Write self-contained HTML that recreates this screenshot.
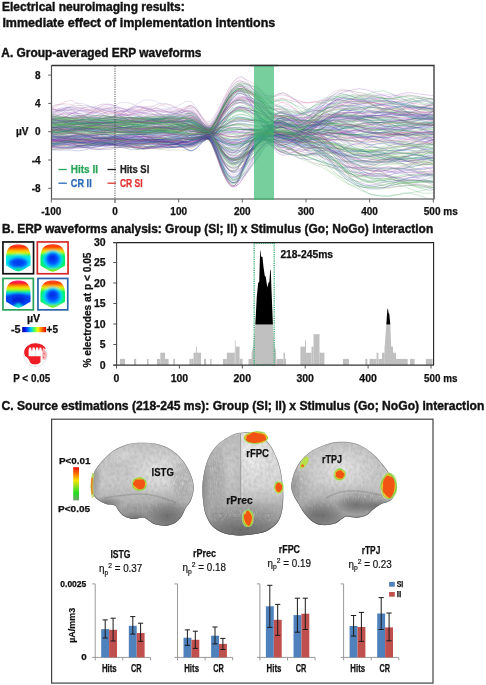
<!DOCTYPE html>
<html><head><meta charset="utf-8"><style>
html,body{margin:0;padding:0;background:#fff;}
svg{display:block;font-family:'Liberation Sans', Arial, sans-serif;filter:blur(0.3px);}
</style></head><body>
<svg width="486" height="685" viewBox="0 0 486 685">
<defs><filter id="tblur" x="-0.2" y="-0.2" width="1.4" height="1.4"><feGaussianBlur stdDeviation="1.1"/></filter><clipPath id="hc0"><path d="M6.1,265.6 C5.8,259.3 6.1,254.3 6.7,252.3 C8.1,246.3 13.3,244.3 18.3,244.3 C23.3,244.3 28.5,246.3 29.9,252.3 C30.5,254.3 30.8,259.3 30.5,265.6 C25.3,268.6 20.3,271.6 18.3,271.6 C16.3,271.6 11.3,268.6 6.1,265.6 Z"/></clipPath><clipPath id="hc1"><path d="M40.6,265.8 C40.3,259.1 40.6,254.1 41.2,252.1 C42.6,246.1 47.8,244.1 52.8,244.1 C57.8,244.1 63.0,246.1 64.4,252.1 C65.0,254.1 65.3,259.1 65.0,265.8 C59.8,268.8 54.8,271.8 52.8,271.8 C50.8,271.8 45.8,268.8 40.6,265.8 Z"/></clipPath><clipPath id="hc2"><path d="M6.1,301.8 C5.8,295.3 6.1,290.3 6.7,288.3 C8.1,282.3 13.3,280.3 18.3,280.3 C23.3,280.3 28.5,282.3 29.9,288.3 C30.5,290.3 30.8,295.3 30.5,301.8 C25.3,304.8 20.3,307.8 18.3,307.8 C16.3,307.8 11.3,304.8 6.1,301.8 Z"/></clipPath><clipPath id="hc3"><path d="M40.6,301.8 C40.3,295.3 40.6,290.3 41.2,288.3 C42.6,282.3 47.8,280.3 52.8,280.3 C57.8,280.3 63.0,282.3 64.4,288.3 C65.0,290.3 65.3,295.3 65.0,301.8 C59.8,304.8 54.8,307.8 52.8,307.8 C50.8,307.8 45.8,304.8 40.6,301.8 Z"/></clipPath><linearGradient id="cbar" x1="0" y1="0" x2="1" y2="0"><stop offset="0" stop-color="#00008a"/><stop offset="0.15" stop-color="#0020ff"/><stop offset="0.35" stop-color="#00c0ff"/><stop offset="0.5" stop-color="#40ff60"/><stop offset="0.65" stop-color="#f0ff00"/><stop offset="0.8" stop-color="#ff8000"/><stop offset="1" stop-color="#e00000"/></linearGradient><linearGradient id="bgL" x1="0" y1="0" x2="0" y2="1"><stop offset="0" stop-color="#c6c6c6"/><stop offset="0.5" stop-color="#cbcbcb"/><stop offset="0.72" stop-color="#b2b2b2"/><stop offset="1" stop-color="#8e8e8e"/></linearGradient><linearGradient id="bgM" x1="0" y1="0" x2="0" y2="1"><stop offset="0" stop-color="#c2c2c2"/><stop offset="0.6" stop-color="#bababa"/><stop offset="0.8" stop-color="#a6a6a6"/><stop offset="1" stop-color="#8c8c8c"/></linearGradient><linearGradient id="edgeG" x1="0" y1="0" x2="0" y2="1"><stop offset="0" stop-color="#9a9a9a"/><stop offset="0.6" stop-color="#808080"/><stop offset="1" stop-color="#505050"/></linearGradient><radialGradient id="bhi" cx="0.5" cy="0.5" r="0.5"><stop offset="0" stop-color="#fff" stop-opacity="0.55"/><stop offset="1" stop-color="#fff" stop-opacity="0"/></radialGradient><radialGradient id="bdk" cx="0.5" cy="0.5" r="0.5"><stop offset="0" stop-color="#404040" stop-opacity="0.6"/><stop offset="1" stop-color="#404040" stop-opacity="0"/></radialGradient><filter id="btex" x="0" y="0" width="1" height="1"><feTurbulence type="fractalNoise" baseFrequency="0.35 0.25" numOctaves="2" seed="3" result="n"/><feColorMatrix in="n" type="matrix" values="0 0 0 0 0.25  0 0 0 0 0.25  0 0 0 0 0.25  0 0 0 -1.6 1.05" result="a"/><feComposite in="a" in2="SourceGraphic" operator="in"/></filter><clipPath id="clipL"><path d="M90.9,487.5 C90.8,484.4 91.5,479.5 92.6,476.0 C93.7,472.5 95.5,469.4 97.5,466.5 C99.5,463.6 101.8,461.2 104.5,458.5 C107.2,455.8 109.5,452.9 113.5,450.5 C117.5,448.1 123.5,445.4 128.2,444.1 C132.9,442.8 137.1,442.8 141.5,442.7 C145.9,442.6 150.4,442.6 154.9,443.5 C159.4,444.4 164.3,446.0 168.3,448.1 C172.3,450.2 175.9,453.0 179.0,456.1 C182.1,459.2 184.8,463.0 187.0,466.8 C189.2,470.6 191.3,475.1 192.4,478.9 C193.5,482.7 193.9,486.0 193.7,489.6 C193.5,493.2 192.3,497.2 191.0,500.3 C189.7,503.4 187.2,505.6 185.7,508.3 C184.1,511.0 183.5,513.8 181.7,516.3 C179.9,518.8 177.7,521.4 175.0,523.0 C172.3,524.6 168.9,525.5 165.6,525.7 C162.2,525.9 157.8,525.2 154.9,524.3 C152.0,523.4 150.2,521.4 148.2,520.3 C146.2,519.2 145.3,517.8 142.9,517.6 C140.5,517.4 136.6,519.2 133.5,519.0 C130.4,518.8 126.5,517.6 124.1,516.3 C121.6,515.0 120.3,512.8 118.8,511.0 C117.2,509.2 116.8,506.7 114.8,505.6 C112.8,504.5 109.5,505.2 106.8,504.3 C104.1,503.4 100.9,501.9 98.7,500.3 C96.5,498.7 94.7,497.0 93.4,494.9 C92.1,492.8 91.0,490.6 90.9,487.5 Z"/></clipPath><clipPath id="clipM"><path d="M243.2,432.4 C245.7,432.2 248.3,431.8 251.1,432.4 C253.9,433.0 257.2,433.9 260.2,435.8 C263.2,437.7 266.6,440.4 269.2,443.8 C271.8,447.2 274.1,451.9 276.0,456.2 C277.9,460.5 279.4,464.9 280.5,469.8 C281.6,474.7 282.3,480.7 282.8,485.6 C283.3,490.5 283.5,494.7 283.3,499.2 C283.1,503.7 282.7,508.8 281.7,512.8 C280.7,516.8 279.6,520.0 277.1,523.0 C274.7,526.0 270.9,529.0 267.0,530.9 C263.1,532.8 258.1,533.5 253.4,534.3 C248.7,535.0 243.6,535.6 238.7,535.4 C233.8,535.2 228.3,534.7 224.0,533.2 C219.7,531.7 215.6,529.4 212.6,526.4 C209.6,523.4 207.4,519.1 205.8,515.0 C204.2,510.9 203.7,506.4 203.1,501.5 C202.5,496.6 202.1,490.9 202.4,485.6 C202.7,480.3 203.6,474.7 204.7,469.8 C205.8,464.9 207.1,460.4 209.2,456.2 C211.3,452.0 214.0,448.1 217.2,444.9 C220.4,441.7 225.4,438.9 228.5,437.0 C231.6,435.1 233.6,434.3 236.0,433.5 C238.4,432.7 240.7,432.6 243.2,432.4 Z"/></clipPath><clipPath id="clipR"><path d="M291.2,486.8 C291.2,483.3 292.2,478.5 293.6,474.4 C295.0,470.3 297.1,465.8 299.8,462.1 C302.5,458.4 306.0,454.9 309.7,452.2 C313.4,449.5 317.9,447.6 322.0,446.0 C326.1,444.4 329.9,442.9 334.4,442.3 C338.9,441.7 344.7,441.7 349.2,442.3 C353.7,442.9 357.4,443.9 361.5,446.0 C365.6,448.1 370.2,451.4 373.9,454.7 C377.6,458.0 380.9,462.1 383.8,465.8 C386.7,469.5 389.4,473.2 391.2,476.9 C393.0,480.6 394.5,484.7 394.9,488.0 C395.3,491.3 394.6,494.4 393.6,496.7 C392.6,499.0 390.8,500.4 388.7,501.6 C386.6,502.8 383.8,502.9 381.3,504.1 C378.8,505.3 376.4,507.1 373.9,509.0 C371.4,510.9 369.4,513.8 366.5,515.2 C363.6,516.7 359.9,517.5 356.6,517.7 C353.3,517.9 349.2,516.2 346.7,516.4 C344.2,516.6 343.9,517.7 341.8,518.9 C339.8,520.1 337.7,522.8 334.4,523.8 C331.1,524.8 325.7,525.5 322.0,525.1 C318.3,524.7 315.1,523.2 312.2,521.4 C309.3,519.5 307.1,516.9 304.8,514.0 C302.5,511.1 300.5,507.2 298.6,504.1 C296.7,501.0 294.8,498.3 293.6,495.4 C292.4,492.5 291.2,490.3 291.2,486.8 Z"/></clipPath><filter id="btex2" x="0" y="0" width="1" height="1"><feTurbulence type="turbulence" baseFrequency="0.5 0.22" numOctaves="2" seed="8" result="n"/><feColorMatrix in="n" type="matrix" values="0 0 0 0 0.2  0 0 0 0 0.2  0 0 0 0 0.2  0 0 0 -2.2 1.25" result="a"/><feComposite in="a" in2="SourceGraphic" operator="in"/></filter><radialGradient id="bdk2" cx="0.5" cy="0.5" r="0.5"><stop offset="0" stop-color="#fff" stop-opacity="1"/><stop offset="0.6" stop-color="#fff" stop-opacity="0.7"/><stop offset="1" stop-color="#fff" stop-opacity="0"/></radialGradient><mask id="mkL" maskUnits="userSpaceOnUse" x="80" y="430" width="130" height="110"><ellipse cx="168" cy="512" rx="24" ry="16" fill="url(#bdk2)"/><ellipse cx="140" cy="512" rx="26" ry="10" fill="url(#bdk2)" opacity="0.7"/><ellipse cx="182" cy="480" rx="14" ry="22" fill="url(#bdk2)" opacity="0.6"/></mask><mask id="mkR" maskUnits="userSpaceOnUse" x="280" y="430" width="130" height="110"><ellipse cx="320" cy="512" rx="24" ry="16" fill="url(#bdk2)"/><ellipse cx="362" cy="502" rx="28" ry="12" fill="url(#bdk2)"/><ellipse cx="300" cy="485" rx="12" ry="22" fill="url(#bdk2)" opacity="0.5"/></mask><mask id="mkM" maskUnits="userSpaceOnUse" x="195" y="425" width="95" height="115"><ellipse cx="242" cy="522" rx="44" ry="20" fill="url(#bdk2)"/><ellipse cx="215" cy="480" rx="14" ry="40" fill="url(#bdk2)" opacity="0.5"/></mask><linearGradient id="mhi" x1="0" y1="0" x2="0" y2="1"><stop offset="0" stop-color="#fff" stop-opacity="0.6"/><stop offset="0.7" stop-color="#fff" stop-opacity="0.45"/><stop offset="1" stop-color="#fff" stop-opacity="0"/></linearGradient><linearGradient id="pbar" x1="0" y1="0" x2="0" y2="1"><stop offset="0" stop-color="#f01010"/><stop offset="0.2" stop-color="#ff7000"/><stop offset="0.4" stop-color="#f4e400"/><stop offset="0.6" stop-color="#80e020"/><stop offset="0.78" stop-color="#20e020"/><stop offset="1" stop-color="#70a070"/></linearGradient></defs>
<rect width="486" height="685" fill="#fff"/>
<text x="2.0" y="10.8" font-size="12.4" font-weight="bold" fill="#111" text-anchor="start" textLength="182.7" lengthAdjust="spacingAndGlyphs" stroke="#111" stroke-width="0.4">Electrical neuroimaging results:</text>
<text x="2.4" y="27.1" font-size="12.4" font-weight="bold" fill="#111" text-anchor="start" textLength="272.9" lengthAdjust="spacingAndGlyphs" stroke="#111" stroke-width="0.4">Immediate effect of implementation intentions</text>
<text x="1.3" y="56.6" font-size="12.4" font-weight="bold" fill="#111" text-anchor="start" textLength="200.2" lengthAdjust="spacingAndGlyphs" stroke="#111" stroke-width="0.4">A. Group-averaged ERP waveforms</text>
<text x="2.0" y="232.8" font-size="12.4" font-weight="bold" fill="#111" text-anchor="start" textLength="431.2" lengthAdjust="spacingAndGlyphs" stroke="#111" stroke-width="0.4">B. ERP waveforms analysis: Group (SI; II) x Stimulus (Go; NoGo) interaction</text>
<text x="1.5" y="410.0" font-size="12.4" font-weight="bold" fill="#111" text-anchor="start" textLength="482.8" lengthAdjust="spacingAndGlyphs" stroke="#111" stroke-width="0.4">C. Source estimations (218-245 ms): Group (SI; II) x Stimulus (Go; NoGo) interaction</text>
<g transform="matrix(0.6366,0,0,-0.7070,115.0,131.7)" fill="none" stroke-width="0.5" stroke-opacity="0.45" vector-effect="non-scaling-stroke"><path vector-effect="non-scaling-stroke" d="M-100 6l4 1 4 1 4 2 4 1 4 1 4 1 4 1 4 0 4 1 4 0 4 1 4 1 4 0 4 1 4 0 4 0 4 0 4 1 4 0 4 0 4 0 4 0 4 0 4 0 4 -1 4 0 4 -1 4 -1 4 -1 4 -1 4 0 4 0 4 0 4 0 4 0 4 0 4 0 4 0 4 1 4 1 4 0 4 1 4 1 4 1 4 0 4 0 4 0 4 -1 4 -1 4 -2 4 -1 4 -2 4 -2 4 -2 4 -1 4 -1 4 -1 4 -1 4 -1 4 -1 4 -1 4 0 4 2 4 3 4 4 4 4 4 5 4 5 4 5 4 5 4 4 4 3 4 3 4 1 4 -1 4 -2 4 -2 4 -3 4 -4 4 -3 4 -4 4 -4 4 -4 4 -3 4 -3 4 -3 4 -1 4 -1 4 -1 4 -1 4 -2 4 -1 4 -2 4 -2 4 -2 4 -2 4 -2 4 -3 4 -2 4 -2 4 -2 4 -2 4 -1 4 -2 4 -2 4 -2 4 -2 4 -3 4 -2 4 -3 4 -3 4 -3 4 -3 4 -4 4 -3 4 -4 4 -3 4 -3 4 -2 4 -2 4 -1 4 -1 4 0 4 -1 4 0 4 0 4 0 4 0 4 0 4 0 4 0 4 1 4 0 4 1 4 1 4 0 4 0 4 -1 4 0 4 -1 4 -1 4 -1 4 -1 4 0 4 0 4 0 4 1 4 0 4 1 4 1" stroke="#1f9a48"/><path vector-effect="non-scaling-stroke" d="M-100 -23l4 0 4 0 4 0 4 0 4 0 4 0 4 1 4 0 4 0 4 1 4 0 4 1 4 1 4 0 4 2 4 1 4 0 4 1 4 0 4 0 4 -1 4 -1 4 0 4 -1 4 0 4 -1 4 0 4 0 4 -1 4 0 4 0 4 -1 4 0 4 0 4 -1 4 0 4 0 4 0 4 1 4 0 4 0 4 0 4 0 4 0 4 0 4 0 4 0 4 1 4 1 4 1 4 1 4 1 4 1 4 1 4 1 4 1 4 0 4 1 4 1 4 1 4 0 4 0 4 -3 4 -4 4 -4 4 -5 4 -4 4 -4 4 -4 4 -2 4 -2 4 0 4 1 4 2 4 3 4 4 4 4 4 4 4 4 4 3 4 2 4 2 4 1 4 0 4 0 4 0 4 -1 4 -1 4 -1 4 -1 4 0 4 0 4 0 4 0 4 0 4 0 4 0 4 0 4 1 4 0 4 1 4 1 4 1 4 0 4 1 4 1 4 1 4 0 4 1 4 0 4 1 4 0 4 1 4 0 4 1 4 0 4 1 4 1 4 1 4 1 4 1 4 1 4 1 4 1 4 1 4 0 4 0 4 -1 4 0 4 -1 4 -1 4 -1 4 -1 4 -1 4 -1 4 -1 4 -1 4 0 4 -1 4 1 4 0 4 0 4 1 4 1 4 1 4 0 4 1 4 0 4 -1 4 0" stroke="#c0408e"/><path vector-effect="non-scaling-stroke" d="M-100 17l4 0 4 0 4 1 4 1 4 1 4 1 4 1 4 0 4 1 4 0 4 0 4 -1 4 0 4 -1 4 -1 4 0 4 -1 4 0 4 -1 4 0 4 -1 4 0 4 0 4 0 4 0 4 0 4 1 4 0 4 1 4 1 4 0 4 0 4 1 4 0 4 0 4 -1 4 0 4 0 4 -1 4 0 4 0 4 0 4 0 4 0 4 0 4 1 4 -1 4 0 4 -1 4 -1 4 -1 4 0 4 -1 4 -1 4 0 4 -2 4 -2 4 -2 4 -2 4 -2 4 -1 4 0 4 0 4 1 4 0 4 1 4 1 4 1 4 1 4 1 4 1 4 0 4 1 4 0 4 0 4 0 4 -1 4 -1 4 0 4 -1 4 -1 4 -2 4 -2 4 -3 4 -3 4 -3 4 -4 4 -3 4 -2 4 -3 4 -2 4 -1 4 -2 4 -1 4 -2 4 -2 4 -2 4 -1 4 -2 4 -2 4 -1 4 -1 4 -2 4 -1 4 -2 4 -1 4 -2 4 -2 4 -2 4 -2 4 -1 4 -2 4 -1 4 -1 4 -1 4 -1 4 -1 4 -1 4 -1 4 0 4 -1 4 -1 4 0 4 -1 4 -2 4 -1 4 0 4 -1 4 0 4 -1 4 0 4 1 4 0 4 0 4 -1 4 0 4 -1 4 0 4 -1 4 -1 4 0 4 0 4 0 4 0 4 0 4 1 4 0 4 0 4 0 4 0" stroke="#1f9a48"/><path vector-effect="non-scaling-stroke" d="M-100 -2l4 0 4 0 4 0 4 0 4 0 4 0 4 0 4 -1 4 -1 4 0 4 -1 4 0 4 -1 4 0 4 0 4 0 4 -1 4 0 4 -1 4 -1 4 0 4 -1 4 0 4 0 4 0 4 1 4 0 4 1 4 1 4 1 4 0 4 0 4 0 4 0 4 0 4 -1 4 0 4 -1 4 0 4 0 4 1 4 0 4 1 4 0 4 1 4 0 4 0 4 0 4 -1 4 0 4 1 4 1 4 1 4 1 4 1 4 1 4 -1 4 -1 4 -1 4 -1 4 0 4 -1 4 0 4 1 4 0 4 1 4 1 4 1 4 1 4 0 4 1 4 -1 4 0 4 -1 4 0 4 -1 4 -1 4 -1 4 0 4 0 4 0 4 2 4 3 4 4 4 4 4 5 4 4 4 4 4 4 4 2 4 1 4 -1 4 -2 4 -2 4 -2 4 -2 4 -2 4 -2 4 -1 4 -1 4 -1 4 0 4 -1 4 0 4 0 4 -1 4 0 4 -1 4 -1 4 -2 4 -1 4 -2 4 -2 4 -2 4 -2 4 -1 4 -1 4 -1 4 0 4 0 4 0 4 0 4 0 4 1 4 0 4 1 4 0 4 0 4 1 4 0 4 1 4 0 4 0 4 0 4 -1 4 0 4 -2 4 -1 4 -1 4 -1 4 -1 4 -1 4 -1 4 0 4 -1 4 0 4 0 4 -1 4 0 4 1" stroke="#7a2fb8"/><path vector-effect="non-scaling-stroke" d="M-100 -19l4 0 4 1 4 1 4 1 4 1 4 0 4 1 4 0 4 0 4 0 4 0 4 -1 4 0 4 0 4 -1 4 0 4 -1 4 0 4 0 4 0 4 0 4 0 4 0 4 0 4 -1 4 0 4 -1 4 0 4 -1 4 -1 4 0 4 -1 4 -1 4 0 4 -1 4 0 4 0 4 0 4 0 4 1 4 0 4 1 4 1 4 0 4 1 4 1 4 1 4 0 4 1 4 1 4 1 4 0 4 0 4 0 4 0 4 1 4 1 4 1 4 1 4 2 4 0 4 2 4 4 4 5 4 5 4 7 4 6 4 6 4 6 4 6 4 4 4 4 4 2 4 1 4 0 4 -1 4 -2 4 -1 4 -2 4 -2 4 -3 4 -4 4 -4 4 -4 4 -5 4 -3 4 -3 4 -2 4 -2 4 -1 4 0 4 -1 4 0 4 -1 4 -1 4 -1 4 0 4 0 4 0 4 1 4 1 4 1 4 2 4 2 4 2 4 2 4 1 4 2 4 1 4 1 4 1 4 1 4 0 4 0 4 0 4 -1 4 0 4 -1 4 0 4 -1 4 0 4 0 4 0 4 1 4 0 4 1 4 0 4 0 4 0 4 0 4 0 4 -1 4 0 4 -1 4 0 4 -1 4 0 4 0 4 0 4 -1 4 0 4 0 4 0 4 -1 4 0 4 0 4 -1 4 -1 4 0 4 -1" stroke="#c0408e"/><path vector-effect="non-scaling-stroke" d="M-100 -17l4 -1 4 1 4 0 4 0 4 1 4 1 4 0 4 0 4 0 4 0 4 0 4 -1 4 0 4 0 4 1 4 0 4 1 4 0 4 1 4 0 4 0 4 -1 4 0 4 0 4 0 4 0 4 1 4 1 4 0 4 1 4 1 4 1 4 1 4 1 4 0 4 1 4 0 4 -1 4 -1 4 -2 4 -1 4 -2 4 -2 4 -1 4 -1 4 -1 4 0 4 0 4 1 4 1 4 1 4 1 4 2 4 1 4 1 4 1 4 1 4 1 4 0 4 1 4 0 4 -1 4 -4 4 -4 4 -5 4 -4 4 -5 4 -4 4 -3 4 -3 4 -1 4 0 4 1 4 3 4 4 4 4 4 5 4 5 4 4 4 3 4 3 4 1 4 0 4 -1 4 -2 4 -2 4 -2 4 -2 4 -2 4 -1 4 -2 4 -1 4 -2 4 -1 4 -2 4 -2 4 -1 4 -2 4 -1 4 -2 4 -1 4 -1 4 -1 4 -2 4 -1 4 -2 4 -1 4 -1 4 -1 4 -1 4 -1 4 0 4 -1 4 0 4 0 4 -1 4 0 4 -1 4 -2 4 -1 4 -2 4 -2 4 -2 4 -2 4 -1 4 -2 4 -1 4 0 4 0 4 0 4 0 4 0 4 1 4 1 4 1 4 0 4 1 4 1 4 0 4 0 4 0 4 0 4 0 4 0 4 0 4 0 4 1 4 0 4 1 4 0" stroke="#1f9a48"/><path vector-effect="non-scaling-stroke" d="M-100 20l4 -1 4 -1 4 0 4 0 4 1 4 0 4 0 4 1 4 1 4 0 4 1 4 1 4 0 4 1 4 1 4 1 4 1 4 1 4 0 4 1 4 1 4 1 4 1 4 1 4 1 4 0 4 0 4 -1 4 -1 4 -1 4 -1 4 0 4 -1 4 0 4 0 4 1 4 0 4 1 4 0 4 1 4 0 4 0 4 0 4 0 4 0 4 0 4 -1 4 0 4 -1 4 -1 4 -1 4 0 4 0 4 1 4 0 4 -2 4 -3 4 -4 4 -4 4 -5 4 -3 4 -3 4 -3 4 -4 4 -3 4 -3 4 -2 4 -2 4 -2 4 -1 4 0 4 1 4 2 4 2 4 3 4 3 4 3 4 2 4 1 4 0 4 0 4 1 4 0 4 1 4 1 4 2 4 1 4 2 4 1 4 2 4 1 4 1 4 1 4 1 4 2 4 2 4 2 4 2 4 2 4 2 4 2 4 3 4 2 4 2 4 3 4 2 4 2 4 1 4 1 4 0 4 0 4 0 4 -1 4 -1 4 -1 4 -1 4 -1 4 0 4 0 4 0 4 2 4 1 4 1 4 2 4 1 4 2 4 0 4 1 4 1 4 0 4 0 4 0 4 0 4 0 4 -1 4 -1 4 -2 4 -2 4 -2 4 -2 4 -2 4 -2 4 -2 4 -1 4 -1 4 -1 4 -1 4 0 4 0 4 1" stroke="#a070d0"/><path vector-effect="non-scaling-stroke" d="M-100 -17l4 1 4 0 4 1 4 0 4 0 4 0 4 0 4 0 4 -1 4 0 4 0 4 1 4 1 4 1 4 1 4 1 4 1 4 0 4 0 4 0 4 0 4 0 4 -1 4 0 4 -1 4 -1 4 -1 4 -1 4 -1 4 -1 4 -1 4 1 4 0 4 1 4 2 4 2 4 1 4 1 4 0 4 0 4 -2 4 -1 4 -1 4 -1 4 -1 4 0 4 0 4 0 4 0 4 0 4 1 4 0 4 1 4 1 4 1 4 2 4 1 4 1 4 1 4 0 4 1 4 -2 4 -3 4 -5 4 -5 4 -4 4 -5 4 -4 4 -3 4 -2 4 0 4 0 4 1 4 1 4 2 4 2 4 3 4 2 4 3 4 3 4 3 4 3 4 4 4 4 4 4 4 3 4 3 4 2 4 2 4 1 4 1 4 0 4 0 4 1 4 1 4 1 4 2 4 1 4 2 4 2 4 2 4 2 4 2 4 2 4 3 4 3 4 2 4 3 4 2 4 2 4 1 4 1 4 0 4 0 4 -1 4 -1 4 0 4 -1 4 0 4 0 4 1 4 0 4 -1 4 0 4 -1 4 -1 4 -1 4 -1 4 -2 4 -2 4 -2 4 -1 4 -2 4 -1 4 -1 4 -1 4 0 4 1 4 1 4 0 4 1 4 1 4 1 4 2 4 1 4 1 4 0 4 1 4 0 4 0" stroke="#c0408e"/><path vector-effect="non-scaling-stroke" d="M-100 -13l4 0 4 0 4 1 4 0 4 0 4 -1 4 0 4 -1 4 0 4 -1 4 0 4 1 4 0 4 2 4 1 4 1 4 1 4 0 4 0 4 1 4 0 4 -1 4 0 4 0 4 0 4 -1 4 -1 4 -1 4 -1 4 -1 4 -1 4 -1 4 -1 4 0 4 0 4 0 4 1 4 0 4 1 4 0 4 1 4 0 4 1 4 0 4 0 4 0 4 0 4 0 4 0 4 -1 4 0 4 -1 4 -2 4 -1 4 0 4 1 4 1 4 2 4 1 4 2 4 1 4 1 4 -1 4 0 4 -1 4 -1 4 -1 4 -1 4 0 4 -1 4 0 4 0 4 0 4 1 4 0 4 0 4 1 4 0 4 1 4 1 4 0 4 1 4 -1 4 0 4 -1 4 -1 4 -2 4 -1 4 -2 4 -1 4 -1 4 -1 4 -1 4 -1 4 -2 4 -1 4 -1 4 -1 4 -1 4 -1 4 0 4 -1 4 0 4 -1 4 0 4 -1 4 -1 4 0 4 -1 4 -1 4 -1 4 -1 4 -1 4 -1 4 -1 4 -2 4 -1 4 -1 4 -1 4 -2 4 -1 4 -2 4 -1 4 -1 4 -2 4 -1 4 0 4 0 4 0 4 0 4 1 4 1 4 1 4 1 4 0 4 1 4 1 4 0 4 0 4 0 4 1 4 0 4 1 4 0 4 1 4 1 4 0 4 0 4 -1 4 -1" stroke="#4a2fb0"/><path vector-effect="non-scaling-stroke" d="M-100 16l4 0 4 0 4 0 4 -1 4 0 4 0 4 -1 4 0 4 1 4 0 4 1 4 1 4 0 4 1 4 0 4 0 4 0 4 -1 4 -1 4 0 4 -1 4 -1 4 0 4 0 4 0 4 0 4 0 4 0 4 0 4 1 4 0 4 0 4 0 4 1 4 0 4 0 4 0 4 1 4 0 4 0 4 0 4 1 4 0 4 0 4 0 4 -1 4 0 4 -1 4 -1 4 -1 4 -1 4 0 4 1 4 0 4 1 4 -1 4 -1 4 -2 4 -2 4 -2 4 -1 4 -4 4 -7 4 -10 4 -10 4 -10 4 -9 4 -9 4 -7 4 -4 4 -3 4 0 4 3 4 4 4 6 4 7 4 7 4 8 4 7 4 6 4 5 4 5 4 4 4 3 4 3 4 1 4 1 4 1 4 0 4 0 4 -1 4 -1 4 -2 4 -2 4 -2 4 -3 4 -3 4 -2 4 -3 4 -2 4 -2 4 -2 4 -3 4 -2 4 -3 4 -3 4 -3 4 -3 4 -3 4 -3 4 -3 4 -2 4 -2 4 -2 4 -2 4 -1 4 -2 4 -2 4 -2 4 -2 4 -2 4 -2 4 -1 4 -1 4 -1 4 1 4 0 4 1 4 1 4 0 4 1 4 1 4 0 4 1 4 1 4 0 4 1 4 0 4 0 4 1 4 0 4 0 4 0 4 1 4 0 4 0 4 0 4 0 4 0 4 -1" stroke="#2aa050"/><path vector-effect="non-scaling-stroke" d="M-100 -23l4 0 4 0 4 0 4 0 4 0 4 1 4 0 4 1 4 0 4 1 4 1 4 1 4 0 4 0 4 0 4 0 4 0 4 0 4 0 4 0 4 0 4 0 4 0 4 -1 4 0 4 0 4 -1 4 0 4 -1 4 -1 4 0 4 -1 4 -1 4 -1 4 0 4 0 4 1 4 0 4 2 4 1 4 1 4 0 4 1 4 0 4 0 4 0 4 1 4 0 4 0 4 0 4 -1 4 0 4 -1 4 0 4 0 4 1 4 2 4 2 4 2 4 2 4 2 4 -2 4 -5 4 -8 4 -8 4 -8 4 -8 4 -7 4 -6 4 -4 4 -2 4 -1 4 1 4 2 4 3 4 3 4 4 4 4 4 5 4 5 4 5 4 5 4 5 4 4 4 4 4 3 4 1 4 2 4 0 4 0 4 1 4 0 4 0 4 0 4 0 4 0 4 1 4 1 4 1 4 1 4 1 4 1 4 2 4 1 4 0 4 1 4 0 4 0 4 0 4 -1 4 0 4 -1 4 0 4 -1 4 0 4 0 4 0 4 0 4 0 4 0 4 1 4 1 4 1 4 1 4 1 4 1 4 1 4 0 4 0 4 0 4 0 4 0 4 0 4 0 4 -1 4 0 4 0 4 0 4 -1 4 0 4 -1 4 -1 4 -2 4 -1 4 -1 4 -2 4 -1 4 -2 4 0 4 -1" stroke="#1f9a48"/><path vector-effect="non-scaling-stroke" d="M-100 0l4 0 4 0 4 -1 4 0 4 0 4 0 4 0 4 1 4 1 4 0 4 1 4 1 4 1 4 0 4 0 4 0 4 0 4 -1 4 0 4 -1 4 -1 4 0 4 -1 4 0 4 0 4 0 4 1 4 0 4 1 4 0 4 0 4 0 4 0 4 -1 4 -1 4 0 4 0 4 -1 4 0 4 0 4 0 4 0 4 0 4 0 4 1 4 0 4 1 4 0 4 0 4 0 4 -1 4 0 4 0 4 1 4 0 4 0 4 1 4 -1 4 0 4 -1 4 0 4 -2 4 -4 4 -6 4 -6 4 -6 4 -6 4 -5 4 -4 4 -3 4 -2 4 0 4 1 4 3 4 4 4 4 4 5 4 5 4 4 4 4 4 4 4 4 4 4 4 3 4 4 4 3 4 2 4 2 4 2 4 2 4 0 4 0 4 0 4 -1 4 -1 4 -2 4 -1 4 -2 4 -1 4 -2 4 -1 4 -1 4 -1 4 -1 4 -1 4 0 4 -1 4 -1 4 0 4 -1 4 0 4 -1 4 0 4 0 4 -1 4 0 4 0 4 0 4 0 4 0 4 -1 4 -1 4 -1 4 -1 4 -1 4 -1 4 -1 4 -1 4 -1 4 -1 4 -1 4 0 4 -1 4 0 4 -1 4 -1 4 0 4 0 4 0 4 0 4 1 4 1 4 2 4 1 4 1 4 1 4 1 4 0 4 -1 4 -1" stroke="#2b5fd0"/><path vector-effect="non-scaling-stroke" d="M-100 -15l4 1 4 0 4 0 4 0 4 0 4 0 4 0 4 0 4 0 4 -1 4 0 4 -1 4 0 4 0 4 0 4 -1 4 1 4 0 4 0 4 0 4 1 4 0 4 0 4 0 4 0 4 0 4 -1 4 -1 4 0 4 -1 4 0 4 -1 4 0 4 -1 4 0 4 0 4 -1 4 0 4 1 4 0 4 0 4 1 4 0 4 0 4 1 4 0 4 0 4 0 4 0 4 0 4 0 4 0 4 0 4 0 4 1 4 1 4 1 4 2 4 2 4 1 4 1 4 2 4 1 4 2 4 1 4 2 4 1 4 2 4 1 4 0 4 1 4 0 4 0 4 0 4 -1 4 0 4 0 4 0 4 0 4 0 4 0 4 0 4 1 4 1 4 2 4 2 4 1 4 2 4 1 4 0 4 0 4 0 4 -2 4 -1 4 -1 4 -2 4 -1 4 -1 4 -2 4 -1 4 -1 4 -1 4 -1 4 0 4 -1 4 -1 4 0 4 -1 4 -1 4 0 4 -1 4 -1 4 -1 4 -2 4 -2 4 -1 4 -2 4 -2 4 -2 4 -1 4 -1 4 -1 4 0 4 0 4 0 4 -1 4 1 4 0 4 -1 4 0 4 0 4 0 4 -1 4 0 4 -1 4 0 4 0 4 -1 4 0 4 1 4 0 4 1 4 1 4 0 4 1 4 1 4 0 4 1 4 0 4 0" stroke="#1f9a48"/><path vector-effect="non-scaling-stroke" d="M-100 20l4 -1 4 0 4 -1 4 -1 4 0 4 -1 4 -1 4 -1 4 0 4 -1 4 0 4 0 4 0 4 0 4 1 4 1 4 1 4 0 4 0 4 0 4 0 4 -1 4 0 4 0 4 0 4 0 4 0 4 1 4 0 4 0 4 0 4 0 4 1 4 0 4 0 4 0 4 1 4 0 4 0 4 0 4 0 4 0 4 0 4 0 4 0 4 0 4 0 4 0 4 -1 4 0 4 -1 4 0 4 -1 4 0 4 -1 4 -1 4 -2 4 -3 4 -2 4 -2 4 -2 4 -3 4 -6 4 -8 4 -8 4 -8 4 -8 4 -6 4 -6 4 -4 4 -1 4 0 4 3 4 6 4 7 4 8 4 8 4 7 4 6 4 5 4 3 4 2 4 1 4 1 4 0 4 -1 4 0 4 -1 4 0 4 -1 4 0 4 -1 4 -1 4 0 4 -1 4 -1 4 -1 4 -1 4 -1 4 0 4 -1 4 0 4 -1 4 -1 4 0 4 -1 4 -1 4 -2 4 -1 4 -2 4 -2 4 -2 4 -2 4 -1 4 -2 4 -1 4 0 4 0 4 0 4 0 4 1 4 0 4 1 4 0 4 0 4 -1 4 -1 4 0 4 -1 4 0 4 -1 4 0 4 0 4 1 4 0 4 0 4 0 4 -1 4 0 4 0 4 0 4 1 4 0 4 2 4 1 4 1 4 2 4 1 4 1 4 0" stroke="#2aa050"/><path vector-effect="non-scaling-stroke" d="M-100 28l4 0 4 1 4 2 4 1 4 1 4 1 4 0 4 -1 4 0 4 -1 4 -1 4 -1 4 -1 4 -1 4 0 4 -1 4 -1 4 -1 4 -1 4 -1 4 0 4 1 4 1 4 1 4 1 4 1 4 1 4 1 4 1 4 1 4 2 4 1 4 1 4 0 4 0 4 -1 4 -1 4 -2 4 -1 4 -2 4 -1 4 0 4 1 4 1 4 1 4 1 4 1 4 1 4 0 4 -1 4 -1 4 -2 4 -1 4 -2 4 -3 4 -3 4 -4 4 -4 4 -3 4 -2 4 -2 4 1 4 5 4 5 4 7 4 7 4 7 4 7 4 7 4 6 4 6 4 4 4 3 4 1 4 -1 4 -1 4 -3 4 -2 4 -4 4 -3 4 -4 4 -4 4 -4 4 -4 4 -3 4 -2 4 -1 4 0 4 0 4 0 4 0 4 0 4 -1 4 -1 4 -2 4 -2 4 -2 4 -1 4 0 4 0 4 1 4 1 4 1 4 2 4 1 4 1 4 1 4 0 4 1 4 0 4 0 4 0 4 0 4 0 4 0 4 0 4 0 4 1 4 0 4 0 4 1 4 0 4 0 4 1 4 0 4 0 4 -1 4 0 4 0 4 0 4 -1 4 0 4 0 4 -1 4 0 4 -1 4 0 4 0 4 -1 4 0 4 -1 4 0 4 0 4 0 4 0 4 1 4 1 4 1 4 2 4 1" stroke="#a070d0"/><path vector-effect="non-scaling-stroke" d="M-100 6l4 0 4 0 4 0 4 0 4 1 4 0 4 0 4 -1 4 0 4 -1 4 0 4 0 4 -1 4 0 4 0 4 0 4 1 4 0 4 0 4 0 4 0 4 0 4 0 4 0 4 -1 4 0 4 0 4 0 4 0 4 0 4 0 4 -1 4 0 4 0 4 0 4 1 4 0 4 0 4 1 4 0 4 1 4 0 4 0 4 1 4 0 4 1 4 0 4 0 4 0 4 0 4 0 4 1 4 0 4 1 4 0 4 -1 4 -1 4 -2 4 -3 4 -1 4 -2 4 0 4 3 4 4 4 4 4 5 4 6 4 5 4 5 4 4 4 4 4 3 4 2 4 0 4 0 4 -1 4 -1 4 -2 4 -1 4 -1 4 -2 4 -3 4 -3 4 -5 4 -4 4 -4 4 -4 4 -3 4 -2 4 -2 4 -1 4 -1 4 0 4 -1 4 -1 4 -1 4 -1 4 -1 4 -1 4 0 4 -1 4 0 4 0 4 0 4 0 4 -1 4 -1 4 0 4 -1 4 -1 4 0 4 -1 4 0 4 -1 4 0 4 -1 4 0 4 0 4 0 4 -1 4 0 4 0 4 0 4 0 4 0 4 0 4 0 4 0 4 0 4 0 4 1 4 1 4 0 4 1 4 0 4 -1 4 0 4 -1 4 -1 4 -1 4 -1 4 -1 4 -1 4 -1 4 0 4 0 4 1 4 1 4 1 4 1" stroke="#c0408e"/><path vector-effect="non-scaling-stroke" d="M-100 -6l4 0 4 -1 4 -1 4 -1 4 -1 4 -2 4 -1 4 -1 4 -1 4 0 4 0 4 0 4 0 4 0 4 0 4 0 4 0 4 0 4 0 4 0 4 0 4 1 4 0 4 0 4 1 4 0 4 -1 4 0 4 0 4 0 4 0 4 0 4 -1 4 0 4 1 4 0 4 0 4 1 4 1 4 0 4 1 4 0 4 0 4 -1 4 -1 4 -1 4 -1 4 0 4 0 4 0 4 1 4 1 4 1 4 2 4 1 4 1 4 0 4 0 4 0 4 -1 4 0 4 -2 4 -7 4 -8 4 -9 4 -9 4 -9 4 -7 4 -6 4 -4 4 -2 4 0 4 2 4 4 4 4 4 5 4 6 4 6 4 6 4 5 4 5 4 5 4 4 4 3 4 2 4 0 4 1 4 -1 4 0 4 -1 4 0 4 1 4 1 4 1 4 1 4 1 4 2 4 2 4 2 4 3 4 3 4 3 4 3 4 3 4 2 4 3 4 2 4 2 4 1 4 1 4 1 4 0 4 0 4 0 4 0 4 0 4 0 4 0 4 0 4 0 4 0 4 -1 4 1 4 0 4 1 4 1 4 2 4 2 4 2 4 2 4 1 4 1 4 1 4 0 4 0 4 -1 4 -1 4 -2 4 -2 4 -2 4 -2 4 -2 4 -1 4 -1 4 -1 4 0 4 0 4 1 4 1 4 1" stroke="#1a3a9a"/><path vector-effect="non-scaling-stroke" d="M-100 -11l4 0 4 0 4 0 4 -1 4 0 4 0 4 0 4 0 4 0 4 0 4 -1 4 0 4 0 4 -1 4 0 4 0 4 0 4 0 4 1 4 0 4 0 4 0 4 1 4 1 4 0 4 1 4 1 4 0 4 1 4 0 4 0 4 0 4 0 4 0 4 0 4 -1 4 0 4 -1 4 0 4 -1 4 -1 4 -1 4 0 4 -1 4 0 4 0 4 0 4 0 4 1 4 0 4 0 4 -1 4 0 4 -1 4 0 4 1 4 1 4 2 4 1 4 2 4 1 4 0 4 -1 4 -2 4 -3 4 -2 4 -3 4 -2 4 -3 4 -1 4 -2 4 0 4 1 4 2 4 3 4 4 4 3 4 3 4 2 4 2 4 1 4 0 4 -1 4 -1 4 -2 4 -3 4 -2 4 -2 4 -2 4 -1 4 0 4 1 4 1 4 2 4 3 4 2 4 3 4 3 4 3 4 4 4 3 4 3 4 3 4 3 4 3 4 3 4 3 4 2 4 3 4 2 4 2 4 2 4 1 4 1 4 0 4 0 4 0 4 0 4 0 4 1 4 0 4 1 4 1 4 1 4 1 4 0 4 -1 4 -1 4 -1 4 -2 4 -2 4 -2 4 -1 4 -2 4 -1 4 0 4 -1 4 0 4 0 4 0 4 0 4 0 4 0 4 0 4 0 4 0 4 -1 4 0 4 0 4 1" stroke="#7a2fb8"/><path vector-effect="non-scaling-stroke" d="M-100 -3l4 -1 4 -1 4 -2 4 -1 4 -1 4 -1 4 -1 4 0 4 0 4 0 4 1 4 0 4 1 4 1 4 1 4 1 4 1 4 0 4 1 4 0 4 0 4 0 4 -1 4 -1 4 0 4 -1 4 -1 4 0 4 0 4 0 4 1 4 0 4 1 4 0 4 0 4 0 4 0 4 0 4 1 4 0 4 1 4 1 4 0 4 0 4 0 4 0 4 0 4 0 4 1 4 1 4 2 4 1 4 0 4 1 4 0 4 -1 4 -1 4 -1 4 -1 4 -1 4 -1 4 1 4 3 4 6 4 7 4 7 4 8 4 8 4 7 4 6 4 6 4 4 4 2 4 2 4 -1 4 -1 4 -3 4 -2 4 -3 4 -3 4 -4 4 -3 4 -4 4 -3 4 -3 4 -1 4 -1 4 0 4 0 4 0 4 0 4 -2 4 -2 4 -2 4 -3 4 -2 4 -3 4 -3 4 -2 4 -3 4 -2 4 -2 4 -3 4 -2 4 -3 4 -2 4 -3 4 -3 4 -4 4 -3 4 -4 4 -3 4 -4 4 -3 4 -4 4 -3 4 -3 4 -3 4 -3 4 -3 4 -3 4 -2 4 -2 4 -2 4 -2 4 -1 4 0 4 0 4 -1 4 0 4 0 4 0 4 -1 4 0 4 -1 4 0 4 0 4 -1 4 0 4 1 4 0 4 0 4 1 4 1 4 0 4 1 4 1 4 0 4 1 4 0" stroke="#7a2fb8"/><path vector-effect="non-scaling-stroke" d="M-100 0l4 -1 4 0 4 0 4 0 4 1 4 0 4 1 4 0 4 1 4 1 4 0 4 0 4 0 4 0 4 -1 4 0 4 -1 4 -1 4 0 4 -1 4 0 4 0 4 1 4 0 4 1 4 1 4 0 4 0 4 0 4 0 4 -1 4 0 4 -1 4 -1 4 0 4 0 4 0 4 0 4 0 4 0 4 0 4 0 4 0 4 0 4 0 4 0 4 0 4 0 4 0 4 0 4 1 4 1 4 0 4 1 4 0 4 -1 4 0 4 -1 4 -1 4 -1 4 0 4 1 4 3 4 4 4 5 4 6 4 7 4 6 4 6 4 5 4 4 4 3 4 2 4 1 4 -1 4 -1 4 -2 4 -2 4 -3 4 -2 4 -3 4 -4 4 -4 4 -4 4 -4 4 -3 4 -2 4 -2 4 0 4 -1 4 -1 4 -1 4 -2 4 -1 4 -2 4 -2 4 -2 4 -1 4 -2 4 -2 4 -1 4 -2 4 -2 4 -2 4 -2 4 -3 4 -2 4 -3 4 -3 4 -3 4 -2 4 -3 4 -2 4 -2 4 -2 4 -2 4 -2 4 -2 4 -2 4 -2 4 -1 4 -2 4 -1 4 0 4 -1 4 0 4 0 4 -1 4 0 4 -1 4 -1 4 -1 4 0 4 -1 4 0 4 1 4 1 4 1 4 2 4 2 4 2 4 3 4 2 4 2 4 1 4 1 4 1 4 1 4 0 4 0" stroke="#7a2fb8"/><path vector-effect="non-scaling-stroke" d="M-100 2l4 0 4 -1 4 0 4 0 4 -1 4 0 4 -1 4 0 4 0 4 0 4 0 4 1 4 1 4 1 4 1 4 1 4 1 4 1 4 1 4 1 4 1 4 0 4 0 4 -1 4 0 4 -1 4 -1 4 -1 4 0 4 -1 4 0 4 0 4 0 4 1 4 0 4 0 4 0 4 1 4 0 4 -1 4 0 4 0 4 -1 4 0 4 -1 4 0 4 -1 4 -1 4 -1 4 -1 4 -1 4 0 4 0 4 -1 4 0 4 0 4 0 4 0 4 0 4 0 4 0 4 -1 4 -2 4 -2 4 -3 4 -2 4 -2 4 -2 4 -1 4 -1 4 0 4 0 4 1 4 1 4 1 4 1 4 2 4 1 4 1 4 2 4 1 4 1 4 2 4 3 4 2 4 2 4 2 4 2 4 1 4 2 4 0 4 0 4 -1 4 -1 4 -1 4 -2 4 -1 4 -2 4 -2 4 -1 4 -1 4 -2 4 -1 4 -1 4 -1 4 -1 4 -1 4 -2 4 -1 4 -2 4 -1 4 -2 4 -1 4 -2 4 -1 4 -1 4 -1 4 0 4 0 4 -1 4 0 4 0 4 -1 4 -1 4 -1 4 -1 4 -1 4 -1 4 -1 4 -1 4 0 4 -1 4 0 4 1 4 0 4 1 4 1 4 0 4 0 4 1 4 -1 4 0 4 -1 4 -1 4 -1 4 -1 4 -1 4 0 4 -1 4 0" stroke="#60b040"/><path vector-effect="non-scaling-stroke" d="M-100 -10l4 -1 4 0 4 -1 4 -1 4 0 4 0 4 0 4 1 4 0 4 0 4 1 4 0 4 0 4 0 4 -1 4 0 4 0 4 0 4 0 4 0 4 0 4 0 4 0 4 0 4 1 4 0 4 -1 4 0 4 0 4 0 4 0 4 0 4 0 4 0 4 0 4 0 4 0 4 0 4 0 4 0 4 0 4 0 4 0 4 0 4 0 4 0 4 0 4 0 4 0 4 -1 4 0 4 1 4 0 4 1 4 0 4 1 4 0 4 0 4 1 4 0 4 0 4 -2 4 -5 4 -5 4 -6 4 -6 4 -6 4 -5 4 -4 4 -2 4 -1 4 0 4 1 4 2 4 1 4 3 4 2 4 3 4 3 4 3 4 4 4 3 4 4 4 4 4 3 4 3 4 1 4 1 4 1 4 1 4 0 4 1 4 0 4 0 4 0 4 1 4 0 4 1 4 2 4 1 4 2 4 2 4 3 4 2 4 3 4 3 4 2 4 3 4 2 4 2 4 2 4 1 4 1 4 0 4 -1 4 -1 4 -1 4 -2 4 -1 4 -2 4 -1 4 0 4 0 4 0 4 1 4 1 4 0 4 1 4 0 4 1 4 0 4 0 4 0 4 -1 4 0 4 -1 4 -1 4 -1 4 -1 4 -1 4 -1 4 -1 4 0 4 -1 4 0 4 -1 4 -1 4 0 4 -1 4 0" stroke="#8a7a2a"/><path vector-effect="non-scaling-stroke" d="M-100 18l4 -1 4 -1 4 -1 4 0 4 0 4 0 4 0 4 0 4 1 4 0 4 0 4 1 4 0 4 0 4 1 4 0 4 -1 4 0 4 0 4 -1 4 0 4 0 4 0 4 0 4 1 4 0 4 1 4 1 4 0 4 0 4 0 4 0 4 0 4 0 4 0 4 0 4 0 4 -1 4 0 4 -1 4 -1 4 -1 4 -1 4 -1 4 0 4 0 4 0 4 0 4 0 4 1 4 0 4 1 4 0 4 0 4 0 4 -2 4 -1 4 -3 4 -2 4 -1 4 -1 4 0 4 1 4 1 4 2 4 2 4 1 4 2 4 2 4 1 4 1 4 0 4 1 4 0 4 0 4 -1 4 0 4 -1 4 -1 4 -1 4 0 4 -1 4 -1 4 -1 4 -1 4 -1 4 0 4 -1 4 0 4 0 4 1 4 0 4 0 4 0 4 0 4 0 4 0 4 0 4 -1 4 0 4 0 4 0 4 0 4 1 4 2 4 1 4 2 4 1 4 2 4 1 4 2 4 0 4 1 4 0 4 0 4 -1 4 -1 4 -1 4 0 4 -1 4 -1 4 0 4 0 4 1 4 2 4 2 4 2 4 2 4 1 4 1 4 1 4 -1 4 0 4 0 4 -1 4 0 4 0 4 0 4 0 4 0 4 0 4 0 4 -1 4 0 4 -1 4 -1 4 -1 4 -2 4 -1 4 -2" stroke="#1f9a48"/><path vector-effect="non-scaling-stroke" d="M-100 9l4 0 4 0 4 0 4 0 4 0 4 0 4 0 4 0 4 1 4 0 4 0 4 1 4 0 4 1 4 0 4 0 4 0 4 0 4 0 4 -1 4 0 4 0 4 0 4 1 4 1 4 0 4 1 4 1 4 0 4 0 4 -1 4 0 4 -1 4 -1 4 0 4 -1 4 0 4 0 4 1 4 1 4 0 4 1 4 -1 4 0 4 -2 4 -1 4 -2 4 -1 4 -1 4 0 4 -1 4 0 4 0 4 0 4 0 4 -1 4 0 4 -1 4 -1 4 0 4 -1 4 0 4 2 4 2 4 2 4 3 4 3 4 4 4 3 4 3 4 3 4 2 4 2 4 0 4 0 4 -1 4 -1 4 -2 4 -1 4 -2 4 -1 4 -3 4 -2 4 -2 4 -3 4 -2 4 -1 4 -2 4 -1 4 0 4 0 4 0 4 0 4 1 4 0 4 1 4 1 4 1 4 1 4 2 4 3 4 2 4 2 4 2 4 2 4 1 4 0 4 0 4 0 4 -1 4 0 4 -1 4 0 4 -1 4 0 4 0 4 0 4 0 4 0 4 0 4 0 4 0 4 -1 4 0 4 -1 4 -1 4 -1 4 0 4 -1 4 -1 4 0 4 -1 4 0 4 -1 4 0 4 1 4 0 4 1 4 0 4 1 4 0 4 0 4 0 4 0 4 0 4 1 4 0 4 0 4 0 4 1" stroke="#1f9a48"/><path vector-effect="non-scaling-stroke" d="M-100 17l4 0 4 -1 4 -1 4 0 4 0 4 0 4 0 4 1 4 0 4 1 4 0 4 0 4 0 4 1 4 0 4 0 4 0 4 0 4 1 4 0 4 1 4 0 4 0 4 1 4 0 4 0 4 0 4 0 4 0 4 -1 4 -1 4 -2 4 -1 4 -1 4 -1 4 -1 4 0 4 0 4 0 4 0 4 1 4 0 4 0 4 1 4 0 4 0 4 0 4 0 4 0 4 -1 4 0 4 0 4 1 4 0 4 0 4 -1 4 -2 4 -2 4 -2 4 -2 4 -1 4 -2 4 -4 4 -5 4 -5 4 -5 4 -6 4 -4 4 -4 4 -3 4 -2 4 -1 4 1 4 3 4 3 4 4 4 4 4 4 4 4 4 4 4 3 4 2 4 1 4 1 4 -1 4 0 4 -1 4 -1 4 -1 4 -1 4 -2 4 -1 4 0 4 -1 4 -1 4 -1 4 -1 4 -1 4 0 4 1 4 1 4 1 4 1 4 2 4 2 4 2 4 2 4 1 4 1 4 0 4 0 4 0 4 0 4 0 4 -1 4 0 4 0 4 1 4 0 4 0 4 1 4 0 4 0 4 0 4 -1 4 0 4 0 4 -1 4 0 4 0 4 -1 4 0 4 0 4 -1 4 0 4 0 4 -1 4 0 4 -1 4 -1 4 -1 4 -1 4 -1 4 -1 4 -1 4 -1 4 -1 4 0 4 -1 4 1" stroke="#7a2fb8"/><path vector-effect="non-scaling-stroke" d="M-100 6l4 0 4 0 4 0 4 0 4 0 4 1 4 0 4 0 4 0 4 0 4 1 4 1 4 0 4 1 4 1 4 0 4 0 4 0 4 -1 4 -1 4 -1 4 0 4 -1 4 0 4 0 4 -1 4 0 4 -1 4 0 4 -1 4 0 4 -1 4 -1 4 0 4 -1 4 0 4 0 4 0 4 0 4 0 4 1 4 0 4 1 4 0 4 1 4 0 4 0 4 1 4 -1 4 0 4 0 4 -1 4 -1 4 0 4 -1 4 -1 4 0 4 -1 4 0 4 0 4 -1 4 -2 4 -8 4 -9 4 -10 4 -10 4 -10 4 -9 4 -7 4 -5 4 -2 4 0 4 3 4 4 4 6 4 8 4 7 4 8 4 7 4 7 4 5 4 6 4 4 4 4 4 4 4 2 4 2 4 2 4 1 4 1 4 0 4 0 4 0 4 0 4 0 4 1 4 1 4 1 4 2 4 2 4 3 4 2 4 3 4 2 4 3 4 1 4 2 4 2 4 1 4 1 4 0 4 1 4 0 4 1 4 0 4 1 4 0 4 0 4 1 4 0 4 1 4 1 4 0 4 1 4 0 4 0 4 1 4 0 4 0 4 0 4 0 4 0 4 0 4 -2 4 -1 4 -2 4 -2 4 -3 4 -2 4 -3 4 -2 4 -1 4 -2 4 0 4 0 4 0 4 2 4 1 4 2 4 2" stroke="#2aa050"/><path vector-effect="non-scaling-stroke" d="M-100 -22l4 0 4 1 4 0 4 1 4 0 4 1 4 0 4 0 4 1 4 -1 4 0 4 0 4 0 4 1 4 0 4 1 4 0 4 1 4 0 4 0 4 0 4 0 4 0 4 0 4 0 4 -1 4 0 4 -1 4 -1 4 0 4 -1 4 -1 4 -1 4 -1 4 0 4 -1 4 0 4 0 4 0 4 1 4 0 4 0 4 0 4 1 4 0 4 -1 4 0 4 1 4 0 4 1 4 0 4 1 4 0 4 1 4 1 4 1 4 2 4 2 4 1 4 1 4 1 4 -2 4 -4 4 -6 4 -6 4 -7 4 -6 4 -5 4 -5 4 -3 4 -1 4 0 4 1 4 2 4 2 4 3 4 4 4 3 4 4 4 4 4 4 4 4 4 4 4 4 4 4 4 2 4 2 4 2 4 1 4 0 4 0 4 0 4 0 4 0 4 0 4 0 4 0 4 0 4 1 4 0 4 0 4 0 4 0 4 0 4 0 4 0 4 0 4 1 4 0 4 0 4 0 4 1 4 1 4 0 4 1 4 1 4 0 4 1 4 0 4 0 4 -1 4 0 4 -1 4 -1 4 0 4 -1 4 0 4 0 4 0 4 0 4 0 4 -1 4 0 4 -1 4 0 4 -1 4 0 4 0 4 0 4 0 4 0 4 1 4 0 4 0 4 1 4 0 4 1 4 0 4 0 4 0" stroke="#c0408e"/><path vector-effect="non-scaling-stroke" d="M-100 2l4 0 4 0 4 -1 4 0 4 0 4 1 4 1 4 0 4 1 4 0 4 0 4 -1 4 -1 4 -1 4 -1 4 -2 4 0 4 -1 4 0 4 0 4 0 4 1 4 0 4 0 4 1 4 0 4 0 4 1 4 0 4 0 4 0 4 0 4 1 4 0 4 0 4 1 4 0 4 0 4 0 4 0 4 -1 4 0 4 -1 4 0 4 -1 4 -1 4 0 4 -1 4 0 4 -1 4 0 4 0 4 0 4 1 4 0 4 0 4 0 4 0 4 0 4 0 4 0 4 2 4 5 4 6 4 7 4 8 4 8 4 8 4 7 4 7 4 5 4 5 4 3 4 1 4 0 4 -1 4 -2 4 -2 4 -3 4 -3 4 -3 4 -3 4 -3 4 -1 4 -1 4 1 4 1 4 2 4 2 4 1 4 1 4 -2 4 -2 4 -2 4 -2 4 -3 4 -3 4 -2 4 -3 4 -2 4 -2 4 -1 4 -1 4 0 4 -1 4 0 4 -1 4 -1 4 -2 4 -2 4 -3 4 -2 4 -2 4 -2 4 -1 4 0 4 1 4 1 4 1 4 1 4 1 4 1 4 0 4 1 4 0 4 0 4 0 4 0 4 0 4 0 4 1 4 0 4 -1 4 0 4 -1 4 -1 4 -2 4 -1 4 -2 4 -1 4 -2 4 -1 4 0 4 0 4 0 4 0 4 1 4 1 4 1 4 2" stroke="#505050"/><path vector-effect="non-scaling-stroke" d="M-100 0l4 0 4 0 4 0 4 0 4 0 4 -1 4 0 4 -1 4 -1 4 0 4 -1 4 0 4 -1 4 0 4 0 4 0 4 0 4 0 4 0 4 0 4 1 4 0 4 0 4 0 4 0 4 0 4 0 4 0 4 0 4 0 4 0 4 0 4 0 4 0 4 0 4 0 4 0 4 1 4 0 4 1 4 0 4 0 4 0 4 0 4 0 4 -1 4 0 4 -1 4 0 4 -1 4 -1 4 0 4 1 4 0 4 1 4 1 4 1 4 0 4 1 4 0 4 0 4 -3 4 -7 4 -10 4 -10 4 -11 4 -10 4 -9 4 -7 4 -5 4 -3 4 0 4 4 4 8 4 10 4 11 4 10 4 8 4 7 4 5 4 4 4 3 4 3 4 3 4 4 4 4 4 3 4 4 4 3 4 2 4 0 4 0 4 -2 4 -2 4 -2 4 -3 4 -3 4 -3 4 -4 4 -3 4 -2 4 -3 4 -2 4 -1 4 -2 4 -2 4 -1 4 -2 4 -3 4 -2 4 -4 4 -3 4 -4 4 -3 4 -4 4 -4 4 -4 4 -4 4 -3 4 -2 4 -2 4 -1 4 -1 4 1 4 0 4 2 4 2 4 2 4 2 4 1 4 1 4 0 4 0 4 -1 4 -2 4 -1 4 -1 4 -2 4 0 4 -1 4 0 4 0 4 0 4 0 4 1 4 0 4 1 4 0 4 1 4 0" stroke="#c0408e"/><path vector-effect="non-scaling-stroke" d="M-100 -6l4 0 4 1 4 1 4 0 4 1 4 0 4 0 4 0 4 1 4 1 4 0 4 1 4 1 4 1 4 1 4 0 4 1 4 0 4 -1 4 0 4 -1 4 -1 4 -1 4 -2 4 -1 4 -1 4 -1 4 -1 4 0 4 0 4 1 4 1 4 2 4 1 4 1 4 2 4 1 4 0 4 1 4 0 4 0 4 -1 4 0 4 -1 4 -1 4 -1 4 0 4 0 4 0 4 1 4 0 4 1 4 1 4 1 4 1 4 0 4 -1 4 0 4 -1 4 -1 4 0 4 -2 4 -4 4 -5 4 -5 4 -6 4 -5 4 -5 4 -4 4 -3 4 -2 4 0 4 0 4 1 4 2 4 3 4 3 4 3 4 3 4 3 4 3 4 3 4 2 4 2 4 1 4 0 4 -1 4 0 4 -1 4 0 4 0 4 0 4 0 4 0 4 -1 4 0 4 -1 4 -1 4 0 4 -1 4 -1 4 0 4 0 4 0 4 0 4 0 4 0 4 0 4 0 4 -1 4 -1 4 -1 4 -1 4 -1 4 -1 4 -1 4 0 4 -1 4 0 4 0 4 0 4 0 4 0 4 0 4 -1 4 0 4 0 4 0 4 -1 4 0 4 0 4 0 4 0 4 0 4 0 4 0 4 0 4 1 4 1 4 2 4 1 4 2 4 0 4 1 4 0 4 -1 4 -1 4 -1 4 -2 4 -1" stroke="#60b040"/><path vector-effect="non-scaling-stroke" d="M-100 13l4 0 4 0 4 1 4 1 4 1 4 2 4 1 4 1 4 1 4 0 4 0 4 0 4 -1 4 0 4 -1 4 -1 4 -1 4 0 4 -1 4 0 4 0 4 0 4 0 4 0 4 -1 4 0 4 -1 4 0 4 0 4 -1 4 0 4 0 4 0 4 0 4 0 4 -1 4 0 4 0 4 0 4 0 4 0 4 0 4 0 4 0 4 0 4 0 4 1 4 0 4 1 4 2 4 2 4 3 4 3 4 2 4 1 4 -2 4 -3 4 -5 4 -6 4 -4 4 -4 4 -1 4 -1 4 0 4 1 4 1 4 1 4 2 4 1 4 1 4 1 4 0 4 1 4 0 4 0 4 0 4 -1 4 0 4 0 4 -1 4 0 4 -1 4 -1 4 -1 4 -2 4 -1 4 -1 4 -2 4 -1 4 -1 4 -2 4 -1 4 -1 4 -2 4 -2 4 -2 4 -2 4 -1 4 -2 4 -1 4 -2 4 0 4 -1 4 0 4 -1 4 0 4 -1 4 -1 4 0 4 -1 4 -1 4 -2 4 -2 4 -1 4 -3 4 -2 4 -2 4 -3 4 -2 4 -2 4 -2 4 -2 4 -1 4 -1 4 -1 4 -1 4 0 4 0 4 1 4 0 4 0 4 1 4 0 4 0 4 0 4 0 4 0 4 0 4 1 4 0 4 1 4 0 4 1 4 1 4 1 4 1 4 0 4 0 4 0 4 0" stroke="#2aa050"/><path vector-effect="non-scaling-stroke" d="M-100 10l4 0 4 0 4 0 4 0 4 0 4 1 4 0 4 1 4 0 4 0 4 0 4 0 4 -1 4 0 4 0 4 0 4 0 4 0 4 0 4 1 4 0 4 0 4 1 4 0 4 0 4 0 4 0 4 0 4 0 4 0 4 0 4 0 4 0 4 0 4 0 4 0 4 -1 4 0 4 -1 4 0 4 -1 4 0 4 1 4 0 4 0 4 1 4 0 4 0 4 -1 4 0 4 1 4 1 4 2 4 1 4 0 4 0 4 -3 4 -3 4 -3 4 -3 4 -3 4 0 4 2 4 5 4 5 4 6 4 6 4 6 4 6 4 5 4 5 4 4 4 3 4 2 4 0 4 0 4 -1 4 -1 4 -1 4 -2 4 -2 4 -3 4 -4 4 -5 4 -4 4 -3 4 -4 4 -2 4 -2 4 -1 4 0 4 0 4 1 4 0 4 0 4 1 4 1 4 1 4 2 4 2 4 2 4 3 4 3 4 3 4 3 4 2 4 2 4 1 4 1 4 1 4 0 4 0 4 -1 4 0 4 -1 4 -1 4 0 4 -1 4 0 4 -1 4 0 4 1 4 0 4 1 4 1 4 0 4 0 4 0 4 0 4 -1 4 -2 4 -1 4 -2 4 -1 4 -1 4 -1 4 0 4 0 4 0 4 1 4 1 4 1 4 1 4 0 4 1 4 1 4 0 4 1 4 0 4 0" stroke="#2aa050"/><path vector-effect="non-scaling-stroke" d="M-100 21l4 0 4 0 4 0 4 0 4 0 4 -1 4 0 4 -1 4 -1 4 -1 4 -1 4 -1 4 -1 4 -1 4 0 4 0 4 0 4 1 4 0 4 0 4 0 4 0 4 0 4 0 4 1 4 0 4 0 4 0 4 1 4 0 4 -1 4 0 4 -1 4 -1 4 0 4 -1 4 0 4 0 4 0 4 0 4 0 4 1 4 0 4 1 4 1 4 1 4 1 4 1 4 0 4 1 4 0 4 0 4 0 4 -1 4 -1 4 -1 4 -2 4 -3 4 -2 4 -2 4 -1 4 -1 4 0 4 0 4 1 4 0 4 0 4 -1 4 0 4 0 4 -1 4 0 4 -1 4 0 4 0 4 0 4 0 4 0 4 0 4 0 4 1 4 0 4 2 4 1 4 2 4 1 4 2 4 1 4 1 4 1 4 -1 4 -2 4 -2 4 -3 4 -3 4 -3 4 -3 4 -3 4 -3 4 -3 4 -2 4 -3 4 -2 4 -3 4 -2 4 -4 4 -3 4 -4 4 -4 4 -5 4 -4 4 -5 4 -4 4 -4 4 -4 4 -4 4 -2 4 -3 4 -2 4 -1 4 -1 4 -1 4 -1 4 0 4 0 4 0 4 1 4 1 4 1 4 0 4 1 4 1 4 1 4 1 4 0 4 1 4 0 4 -1 4 0 4 -1 4 -2 4 -1 4 -1 4 -2 4 -1 4 -1 4 -1 4 -1 4 0 4 1" stroke="#1f9a48"/><path vector-effect="non-scaling-stroke" d="M-100 19l4 -1 4 -1 4 -1 4 -1 4 0 4 -1 4 0 4 0 4 0 4 0 4 0 4 0 4 1 4 0 4 1 4 0 4 1 4 0 4 1 4 0 4 1 4 1 4 0 4 0 4 1 4 0 4 0 4 0 4 0 4 0 4 -1 4 0 4 0 4 -1 4 0 4 0 4 1 4 0 4 1 4 0 4 0 4 1 4 0 4 0 4 0 4 0 4 0 4 0 4 0 4 -1 4 -1 4 -1 4 -1 4 -2 4 -2 4 -2 4 -2 4 -3 4 -2 4 -1 4 -2 4 -1 4 -2 4 -3 4 -3 4 -2 4 -3 4 -2 4 -2 4 -1 4 -1 4 0 4 1 4 2 4 2 4 2 4 2 4 2 4 2 4 2 4 1 4 0 4 -1 4 -3 4 -3 4 -3 4 -4 4 -4 4 -3 4 -3 4 -3 4 -1 4 -1 4 -1 4 0 4 -1 4 -1 4 0 4 0 4 0 4 0 4 1 4 0 4 0 4 0 4 -1 4 -1 4 -1 4 -1 4 -2 4 -1 4 -1 4 -1 4 -1 4 0 4 1 4 0 4 0 4 1 4 0 4 0 4 0 4 0 4 -1 4 0 4 -1 4 0 4 0 4 0 4 1 4 0 4 0 4 0 4 1 4 1 4 1 4 1 4 2 4 1 4 1 4 1 4 1 4 0 4 -1 4 -1 4 -1 4 -2 4 -1 4 -2 4 -1" stroke="#1f9a48"/><path vector-effect="non-scaling-stroke" d="M-100 -13l4 0 4 0 4 0 4 -1 4 0 4 -1 4 -1 4 0 4 0 4 0 4 0 4 0 4 1 4 0 4 1 4 0 4 0 4 1 4 0 4 0 4 1 4 0 4 0 4 1 4 0 4 1 4 0 4 0 4 0 4 0 4 -1 4 0 4 -1 4 0 4 0 4 0 4 0 4 0 4 0 4 1 4 0 4 0 4 0 4 0 4 1 4 0 4 1 4 1 4 1 4 1 4 2 4 1 4 2 4 1 4 0 4 1 4 -1 4 -1 4 0 4 -1 4 -1 4 0 4 -1 4 1 4 0 4 1 4 0 4 0 4 1 4 0 4 0 4 0 4 0 4 0 4 0 4 0 4 0 4 -1 4 0 4 0 4 -1 4 0 4 -1 4 -1 4 -1 4 -1 4 -1 4 -1 4 -1 4 0 4 -1 4 1 4 0 4 1 4 2 4 1 4 2 4 2 4 3 4 2 4 2 4 2 4 2 4 1 4 2 4 1 4 2 4 1 4 2 4 2 4 3 4 2 4 2 4 2 4 1 4 0 4 0 4 0 4 0 4 -1 4 -1 4 -2 4 -1 4 -2 4 -1 4 -2 4 -1 4 -2 4 -1 4 -1 4 0 4 -1 4 0 4 1 4 0 4 1 4 1 4 1 4 1 4 1 4 1 4 0 4 1 4 1 4 1 4 0 4 0 4 0 4 0 4 -1" stroke="#6a30c0"/><path vector-effect="non-scaling-stroke" d="M-100 6l4 0 4 0 4 0 4 -1 4 0 4 0 4 0 4 0 4 0 4 0 4 0 4 0 4 0 4 0 4 0 4 0 4 0 4 0 4 0 4 0 4 -1 4 0 4 0 4 0 4 0 4 1 4 0 4 1 4 0 4 0 4 0 4 -1 4 -1 4 -1 4 -1 4 -2 4 0 4 -1 4 0 4 0 4 0 4 0 4 0 4 1 4 1 4 1 4 1 4 1 4 1 4 0 4 0 4 0 4 -1 4 0 4 0 4 -1 4 -1 4 0 4 -1 4 -1 4 -1 4 0 4 1 4 2 4 1 4 2 4 2 4 2 4 2 4 2 4 1 4 1 4 0 4 0 4 0 4 -1 4 0 4 -1 4 0 4 0 4 -1 4 0 4 -2 4 -2 4 -2 4 -2 4 -2 4 -2 4 -2 4 -2 4 -1 4 -1 4 -1 4 -1 4 -2 4 -1 4 -1 4 0 4 0 4 0 4 0 4 1 4 0 4 1 4 1 4 1 4 1 4 1 4 1 4 2 4 2 4 2 4 2 4 1 4 1 4 1 4 0 4 0 4 0 4 0 4 -1 4 0 4 -1 4 0 4 -1 4 0 4 -1 4 0 4 0 4 1 4 0 4 1 4 1 4 1 4 1 4 0 4 1 4 0 4 0 4 0 4 -1 4 0 4 -1 4 -1 4 -2 4 -1 4 -1 4 -1 4 0 4 -1" stroke="#2aa050"/><path vector-effect="non-scaling-stroke" d="M-100 -7l4 0 4 0 4 0 4 0 4 0 4 0 4 0 4 0 4 0 4 1 4 0 4 0 4 0 4 -1 4 0 4 -1 4 -1 4 0 4 0 4 0 4 0 4 0 4 1 4 0 4 0 4 1 4 0 4 -1 4 0 4 0 4 0 4 0 4 1 4 0 4 0 4 0 4 0 4 0 4 0 4 1 4 1 4 0 4 0 4 0 4 0 4 0 4 -1 4 0 4 -1 4 -1 4 -1 4 -1 4 0 4 -1 4 0 4 0 4 0 4 1 4 1 4 1 4 1 4 1 4 3 4 5 4 5 4 5 4 6 4 5 4 6 4 4 4 4 4 3 4 3 4 1 4 -1 4 0 4 -2 4 -2 4 -1 4 -3 4 -2 4 -3 4 -2 4 -2 4 -1 4 -1 4 0 4 0 4 1 4 1 4 0 4 0 4 -1 4 -2 4 -1 4 -1 4 -2 4 -1 4 -1 4 -1 4 0 4 -1 4 0 4 0 4 0 4 -1 4 0 4 -1 4 0 4 -1 4 -1 4 -2 4 -1 4 -2 4 -2 4 -1 4 -2 4 0 4 -1 4 0 4 1 4 1 4 1 4 1 4 1 4 0 4 0 4 0 4 0 4 -1 4 -1 4 -1 4 -1 4 0 4 0 4 0 4 0 4 0 4 0 4 1 4 0 4 -1 4 0 4 -2 4 -1 4 -2 4 -2 4 -1 4 -2 4 -2" stroke="#6a30c0"/><path vector-effect="non-scaling-stroke" d="M-100 -22l4 1 4 0 4 1 4 0 4 1 4 0 4 1 4 1 4 0 4 0 4 0 4 0 4 0 4 0 4 0 4 -1 4 0 4 -1 4 0 4 0 4 0 4 0 4 0 4 0 4 -1 4 0 4 0 4 0 4 -1 4 0 4 0 4 -1 4 0 4 -1 4 0 4 0 4 1 4 0 4 2 4 1 4 0 4 1 4 0 4 0 4 -1 4 0 4 -1 4 -1 4 0 4 0 4 -1 4 0 4 0 4 0 4 1 4 1 4 2 4 3 4 2 4 2 4 1 4 2 4 4 4 6 4 7 4 7 4 7 4 8 4 6 4 7 4 5 4 4 4 3 4 2 4 -1 4 -1 4 -1 4 -2 4 -2 4 -3 4 -2 4 -3 4 -3 4 -3 4 -2 4 -2 4 -1 4 0 4 0 4 -1 4 -1 4 -2 4 -2 4 -3 4 -2 4 -4 4 -3 4 -3 4 -3 4 -2 4 -3 4 -2 4 -2 4 -2 4 -2 4 -2 4 -3 4 -2 4 -2 4 -3 4 -2 4 -2 4 -2 4 -2 4 -2 4 -1 4 -2 4 -1 4 -1 4 -1 4 -1 4 -1 4 -1 4 -1 4 -1 4 -1 4 -1 4 -1 4 -1 4 -1 4 -1 4 0 4 0 4 -1 4 0 4 0 4 0 4 0 4 -1 4 0 4 0 4 0 4 0 4 0 4 0 4 0 4 0 4 0 4 1 4 0" stroke="#8a7a2a"/><path vector-effect="non-scaling-stroke" d="M-100 12l4 1 4 0 4 0 4 0 4 0 4 -1 4 -1 4 0 4 -1 4 0 4 0 4 1 4 0 4 0 4 0 4 -1 4 0 4 0 4 0 4 0 4 1 4 0 4 1 4 1 4 0 4 0 4 0 4 -1 4 -1 4 -1 4 0 4 -1 4 -1 4 0 4 0 4 0 4 0 4 1 4 1 4 1 4 0 4 1 4 1 4 0 4 1 4 0 4 0 4 0 4 -1 4 0 4 -1 4 -1 4 -1 4 -2 4 -1 4 -1 4 -1 4 -1 4 -1 4 -1 4 -1 4 1 4 4 4 5 4 6 4 7 4 7 4 6 4 6 4 6 4 4 4 4 4 2 4 0 4 0 4 -1 4 -1 4 -2 4 -2 4 -2 4 -2 4 -4 4 -4 4 -5 4 -4 4 -4 4 -4 4 -3 4 -1 4 -1 4 -1 4 0 4 1 4 0 4 0 4 0 4 1 4 0 4 1 4 1 4 1 4 1 4 2 4 1 4 2 4 1 4 1 4 2 4 1 4 1 4 2 4 1 4 2 4 2 4 1 4 2 4 1 4 1 4 1 4 1 4 0 4 1 4 1 4 0 4 1 4 0 4 0 4 -1 4 -1 4 -1 4 -2 4 -3 4 -3 4 -3 4 -3 4 -2 4 -2 4 -2 4 -1 4 0 4 0 4 1 4 1 4 1 4 1 4 2 4 1 4 1 4 1 4 1" stroke="#2aa050"/><path vector-effect="non-scaling-stroke" d="M-100 5l4 0 4 1 4 1 4 0 4 1 4 1 4 0 4 0 4 0 4 -1 4 0 4 0 4 0 4 0 4 0 4 0 4 0 4 0 4 0 4 0 4 0 4 0 4 0 4 0 4 0 4 -1 4 0 4 -1 4 0 4 0 4 0 4 1 4 0 4 1 4 1 4 0 4 0 4 -1 4 0 4 -1 4 -1 4 0 4 -1 4 1 4 0 4 1 4 1 4 1 4 2 4 1 4 1 4 1 4 1 4 1 4 0 4 0 4 -2 4 -2 4 -3 4 -2 4 -2 4 -1 4 1 4 3 4 2 4 3 4 3 4 3 4 3 4 3 4 2 4 2 4 1 4 1 4 0 4 -1 4 0 4 0 4 0 4 -1 4 -1 4 -2 4 -4 4 -4 4 -5 4 -5 4 -5 4 -5 4 -3 4 -3 4 -1 4 0 4 1 4 1 4 2 4 1 4 2 4 3 4 2 4 3 4 3 4 3 4 4 4 2 4 3 4 3 4 2 4 2 4 2 4 1 4 2 4 1 4 1 4 1 4 1 4 0 4 1 4 1 4 1 4 0 4 1 4 1 4 -1 4 0 4 -1 4 -2 4 -2 4 -2 4 -3 4 -2 4 -2 4 -1 4 0 4 0 4 1 4 1 4 1 4 2 4 2 4 1 4 1 4 1 4 0 4 0 4 -1 4 0 4 -1 4 -1 4 0 4 -1" stroke="#60b040"/><path vector-effect="non-scaling-stroke" d="M-100 1l4 -1 4 0 4 1 4 0 4 0 4 1 4 0 4 1 4 0 4 0 4 1 4 0 4 1 4 0 4 0 4 0 4 0 4 0 4 -1 4 0 4 -1 4 -1 4 -1 4 0 4 -1 4 0 4 -1 4 0 4 0 4 0 4 0 4 0 4 1 4 0 4 0 4 1 4 0 4 1 4 0 4 1 4 0 4 0 4 1 4 0 4 0 4 0 4 0 4 0 4 1 4 0 4 1 4 1 4 0 4 1 4 0 4 -1 4 -1 4 -2 4 -2 4 -2 4 -1 4 -3 4 -6 4 -7 4 -8 4 -8 4 -7 4 -7 4 -5 4 -3 4 -2 4 0 4 1 4 2 4 3 4 3 4 3 4 4 4 4 4 4 4 4 4 5 4 4 4 3 4 3 4 2 4 2 4 0 4 0 4 0 4 0 4 -1 4 -1 4 -1 4 -1 4 -1 4 -1 4 -1 4 -1 4 -1 4 -1 4 -1 4 -1 4 -2 4 -1 4 -2 4 -2 4 -2 4 -2 4 -2 4 -1 4 -2 4 -2 4 -1 4 -1 4 0 4 -1 4 0 4 1 4 0 4 0 4 1 4 0 4 0 4 -1 4 0 4 0 4 0 4 0 4 0 4 0 4 0 4 0 4 0 4 0 4 -1 4 -1 4 -1 4 -1 4 -2 4 -2 4 -1 4 -1 4 -1 4 0 4 0 4 0 4 1 4 0 4 1" stroke="#2a8f8f"/><path vector-effect="non-scaling-stroke" d="M-100 -3l4 0 4 0 4 0 4 0 4 0 4 0 4 1 4 1 4 1 4 0 4 1 4 0 4 0 4 0 4 0 4 0 4 0 4 0 4 0 4 -1 4 -1 4 0 4 -1 4 -1 4 0 4 0 4 1 4 0 4 1 4 0 4 0 4 0 4 0 4 -1 4 0 4 0 4 -1 4 0 4 -1 4 0 4 1 4 1 4 1 4 1 4 1 4 2 4 1 4 0 4 0 4 -1 4 -2 4 -2 4 -2 4 -2 4 -2 4 -1 4 0 4 0 4 1 4 1 4 0 4 -1 4 -3 4 -4 4 -5 4 -4 4 -5 4 -4 4 -3 4 -2 4 -1 4 0 4 1 4 1 4 2 4 3 4 2 4 3 4 3 4 3 4 3 4 4 4 4 4 4 4 4 4 3 4 3 4 2 4 2 4 2 4 0 4 0 4 0 4 0 4 -1 4 -1 4 0 4 -1 4 -1 4 0 4 0 4 0 4 0 4 1 4 2 4 1 4 2 4 2 4 2 4 2 4 1 4 2 4 1 4 1 4 1 4 0 4 0 4 -1 4 0 4 -1 4 0 4 -1 4 0 4 0 4 0 4 0 4 1 4 0 4 0 4 1 4 0 4 1 4 1 4 1 4 1 4 1 4 0 4 0 4 0 4 -1 4 0 4 -1 4 -1 4 -1 4 0 4 -1 4 0 4 0 4 0 4 0" stroke="#2a8f8f"/><path vector-effect="non-scaling-stroke" d="M-100 -11l4 0 4 1 4 0 4 0 4 0 4 1 4 0 4 0 4 0 4 0 4 0 4 0 4 -1 4 -1 4 -1 4 0 4 -1 4 0 4 0 4 0 4 0 4 1 4 0 4 1 4 1 4 0 4 1 4 0 4 0 4 0 4 -1 4 0 4 -1 4 -1 4 0 4 0 4 -1 4 1 4 0 4 0 4 0 4 1 4 -1 4 0 4 0 4 -1 4 0 4 0 4 0 4 0 4 1 4 0 4 1 4 0 4 1 4 0 4 1 4 0 4 1 4 0 4 1 4 -1 4 -1 4 -1 4 -2 4 -1 4 -2 4 -1 4 -1 4 0 4 -1 4 0 4 0 4 1 4 0 4 0 4 1 4 1 4 1 4 1 4 1 4 1 4 2 4 1 4 0 4 1 4 0 4 0 4 0 4 0 4 0 4 0 4 1 4 1 4 1 4 1 4 2 4 2 4 2 4 2 4 2 4 2 4 2 4 2 4 1 4 1 4 1 4 1 4 0 4 2 4 1 4 2 4 2 4 1 4 2 4 1 4 1 4 2 4 1 4 0 4 1 4 1 4 1 4 1 4 0 4 1 4 0 4 1 4 0 4 0 4 0 4 -1 4 0 4 -1 4 0 4 -1 4 0 4 0 4 0 4 0 4 0 4 0 4 -1 4 0 4 0 4 0 4 0 4 -1 4 0 4 -1" stroke="#1a3a9a"/><path vector-effect="non-scaling-stroke" d="M-100 5l4 0 4 0 4 0 4 0 4 1 4 0 4 0 4 0 4 0 4 0 4 0 4 0 4 0 4 -1 4 0 4 -1 4 -1 4 -1 4 0 4 -1 4 0 4 1 4 0 4 1 4 0 4 1 4 0 4 1 4 0 4 0 4 0 4 0 4 0 4 0 4 0 4 -1 4 0 4 -1 4 -1 4 -1 4 0 4 0 4 0 4 1 4 1 4 1 4 1 4 1 4 0 4 1 4 -1 4 0 4 -1 4 -1 4 -1 4 -1 4 -2 4 -1 4 -1 4 0 4 -1 4 0 4 -2 4 -1 4 -2 4 -3 4 -2 4 -1 4 -2 4 -1 4 -1 4 0 4 1 4 1 4 1 4 2 4 2 4 2 4 1 4 2 4 1 4 0 4 0 4 -1 4 -1 4 -1 4 -2 4 -1 4 -2 4 -1 4 0 4 -1 4 0 4 0 4 0 4 1 4 0 4 1 4 1 4 1 4 2 4 3 4 2 4 3 4 3 4 2 4 2 4 2 4 1 4 1 4 1 4 0 4 1 4 1 4 1 4 1 4 1 4 1 4 0 4 1 4 1 4 0 4 1 4 0 4 0 4 0 4 0 4 -1 4 0 4 -1 4 0 4 -1 4 -1 4 -1 4 -1 4 -1 4 -1 4 -1 4 -1 4 -1 4 -1 4 0 4 0 4 1 4 1 4 1 4 0 4 1 4 1 4 0" stroke="#2a8f8f"/><path vector-effect="non-scaling-stroke" d="M-100 14l4 0 4 0 4 0 4 -1 4 0 4 0 4 -1 4 0 4 -1 4 0 4 0 4 0 4 1 4 0 4 1 4 0 4 1 4 0 4 -1 4 0 4 -1 4 0 4 -1 4 -1 4 0 4 -1 4 -1 4 0 4 0 4 -1 4 0 4 1 4 0 4 1 4 0 4 1 4 0 4 1 4 0 4 1 4 0 4 1 4 0 4 0 4 1 4 0 4 0 4 0 4 0 4 -1 4 0 4 -1 4 0 4 -1 4 -1 4 -1 4 -2 4 -3 4 -2 4 -1 4 -1 4 1 4 3 4 6 4 6 4 7 4 7 4 7 4 7 4 5 4 5 4 4 4 3 4 0 4 0 4 -1 4 -1 4 -2 4 -1 4 -2 4 -2 4 -3 4 -4 4 -4 4 -4 4 -4 4 -4 4 -3 4 -3 4 -1 4 -2 4 0 4 -1 4 0 4 -1 4 -1 4 0 4 -1 4 0 4 0 4 0 4 0 4 0 4 0 4 0 4 -1 4 0 4 -1 4 0 4 -1 4 -1 4 0 4 -1 4 0 4 0 4 0 4 -1 4 0 4 -1 4 -1 4 -1 4 -1 4 -2 4 -1 4 -1 4 0 4 0 4 0 4 1 4 1 4 1 4 1 4 1 4 1 4 0 4 1 4 0 4 0 4 0 4 1 4 0 4 1 4 0 4 0 4 0 4 0 4 -1 4 -1 4 -2 4 -1" stroke="#1f9a48"/><path vector-effect="non-scaling-stroke" d="M-100 -7l4 0 4 1 4 1 4 0 4 1 4 1 4 0 4 1 4 0 4 0 4 -1 4 0 4 0 4 -1 4 -1 4 -1 4 0 4 -1 4 -1 4 0 4 0 4 0 4 1 4 0 4 1 4 0 4 0 4 0 4 0 4 0 4 0 4 0 4 0 4 0 4 0 4 0 4 -1 4 0 4 0 4 0 4 -1 4 -1 4 0 4 -1 4 0 4 -1 4 0 4 0 4 0 4 0 4 1 4 0 4 1 4 0 4 0 4 0 4 0 4 1 4 0 4 1 4 0 4 -3 4 -7 4 -9 4 -10 4 -10 4 -9 4 -9 4 -6 4 -5 4 -3 4 1 4 1 4 4 4 5 4 6 4 7 4 7 4 7 4 7 4 6 4 6 4 5 4 4 4 3 4 2 4 1 4 1 4 1 4 1 4 0 4 1 4 0 4 0 4 1 4 0 4 1 4 0 4 1 4 1 4 1 4 1 4 1 4 1 4 2 4 1 4 1 4 1 4 1 4 0 4 1 4 0 4 1 4 0 4 -1 4 -1 4 -1 4 -1 4 -1 4 -1 4 -1 4 -1 4 -1 4 -1 4 0 4 -1 4 0 4 1 4 0 4 0 4 0 4 0 4 0 4 0 4 -1 4 0 4 0 4 0 4 0 4 1 4 0 4 1 4 0 4 1 4 0 4 1 4 1 4 0 4 1 4 1" stroke="#6a30c0"/><path vector-effect="non-scaling-stroke" d="M-100 -14l4 0 4 1 4 0 4 1 4 0 4 0 4 -1 4 0 4 -1 4 0 4 -1 4 -1 4 0 4 -1 4 0 4 1 4 0 4 1 4 1 4 1 4 1 4 1 4 0 4 0 4 -1 4 -1 4 0 4 -1 4 0 4 0 4 0 4 1 4 0 4 0 4 0 4 0 4 0 4 0 4 -1 4 0 4 -1 4 -1 4 0 4 -1 4 0 4 0 4 0 4 0 4 -1 4 0 4 -2 4 -2 4 -2 4 -2 4 -1 4 2 4 2 4 4 4 4 4 3 4 3 4 2 4 2 4 3 4 3 4 3 4 3 4 4 4 3 4 2 4 3 4 1 4 1 4 0 4 -1 4 0 4 -1 4 0 4 0 4 -1 4 0 4 -2 4 -2 4 -3 4 -3 4 -4 4 -2 4 -3 4 -2 4 -1 4 0 4 1 4 1 4 1 4 2 4 1 4 2 4 2 4 3 4 2 4 3 4 3 4 4 4 3 4 3 4 3 4 3 4 3 4 3 4 2 4 2 4 2 4 1 4 1 4 0 4 -1 4 0 4 -1 4 0 4 0 4 0 4 1 4 0 4 0 4 1 4 0 4 0 4 1 4 -1 4 0 4 0 4 -1 4 -1 4 -2 4 -1 4 -1 4 -2 4 -1 4 -1 4 -1 4 -1 4 0 4 0 4 -1 4 0 4 0 4 -1 4 0 4 -1 4 0" stroke="#2b5fd0"/><path vector-effect="non-scaling-stroke" d="M-100 31l4 0 4 -1 4 0 4 0 4 0 4 0 4 0 4 1 4 0 4 0 4 -1 4 0 4 0 4 1 4 1 4 1 4 2 4 1 4 2 4 1 4 0 4 0 4 0 4 -1 4 -1 4 -1 4 -2 4 -2 4 -1 4 -2 4 -2 4 -1 4 -1 4 0 4 0 4 1 4 1 4 1 4 1 4 1 4 0 4 0 4 -1 4 -1 4 0 4 -1 4 1 4 0 4 0 4 1 4 1 4 1 4 1 4 1 4 0 4 -3 4 -4 4 -5 4 -6 4 -5 4 -3 4 -3 4 -2 4 -2 4 -1 4 -1 4 -1 4 0 4 0 4 0 4 0 4 1 4 0 4 1 4 1 4 2 4 1 4 1 4 1 4 1 4 0 4 1 4 0 4 1 4 1 4 1 4 1 4 2 4 1 4 1 4 1 4 0 4 0 4 0 4 0 4 0 4 0 4 0 4 0 4 1 4 2 4 2 4 2 4 2 4 3 4 3 4 2 4 3 4 3 4 2 4 2 4 2 4 1 4 1 4 0 4 0 4 -1 4 0 4 -1 4 0 4 0 4 -1 4 -1 4 -1 4 -1 4 -2 4 -2 4 -3 4 -2 4 -2 4 -2 4 -1 4 0 4 0 4 1 4 1 4 2 4 2 4 2 4 2 4 2 4 1 4 1 4 1 4 1 4 0 4 0 4 -1 4 0 4 -1" stroke="#8a40b0"/><path vector-effect="non-scaling-stroke" d="M-100 19l4 -1 4 -1 4 -1 4 -1 4 -2 4 0 4 -1 4 0 4 0 4 0 4 0 4 0 4 0 4 0 4 0 4 -1 4 0 4 0 4 0 4 1 4 0 4 1 4 1 4 1 4 1 4 0 4 0 4 0 4 0 4 1 4 0 4 1 4 0 4 0 4 -1 4 0 4 0 4 -1 4 0 4 1 4 0 4 0 4 1 4 0 4 0 4 0 4 0 4 0 4 -1 4 0 4 0 4 1 4 0 4 0 4 0 4 -2 4 -2 4 -3 4 -3 4 -3 4 -2 4 -2 4 -4 4 -5 4 -5 4 -5 4 -4 4 -4 4 -4 4 -2 4 -1 4 -1 4 1 4 1 4 2 4 3 4 3 4 3 4 4 4 3 4 3 4 4 4 4 4 4 4 3 4 3 4 3 4 2 4 2 4 1 4 0 4 0 4 -1 4 -1 4 0 4 -1 4 -1 4 0 4 -1 4 0 4 -1 4 -1 4 0 4 -2 4 -1 4 -1 4 -2 4 -2 4 -1 4 -1 4 -1 4 0 4 1 4 1 4 1 4 2 4 2 4 1 4 2 4 0 4 0 4 -1 4 -1 4 -2 4 -2 4 -2 4 -1 4 -1 4 -1 4 0 4 0 4 0 4 1 4 0 4 1 4 0 4 0 4 0 4 0 4 0 4 0 4 1 4 0 4 1 4 2 4 1 4 2 4 1 4 2 4 1" stroke="#c0408e"/><path vector-effect="non-scaling-stroke" d="M-100 25l4 0 4 0 4 0 4 0 4 1 4 0 4 1 4 0 4 -1 4 -1 4 -2 4 -3 4 -3 4 -2 4 -2 4 -1 4 -1 4 1 4 0 4 1 4 2 4 2 4 2 4 1 4 2 4 2 4 2 4 1 4 2 4 2 4 1 4 1 4 1 4 1 4 0 4 -1 4 -1 4 -1 4 -1 4 -2 4 -1 4 0 4 0 4 0 4 0 4 -1 4 0 4 -1 4 -1 4 -1 4 -1 4 0 4 1 4 0 4 0 4 -2 4 -3 4 -4 4 -4 4 -3 4 -2 4 -2 4 -3 4 -4 4 -3 4 -3 4 -4 4 -2 4 -3 4 -2 4 -2 4 0 4 -1 4 1 4 2 4 2 4 3 4 3 4 4 4 4 4 3 4 3 4 2 4 1 4 1 4 0 4 0 4 0 4 0 4 0 4 0 4 1 4 1 4 1 4 0 4 1 4 1 4 2 4 2 4 2 4 4 4 3 4 5 4 4 4 4 4 4 4 4 4 3 4 3 4 3 4 2 4 2 4 1 4 1 4 0 4 -1 4 -1 4 -2 4 -1 4 -2 4 -2 4 -2 4 -1 4 -1 4 -1 4 0 4 0 4 1 4 0 4 1 4 0 4 0 4 1 4 0 4 1 4 1 4 0 4 1 4 0 4 0 4 0 4 -1 4 0 4 -1 4 -1 4 -1 4 -1 4 0 4 -1 4 0" stroke="#c070c0"/><path vector-effect="non-scaling-stroke" d="M-100 -6l4 0 4 1 4 0 4 1 4 0 4 1 4 0 4 1 4 0 4 -1 4 0 4 0 4 0 4 0 4 1 4 0 4 1 4 0 4 1 4 0 4 -1 4 -1 4 0 4 -1 4 0 4 -1 4 0 4 0 4 0 4 0 4 0 4 0 4 0 4 1 4 0 4 1 4 0 4 1 4 2 4 1 4 1 4 1 4 0 4 0 4 -1 4 0 4 -1 4 -1 4 -2 4 -1 4 -2 4 -2 4 -2 4 -2 4 -1 4 -1 4 1 4 1 4 2 4 2 4 1 4 1 4 1 4 1 4 0 4 1 4 1 4 0 4 1 4 1 4 0 4 1 4 0 4 0 4 0 4 0 4 -1 4 0 4 0 4 0 4 0 4 0 4 -1 4 -1 4 -1 4 -1 4 -1 4 -1 4 -1 4 0 4 -1 4 -1 4 0 4 -1 4 -1 4 0 4 -1 4 1 4 1 4 1 4 2 4 2 4 2 4 2 4 1 4 1 4 0 4 0 4 -1 4 -1 4 0 4 0 4 1 4 1 4 2 4 2 4 3 4 2 4 2 4 1 4 1 4 0 4 -1 4 -1 4 -1 4 -1 4 -1 4 -1 4 -1 4 -1 4 -1 4 -1 4 -1 4 -1 4 -1 4 0 4 -1 4 0 4 0 4 0 4 1 4 1 4 1 4 1 4 1 4 1 4 1 4 1 4 0 4 0" stroke="#1f9a48"/><path vector-effect="non-scaling-stroke" d="M-100 -9l4 0 4 1 4 0 4 0 4 0 4 0 4 -1 4 0 4 0 4 0 4 0 4 0 4 0 4 -1 4 0 4 0 4 0 4 -1 4 1 4 0 4 0 4 1 4 0 4 1 4 0 4 1 4 0 4 1 4 0 4 1 4 0 4 1 4 0 4 0 4 0 4 -1 4 -1 4 -1 4 0 4 -1 4 0 4 0 4 1 4 1 4 1 4 0 4 1 4 0 4 0 4 0 4 -1 4 -2 4 -2 4 -1 4 -2 4 0 4 0 4 1 4 0 4 1 4 1 4 2 4 4 4 6 4 7 4 8 4 7 4 8 4 8 4 6 4 6 4 4 4 2 4 2 4 0 4 -2 4 -2 4 -2 4 -3 4 -3 4 -4 4 -4 4 -4 4 -4 4 -4 4 -3 4 -2 4 -1 4 -1 4 0 4 0 4 0 4 -1 4 0 4 -1 4 0 4 0 4 0 4 0 4 0 4 0 4 1 4 0 4 1 4 0 4 0 4 0 4 0 4 -1 4 0 4 -1 4 -1 4 0 4 -1 4 0 4 0 4 0 4 1 4 0 4 -1 4 0 4 0 4 -1 4 0 4 -1 4 -1 4 0 4 -1 4 -1 4 -1 4 -1 4 -1 4 0 4 -1 4 -1 4 -1 4 0 4 0 4 0 4 1 4 0 4 1 4 0 4 1 4 0 4 0 4 0 4 -1 4 0 4 0" stroke="#c0408e"/><path vector-effect="non-scaling-stroke" d="M-100 23l4 2 4 3 4 2 4 1 4 2 4 1 4 0 4 0 4 0 4 0 4 -1 4 0 4 -1 4 -1 4 -1 4 -1 4 -1 4 -1 4 -1 4 -2 4 -1 4 -1 4 -1 4 -1 4 1 4 1 4 2 4 2 4 2 4 3 4 2 4 1 4 1 4 0 4 0 4 -1 4 -2 4 -2 4 -3 4 -2 4 -2 4 -2 4 -1 4 -1 4 1 4 1 4 0 4 1 4 0 4 0 4 0 4 0 4 1 4 0 4 -1 4 -1 4 -3 4 -4 4 -3 4 -3 4 -1 4 0 4 2 4 4 4 4 4 5 4 5 4 4 4 4 4 4 4 3 4 2 4 2 4 1 4 0 4 0 4 -1 4 -1 4 0 4 -2 4 -1 4 -2 4 -4 4 -3 4 -3 4 -4 4 -2 4 -3 4 -2 4 0 4 -1 4 0 4 0 4 0 4 0 4 -1 4 -1 4 -1 4 0 4 0 4 0 4 1 4 1 4 1 4 2 4 1 4 1 4 2 4 0 4 1 4 0 4 -1 4 0 4 -1 4 -1 4 0 4 0 4 1 4 1 4 2 4 2 4 2 4 2 4 1 4 1 4 0 4 0 4 0 4 0 4 -1 4 0 4 0 4 -1 4 -1 4 -1 4 -1 4 -2 4 -1 4 -1 4 -1 4 -1 4 0 4 -1 4 0 4 0 4 0 4 1 4 0 4 0 4 1" stroke="#8a40b0"/><path vector-effect="non-scaling-stroke" d="M-100 -2l4 0 4 0 4 0 4 1 4 0 4 1 4 1 4 0 4 1 4 0 4 0 4 0 4 0 4 -1 4 0 4 -1 4 0 4 -1 4 0 4 0 4 0 4 0 4 0 4 0 4 0 4 0 4 0 4 1 4 1 4 0 4 1 4 0 4 1 4 0 4 -1 4 0 4 0 4 0 4 0 4 0 4 0 4 0 4 0 4 -1 4 0 4 -1 4 0 4 -1 4 0 4 0 4 0 4 -1 4 0 4 0 4 -1 4 0 4 0 4 0 4 0 4 0 4 0 4 -2 4 -3 4 -5 4 -5 4 -5 4 -5 4 -4 4 -4 4 -2 4 -2 4 0 4 2 4 3 4 4 4 4 4 5 4 4 4 4 4 3 4 2 4 2 4 1 4 2 4 1 4 1 4 0 4 1 4 1 4 0 4 0 4 1 4 0 4 0 4 0 4 0 4 1 4 1 4 1 4 1 4 1 4 1 4 1 4 1 4 0 4 0 4 1 4 0 4 0 4 1 4 1 4 1 4 1 4 1 4 0 4 1 4 0 4 1 4 0 4 0 4 0 4 -1 4 0 4 -1 4 -1 4 -1 4 -1 4 -1 4 -1 4 -1 4 -1 4 0 4 0 4 0 4 1 4 1 4 1 4 2 4 1 4 1 4 0 4 0 4 0 4 0 4 -1 4 0 4 -1 4 0 4 -1 4 0" stroke="#2a8f8f"/><path vector-effect="non-scaling-stroke" d="M-100 10l4 1 4 1 4 0 4 0 4 0 4 0 4 -1 4 0 4 -1 4 0 4 0 4 0 4 0 4 0 4 0 4 1 4 0 4 0 4 0 4 1 4 0 4 0 4 0 4 0 4 0 4 0 4 0 4 0 4 0 4 0 4 0 4 0 4 1 4 0 4 0 4 0 4 1 4 0 4 0 4 0 4 0 4 0 4 0 4 -1 4 0 4 -1 4 0 4 -1 4 -1 4 -1 4 0 4 -1 4 0 4 0 4 -1 4 0 4 -1 4 -1 4 -2 4 -1 4 0 4 1 4 3 4 6 4 6 4 6 4 7 4 7 4 6 4 5 4 5 4 4 4 2 4 1 4 0 4 -1 4 -2 4 -1 4 -2 4 -2 4 -3 4 -2 4 -2 4 -2 4 -1 4 -1 4 0 4 1 4 1 4 1 4 0 4 0 4 -2 4 -2 4 -2 4 -3 4 -3 4 -3 4 -3 4 -2 4 -3 4 -3 4 -3 4 -2 4 -3 4 -3 4 -3 4 -3 4 -2 4 -3 4 -3 4 -3 4 -3 4 -2 4 -3 4 -2 4 -2 4 -2 4 -2 4 -2 4 -2 4 -1 4 -2 4 -2 4 -1 4 -1 4 -1 4 -1 4 -1 4 0 4 -1 4 0 4 0 4 0 4 1 4 0 4 1 4 1 4 1 4 1 4 1 4 1 4 1 4 1 4 1 4 1 4 1 4 1 4 0 4 1" stroke="#1f9a48"/><path vector-effect="non-scaling-stroke" d="M-100 -3l4 -1 4 0 4 -1 4 0 4 -1 4 0 4 0 4 0 4 1 4 0 4 2 4 1 4 1 4 1 4 0 4 0 4 0 4 -1 4 -1 4 -1 4 0 4 -1 4 0 4 0 4 0 4 0 4 1 4 0 4 0 4 1 4 0 4 0 4 -1 4 0 4 -1 4 -2 4 -1 4 -1 4 0 4 0 4 0 4 1 4 1 4 0 4 1 4 1 4 1 4 1 4 1 4 1 4 1 4 1 4 1 4 0 4 0 4 0 4 -1 4 -1 4 -1 4 0 4 -1 4 -1 4 -2 4 -3 4 -4 4 -4 4 -4 4 -3 4 -4 4 -2 4 -2 4 0 4 0 4 2 4 3 4 3 4 3 4 4 4 2 4 3 4 1 4 2 4 1 4 1 4 1 4 0 4 1 4 0 4 1 4 0 4 0 4 0 4 0 4 -1 4 0 4 -1 4 -1 4 0 4 -1 4 -1 4 -1 4 0 4 -1 4 -1 4 0 4 0 4 -1 4 0 4 0 4 0 4 0 4 0 4 0 4 0 4 0 4 -1 4 0 4 -1 4 -1 4 -2 4 -2 4 -1 4 -2 4 -2 4 -2 4 -1 4 -1 4 0 4 0 4 1 4 0 4 1 4 2 4 1 4 1 4 0 4 1 4 0 4 0 4 1 4 0 4 0 4 0 4 1 4 0 4 1 4 1 4 0 4 0 4 0" stroke="#c0408e"/><path vector-effect="non-scaling-stroke" d="M-100 -20l4 0 4 0 4 0 4 1 4 0 4 0 4 0 4 0 4 0 4 0 4 0 4 0 4 0 4 0 4 0 4 0 4 0 4 0 4 0 4 0 4 0 4 0 4 0 4 0 4 0 4 0 4 0 4 0 4 0 4 0 4 -1 4 -1 4 -1 4 -1 4 0 4 -1 4 0 4 1 4 1 4 1 4 1 4 1 4 0 4 0 4 -1 4 0 4 -1 4 -1 4 0 4 0 4 0 4 0 4 1 4 1 4 1 4 1 4 2 4 2 4 1 4 2 4 0 4 1 4 1 4 2 4 2 4 2 4 2 4 3 4 2 4 3 4 2 4 1 4 1 4 0 4 -1 4 -1 4 -2 4 -2 4 -3 4 -2 4 -2 4 -2 4 -4 4 -3 4 -3 4 -3 4 -3 4 -3 4 -2 4 -1 4 -1 4 1 4 1 4 2 4 1 4 2 4 2 4 2 4 2 4 2 4 2 4 3 4 2 4 3 4 3 4 3 4 2 4 3 4 2 4 1 4 1 4 1 4 0 4 -1 4 -1 4 -1 4 -1 4 -1 4 0 4 -1 4 1 4 0 4 0 4 1 4 0 4 1 4 1 4 0 4 1 4 1 4 1 4 0 4 0 4 0 4 1 4 0 4 0 4 0 4 0 4 1 4 0 4 0 4 0 4 1 4 0 4 0 4 0 4 0 4 1 4 0" stroke="#c0408e"/><path vector-effect="non-scaling-stroke" d="M-100 -3l4 -1 4 0 4 -1 4 0 4 0 4 -1 4 0 4 0 4 -1 4 0 4 0 4 0 4 0 4 1 4 1 4 1 4 1 4 0 4 0 4 -1 4 0 4 -1 4 -1 4 -1 4 0 4 0 4 0 4 0 4 1 4 0 4 0 4 0 4 0 4 0 4 -1 4 0 4 0 4 -1 4 0 4 0 4 0 4 -1 4 0 4 -1 4 0 4 -1 4 0 4 0 4 1 4 0 4 1 4 1 4 1 4 1 4 1 4 0 4 0 4 0 4 0 4 0 4 0 4 1 4 4 4 6 4 6 4 7 4 7 4 7 4 7 4 6 4 5 4 4 4 2 4 1 4 0 4 -1 4 -1 4 -1 4 -2 4 -1 4 -2 4 -2 4 -4 4 -3 4 -4 4 -3 4 -2 4 -2 4 -2 4 -1 4 -1 4 -2 4 -2 4 -2 4 -3 4 -3 4 -3 4 -3 4 -3 4 -3 4 -2 4 -3 4 -3 4 -3 4 -3 4 -3 4 -3 4 -3 4 -3 4 -3 4 -3 4 -3 4 -3 4 -3 4 -2 4 -3 4 -2 4 -2 4 -1 4 -1 4 -2 4 -1 4 -1 4 0 4 -1 4 0 4 0 4 0 4 0 4 0 4 0 4 0 4 1 4 0 4 0 4 1 4 0 4 0 4 0 4 0 4 -1 4 0 4 -1 4 -1 4 -1 4 -1 4 -1 4 -2 4 -1 4 -1" stroke="#505050"/><path vector-effect="non-scaling-stroke" d="M-100 33l4 1 4 2 4 2 4 2 4 2 4 1 4 1 4 0 4 -2 4 -1 4 -3 4 -2 4 -2 4 -2 4 -1 4 0 4 0 4 0 4 1 4 0 4 1 4 0 4 -1 4 -1 4 -1 4 -2 4 -2 4 -1 4 -1 4 -1 4 1 4 1 4 2 4 2 4 2 4 2 4 0 4 0 4 -1 4 -2 4 -2 4 -3 4 -2 4 -2 4 -2 4 0 4 0 4 0 4 1 4 2 4 3 4 4 4 4 4 3 4 1 4 -2 4 -3 4 -5 4 -5 4 -4 4 -3 4 -1 4 3 4 5 4 6 4 7 4 7 4 7 4 7 4 7 4 5 4 4 4 3 4 1 4 0 4 -2 4 -1 4 -2 4 -2 4 -2 4 -3 4 -3 4 -3 4 -4 4 -3 4 -3 4 -2 4 -2 4 -1 4 -1 4 -1 4 -2 4 -1 4 -2 4 -2 4 -2 4 -3 4 -3 4 -3 4 -2 4 -2 4 -1 4 -1 4 0 4 -1 4 0 4 0 4 0 4 -1 4 0 4 0 4 0 4 0 4 0 4 0 4 1 4 0 4 0 4 0 4 -1 4 0 4 -1 4 -1 4 -1 4 -1 4 -2 4 -1 4 -1 4 -1 4 -1 4 -1 4 0 4 1 4 0 4 1 4 2 4 1 4 1 4 1 4 0 4 0 4 0 4 0 4 0 4 0 4 -1 4 0 4 0 4 -1 4 0" stroke="#d06090"/><path vector-effect="non-scaling-stroke" d="M-100 -19l4 1 4 0 4 1 4 1 4 0 4 0 4 0 4 0 4 -1 4 -1 4 -1 4 -1 4 0 4 0 4 0 4 1 4 0 4 1 4 0 4 0 4 1 4 0 4 0 4 0 4 0 4 1 4 0 4 0 4 0 4 0 4 -1 4 0 4 -1 4 0 4 0 4 1 4 0 4 0 4 1 4 0 4 0 4 0 4 0 4 0 4 0 4 -1 4 0 4 0 4 0 4 0 4 0 4 0 4 0 4 0 4 0 4 1 4 1 4 1 4 1 4 1 4 1 4 1 4 1 4 3 4 3 4 3 4 4 4 3 4 4 4 3 4 2 4 2 4 2 4 0 4 0 4 -1 4 -1 4 -1 4 -2 4 -2 4 -1 4 -2 4 -1 4 -1 4 0 4 -1 4 0 4 1 4 0 4 -1 4 -1 4 -2 4 -2 4 -2 4 -3 4 -2 4 -3 4 -2 4 -3 4 -2 4 -3 4 -3 4 -3 4 -4 4 -4 4 -4 4 -4 4 -5 4 -4 4 -4 4 -4 4 -3 4 -3 4 -3 4 -3 4 -3 4 -2 4 -2 4 -2 4 -2 4 -2 4 -2 4 -1 4 -2 4 -1 4 -1 4 -1 4 0 4 -1 4 0 4 0 4 0 4 0 4 1 4 1 4 0 4 1 4 1 4 0 4 0 4 0 4 -1 4 -1 4 -1 4 -1 4 -1 4 -2 4 -1 4 0 4 0" stroke="#1f9a48"/><path vector-effect="non-scaling-stroke" d="M-100 -12l4 0 4 0 4 0 4 1 4 1 4 1 4 1 4 2 4 1 4 1 4 0 4 0 4 0 4 -1 4 -2 4 -1 4 -1 4 -1 4 -1 4 -1 4 -1 4 0 4 0 4 0 4 0 4 1 4 1 4 1 4 1 4 1 4 0 4 1 4 0 4 -1 4 0 4 -1 4 0 4 0 4 0 4 -1 4 0 4 -1 4 0 4 -1 4 -1 4 -1 4 -1 4 -1 4 0 4 -1 4 0 4 -1 4 0 4 1 4 1 4 1 4 2 4 2 4 2 4 2 4 1 4 0 4 -1 4 -2 4 -2 4 -2 4 -2 4 -2 4 -1 4 -1 4 0 4 -1 4 1 4 0 4 1 4 1 4 2 4 1 4 2 4 2 4 1 4 2 4 1 4 1 4 1 4 1 4 1 4 0 4 0 4 -1 4 0 4 -1 4 -2 4 -1 4 -1 4 -1 4 0 4 -1 4 0 4 0 4 1 4 1 4 1 4 0 4 1 4 1 4 0 4 0 4 0 4 -1 4 -1 4 -1 4 -2 4 -2 4 -1 4 -2 4 -2 4 -1 4 0 4 0 4 1 4 2 4 2 4 3 4 3 4 2 4 2 4 1 4 0 4 0 4 -1 4 -1 4 -2 4 -1 4 -1 4 -1 4 -1 4 0 4 1 4 0 4 0 4 1 4 0 4 0 4 1 4 0 4 0 4 0 4 -1 4 0" stroke="#6a30c0"/><path vector-effect="non-scaling-stroke" d="M-100 27l4 0 4 0 4 1 4 1 4 2 4 2 4 2 4 2 4 2 4 1 4 0 4 0 4 -1 4 -1 4 -2 4 -2 4 -1 4 -1 4 -1 4 0 4 -1 4 0 4 0 4 -1 4 0 4 0 4 0 4 0 4 0 4 0 4 0 4 0 4 0 4 1 4 1 4 1 4 1 4 0 4 0 4 0 4 0 4 0 4 -1 4 -1 4 -2 4 -1 4 -1 4 -2 4 -1 4 -1 4 0 4 0 4 1 4 0 4 0 4 -2 4 -2 4 -4 4 -4 4 -3 4 -2 4 -1 4 3 4 5 4 5 4 7 4 6 4 7 4 5 4 5 4 4 4 3 4 1 4 1 4 -1 4 -2 4 -3 4 -2 4 -3 4 -2 4 -3 4 -4 4 -4 4 -4 4 -3 4 -2 4 -1 4 -1 4 0 4 0 4 0 4 0 4 0 4 -1 4 -1 4 -1 4 -1 4 0 4 0 4 0 4 0 4 1 4 0 4 1 4 0 4 -1 4 -1 4 0 4 -1 4 -1 4 -1 4 -1 4 -1 4 0 4 0 4 0 4 1 4 0 4 0 4 0 4 0 4 -1 4 -1 4 -1 4 -1 4 -2 4 -1 4 0 4 -1 4 0 4 0 4 1 4 1 4 1 4 1 4 1 4 0 4 1 4 0 4 0 4 0 4 0 4 -1 4 0 4 0 4 0 4 0 4 0 4 0 4 0" stroke="#9080c0"/><path vector-effect="non-scaling-stroke" d="M-100 -15l4 -1 4 -1 4 0 4 -1 4 0 4 0 4 1 4 0 4 0 4 0 4 0 4 0 4 0 4 0 4 -1 4 -1 4 0 4 -1 4 0 4 0 4 0 4 1 4 1 4 1 4 1 4 1 4 1 4 0 4 0 4 0 4 0 4 0 4 -1 4 1 4 0 4 0 4 0 4 0 4 0 4 0 4 -1 4 -1 4 -1 4 -1 4 0 4 -1 4 0 4 1 4 0 4 1 4 0 4 0 4 -1 4 -1 4 0 4 0 4 1 4 2 4 2 4 2 4 2 4 0 4 -1 4 -3 4 -2 4 -3 4 -2 4 -3 4 -2 4 -1 4 0 4 0 4 0 4 1 4 2 4 2 4 2 4 2 4 2 4 2 4 2 4 2 4 4 4 3 4 3 4 4 4 3 4 3 4 3 4 1 4 1 4 -1 4 -1 4 -1 4 -2 4 -1 4 -2 4 -1 4 -1 4 -1 4 -1 4 0 4 0 4 0 4 0 4 1 4 -1 4 0 4 0 4 -1 4 0 4 -1 4 -1 4 -1 4 -1 4 -1 4 -1 4 -1 4 -1 4 -1 4 0 4 -1 4 -1 4 0 4 -1 4 -1 4 0 4 -1 4 -1 4 -1 4 0 4 -1 4 0 4 0 4 0 4 1 4 0 4 1 4 1 4 0 4 1 4 0 4 0 4 1 4 0 4 0 4 1 4 0 4 1 4 0" stroke="#4a2fb0"/><path vector-effect="non-scaling-stroke" d="M-100 -1l4 0 4 -1 4 -1 4 -1 4 -1 4 -1 4 -1 4 0 4 -1 4 1 4 0 4 1 4 1 4 1 4 1 4 1 4 -1 4 0 4 -1 4 -2 4 -1 4 -1 4 -1 4 -1 4 -1 4 0 4 -1 4 0 4 0 4 1 4 2 4 1 4 2 4 2 4 2 4 1 4 0 4 0 4 0 4 -1 4 0 4 -1 4 0 4 0 4 0 4 1 4 0 4 1 4 0 4 0 4 0 4 -1 4 -1 4 0 4 -1 4 0 4 0 4 0 4 -1 4 0 4 0 4 1 4 4 4 5 4 6 4 7 4 6 4 7 4 7 4 6 4 5 4 4 4 2 4 2 4 -1 4 -1 4 -2 4 -3 4 -3 4 -3 4 -3 4 -4 4 -4 4 -3 4 -3 4 -1 4 -1 4 1 4 0 4 1 4 0 4 -2 4 -1 4 -2 4 -3 4 -3 4 -3 4 -3 4 -2 4 -3 4 -3 4 -2 4 -2 4 -3 4 -3 4 -3 4 -3 4 -4 4 -4 4 -3 4 -4 4 -3 4 -3 4 -2 4 -2 4 -2 4 -1 4 -2 4 -1 4 -1 4 -1 4 -1 4 -1 4 -1 4 0 4 -1 4 0 4 0 4 -1 4 0 4 0 4 0 4 0 4 0 4 0 4 0 4 0 4 0 4 -1 4 -1 4 -1 4 -1 4 -1 4 -2 4 -1 4 -1 4 -1 4 0 4 -1 4 -1" stroke="#2a8f8f"/><path vector-effect="non-scaling-stroke" d="M-100 11l4 1 4 0 4 0 4 0 4 0 4 -1 4 0 4 -1 4 0 4 0 4 -1 4 0 4 0 4 0 4 0 4 0 4 0 4 0 4 0 4 0 4 1 4 0 4 1 4 1 4 1 4 1 4 1 4 0 4 1 4 0 4 0 4 0 4 -1 4 -1 4 -1 4 0 4 -1 4 0 4 -1 4 0 4 0 4 -1 4 -1 4 -1 4 -1 4 -2 4 -1 4 -1 4 0 4 -1 4 0 4 1 4 2 4 1 4 1 4 0 4 0 4 -1 4 -2 4 -1 4 -1 4 1 4 4 4 6 4 7 4 7 4 9 4 8 4 8 4 6 4 6 4 5 4 2 4 1 4 -1 4 -1 4 -2 4 -2 4 -2 4 -3 4 -2 4 -3 4 -2 4 -2 4 -1 4 -1 4 0 4 0 4 1 4 1 4 0 4 -1 4 -1 4 -2 4 -2 4 -1 4 -1 4 -1 4 -1 4 -1 4 0 4 0 4 1 4 0 4 -1 4 0 4 0 4 -1 4 -1 4 0 4 0 4 0 4 0 4 1 4 1 4 0 4 1 4 0 4 1 4 0 4 0 4 -1 4 0 4 0 4 -1 4 0 4 -1 4 0 4 0 4 0 4 0 4 0 4 -1 4 0 4 0 4 -1 4 -1 4 -1 4 -2 4 -1 4 -1 4 -1 4 -1 4 -1 4 0 4 -1 4 1 4 0 4 0 4 1" stroke="#c0408e"/><path vector-effect="non-scaling-stroke" d="M-100 33l4 -1 4 -2 4 -1 4 -1 4 -1 4 -1 4 0 4 0 4 0 4 0 4 0 4 0 4 0 4 1 4 0 4 0 4 0 4 0 4 0 4 -1 4 0 4 -1 4 0 4 -1 4 0 4 0 4 0 4 0 4 0 4 0 4 0 4 0 4 1 4 1 4 1 4 1 4 2 4 2 4 2 4 2 4 2 4 1 4 1 4 0 4 0 4 -1 4 -2 4 -2 4 -3 4 -3 4 -2 4 -1 4 0 4 0 4 0 4 -2 4 -4 4 -4 4 -4 4 -4 4 -4 4 0 4 3 4 5 4 6 4 8 4 7 4 8 4 7 4 6 4 5 4 4 4 3 4 1 4 -1 4 -1 4 -1 4 -1 4 -2 4 -2 4 -2 4 -3 4 -3 4 -4 4 -3 4 -3 4 -2 4 -2 4 -1 4 -1 4 -1 4 -2 4 -1 4 -2 4 -2 4 -2 4 -3 4 -2 4 -2 4 -2 4 -3 4 -2 4 -3 4 -3 4 -4 4 -4 4 -4 4 -4 4 -4 4 -4 4 -4 4 -3 4 -3 4 -3 4 -3 4 -4 4 -3 4 -4 4 -3 4 -4 4 -3 4 -3 4 -3 4 -2 4 -2 4 -1 4 0 4 1 4 0 4 1 4 1 4 1 4 1 4 2 4 1 4 1 4 1 4 1 4 1 4 0 4 1 4 0 4 0 4 1 4 0 4 0 4 0 4 1 4 0 4 1" stroke="#9080c0"/><path vector-effect="non-scaling-stroke" d="M-100 28l4 0 4 1 4 1 4 1 4 1 4 0 4 0 4 -1 4 -2 4 -3 4 -3 4 -4 4 -3 4 -3 4 -1 4 -1 4 0 4 1 4 2 4 1 4 2 4 2 4 1 4 2 4 1 4 1 4 0 4 0 4 1 4 0 4 0 4 0 4 -1 4 0 4 -1 4 0 4 -1 4 -1 4 -1 4 -1 4 -1 4 0 4 0 4 0 4 1 4 1 4 2 4 1 4 2 4 1 4 1 4 1 4 1 4 0 4 -1 4 -2 4 -3 4 -4 4 -5 4 -3 4 -4 4 -2 4 -3 4 -3 4 -3 4 -2 4 -3 4 -1 4 -1 4 -1 4 1 4 1 4 2 4 2 4 2 4 2 4 1 4 1 4 0 4 1 4 0 4 0 4 -1 4 -1 4 -1 4 -1 4 -2 4 -2 4 -1 4 -1 4 0 4 1 4 1 4 1 4 1 4 1 4 2 4 2 4 3 4 3 4 3 4 4 4 3 4 4 4 4 4 4 4 3 4 3 4 3 4 2 4 2 4 2 4 2 4 2 4 2 4 1 4 1 4 1 4 1 4 0 4 -1 4 0 4 -2 4 -1 4 -1 4 -2 4 -1 4 -1 4 0 4 0 4 0 4 0 4 1 4 1 4 1 4 1 4 1 4 1 4 0 4 0 4 0 4 -1 4 0 4 -1 4 -1 4 -1 4 -1 4 -2 4 -1 4 -2" stroke="#808080"/><path vector-effect="non-scaling-stroke" d="M-100 1l4 1 4 0 4 0 4 -1 4 0 4 0 4 -1 4 0 4 0 4 0 4 0 4 0 4 1 4 0 4 1 4 0 4 0 4 -1 4 -1 4 -1 4 -2 4 -1 4 -1 4 -1 4 0 4 0 4 0 4 1 4 0 4 1 4 0 4 0 4 1 4 0 4 0 4 0 4 -1 4 -1 4 0 4 -1 4 0 4 0 4 0 4 0 4 0 4 -1 4 0 4 0 4 -1 4 0 4 -1 4 -1 4 -1 4 0 4 0 4 1 4 1 4 1 4 2 4 1 4 1 4 0 4 0 4 -2 4 -1 4 -2 4 -1 4 -1 4 -1 4 -1 4 0 4 1 4 0 4 1 4 1 4 1 4 1 4 1 4 1 4 1 4 1 4 0 4 0 4 0 4 -1 4 0 4 -1 4 -1 4 0 4 -1 4 0 4 0 4 0 4 0 4 0 4 0 4 0 4 1 4 1 4 1 4 2 4 2 4 1 4 2 4 1 4 1 4 0 4 0 4 0 4 0 4 0 4 0 4 0 4 1 4 1 4 1 4 0 4 1 4 0 4 0 4 0 4 0 4 -1 4 0 4 -1 4 0 4 0 4 0 4 0 4 0 4 0 4 1 4 1 4 0 4 1 4 0 4 0 4 0 4 0 4 -1 4 -1 4 0 4 -1 4 0 4 0 4 0 4 0 4 0 4 0 4 0" stroke="#2b5fd0"/><path vector-effect="non-scaling-stroke" d="M-100 25l4 -1 4 0 4 0 4 0 4 -1 4 1 4 0 4 1 4 1 4 2 4 2 4 2 4 2 4 1 4 0 4 0 4 0 4 -1 4 -2 4 -1 4 -1 4 -1 4 0 4 0 4 0 4 0 4 0 4 0 4 0 4 0 4 0 4 0 4 0 4 -1 4 0 4 0 4 -1 4 -1 4 -1 4 -1 4 -1 4 -1 4 -1 4 0 4 1 4 1 4 1 4 1 4 0 4 1 4 1 4 1 4 2 4 0 4 0 4 -2 4 -4 4 -5 4 -5 4 -4 4 -4 4 -2 4 -3 4 -3 4 -3 4 -3 4 -3 4 -2 4 -2 4 -1 4 -1 4 0 4 1 4 1 4 2 4 2 4 2 4 2 4 2 4 2 4 2 4 2 4 1 4 2 4 2 4 2 4 1 4 2 4 1 4 2 4 1 4 1 4 1 4 1 4 2 4 1 4 1 4 1 4 2 4 1 4 1 4 1 4 1 4 1 4 1 4 2 4 1 4 2 4 2 4 1 4 1 4 0 4 0 4 -1 4 -2 4 -1 4 -2 4 -1 4 -1 4 0 4 0 4 0 4 0 4 1 4 1 4 0 4 1 4 2 4 1 4 0 4 1 4 0 4 1 4 0 4 -1 4 0 4 -1 4 0 4 -1 4 0 4 -1 4 0 4 -1 4 0 4 0 4 0 4 0 4 0 4 0 4 0" stroke="#a070d0"/><path vector-effect="non-scaling-stroke" d="M-100 15l4 1 4 1 4 0 4 1 4 -1 4 0 4 0 4 -1 4 -1 4 -1 4 0 4 -1 4 -1 4 0 4 0 4 0 4 0 4 1 4 0 4 1 4 0 4 0 4 0 4 -1 4 0 4 -1 4 0 4 0 4 0 4 1 4 0 4 1 4 0 4 1 4 0 4 0 4 0 4 0 4 0 4 0 4 0 4 -1 4 0 4 0 4 0 4 1 4 0 4 1 4 1 4 1 4 1 4 1 4 1 4 1 4 -1 4 -2 4 -3 4 -3 4 -4 4 -3 4 -2 4 -2 4 -3 4 -4 4 -4 4 -4 4 -3 4 -4 4 -2 4 -2 4 -1 4 1 4 1 4 1 4 2 4 3 4 2 4 2 4 2 4 2 4 2 4 2 4 2 4 1 4 1 4 0 4 0 4 0 4 0 4 0 4 -1 4 0 4 0 4 0 4 0 4 0 4 0 4 1 4 0 4 1 4 1 4 2 4 1 4 2 4 3 4 2 4 3 4 2 4 2 4 2 4 2 4 1 4 1 4 0 4 1 4 -1 4 0 4 0 4 0 4 -1 4 0 4 0 4 -1 4 -1 4 -1 4 -2 4 -1 4 -2 4 -1 4 -1 4 -1 4 -1 4 -1 4 0 4 -1 4 0 4 0 4 1 4 0 4 1 4 2 4 1 4 1 4 1 4 1 4 1 4 0 4 0 4 0 4 -1" stroke="#60b040"/><path vector-effect="non-scaling-stroke" d="M-100 9l4 0 4 -1 4 -1 4 0 4 0 4 -1 4 0 4 0 4 -1 4 0 4 0 4 0 4 0 4 0 4 1 4 0 4 0 4 0 4 0 4 0 4 0 4 0 4 0 4 -1 4 1 4 0 4 0 4 0 4 0 4 0 4 0 4 0 4 0 4 0 4 0 4 0 4 0 4 0 4 1 4 0 4 0 4 0 4 0 4 0 4 0 4 -1 4 0 4 0 4 0 4 0 4 1 4 1 4 1 4 1 4 1 4 -1 4 -1 4 -2 4 -2 4 -2 4 -1 4 -2 4 -5 4 -5 4 -6 4 -6 4 -6 4 -5 4 -5 4 -3 4 -1 4 -1 4 1 4 2 4 2 4 3 4 4 4 4 4 3 4 4 4 3 4 3 4 2 4 1 4 0 4 -1 4 -1 4 -2 4 -2 4 -2 4 -1 4 -2 4 -2 4 -1 4 -2 4 -2 4 -2 4 -1 4 -2 4 -1 4 -1 4 -2 4 -1 4 -2 4 -2 4 -3 4 -2 4 -3 4 -3 4 -3 4 -2 4 -2 4 -2 4 -2 4 -1 4 -1 4 -1 4 -1 4 0 4 -1 4 -1 4 0 4 0 4 -1 4 0 4 0 4 1 4 0 4 -1 4 0 4 0 4 -1 4 0 4 0 4 0 4 0 4 0 4 0 4 0 4 0 4 1 4 0 4 1 4 1 4 0 4 1 4 0 4 0 4 0 4 -1" stroke="#60b040"/><path vector-effect="non-scaling-stroke" d="M-100 18l4 0 4 0 4 0 4 -1 4 0 4 0 4 -1 4 0 4 0 4 0 4 0 4 0 4 0 4 0 4 0 4 0 4 1 4 0 4 1 4 0 4 1 4 0 4 -1 4 0 4 0 4 -1 4 0 4 0 4 0 4 0 4 0 4 0 4 0 4 0 4 0 4 0 4 0 4 -1 4 0 4 -1 4 -1 4 0 4 0 4 -1 4 0 4 0 4 -1 4 0 4 -1 4 -1 4 -2 4 -2 4 -2 4 -2 4 -1 4 -1 4 -1 4 0 4 0 4 0 4 1 4 1 4 4 4 6 4 6 4 7 4 7 4 6 4 7 4 6 4 4 4 4 4 3 4 1 4 0 4 0 4 -1 4 -2 4 -2 4 -2 4 -2 4 -2 4 -3 4 -2 4 -1 4 0 4 0 4 0 4 1 4 1 4 0 4 -1 4 -1 4 -1 4 -1 4 0 4 -1 4 -1 4 0 4 0 4 0 4 1 4 0 4 1 4 0 4 1 4 0 4 1 4 0 4 0 4 0 4 0 4 -1 4 0 4 0 4 0 4 1 4 0 4 0 4 0 4 0 4 -1 4 0 4 -1 4 -1 4 -1 4 0 4 -1 4 -2 4 -1 4 -1 4 -1 4 -1 4 -1 4 -1 4 0 4 0 4 0 4 1 4 0 4 0 4 1 4 0 4 1 4 0 4 1 4 0 4 1 4 0 4 1" stroke="#c0408e"/><path vector-effect="non-scaling-stroke" d="M-100 13l4 -1 4 -1 4 -1 4 0 4 1 4 1 4 2 4 2 4 1 4 2 4 1 4 2 4 1 4 2 4 2 4 1 4 2 4 0 4 0 4 -1 4 -2 4 -3 4 -3 4 -3 4 -3 4 -1 4 -1 4 0 4 0 4 2 4 1 4 2 4 2 4 2 4 2 4 1 4 0 4 0 4 0 4 -1 4 -1 4 -1 4 0 4 0 4 2 4 1 4 2 4 1 4 1 4 1 4 0 4 -1 4 -1 4 -2 4 -3 4 -4 4 -3 4 -4 4 -3 4 -3 4 -2 4 -3 4 -6 4 -8 4 -9 4 -9 4 -8 4 -7 4 -5 4 -3 4 -2 4 1 4 2 4 5 4 5 4 7 4 6 4 6 4 6 4 5 4 4 4 3 4 3 4 3 4 1 4 2 4 1 4 1 4 1 4 0 4 -1 4 -1 4 -2 4 -2 4 -1 4 -2 4 0 4 0 4 0 4 1 4 1 4 1 4 1 4 1 4 1 4 1 4 0 4 1 4 0 4 -1 4 -1 4 -1 4 -1 4 -2 4 -1 4 -1 4 -1 4 -1 4 0 4 0 4 0 4 1 4 2 4 1 4 2 4 1 4 1 4 1 4 0 4 0 4 -1 4 -1 4 -1 4 -1 4 -1 4 -1 4 -1 4 -1 4 -2 4 -1 4 -2 4 -1 4 -2 4 -1 4 -1 4 -1 4 -1 4 -1 4 0 4 -1" stroke="#808080"/><path vector-effect="non-scaling-stroke" d="M-100 5l4 1 4 1 4 1 4 1 4 0 4 0 4 -1 4 -1 4 -2 4 -1 4 0 4 -1 4 -1 4 0 4 0 4 1 4 1 4 1 4 1 4 1 4 1 4 0 4 1 4 0 4 -1 4 -1 4 -1 4 -1 4 -1 4 0 4 -1 4 0 4 0 4 1 4 0 4 0 4 0 4 0 4 0 4 0 4 0 4 1 4 0 4 0 4 1 4 1 4 1 4 1 4 1 4 1 4 1 4 0 4 -1 4 -1 4 -2 4 -2 4 -2 4 -3 4 -1 4 -2 4 -1 4 0 4 2 4 2 4 3 4 3 4 3 4 3 4 3 4 3 4 2 4 1 4 1 4 1 4 0 4 -1 4 -1 4 -1 4 -1 4 -2 4 -1 4 -2 4 -1 4 -1 4 0 4 0 4 1 4 0 4 1 4 0 4 -1 4 -2 4 -2 4 -2 4 -3 4 -3 4 -3 4 -4 4 -3 4 -3 4 -3 4 -2 4 -3 4 -3 4 -2 4 -3 4 -4 4 -3 4 -4 4 -3 4 -3 4 -3 4 -2 4 -2 4 -2 4 -1 4 -2 4 -1 4 -1 4 -2 4 -1 4 -1 4 -1 4 -1 4 0 4 0 4 1 4 0 4 1 4 0 4 -1 4 -1 4 -1 4 -1 4 -2 4 -1 4 -1 4 -1 4 -1 4 0 4 0 4 0 4 1 4 0 4 0 4 0 4 -1 4 0 4 -1 4 0" stroke="#2aa050"/><path vector-effect="non-scaling-stroke" d="M-100 7l4 1 4 0 4 1 4 1 4 0 4 0 4 0 4 0 4 -1 4 -1 4 -1 4 0 4 -1 4 0 4 1 4 0 4 1 4 1 4 1 4 1 4 0 4 1 4 0 4 0 4 0 4 1 4 0 4 1 4 0 4 1 4 0 4 0 4 0 4 0 4 0 4 0 4 -1 4 0 4 -1 4 0 4 -1 4 0 4 -1 4 0 4 -1 4 0 4 0 4 0 4 0 4 0 4 1 4 0 4 1 4 0 4 0 4 -2 4 -2 4 -2 4 -2 4 -2 4 -2 4 0 4 0 4 2 4 2 4 2 4 2 4 3 4 2 4 2 4 2 4 1 4 1 4 0 4 0 4 -1 4 0 4 -1 4 0 4 0 4 -1 4 0 4 -1 4 0 4 0 4 0 4 0 4 1 4 0 4 0 4 -1 4 -1 4 -2 4 -2 4 -2 4 -3 4 -2 4 -3 4 -3 4 -3 4 -3 4 -3 4 -3 4 -3 4 -4 4 -3 4 -3 4 -3 4 -4 4 -3 4 -3 4 -3 4 -4 4 -3 4 -3 4 -2 4 -3 4 -1 4 -2 4 -1 4 0 4 -1 4 -1 4 0 4 0 4 -1 4 0 4 0 4 0 4 -1 4 0 4 0 4 0 4 -1 4 0 4 -1 4 -1 4 -1 4 -1 4 -1 4 -1 4 -1 4 -1 4 -1 4 0 4 0 4 0 4 0 4 1 4 0" stroke="#60b040"/><path vector-effect="non-scaling-stroke" d="M-100 18l4 -2 4 -1 4 1 4 1 4 2 4 2 4 3 4 2 4 1 4 0 4 -1 4 -1 4 -3 4 -3 4 -2 4 -1 4 1 4 1 4 2 4 3 4 3 4 2 4 1 4 0 4 -1 4 -1 4 -2 4 -1 4 -1 4 0 4 1 4 1 4 1 4 1 4 0 4 -1 4 -1 4 -3 4 -2 4 -2 4 -1 4 -1 4 0 4 1 4 1 4 1 4 1 4 0 4 0 4 0 4 0 4 0 4 1 4 1 4 0 4 -1 4 -2 4 -3 4 -3 4 -2 4 -2 4 -3 4 -4 4 -6 4 -7 4 -7 4 -7 4 -6 4 -6 4 -4 4 -2 4 -1 4 1 4 1 4 2 4 3 4 4 4 4 4 4 4 4 4 4 4 4 4 5 4 5 4 4 4 4 4 2 4 2 4 0 4 0 4 -1 4 -1 4 -1 4 -1 4 0 4 -1 4 1 4 1 4 1 4 2 4 2 4 3 4 3 4 2 4 2 4 1 4 1 4 1 4 0 4 -1 4 0 4 -1 4 0 4 -1 4 0 4 -1 4 0 4 0 4 0 4 0 4 0 4 1 4 0 4 0 4 0 4 -1 4 0 4 -1 4 -2 4 -1 4 0 4 -1 4 0 4 0 4 0 4 0 4 0 4 1 4 1 4 1 4 0 4 1 4 1 4 1 4 1 4 1 4 1 4 0 4 1 4 0" stroke="#8a40b0"/><path vector-effect="non-scaling-stroke" d="M-100 31l4 0 4 0 4 1 4 0 4 0 4 -1 4 -1 4 -1 4 -1 4 -2 4 -1 4 -2 4 -1 4 -1 4 0 4 0 4 1 4 1 4 2 4 1 4 1 4 1 4 0 4 -1 4 -1 4 -1 4 -2 4 -2 4 -2 4 -1 4 0 4 0 4 1 4 1 4 0 4 0 4 -2 4 -2 4 -3 4 -3 4 -3 4 -2 4 -1 4 0 4 1 4 1 4 3 4 3 4 2 4 3 4 3 4 3 4 2 4 1 4 0 4 -3 4 -3 4 -4 4 -5 4 -3 4 -2 4 -3 4 -2 4 -4 4 -3 4 -4 4 -4 4 -3 4 -3 4 -2 4 -1 4 0 4 1 4 2 4 2 4 3 4 3 4 3 4 3 4 2 4 3 4 3 4 3 4 3 4 3 4 3 4 2 4 2 4 1 4 0 4 0 4 -1 4 -1 4 -2 4 0 4 -1 4 0 4 0 4 0 4 0 4 0 4 0 4 -1 4 0 4 -1 4 0 4 -1 4 0 4 -1 4 -1 4 0 4 -1 4 0 4 -1 4 0 4 0 4 0 4 0 4 0 4 0 4 0 4 -1 4 0 4 0 4 -1 4 0 4 0 4 0 4 0 4 0 4 0 4 -1 4 0 4 0 4 -1 4 0 4 -1 4 0 4 -1 4 0 4 0 4 -1 4 -1 4 -1 4 -1 4 -1 4 -1 4 0 4 0 4 1" stroke="#8a40b0"/><path vector-effect="non-scaling-stroke" d="M-100 -22l4 0 4 0 4 0 4 0 4 0 4 0 4 1 4 0 4 0 4 0 4 0 4 -1 4 0 4 -1 4 0 4 -1 4 0 4 -1 4 0 4 0 4 0 4 0 4 0 4 1 4 1 4 0 4 1 4 1 4 0 4 1 4 0 4 1 4 0 4 0 4 -1 4 0 4 -1 4 0 4 -1 4 -1 4 0 4 0 4 0 4 0 4 0 4 0 4 1 4 0 4 1 4 0 4 0 4 1 4 0 4 0 4 1 4 1 4 1 4 2 4 2 4 2 4 1 4 2 4 2 4 2 4 3 4 2 4 3 4 2 4 3 4 2 4 2 4 1 4 1 4 1 4 0 4 -1 4 0 4 -1 4 -1 4 -2 4 -1 4 -1 4 0 4 0 4 0 4 1 4 0 4 1 4 1 4 1 4 -1 4 -1 4 -1 4 -2 4 -1 4 -2 4 -1 4 -1 4 -1 4 -1 4 -1 4 -1 4 -1 4 -1 4 -1 4 -2 4 -1 4 -2 4 -1 4 -2 4 -2 4 -2 4 -3 4 -2 4 -3 4 -2 4 -3 4 -1 4 -2 4 -1 4 0 4 -1 4 1 4 0 4 0 4 0 4 0 4 0 4 0 4 -1 4 -1 4 -1 4 -1 4 0 4 0 4 0 4 0 4 1 4 0 4 1 4 1 4 0 4 1 4 -1 4 0 4 -1 4 0 4 -1 4 -2 4 -1" stroke="#4a2fb0"/><path vector-effect="non-scaling-stroke" d="M-100 5l4 1 4 0 4 1 4 1 4 0 4 1 4 0 4 0 4 -1 4 0 4 -1 4 -1 4 0 4 -1 4 0 4 -1 4 0 4 0 4 -1 4 0 4 0 4 0 4 -1 4 0 4 0 4 0 4 0 4 1 4 0 4 1 4 1 4 0 4 0 4 0 4 0 4 -1 4 -1 4 -1 4 -1 4 -1 4 0 4 -1 4 0 4 0 4 0 4 -1 4 0 4 0 4 0 4 0 4 -1 4 -1 4 -1 4 0 4 -1 4 0 4 1 4 1 4 1 4 1 4 0 4 -1 4 -3 4 -5 4 -5 4 -5 4 -5 4 -5 4 -3 4 -2 4 -1 4 0 4 1 4 1 4 2 4 2 4 2 4 3 4 2 4 3 4 3 4 2 4 3 4 1 4 1 4 0 4 0 4 0 4 -1 4 -1 4 0 4 0 4 0 4 0 4 0 4 1 4 0 4 1 4 1 4 1 4 2 4 1 4 2 4 1 4 1 4 2 4 1 4 0 4 1 4 1 4 0 4 0 4 -1 4 0 4 -1 4 -1 4 -1 4 -1 4 -1 4 -1 4 0 4 0 4 0 4 0 4 1 4 1 4 2 4 1 4 1 4 1 4 1 4 0 4 0 4 0 4 0 4 0 4 0 4 0 4 1 4 1 4 1 4 1 4 2 4 1 4 1 4 1 4 1 4 0 4 1 4 0" stroke="#2b5fd0"/><path vector-effect="non-scaling-stroke" d="M-100 -6l4 0 4 -1 4 0 4 0 4 0 4 -1 4 0 4 0 4 0 4 -1 4 0 4 0 4 1 4 0 4 0 4 0 4 0 4 1 4 0 4 0 4 0 4 0 4 0 4 1 4 0 4 0 4 1 4 0 4 0 4 1 4 0 4 -1 4 -1 4 -1 4 -1 4 -2 4 -1 4 -1 4 -1 4 0 4 0 4 1 4 1 4 1 4 0 4 0 4 0 4 0 4 0 4 0 4 0 4 0 4 1 4 1 4 1 4 1 4 0 4 1 4 0 4 0 4 0 4 1 4 1 4 1 4 1 4 1 4 2 4 1 4 1 4 1 4 0 4 1 4 0 4 0 4 -1 4 0 4 0 4 -1 4 0 4 -1 4 0 4 -1 4 -2 4 -2 4 -2 4 -3 4 -2 4 -3 4 -1 4 -2 4 0 4 1 4 1 4 2 4 1 4 2 4 3 4 2 4 2 4 3 4 2 4 2 4 3 4 3 4 2 4 3 4 3 4 3 4 3 4 2 4 3 4 2 4 1 4 0 4 -1 4 -1 4 -2 4 -2 4 -2 4 -1 4 -2 4 0 4 -1 4 0 4 0 4 0 4 1 4 0 4 0 4 0 4 0 4 -1 4 0 4 -1 4 -1 4 0 4 -1 4 0 4 -1 4 0 4 0 4 0 4 0 4 0 4 0 4 0 4 0 4 0 4 -1 4 0" stroke="#7a2fb8"/><path vector-effect="non-scaling-stroke" d="M-100 6l4 0 4 0 4 -1 4 0 4 0 4 0 4 0 4 0 4 0 4 0 4 0 4 1 4 1 4 0 4 1 4 0 4 1 4 0 4 0 4 0 4 0 4 0 4 0 4 0 4 0 4 1 4 0 4 0 4 0 4 0 4 0 4 0 4 0 4 -1 4 0 4 0 4 0 4 0 4 0 4 0 4 1 4 0 4 1 4 0 4 1 4 1 4 0 4 0 4 1 4 0 4 0 4 0 4 0 4 0 4 0 4 -2 4 -2 4 -2 4 -2 4 -2 4 -2 4 -2 4 -5 4 -5 4 -6 4 -6 4 -6 4 -5 4 -4 4 -3 4 -2 4 1 4 2 4 3 4 5 4 5 4 5 4 5 4 4 4 4 4 2 4 1 4 -1 4 -2 4 -3 4 -4 4 -4 4 -3 4 -4 4 -2 4 -2 4 -1 4 -1 4 0 4 -1 4 0 4 0 4 -1 4 0 4 1 4 0 4 1 4 0 4 1 4 0 4 0 4 0 4 0 4 0 4 1 4 0 4 1 4 1 4 2 4 2 4 2 4 2 4 1 4 2 4 1 4 0 4 0 4 -1 4 -1 4 -2 4 -1 4 -1 4 -1 4 -1 4 1 4 0 4 1 4 2 4 1 4 1 4 1 4 0 4 0 4 -1 4 -1 4 0 4 -1 4 -1 4 0 4 0 4 0 4 2 4 1 4 2 4 2" stroke="#7a2fb8"/><path vector-effect="non-scaling-stroke" d="M-100 0l4 -1 4 -2 4 -2 4 -1 4 -1 4 0 4 0 4 1 4 0 4 1 4 1 4 1 4 1 4 1 4 0 4 1 4 0 4 0 4 0 4 -1 4 0 4 -1 4 0 4 0 4 0 4 0 4 0 4 0 4 -1 4 0 4 0 4 -1 4 0 4 0 4 0 4 0 4 0 4 1 4 0 4 0 4 0 4 0 4 0 4 0 4 0 4 0 4 0 4 0 4 0 4 0 4 0 4 0 4 -1 4 0 4 -1 4 0 4 0 4 1 4 0 4 1 4 0 4 0 4 -3 4 -3 4 -3 4 -4 4 -4 4 -3 4 -3 4 -2 4 -1 4 0 4 1 4 2 4 3 4 3 4 3 4 3 4 3 4 2 4 2 4 1 4 1 4 1 4 0 4 0 4 -1 4 0 4 0 4 1 4 0 4 1 4 1 4 1 4 1 4 2 4 2 4 2 4 2 4 3 4 3 4 3 4 3 4 3 4 3 4 2 4 3 4 2 4 1 4 2 4 2 4 1 4 1 4 2 4 0 4 1 4 0 4 0 4 0 4 0 4 0 4 -1 4 0 4 -1 4 -1 4 -1 4 -2 4 -1 4 -2 4 -1 4 -2 4 -1 4 -1 4 -1 4 -1 4 0 4 -1 4 0 4 -1 4 0 4 1 4 0 4 1 4 1 4 1 4 1 4 1 4 0 4 1 4 0" stroke="#60b040"/><path vector-effect="non-scaling-stroke" d="M-100 -13l4 1 4 0 4 0 4 0 4 0 4 0 4 0 4 0 4 0 4 0 4 0 4 1 4 0 4 0 4 1 4 0 4 0 4 0 4 0 4 0 4 0 4 -1 4 0 4 0 4 -1 4 0 4 0 4 0 4 0 4 1 4 1 4 0 4 1 4 0 4 1 4 -1 4 -1 4 -1 4 -1 4 -1 4 -1 4 -1 4 0 4 1 4 0 4 1 4 1 4 1 4 0 4 -1 4 -1 4 -2 4 -2 4 -1 4 -1 4 1 4 2 4 2 4 3 4 2 4 2 4 -1 4 -4 4 -5 4 -6 4 -6 4 -5 4 -5 4 -4 4 -2 4 -2 4 1 4 1 4 2 4 4 4 4 4 4 4 4 4 4 4 4 4 3 4 4 4 5 4 4 4 4 4 4 4 4 4 3 4 2 4 2 4 1 4 0 4 0 4 -1 4 0 4 1 4 0 4 1 4 1 4 2 4 1 4 2 4 2 4 2 4 2 4 2 4 1 4 1 4 0 4 0 4 0 4 0 4 -1 4 0 4 -1 4 0 4 0 4 0 4 0 4 0 4 0 4 -1 4 0 4 -1 4 0 4 -1 4 0 4 0 4 0 4 1 4 1 4 1 4 1 4 1 4 1 4 1 4 0 4 0 4 0 4 -1 4 -1 4 -2 4 -2 4 -1 4 -2 4 -1 4 -1 4 0 4 0 4 0" stroke="#7a2fb8"/><path vector-effect="non-scaling-stroke" d="M-100 21l4 0 4 -1 4 -1 4 -1 4 -1 4 -1 4 -1 4 0 4 0 4 0 4 0 4 0 4 0 4 0 4 0 4 0 4 0 4 1 4 0 4 0 4 -1 4 0 4 -1 4 0 4 0 4 0 4 0 4 0 4 1 4 0 4 0 4 0 4 0 4 0 4 0 4 0 4 1 4 1 4 1 4 1 4 1 4 1 4 1 4 0 4 0 4 0 4 0 4 -1 4 -1 4 -1 4 0 4 0 4 0 4 0 4 -1 4 -2 4 -2 4 -3 4 -2 4 -3 4 -1 4 -1 4 2 4 3 4 4 4 4 4 5 4 4 4 4 4 4 4 3 4 3 4 1 4 1 4 0 4 -2 4 -3 4 -3 4 -4 4 -4 4 -3 4 -3 4 -2 4 -1 4 0 4 0 4 2 4 1 4 2 4 1 4 0 4 0 4 -2 4 -1 4 -1 4 -1 4 -2 4 -1 4 0 4 0 4 0 4 0 4 -1 4 0 4 0 4 -1 4 0 4 -1 4 -1 4 -1 4 -1 4 0 4 -1 4 0 4 0 4 0 4 0 4 0 4 1 4 1 4 0 4 1 4 1 4 1 4 1 4 1 4 1 4 1 4 1 4 1 4 1 4 0 4 0 4 -1 4 -1 4 -1 4 -1 4 -2 4 -1 4 0 4 -1 4 0 4 0 4 -1 4 1 4 0 4 0 4 1 4 0 4 1" stroke="#2aa050"/><path vector-effect="non-scaling-stroke" d="M-100 -8l4 0 4 0 4 0 4 0 4 -1 4 0 4 0 4 -1 4 -1 4 0 4 -1 4 -1 4 0 4 0 4 0 4 0 4 1 4 0 4 1 4 0 4 1 4 0 4 0 4 1 4 0 4 0 4 0 4 -1 4 0 4 0 4 -1 4 0 4 0 4 -1 4 0 4 0 4 0 4 0 4 0 4 0 4 0 4 0 4 0 4 0 4 0 4 0 4 0 4 0 4 1 4 0 4 0 4 1 4 0 4 1 4 1 4 0 4 1 4 0 4 0 4 1 4 0 4 -2 4 -5 4 -6 4 -7 4 -7 4 -7 4 -6 4 -5 4 -4 4 -2 4 0 4 3 4 6 4 7 4 8 4 7 4 6 4 5 4 3 4 2 4 1 4 1 4 1 4 1 4 0 4 1 4 0 4 1 4 0 4 0 4 0 4 0 4 0 4 -1 4 1 4 0 4 0 4 1 4 2 4 2 4 2 4 2 4 2 4 2 4 2 4 1 4 1 4 1 4 1 4 1 4 0 4 1 4 0 4 0 4 1 4 0 4 0 4 0 4 1 4 -1 4 0 4 0 4 -1 4 -1 4 -1 4 -2 4 -1 4 -1 4 -2 4 -1 4 -1 4 0 4 -1 4 0 4 0 4 -1 4 0 4 0 4 0 4 0 4 0 4 1 4 0 4 1 4 0 4 0 4 1 4 0 4 1" stroke="#4a2fb0"/><path vector-effect="non-scaling-stroke" d="M-100 2l4 0 4 1 4 1 4 1 4 1 4 0 4 1 4 -1 4 -1 4 0 4 -2 4 -1 4 -1 4 -1 4 -1 4 0 4 -1 4 -1 4 0 4 -1 4 0 4 0 4 1 4 0 4 1 4 1 4 0 4 1 4 0 4 0 4 0 4 0 4 0 4 0 4 0 4 -1 4 0 4 0 4 -1 4 0 4 0 4 0 4 0 4 0 4 1 4 0 4 0 4 1 4 0 4 1 4 1 4 1 4 1 4 1 4 1 4 0 4 -2 4 -1 4 -2 4 -2 4 -2 4 1 4 3 4 4 4 6 4 6 4 7 4 6 4 6 4 6 4 5 4 3 4 3 4 1 4 -1 4 -1 4 -2 4 -3 4 -3 4 -3 4 -3 4 -4 4 -4 4 -4 4 -4 4 -2 4 -2 4 -2 4 -1 4 0 4 -1 4 -1 4 -2 4 -2 4 -2 4 -2 4 -2 4 -2 4 -2 4 -2 4 -1 4 -1 4 -1 4 -1 4 -1 4 -1 4 -2 4 -1 4 -3 4 -2 4 -3 4 -3 4 -3 4 -3 4 -3 4 -2 4 -2 4 -2 4 -2 4 -1 4 0 4 -1 4 0 4 1 4 1 4 1 4 1 4 0 4 1 4 0 4 -1 4 -1 4 -1 4 -1 4 -1 4 -2 4 -1 4 -1 4 -1 4 0 4 0 4 0 4 0 4 0 4 0 4 0 4 0 4 0 4 1 4 0" stroke="#1f9a48"/><path vector-effect="non-scaling-stroke" d="M-100 2l4 0 4 1 4 0 4 0 4 -1 4 0 4 -1 4 -1 4 -1 4 -1 4 -1 4 -1 4 0 4 0 4 0 4 0 4 1 4 1 4 1 4 0 4 1 4 1 4 1 4 0 4 0 4 0 4 -1 4 0 4 -1 4 0 4 0 4 0 4 0 4 0 4 -1 4 -1 4 0 4 -1 4 -1 4 -1 4 0 4 -1 4 0 4 0 4 0 4 1 4 0 4 1 4 0 4 0 4 0 4 -1 4 -1 4 -2 4 -1 4 -1 4 1 4 0 4 2 4 1 4 1 4 -1 4 -2 4 -4 4 -4 4 -4 4 -4 4 -4 4 -3 4 -2 4 -1 4 0 4 0 4 1 4 1 4 2 4 2 4 2 4 3 4 3 4 3 4 4 4 4 4 4 4 4 4 2 4 3 4 1 4 1 4 1 4 -1 4 0 4 -2 4 -1 4 -1 4 -2 4 -1 4 -1 4 -1 4 -1 4 -1 4 -1 4 -1 4 -1 4 0 4 -1 4 0 4 -1 4 1 4 0 4 1 4 0 4 1 4 1 4 0 4 -1 4 -1 4 -1 4 -2 4 -1 4 -2 4 -2 4 -1 4 -1 4 0 4 0 4 0 4 1 4 0 4 1 4 0 4 0 4 0 4 0 4 0 4 0 4 1 4 0 4 1 4 0 4 0 4 1 4 0 4 -1 4 0 4 0 4 -1 4 -1 4 -2 4 -1" stroke="#505050"/><path vector-effect="non-scaling-stroke" d="M-100 3l4 0 4 0 4 -1 4 0 4 0 4 0 4 0 4 1 4 0 4 0 4 0 4 0 4 1 4 0 4 0 4 0 4 0 4 0 4 0 4 0 4 1 4 0 4 0 4 0 4 -1 4 0 4 -1 4 -1 4 -1 4 -1 4 0 4 -1 4 -1 4 0 4 0 4 -1 4 0 4 0 4 0 4 0 4 1 4 0 4 1 4 0 4 -1 4 0 4 -1 4 -1 4 -1 4 -1 4 0 4 0 4 0 4 0 4 1 4 0 4 1 4 1 4 0 4 1 4 0 4 0 4 -1 4 -1 4 -1 4 -2 4 -1 4 -2 4 0 4 -1 4 0 4 0 4 0 4 1 4 0 4 1 4 0 4 1 4 0 4 1 4 0 4 2 4 2 4 3 4 4 4 4 4 4 4 4 4 3 4 3 4 2 4 0 4 0 4 0 4 0 4 0 4 1 4 0 4 1 4 2 4 1 4 2 4 1 4 2 4 1 4 1 4 1 4 1 4 1 4 1 4 0 4 1 4 0 4 0 4 0 4 0 4 0 4 -1 4 0 4 -1 4 -1 4 -1 4 0 4 -1 4 0 4 0 4 0 4 1 4 0 4 1 4 1 4 0 4 1 4 0 4 1 4 0 4 0 4 -1 4 0 4 -1 4 -1 4 -1 4 -1 4 -1 4 -1 4 0 4 0 4 -1 4 0 4 0" stroke="#2b5fd0"/><path vector-effect="non-scaling-stroke" d="M-100 -25l4 -1 4 0 4 0 4 0 4 0 4 0 4 0 4 0 4 -1 4 0 4 0 4 1 4 0 4 1 4 1 4 1 4 1 4 1 4 0 4 0 4 0 4 -1 4 0 4 0 4 0 4 0 4 0 4 1 4 1 4 0 4 1 4 0 4 0 4 0 4 -1 4 0 4 -1 4 0 4 0 4 0 4 0 4 0 4 0 4 0 4 -1 4 0 4 0 4 0 4 0 4 1 4 1 4 2 4 2 4 2 4 1 4 2 4 1 4 1 4 0 4 0 4 0 4 -1 4 -4 4 -4 4 -5 4 -5 4 -5 4 -5 4 -3 4 -3 4 -1 4 -1 4 1 4 1 4 1 4 2 4 3 4 3 4 3 4 3 4 3 4 3 4 4 4 3 4 3 4 2 4 1 4 1 4 0 4 0 4 0 4 -1 4 0 4 -1 4 0 4 -1 4 0 4 1 4 0 4 0 4 0 4 0 4 1 4 -1 4 0 4 1 4 0 4 0 4 1 4 1 4 1 4 1 4 1 4 2 4 1 4 1 4 1 4 1 4 1 4 1 4 0 4 0 4 0 4 -1 4 -1 4 -1 4 -2 4 -1 4 -1 4 -1 4 0 4 0 4 0 4 1 4 0 4 0 4 0 4 0 4 0 4 -1 4 0 4 0 4 0 4 0 4 0 4 1 4 0 4 0 4 0 4 0" stroke="#1a3a9a"/><path vector-effect="non-scaling-stroke" d="M-100 -25l4 0 4 0 4 0 4 0 4 0 4 1 4 0 4 1 4 1 4 0 4 1 4 0 4 -1 4 0 4 0 4 -1 4 0 4 -1 4 0 4 0 4 0 4 0 4 1 4 0 4 1 4 0 4 0 4 0 4 0 4 0 4 0 4 0 4 0 4 1 4 0 4 -1 4 0 4 -1 4 0 4 -1 4 0 4 -1 4 0 4 0 4 -1 4 0 4 0 4 0 4 0 4 0 4 0 4 0 4 0 4 1 4 1 4 2 4 2 4 3 4 2 4 2 4 2 4 -2 4 -5 4 -7 4 -8 4 -9 4 -8 4 -7 4 -6 4 -4 4 -2 4 1 4 2 4 5 4 7 4 7 4 8 4 7 4 6 4 5 4 4 4 3 4 1 4 1 4 0 4 -1 4 0 4 -2 4 -1 4 -2 4 -1 4 -2 4 -2 4 -1 4 -2 4 -2 4 -2 4 -1 4 -1 4 0 4 0 4 1 4 0 4 1 4 2 4 1 4 1 4 1 4 1 4 1 4 0 4 0 4 0 4 0 4 -1 4 0 4 -1 4 -1 4 -2 4 -1 4 -1 4 -1 4 -2 4 -1 4 -1 4 -1 4 0 4 0 4 0 4 1 4 1 4 1 4 2 4 2 4 1 4 1 4 1 4 1 4 0 4 0 4 -1 4 -1 4 -1 4 -2 4 -2 4 -2 4 -1 4 -1 4 0 4 0" stroke="#8a7a2a"/><path vector-effect="non-scaling-stroke" d="M-100 8l4 0 4 0 4 0 4 0 4 1 4 1 4 0 4 1 4 0 4 0 4 -1 4 0 4 -1 4 -1 4 0 4 -1 4 0 4 -1 4 -1 4 0 4 -1 4 0 4 0 4 0 4 1 4 0 4 0 4 1 4 0 4 0 4 0 4 -1 4 0 4 0 4 0 4 -1 4 0 4 0 4 0 4 -1 4 0 4 0 4 0 4 0 4 0 4 0 4 0 4 0 4 1 4 0 4 1 4 1 4 2 4 1 4 0 4 0 4 -2 4 -2 4 -2 4 -2 4 -2 4 -3 4 -6 4 -6 4 -7 4 -7 4 -6 4 -5 4 -4 4 -3 4 -1 4 0 4 3 4 4 4 6 4 6 4 7 4 6 4 5 4 4 4 3 4 2 4 2 4 1 4 1 4 1 4 1 4 1 4 1 4 0 4 0 4 -1 4 -1 4 -1 4 -1 4 -2 4 -1 4 -2 4 -1 4 -1 4 -2 4 -1 4 -1 4 -1 4 -1 4 -1 4 -1 4 -1 4 -1 4 -1 4 -1 4 -1 4 -2 4 -1 4 -2 4 -2 4 -2 4 -3 4 -3 4 -3 4 -2 4 -2 4 -2 4 -1 4 0 4 0 4 1 4 1 4 1 4 1 4 1 4 1 4 1 4 1 4 0 4 0 4 0 4 1 4 0 4 0 4 1 4 1 4 0 4 1 4 0 4 1 4 0 4 1 4 0 4 0" stroke="#60b040"/><path vector-effect="non-scaling-stroke" d="M-100 -5l4 1 4 0 4 1 4 1 4 0 4 1 4 0 4 0 4 -1 4 0 4 -1 4 0 4 -1 4 -1 4 0 4 0 4 0 4 1 4 1 4 1 4 2 4 1 4 2 4 1 4 0 4 0 4 -1 4 0 4 -1 4 -1 4 -1 4 0 4 0 4 0 4 0 4 0 4 0 4 0 4 0 4 0 4 1 4 0 4 0 4 0 4 -1 4 0 4 -1 4 -1 4 0 4 0 4 1 4 2 4 1 4 2 4 0 4 0 4 -1 4 -1 4 -1 4 -1 4 -1 4 -2 4 -3 4 -4 4 -5 4 -4 4 -4 4 -4 4 -3 4 -2 4 -1 4 0 4 2 4 4 4 4 4 5 4 5 4 3 4 3 4 2 4 1 4 1 4 1 4 2 4 1 4 2 4 2 4 1 4 1 4 1 4 1 4 0 4 -1 4 0 4 0 4 -1 4 0 4 -1 4 0 4 0 4 0 4 1 4 1 4 1 4 1 4 2 4 1 4 2 4 1 4 1 4 2 4 1 4 0 4 1 4 0 4 1 4 0 4 0 4 0 4 -1 4 -1 4 -1 4 -1 4 -1 4 -1 4 -1 4 -2 4 -1 4 -1 4 -1 4 -1 4 -1 4 0 4 -1 4 0 4 1 4 0 4 1 4 1 4 0 4 1 4 0 4 0 4 0 4 0 4 0 4 0 4 0 4 1 4 1" stroke="#2a8f8f"/><path vector-effect="non-scaling-stroke" d="M-100 35l4 1 4 2 4 1 4 0 4 1 4 -1 4 0 4 -1 4 -2 4 -1 4 -1 4 -1 4 -2 4 0 4 -1 4 0 4 -1 4 0 4 0 4 -1 4 -1 4 -1 4 0 4 0 4 0 4 1 4 1 4 1 4 1 4 1 4 1 4 0 4 -1 4 0 4 -1 4 0 4 0 4 0 4 1 4 1 4 2 4 2 4 1 4 1 4 1 4 -1 4 0 4 -2 4 -2 4 -2 4 -1 4 -1 4 -1 4 0 4 -1 4 -2 4 -2 4 -4 4 -4 4 -3 4 -3 4 -1 4 -1 4 0 4 -1 4 0 4 -1 4 0 4 0 4 0 4 0 4 0 4 -1 4 0 4 -1 4 -1 4 0 4 -1 4 0 4 0 4 0 4 -1 4 0 4 -1 4 0 4 -1 4 -1 4 0 4 -1 4 0 4 -1 4 0 4 -1 4 -1 4 -1 4 -1 4 -1 4 -1 4 0 4 0 4 0 4 1 4 1 4 1 4 1 4 1 4 1 4 0 4 1 4 0 4 0 4 0 4 0 4 1 4 0 4 0 4 0 4 -1 4 0 4 -1 4 -2 4 -2 4 -2 4 -2 4 -1 4 -2 4 0 4 0 4 0 4 1 4 1 4 0 4 1 4 0 4 0 4 0 4 -1 4 -1 4 0 4 -1 4 -1 4 0 4 -1 4 0 4 0 4 0 4 1 4 1 4 1 4 2" stroke="#d06090"/><path vector-effect="non-scaling-stroke" d="M-100 3l4 0 4 0 4 0 4 0 4 -1 4 0 4 0 4 0 4 0 4 1 4 0 4 0 4 1 4 0 4 0 4 0 4 0 4 0 4 0 4 -1 4 0 4 0 4 0 4 -1 4 0 4 0 4 0 4 0 4 0 4 0 4 0 4 0 4 -1 4 0 4 0 4 0 4 0 4 1 4 0 4 0 4 0 4 -1 4 0 4 0 4 0 4 0 4 0 4 0 4 1 4 1 4 1 4 1 4 1 4 2 4 0 4 0 4 -1 4 -2 4 -2 4 -1 4 -2 4 1 4 4 4 6 4 7 4 8 4 8 4 7 4 8 4 6 4 6 4 4 4 3 4 1 4 0 4 -1 4 0 4 -1 4 -2 4 -1 4 -2 4 -3 4 -4 4 -4 4 -4 4 -3 4 -3 4 -2 4 -2 4 -1 4 -2 4 -2 4 -3 4 -4 4 -4 4 -4 4 -4 4 -4 4 -4 4 -3 4 -3 4 -3 4 -2 4 -2 4 -3 4 -3 4 -3 4 -4 4 -4 4 -5 4 -4 4 -5 4 -5 4 -5 4 -5 4 -5 4 -4 4 -5 4 -4 4 -3 4 -4 4 -3 4 -2 4 -2 4 -2 4 -1 4 0 4 -1 4 0 4 -1 4 0 4 0 4 0 4 1 4 0 4 1 4 0 4 1 4 1 4 0 4 1 4 0 4 1 4 0 4 1 4 1 4 1 4 1 4 1 4 1" stroke="#2aa050"/><path vector-effect="non-scaling-stroke" d="M-100 -11l4 0 4 -1 4 0 4 0 4 0 4 0 4 1 4 0 4 1 4 1 4 1 4 1 4 1 4 0 4 1 4 0 4 0 4 0 4 -1 4 0 4 0 4 0 4 -1 4 0 4 0 4 -1 4 0 4 -1 4 -1 4 0 4 -1 4 0 4 0 4 0 4 -1 4 0 4 0 4 0 4 0 4 -1 4 0 4 1 4 0 4 1 4 0 4 1 4 1 4 0 4 1 4 0 4 0 4 0 4 0 4 0 4 0 4 1 4 0 4 0 4 1 4 0 4 0 4 1 4 1 4 2 4 2 4 3 4 3 4 2 4 2 4 2 4 2 4 1 4 0 4 0 4 0 4 0 4 0 4 1 4 0 4 0 4 0 4 0 4 -1 4 0 4 -1 4 0 4 -1 4 0 4 0 4 0 4 0 4 -1 4 0 4 0 4 0 4 1 4 1 4 2 4 2 4 2 4 2 4 3 4 2 4 3 4 3 4 3 4 2 4 3 4 2 4 1 4 1 4 0 4 0 4 0 4 -1 4 -1 4 -1 4 0 4 0 4 0 4 0 4 1 4 1 4 0 4 0 4 1 4 0 4 0 4 0 4 -1 4 0 4 0 4 -1 4 0 4 -1 4 -2 4 -1 4 -1 4 -2 4 -1 4 -1 4 -1 4 0 4 -1 4 0 4 0 4 0 4 0 4 0 4 -1" stroke="#1a3a9a"/><path vector-effect="non-scaling-stroke" d="M-100 -6l4 0 4 -1 4 0 4 0 4 0 4 1 4 0 4 0 4 1 4 0 4 0 4 0 4 -1 4 0 4 1 4 0 4 0 4 0 4 1 4 0 4 0 4 0 4 -1 4 0 4 0 4 0 4 0 4 1 4 1 4 0 4 1 4 0 4 0 4 0 4 -1 4 0 4 -1 4 0 4 0 4 0 4 0 4 0 4 0 4 0 4 0 4 -1 4 0 4 0 4 0 4 0 4 0 4 0 4 0 4 0 4 0 4 0 4 0 4 1 4 0 4 0 4 0 4 -2 4 -7 4 -9 4 -9 4 -10 4 -9 4 -8 4 -7 4 -4 4 -3 4 0 4 1 4 2 4 3 4 4 4 4 4 5 4 5 4 5 4 5 4 6 4 6 4 4 4 4 4 2 4 2 4 0 4 0 4 0 4 -1 4 -1 4 0 4 -1 4 -1 4 -1 4 0 4 -1 4 0 4 0 4 0 4 0 4 1 4 -1 4 0 4 -1 4 -1 4 -1 4 -1 4 -1 4 -2 4 -1 4 -1 4 -1 4 -2 4 -1 4 0 4 -1 4 0 4 1 4 0 4 1 4 1 4 1 4 0 4 1 4 0 4 0 4 0 4 0 4 -1 4 0 4 0 4 0 4 0 4 0 4 0 4 0 4 -1 4 0 4 -1 4 0 4 -1 4 0 4 -1 4 0 4 0 4 0 4 1 4 0" stroke="#2b5fd0"/><path vector-effect="non-scaling-stroke" d="M-100 -15l4 0 4 0 4 1 4 0 4 1 4 1 4 0 4 1 4 0 4 0 4 0 4 -1 4 0 4 -1 4 0 4 -1 4 0 4 -1 4 0 4 0 4 0 4 0 4 0 4 0 4 1 4 0 4 1 4 0 4 1 4 0 4 1 4 1 4 0 4 0 4 0 4 -1 4 -1 4 -1 4 0 4 -1 4 0 4 0 4 0 4 0 4 0 4 1 4 0 4 0 4 0 4 0 4 0 4 -1 4 -1 4 -1 4 0 4 0 4 1 4 2 4 1 4 2 4 1 4 -2 4 -4 4 -5 4 -6 4 -6 4 -6 4 -5 4 -4 4 -2 4 -2 4 1 4 1 4 3 4 3 4 4 4 5 4 4 4 4 4 4 4 3 4 3 4 1 4 2 4 0 4 0 4 0 4 -1 4 -1 4 -1 4 -1 4 -1 4 -1 4 -1 4 -2 4 -1 4 -1 4 -1 4 -1 4 0 4 -1 4 0 4 0 4 0 4 1 4 0 4 -1 4 0 4 0 4 -1 4 -1 4 0 4 -1 4 -1 4 -1 4 -1 4 -1 4 -1 4 -1 4 -1 4 -1 4 -2 4 -1 4 -1 4 0 4 -1 4 0 4 0 4 0 4 0 4 0 4 0 4 0 4 0 4 0 4 0 4 1 4 0 4 0 4 0 4 1 4 0 4 1 4 0 4 1 4 0 4 1 4 0 4 0 4 0" stroke="#1a3a9a"/><path vector-effect="non-scaling-stroke" d="M-100 -9l4 1 4 0 4 1 4 0 4 1 4 0 4 0 4 0 4 0 4 1 4 0 4 0 4 -1 4 0 4 0 4 -1 4 0 4 0 4 0 4 0 4 0 4 0 4 -1 4 0 4 -1 4 0 4 -1 4 0 4 -1 4 0 4 0 4 0 4 0 4 0 4 -1 4 0 4 0 4 0 4 0 4 1 4 0 4 1 4 1 4 0 4 1 4 0 4 0 4 1 4 0 4 1 4 1 4 1 4 1 4 1 4 1 4 1 4 0 4 -1 4 0 4 -1 4 -1 4 0 4 2 4 3 4 4 4 4 4 4 4 4 4 4 4 4 4 3 4 3 4 2 4 0 4 0 4 0 4 -1 4 -1 4 -1 4 -2 4 -2 4 -2 4 -1 4 -2 4 -1 4 0 4 0 4 0 4 0 4 1 4 -1 4 0 4 -1 4 -1 4 -1 4 -2 4 -1 4 -1 4 -1 4 -1 4 -1 4 -1 4 0 4 -1 4 0 4 0 4 0 4 0 4 0 4 0 4 0 4 0 4 0 4 0 4 1 4 0 4 0 4 0 4 0 4 1 4 0 4 0 4 1 4 0 4 0 4 1 4 0 4 0 4 0 4 -1 4 0 4 0 4 0 4 0 4 0 4 0 4 1 4 0 4 1 4 0 4 0 4 0 4 -1 4 0 4 0 4 0 4 1 4 0 4 0 4 1" stroke="#8a7a2a"/><path vector-effect="non-scaling-stroke" d="M-100 10l4 0 4 0 4 0 4 0 4 0 4 1 4 0 4 0 4 1 4 0 4 0 4 0 4 0 4 0 4 0 4 1 4 0 4 0 4 1 4 0 4 0 4 0 4 0 4 0 4 -1 4 0 4 -1 4 0 4 0 4 0 4 0 4 0 4 1 4 0 4 0 4 0 4 0 4 0 4 0 4 -1 4 0 4 -1 4 -1 4 0 4 -1 4 -1 4 0 4 -1 4 0 4 1 4 1 4 1 4 2 4 1 4 0 4 0 4 -2 4 -2 4 -2 4 -2 4 -2 4 1 4 3 4 4 4 6 4 6 4 7 4 7 4 6 4 5 4 5 4 4 4 3 4 1 4 0 4 -1 4 -1 4 -1 4 -2 4 -1 4 -2 4 -3 4 -4 4 -4 4 -3 4 -4 4 -3 4 -2 4 -1 4 -1 4 -1 4 0 4 0 4 -1 4 0 4 0 4 0 4 0 4 0 4 1 4 1 4 0 4 1 4 1 4 0 4 0 4 0 4 -1 4 0 4 -1 4 -2 4 -1 4 -1 4 -2 4 0 4 -1 4 0 4 1 4 1 4 2 4 2 4 2 4 2 4 3 4 1 4 2 4 1 4 0 4 0 4 1 4 0 4 0 4 0 4 0 4 0 4 0 4 0 4 0 4 -1 4 0 4 -1 4 -1 4 -2 4 -1 4 -1 4 -1 4 -1 4 -1 4 0 4 1" stroke="#1f9a48"/><path vector-effect="non-scaling-stroke" d="M-100 -20l4 0 4 0 4 0 4 -1 4 0 4 -1 4 0 4 0 4 0 4 1 4 0 4 1 4 1 4 1 4 0 4 1 4 0 4 0 4 0 4 -1 4 0 4 -1 4 -1 4 0 4 -1 4 -1 4 0 4 -1 4 0 4 0 4 1 4 0 4 1 4 0 4 1 4 1 4 0 4 1 4 0 4 0 4 0 4 0 4 0 4 0 4 0 4 0 4 0 4 0 4 1 4 0 4 0 4 -1 4 -1 4 -2 4 0 4 0 4 2 4 2 4 2 4 2 4 2 4 2 4 4 4 6 4 6 4 7 4 8 4 7 4 7 4 6 4 5 4 4 4 3 4 1 4 -1 4 -3 4 -5 4 -5 4 -6 4 -6 4 -6 4 -6 4 -8 4 -7 4 -6 4 -5 4 -4 4 -3 4 -3 4 -1 4 -2 4 -1 4 -2 4 -1 4 -2 4 -2 4 -1 4 -1 4 -1 4 0 4 1 4 1 4 1 4 1 4 1 4 1 4 0 4 0 4 -1 4 -1 4 -1 4 -1 4 -2 4 -1 4 -1 4 -1 4 -2 4 -1 4 -1 4 -1 4 -1 4 -1 4 0 4 -1 4 0 4 0 4 0 4 0 4 0 4 0 4 0 4 1 4 1 4 1 4 1 4 1 4 1 4 1 4 2 4 1 4 1 4 1 4 1 4 1 4 1 4 0 4 1 4 0 4 0 4 -1" stroke="#6a30c0"/><path vector-effect="non-scaling-stroke" d="M-100 -15l4 -1 4 0 4 1 4 0 4 1 4 1 4 0 4 1 4 0 4 1 4 0 4 1 4 0 4 0 4 1 4 0 4 0 4 1 4 0 4 0 4 0 4 0 4 -1 4 0 4 0 4 -1 4 0 4 0 4 0 4 0 4 -1 4 0 4 0 4 -1 4 0 4 0 4 0 4 0 4 1 4 1 4 0 4 1 4 1 4 0 4 0 4 1 4 0 4 0 4 0 4 0 4 1 4 0 4 1 4 0 4 1 4 0 4 1 4 0 4 0 4 0 4 0 4 -2 4 -4 4 -5 4 -5 4 -5 4 -5 4 -4 4 -3 4 -2 4 -1 4 0 4 1 4 1 4 2 4 3 4 2 4 4 4 3 4 3 4 3 4 2 4 3 4 2 4 2 4 1 4 1 4 0 4 0 4 0 4 -1 4 -1 4 -1 4 -2 4 -1 4 -2 4 -1 4 -1 4 -1 4 -1 4 0 4 -1 4 -1 4 -1 4 -1 4 -2 4 -1 4 -2 4 -2 4 -1 4 -2 4 -1 4 -1 4 0 4 0 4 0 4 0 4 1 4 1 4 1 4 0 4 1 4 0 4 -1 4 0 4 -1 4 -1 4 -2 4 -1 4 -1 4 -1 4 -1 4 0 4 0 4 0 4 0 4 0 4 -1 4 -1 4 -1 4 -2 4 0 4 -1 4 0 4 1 4 1 4 0 4 1 4 1 4 0" stroke="#1f9a48"/><path vector-effect="non-scaling-stroke" d="M-100 -11l4 -1 4 0 4 0 4 0 4 0 4 1 4 0 4 0 4 0 4 0 4 0 4 0 4 0 4 0 4 0 4 1 4 0 4 0 4 0 4 0 4 0 4 0 4 0 4 0 4 -1 4 0 4 0 4 -1 4 0 4 0 4 0 4 0 4 0 4 0 4 1 4 0 4 0 4 0 4 -1 4 0 4 0 4 -1 4 0 4 0 4 -1 4 0 4 -1 4 0 4 -1 4 0 4 1 4 0 4 1 4 1 4 1 4 1 4 2 4 1 4 1 4 1 4 0 4 2 4 3 4 5 4 6 4 6 4 7 4 6 4 7 4 5 4 5 4 4 4 3 4 1 4 0 4 -2 4 -1 4 -3 4 -3 4 -2 4 -4 4 -5 4 -6 4 -6 4 -6 4 -6 4 -5 4 -4 4 -4 4 -2 4 -2 4 -2 4 -1 4 -2 4 -1 4 -2 4 -1 4 -2 4 -1 4 -2 4 -2 4 -1 4 -2 4 -2 4 -1 4 -2 4 -2 4 -2 4 -3 4 -2 4 -1 4 -2 4 -1 4 -2 4 -1 4 -1 4 -1 4 -1 4 -1 4 -1 4 -2 4 -1 4 -2 4 -1 4 -1 4 -1 4 -1 4 0 4 0 4 1 4 1 4 1 4 1 4 1 4 1 4 2 4 0 4 1 4 0 4 -1 4 0 4 -2 4 -1 4 -2 4 -1 4 -1 4 -1 4 0 4 0 4 0" stroke="#6a30c0"/><path vector-effect="non-scaling-stroke" d="M-100 35l4 2 4 1 4 0 4 0 4 0 4 -2 4 -1 4 -1 4 -1 4 0 4 0 4 1 4 0 4 1 4 0 4 0 4 -1 4 -1 4 0 4 -1 4 0 4 0 4 -1 4 -1 4 0 4 -1 4 -1 4 0 4 1 4 1 4 2 4 3 4 3 4 2 4 2 4 2 4 1 4 0 4 0 4 -1 4 -1 4 -2 4 -2 4 -2 4 -2 4 -1 4 0 4 0 4 1 4 2 4 2 4 2 4 2 4 0 4 -1 4 -3 4 -5 4 -7 4 -6 4 -6 4 -4 4 -4 4 -3 4 -3 4 -3 4 -2 4 -3 4 -2 4 -1 4 -1 4 0 4 0 4 1 4 2 4 1 4 3 4 2 4 1 4 2 4 1 4 0 4 0 4 0 4 -1 4 0 4 -1 4 0 4 0 4 1 4 1 4 1 4 1 4 1 4 1 4 1 4 1 4 2 4 2 4 2 4 3 4 3 4 3 4 4 4 4 4 4 4 4 4 3 4 4 4 2 4 3 4 1 4 1 4 1 4 0 4 -1 4 -1 4 -1 4 -1 4 -1 4 -1 4 0 4 -1 4 0 4 0 4 1 4 1 4 1 4 1 4 0 4 0 4 0 4 -1 4 -1 4 -2 4 -1 4 -1 4 -1 4 -1 4 0 4 0 4 0 4 0 4 1 4 0 4 1 4 0 4 0 4 0 4 0 4 -1" stroke="#9080c0"/><path vector-effect="non-scaling-stroke" d="M-100 -17l4 0 4 1 4 1 4 1 4 1 4 0 4 1 4 0 4 0 4 0 4 0 4 -1 4 0 4 0 4 -1 4 0 4 -1 4 -1 4 0 4 -1 4 0 4 1 4 1 4 0 4 2 4 1 4 0 4 1 4 0 4 0 4 -1 4 0 4 -1 4 0 4 -1 4 0 4 0 4 0 4 0 4 0 4 0 4 0 4 0 4 -1 4 0 4 0 4 0 4 -1 4 0 4 0 4 1 4 0 4 1 4 1 4 2 4 1 4 1 4 1 4 1 4 0 4 1 4 -3 4 -5 4 -8 4 -8 4 -8 4 -8 4 -7 4 -5 4 -4 4 -2 4 0 4 2 4 5 4 7 4 7 4 8 4 7 4 6 4 4 4 4 4 3 4 2 4 1 4 1 4 1 4 1 4 1 4 0 4 0 4 -1 4 -1 4 -2 4 -2 4 -3 4 -3 4 -2 4 -3 4 -2 4 -2 4 -2 4 -1 4 -2 4 -1 4 -2 4 -2 4 -3 4 -2 4 -3 4 -4 4 -3 4 -4 4 -4 4 -3 4 -4 4 -3 4 -2 4 -2 4 -2 4 -2 4 -1 4 -1 4 -1 4 -1 4 -1 4 0 4 0 4 0 4 1 4 0 4 1 4 2 4 1 4 2 4 2 4 1 4 2 4 1 4 1 4 1 4 1 4 0 4 0 4 -1 4 -1 4 0 4 -1 4 -1 4 -1 4 -1" stroke="#1a3a9a"/><path vector-effect="non-scaling-stroke" d="M-100 0l4 0 4 -1 4 -1 4 -1 4 0 4 0 4 0 4 0 4 1 4 0 4 1 4 0 4 0 4 -1 4 0 4 -1 4 0 4 -1 4 0 4 -1 4 0 4 -1 4 0 4 0 4 0 4 1 4 0 4 1 4 0 4 0 4 0 4 0 4 0 4 1 4 0 4 1 4 0 4 1 4 1 4 0 4 0 4 1 4 -1 4 0 4 -1 4 -1 4 -1 4 -1 4 -1 4 -1 4 -2 4 -2 4 -2 4 -2 4 -2 4 0 4 1 4 2 4 3 4 2 4 2 4 1 4 -2 4 -3 4 -3 4 -4 4 -4 4 -4 4 -3 4 -2 4 -1 4 -1 4 1 4 2 4 3 4 3 4 4 4 3 4 3 4 2 4 2 4 2 4 1 4 1 4 0 4 0 4 1 4 -1 4 0 4 -1 4 -1 4 -1 4 -2 4 -1 4 -2 4 -2 4 -2 4 -2 4 -1 4 -2 4 -1 4 -1 4 -1 4 -1 4 -1 4 -2 4 -2 4 -2 4 -3 4 -2 4 -3 4 -3 4 -3 4 -2 4 -2 4 -2 4 -2 4 -1 4 -1 4 0 4 -1 4 0 4 0 4 -1 4 0 4 0 4 0 4 -1 4 0 4 -1 4 0 4 -1 4 -1 4 -1 4 -2 4 -1 4 0 4 -1 4 -1 4 0 4 -1 4 0 4 1 4 0 4 0 4 1 4 1 4 1 4 1 4 1" stroke="#2a8f8f"/><path vector-effect="non-scaling-stroke" d="M-100 5l4 1 4 0 4 0 4 1 4 0 4 1 4 0 4 -1 4 0 4 0 4 0 4 -1 4 0 4 0 4 0 4 0 4 -1 4 0 4 0 4 0 4 0 4 1 4 0 4 1 4 1 4 0 4 0 4 -1 4 0 4 0 4 -1 4 0 4 0 4 0 4 0 4 0 4 -1 4 0 4 -1 4 0 4 0 4 0 4 0 4 0 4 1 4 0 4 1 4 0 4 1 4 0 4 1 4 0 4 1 4 1 4 -1 4 -1 4 -1 4 -3 4 -2 4 -2 4 -2 4 1 4 2 4 5 4 6 4 6 4 7 4 7 4 7 4 6 4 6 4 4 4 2 4 1 4 -1 4 -3 4 -4 4 -4 4 -4 4 -4 4 -4 4 -5 4 -4 4 -4 4 -3 4 -3 4 -1 4 -1 4 -1 4 0 4 -1 4 -1 4 -1 4 -1 4 -1 4 -2 4 -1 4 -1 4 -1 4 -1 4 -1 4 0 4 -1 4 0 4 -1 4 -1 4 0 4 -1 4 -1 4 0 4 -1 4 -1 4 0 4 -1 4 -1 4 -1 4 -1 4 -1 4 -1 4 0 4 -1 4 0 4 0 4 0 4 0 4 0 4 0 4 0 4 0 4 -1 4 -1 4 -2 4 -1 4 -1 4 -1 4 0 4 0 4 1 4 1 4 1 4 2 4 1 4 2 4 2 4 1 4 1 4 1 4 1 4 0 4 0" stroke="#60b040"/><path vector-effect="non-scaling-stroke" d="M-100 28l4 1 4 2 4 2 4 1 4 0 4 0 4 -1 4 -1 4 -2 4 -1 4 0 4 -1 4 0 4 1 4 0 4 2 4 1 4 1 4 1 4 1 4 0 4 0 4 -1 4 0 4 0 4 -1 4 0 4 0 4 -1 4 0 4 -1 4 0 4 -1 4 -1 4 -1 4 -1 4 -1 4 -1 4 -2 4 -2 4 -1 4 -2 4 -1 4 -1 4 0 4 1 4 1 4 2 4 2 4 2 4 2 4 2 4 2 4 1 4 0 4 -3 4 -4 4 -6 4 -5 4 -5 4 -4 4 -5 4 -7 4 -8 4 -9 4 -8 4 -8 4 -6 4 -5 4 -3 4 -1 4 2 4 3 4 6 4 7 4 7 4 7 4 7 4 5 4 4 4 3 4 3 4 2 4 2 4 2 4 1 4 2 4 1 4 1 4 0 4 0 4 0 4 -1 4 0 4 -1 4 0 4 0 4 0 4 1 4 0 4 0 4 1 4 0 4 0 4 -1 4 0 4 0 4 0 4 -1 4 0 4 1 4 0 4 1 4 0 4 1 4 0 4 -1 4 0 4 -1 4 -1 4 -1 4 -1 4 -1 4 0 4 0 4 0 4 1 4 0 4 0 4 0 4 -1 4 0 4 -1 4 0 4 0 4 0 4 1 4 0 4 1 4 1 4 0 4 0 4 0 4 0 4 -1 4 -1 4 -1 4 0 4 -1 4 -1" stroke="#a070d0"/><path vector-effect="non-scaling-stroke" d="M-100 13l4 -1 4 0 4 0 4 0 4 1 4 0 4 0 4 0 4 0 4 0 4 -1 4 1 4 0 4 0 4 0 4 1 4 0 4 0 4 -1 4 0 4 -1 4 -1 4 -1 4 -1 4 0 4 0 4 0 4 1 4 1 4 1 4 1 4 1 4 0 4 1 4 0 4 0 4 0 4 1 4 0 4 0 4 0 4 1 4 0 4 0 4 0 4 -1 4 0 4 -1 4 0 4 0 4 0 4 0 4 1 4 1 4 -1 4 -1 4 -2 4 -3 4 -3 4 -2 4 -2 4 -1 4 -2 4 -1 4 -1 4 -1 4 -1 4 -1 4 -1 4 0 4 -1 4 1 4 0 4 0 4 0 4 1 4 0 4 1 4 0 4 1 4 1 4 1 4 1 4 2 4 1 4 1 4 1 4 1 4 0 4 0 4 0 4 -1 4 -1 4 -1 4 -1 4 -1 4 0 4 0 4 1 4 0 4 2 4 1 4 2 4 1 4 1 4 2 4 1 4 1 4 1 4 2 4 1 4 1 4 1 4 1 4 0 4 0 4 -1 4 0 4 -1 4 -1 4 -1 4 0 4 0 4 0 4 1 4 1 4 1 4 1 4 1 4 1 4 0 4 0 4 -1 4 0 4 -1 4 -1 4 -2 4 -1 4 -1 4 -2 4 -1 4 -1 4 0 4 -1 4 0 4 0 4 0 4 1 4 0 4 1" stroke="#7a2fb8"/><path vector-effect="non-scaling-stroke" d="M-100 -2l4 1 4 0 4 1 4 0 4 1 4 0 4 0 4 0 4 0 4 0 4 0 4 -1 4 0 4 0 4 0 4 0 4 1 4 0 4 1 4 0 4 1 4 0 4 -1 4 0 4 -1 4 0 4 -1 4 -1 4 -1 4 0 4 -1 4 -1 4 0 4 0 4 0 4 1 4 0 4 0 4 0 4 0 4 0 4 0 4 0 4 0 4 0 4 0 4 0 4 0 4 0 4 0 4 1 4 1 4 1 4 0 4 0 4 0 4 -1 4 0 4 -1 4 -1 4 0 4 -2 4 -5 4 -5 4 -6 4 -6 4 -5 4 -5 4 -4 4 -3 4 -1 4 0 4 1 4 2 4 2 4 4 4 3 4 4 4 4 4 4 4 3 4 3 4 2 4 0 4 0 4 -1 4 -2 4 -1 4 -2 4 0 4 -1 4 1 4 1 4 0 4 1 4 1 4 1 4 2 4 2 4 2 4 3 4 3 4 2 4 3 4 2 4 3 4 2 4 2 4 2 4 2 4 3 4 2 4 2 4 1 4 2 4 1 4 1 4 0 4 1 4 0 4 -1 4 -1 4 0 4 -2 4 -1 4 -1 4 -1 4 -2 4 -1 4 -1 4 -1 4 -1 4 -1 4 -1 4 -1 4 -1 4 0 4 0 4 0 4 1 4 1 4 1 4 1 4 1 4 1 4 1 4 0 4 1 4 -1 4 0" stroke="#2a8f8f"/><path vector-effect="non-scaling-stroke" d="M-100 -26l4 1 4 1 4 0 4 1 4 0 4 0 4 0 4 0 4 0 4 1 4 0 4 0 4 0 4 0 4 0 4 0 4 0 4 0 4 1 4 1 4 1 4 1 4 0 4 1 4 0 4 0 4 0 4 -1 4 0 4 -1 4 -1 4 -1 4 -1 4 -1 4 0 4 -1 4 0 4 0 4 1 4 0 4 0 4 1 4 0 4 0 4 0 4 0 4 0 4 0 4 0 4 0 4 0 4 0 4 0 4 1 4 1 4 2 4 2 4 3 4 2 4 2 4 1 4 0 4 -3 4 -4 4 -4 4 -4 4 -5 4 -3 4 -4 4 -2 4 -1 4 1 4 1 4 2 4 3 4 4 4 3 4 4 4 3 4 3 4 2 4 1 4 1 4 0 4 0 4 0 4 -1 4 0 4 -1 4 0 4 -1 4 -1 4 -1 4 -1 4 -2 4 -2 4 -1 4 -1 4 -1 4 -1 4 0 4 1 4 0 4 1 4 0 4 -1 4 0 4 -1 4 -1 4 -2 4 -1 4 -2 4 -1 4 -1 4 -2 4 0 4 -1 4 -1 4 0 4 -1 4 0 4 0 4 -1 4 0 4 -1 4 0 4 0 4 -1 4 0 4 0 4 0 4 1 4 0 4 0 4 1 4 -1 4 0 4 -1 4 -1 4 -1 4 -1 4 -1 4 0 4 1 4 1 4 1 4 2 4 1 4 1 4 2" stroke="#4a2fb0"/><path vector-effect="non-scaling-stroke" d="M-100 17l4 0 4 0 4 0 4 0 4 0 4 0 4 0 4 -1 4 0 4 0 4 -1 4 0 4 0 4 -1 4 0 4 -1 4 0 4 -1 4 0 4 0 4 0 4 1 4 0 4 0 4 1 4 0 4 0 4 0 4 -1 4 0 4 0 4 0 4 0 4 0 4 0 4 0 4 0 4 0 4 -1 4 0 4 -1 4 0 4 -1 4 0 4 0 4 0 4 0 4 0 4 0 4 0 4 0 4 0 4 1 4 0 4 0 4 0 4 -2 4 -2 4 -2 4 -2 4 -1 4 -3 4 -5 4 -6 4 -7 4 -7 4 -6 4 -6 4 -5 4 -3 4 -1 4 0 4 2 4 3 4 4 4 5 4 5 4 6 4 5 4 4 4 5 4 4 4 4 4 4 4 3 4 4 4 2 4 3 4 2 4 1 4 0 4 -1 4 -1 4 -2 4 -2 4 -2 4 -2 4 -2 4 -1 4 -2 4 -1 4 0 4 -1 4 0 4 0 4 0 4 0 4 0 4 0 4 -1 4 -1 4 -2 4 -2 4 -3 4 -3 4 -3 4 -4 4 -3 4 -3 4 -2 4 -2 4 -1 4 0 4 0 4 0 4 1 4 1 4 1 4 0 4 1 4 0 4 1 4 0 4 0 4 1 4 0 4 0 4 1 4 1 4 0 4 1 4 1 4 0 4 0 4 1 4 0 4 0 4 0 4 0 4 0" stroke="#60b040"/><path vector-effect="non-scaling-stroke" d="M-100 7l4 0 4 0 4 0 4 1 4 0 4 0 4 0 4 0 4 0 4 -1 4 0 4 0 4 0 4 1 4 1 4 0 4 1 4 0 4 1 4 0 4 1 4 1 4 1 4 0 4 1 4 0 4 0 4 -1 4 0 4 -1 4 -2 4 -1 4 0 4 -1 4 0 4 0 4 0 4 0 4 0 4 -1 4 0 4 -1 4 0 4 0 4 0 4 0 4 1 4 0 4 1 4 0 4 0 4 0 4 0 4 0 4 0 4 -1 4 0 4 -1 4 -1 4 -1 4 0 4 -3 4 -6 4 -9 4 -10 4 -10 4 -10 4 -10 4 -7 4 -6 4 -3 4 0 4 2 4 4 4 6 4 6 4 8 4 7 4 7 4 6 4 5 4 5 4 4 4 4 4 2 4 1 4 1 4 0 4 0 4 1 4 -1 4 0 4 0 4 0 4 -1 4 0 4 1 4 0 4 1 4 2 4 1 4 2 4 2 4 1 4 1 4 1 4 1 4 1 4 0 4 0 4 -1 4 0 4 0 4 0 4 0 4 -1 4 0 4 0 4 -1 4 0 4 0 4 0 4 0 4 1 4 0 4 1 4 1 4 1 4 0 4 0 4 0 4 0 4 0 4 0 4 0 4 -1 4 0 4 0 4 0 4 -1 4 0 4 0 4 -1 4 0 4 0 4 0 4 0 4 0 4 -1 4 0" stroke="#2aa050"/><path vector-effect="non-scaling-stroke" d="M-100 12l4 -1 4 -1 4 -1 4 0 4 1 4 0 4 1 4 0 4 0 4 1 4 0 4 0 4 0 4 0 4 0 4 -1 4 0 4 0 4 0 4 0 4 0 4 0 4 0 4 -1 4 -1 4 -1 4 -1 4 -1 4 0 4 0 4 0 4 1 4 2 4 1 4 1 4 2 4 0 4 1 4 1 4 0 4 0 4 1 4 0 4 1 4 0 4 -1 4 0 4 -1 4 -2 4 -1 4 -2 4 -1 4 0 4 -1 4 -1 4 -1 4 -1 4 -1 4 -2 4 -1 4 0 4 -1 4 -2 4 -3 4 -2 4 -3 4 -3 4 -2 4 -2 4 -1 4 -1 4 0 4 1 4 1 4 1 4 2 4 2 4 2 4 2 4 2 4 1 4 2 4 3 4 2 4 2 4 2 4 2 4 1 4 2 4 0 4 0 4 0 4 -1 4 -2 4 -1 4 -1 4 -1 4 -1 4 -1 4 0 4 0 4 -1 4 0 4 0 4 -1 4 0 4 -1 4 -1 4 -1 4 0 4 -1 4 0 4 -1 4 0 4 -1 4 0 4 -1 4 0 4 -1 4 0 4 0 4 0 4 0 4 0 4 0 4 0 4 0 4 -1 4 0 4 0 4 1 4 0 4 1 4 0 4 1 4 1 4 0 4 1 4 0 4 1 4 0 4 0 4 0 4 -1 4 0 4 0 4 0 4 1 4 0 4 0" stroke="#1f9a48"/><path vector-effect="non-scaling-stroke" d="M-100 -10l4 0 4 0 4 0 4 0 4 0 4 1 4 0 4 0 4 1 4 0 4 0 4 -1 4 0 4 -1 4 -1 4 -1 4 -1 4 0 4 -1 4 0 4 0 4 1 4 0 4 1 4 0 4 0 4 0 4 0 4 0 4 -1 4 0 4 0 4 -1 4 0 4 -1 4 0 4 0 4 1 4 0 4 1 4 0 4 1 4 1 4 0 4 1 4 0 4 -1 4 -1 4 0 4 -1 4 -1 4 0 4 0 4 1 4 1 4 0 4 1 4 1 4 0 4 1 4 0 4 1 4 2 4 4 4 3 4 5 4 4 4 4 4 4 4 4 4 3 4 3 4 2 4 1 4 -1 4 -2 4 -2 4 -3 4 -3 4 -3 4 -3 4 -3 4 -3 4 -3 4 -3 4 -2 4 -1 4 -1 4 -1 4 -2 4 -1 4 -1 4 -1 4 -1 4 -2 4 -1 4 -1 4 -1 4 -1 4 0 4 -1 4 -1 4 0 4 -1 4 -1 4 -1 4 0 4 -1 4 -1 4 0 4 -1 4 -1 4 0 4 -1 4 0 4 0 4 -1 4 0 4 0 4 0 4 0 4 0 4 0 4 0 4 0 4 0 4 0 4 0 4 -1 4 -1 4 -2 4 -1 4 -2 4 -1 4 -1 4 -1 4 -1 4 -1 4 0 4 0 4 0 4 0 4 1 4 0 4 0 4 1 4 0 4 0 4 0 4 -1" stroke="#1f9a48"/><path vector-effect="non-scaling-stroke" d="M-100 -19l4 0 4 1 4 0 4 1 4 1 4 1 4 0 4 0 4 0 4 0 4 0 4 0 4 0 4 0 4 0 4 0 4 -1 4 0 4 0 4 0 4 -1 4 0 4 -1 4 0 4 0 4 0 4 0 4 0 4 0 4 1 4 0 4 0 4 0 4 0 4 0 4 0 4 0 4 -1 4 0 4 0 4 -1 4 0 4 0 4 -1 4 0 4 0 4 -1 4 0 4 1 4 0 4 1 4 0 4 0 4 1 4 0 4 2 4 2 4 2 4 2 4 1 4 1 4 0 4 0 4 -1 4 0 4 -1 4 -1 4 -1 4 0 4 0 4 -1 4 1 4 0 4 0 4 1 4 0 4 1 4 0 4 1 4 0 4 1 4 0 4 0 4 1 4 0 4 1 4 0 4 1 4 0 4 0 4 0 4 -1 4 -1 4 -1 4 -1 4 0 4 -1 4 -1 4 0 4 0 4 -1 4 0 4 0 4 -1 4 -1 4 -1 4 -2 4 -1 4 -3 4 -2 4 -2 4 -2 4 -1 4 -2 4 -1 4 0 4 -1 4 0 4 -1 4 0 4 -1 4 0 4 -1 4 0 4 0 4 0 4 1 4 0 4 1 4 0 4 0 4 -1 4 -1 4 -1 4 -1 4 -1 4 -1 4 0 4 -1 4 1 4 0 4 0 4 1 4 1 4 0 4 1 4 1 4 1 4 0 4 1" stroke="#2b5fd0"/><path vector-effect="non-scaling-stroke" d="M-100 -21l4 0 4 -1 4 0 4 -1 4 0 4 0 4 0 4 0 4 0 4 0 4 0 4 1 4 0 4 1 4 1 4 0 4 0 4 1 4 0 4 0 4 0 4 0 4 0 4 0 4 0 4 0 4 0 4 0 4 -1 4 -1 4 0 4 -1 4 -1 4 0 4 0 4 -1 4 1 4 0 4 0 4 1 4 0 4 1 4 0 4 0 4 -1 4 0 4 0 4 0 4 0 4 1 4 0 4 1 4 1 4 1 4 1 4 2 4 1 4 2 4 1 4 1 4 1 4 -1 4 -2 4 -2 4 -3 4 -3 4 -3 4 -2 4 -2 4 -2 4 0 4 -1 4 1 4 1 4 1 4 1 4 2 4 2 4 2 4 1 4 2 4 3 4 2 4 3 4 4 4 3 4 2 4 3 4 2 4 1 4 0 4 -1 4 -2 4 -2 4 -2 4 -2 4 -2 4 -3 4 -2 4 -3 4 -3 4 -3 4 -3 4 -3 4 -3 4 -3 4 -3 4 -3 4 -4 4 -3 4 -4 4 -3 4 -4 4 -3 4 -4 4 -3 4 -2 4 -3 4 -2 4 -1 4 -2 4 0 4 -1 4 0 4 0 4 1 4 0 4 1 4 1 4 1 4 1 4 0 4 1 4 0 4 1 4 0 4 0 4 1 4 0 4 0 4 0 4 0 4 0 4 -1 4 0 4 -1 4 0 4 -1 4 0 4 0" stroke="#1a3a9a"/><path vector-effect="non-scaling-stroke" d="M-100 12l4 -1 4 0 4 1 4 0 4 0 4 0 4 0 4 1 4 1 4 1 4 2 4 2 4 2 4 1 4 1 4 0 4 0 4 -1 4 -2 4 -1 4 -2 4 -2 4 -2 4 -2 4 -2 4 -1 4 -2 4 -1 4 0 4 1 4 1 4 2 4 2 4 3 4 2 4 3 4 2 4 1 4 1 4 1 4 0 4 0 4 0 4 0 4 0 4 1 4 0 4 1 4 0 4 1 4 0 4 1 4 1 4 0 4 -1 4 -2 4 -4 4 -5 4 -5 4 -4 4 -4 4 -4 4 -8 4 -8 4 -9 4 -9 4 -8 4 -8 4 -5 4 -4 4 -2 4 0 4 2 4 4 4 5 4 5 4 7 4 7 4 6 4 6 4 5 4 5 4 2 4 2 4 0 4 -1 4 -1 4 -1 4 -2 4 -1 4 0 4 -1 4 0 4 -1 4 -1 4 -1 4 -1 4 0 4 -1 4 -1 4 0 4 -1 4 0 4 0 4 0 4 -1 4 0 4 0 4 -1 4 -1 4 -1 4 -2 4 -2 4 -2 4 -2 4 -2 4 -2 4 -1 4 -1 4 -1 4 0 4 1 4 0 4 1 4 0 4 1 4 0 4 0 4 0 4 -1 4 0 4 -1 4 -1 4 0 4 0 4 0 4 0 4 1 4 1 4 1 4 1 4 1 4 2 4 1 4 2 4 3 4 2 4 2 4 2 4 2" stroke="#a070d0"/><path vector-effect="non-scaling-stroke" d="M-100 -17l4 0 4 0 4 -1 4 0 4 0 4 0 4 -1 4 0 4 0 4 -1 4 0 4 0 4 0 4 0 4 0 4 0 4 0 4 0 4 0 4 1 4 1 4 1 4 0 4 1 4 0 4 0 4 0 4 0 4 0 4 0 4 0 4 0 4 0 4 -1 4 0 4 0 4 0 4 1 4 0 4 0 4 1 4 0 4 0 4 0 4 0 4 0 4 -1 4 0 4 -1 4 -2 4 -1 4 -3 4 -2 4 -2 4 0 4 1 4 2 4 4 4 4 4 3 4 3 4 0 4 -6 4 -7 4 -9 4 -9 4 -9 4 -8 4 -6 4 -5 4 -3 4 0 4 3 4 6 4 8 4 9 4 9 4 8 4 6 4 6 4 3 4 2 4 1 4 0 4 -1 4 -2 4 -2 4 -3 4 -2 4 -3 4 -2 4 -2 4 -2 4 -2 4 -2 4 -1 4 -2 4 -1 4 0 4 -1 4 0 4 0 4 0 4 -1 4 -1 4 -1 4 -1 4 -1 4 -2 4 -1 4 -2 4 -1 4 0 4 -1 4 0 4 0 4 0 4 0 4 0 4 0 4 0 4 0 4 0 4 0 4 -1 4 0 4 0 4 0 4 1 4 0 4 0 4 1 4 0 4 -1 4 0 4 -1 4 -2 4 -2 4 -2 4 -2 4 -2 4 -1 4 -1 4 -1 4 1 4 0 4 1 4 1 4 1 4 0" stroke="#1a3a9a"/><path vector-effect="non-scaling-stroke" d="M-100 -11l4 -1 4 0 4 1 4 0 4 0 4 1 4 0 4 0 4 0 4 1 4 0 4 0 4 0 4 1 4 0 4 0 4 0 4 0 4 -1 4 0 4 0 4 -1 4 0 4 0 4 0 4 0 4 0 4 0 4 0 4 0 4 0 4 0 4 0 4 0 4 1 4 0 4 0 4 0 4 0 4 0 4 0 4 0 4 1 4 0 4 0 4 1 4 0 4 0 4 0 4 0 4 0 4 0 4 -1 4 0 4 0 4 0 4 1 4 0 4 1 4 1 4 0 4 -3 4 -7 4 -9 4 -10 4 -11 4 -10 4 -8 4 -8 4 -5 4 -2 4 0 4 3 4 8 4 9 4 11 4 10 4 9 4 7 4 6 4 4 4 2 4 0 4 0 4 -2 4 -2 4 -3 4 -2 4 -2 4 -2 4 -1 4 1 4 0 4 1 4 1 4 2 4 1 4 3 4 2 4 3 4 3 4 3 4 3 4 2 4 3 4 3 4 2 4 3 4 3 4 3 4 3 4 3 4 3 4 3 4 2 4 1 4 2 4 0 4 0 4 0 4 -1 4 -1 4 -2 4 -2 4 -1 4 -1 4 -2 4 0 4 -1 4 0 4 0 4 0 4 0 4 0 4 0 4 1 4 -1 4 0 4 0 4 -1 4 -1 4 -1 4 0 4 0 4 0 4 1 4 1 4 1 4 2 4 2" stroke="#6a30c0"/><path vector-effect="non-scaling-stroke" d="M-100 1l4 0 4 0 4 0 4 1 4 0 4 0 4 0 4 0 4 0 4 0 4 0 4 1 4 0 4 1 4 0 4 0 4 1 4 0 4 0 4 0 4 0 4 0 4 -1 4 0 4 0 4 -1 4 -1 4 0 4 0 4 0 4 0 4 0 4 0 4 0 4 1 4 0 4 1 4 1 4 0 4 1 4 0 4 0 4 0 4 0 4 -1 4 0 4 -1 4 -2 4 0 4 -1 4 1 4 1 4 1 4 2 4 1 4 0 4 0 4 -1 4 -1 4 0 4 -1 4 -1 4 -2 4 -2 4 -2 4 -3 4 -2 4 -2 4 -2 4 -1 4 -1 4 1 4 0 4 2 4 2 4 2 4 2 4 2 4 1 4 2 4 1 4 0 4 1 4 1 4 1 4 1 4 0 4 0 4 -1 4 0 4 -2 4 -1 4 -2 4 -2 4 -2 4 -2 4 -2 4 -2 4 -1 4 -1 4 -1 4 0 4 -1 4 0 4 0 4 -1 4 0 4 -1 4 -1 4 -2 4 -1 4 -2 4 -2 4 -1 4 -2 4 -1 4 -1 4 -1 4 -1 4 -1 4 0 4 -1 4 0 4 -1 4 0 4 1 4 0 4 1 4 0 4 1 4 0 4 1 4 0 4 0 4 0 4 0 4 0 4 0 4 1 4 0 4 0 4 1 4 0 4 0 4 0 4 0 4 -1 4 0 4 -1 4 -1" stroke="#c0408e"/><path vector-effect="non-scaling-stroke" d="M-100 14l4 0 4 -1 4 0 4 1 4 0 4 0 4 1 4 0 4 0 4 1 4 0 4 0 4 -1 4 0 4 0 4 0 4 0 4 0 4 1 4 0 4 1 4 0 4 0 4 0 4 0 4 0 4 0 4 0 4 1 4 0 4 1 4 0 4 0 4 0 4 0 4 0 4 -1 4 0 4 -1 4 -1 4 -1 4 -1 4 0 4 0 4 0 4 0 4 1 4 0 4 1 4 0 4 1 4 1 4 1 4 1 4 0 4 -1 4 -2 4 -3 4 -3 4 -3 4 -2 4 0 4 1 4 4 4 3 4 5 4 5 4 5 4 4 4 4 4 4 4 2 4 2 4 1 4 0 4 -1 4 0 4 -1 4 -1 4 0 4 -2 4 -1 4 -3 4 -3 4 -3 4 -3 4 -3 4 -2 4 -1 4 -1 4 0 4 0 4 1 4 0 4 1 4 0 4 0 4 1 4 0 4 1 4 2 4 2 4 2 4 2 4 3 4 3 4 2 4 3 4 2 4 2 4 1 4 2 4 2 4 2 4 1 4 1 4 1 4 1 4 1 4 0 4 1 4 -1 4 0 4 -1 4 -1 4 -1 4 -2 4 -1 4 -1 4 -1 4 -1 4 -1 4 0 4 1 4 0 4 1 4 1 4 1 4 1 4 0 4 0 4 0 4 -1 4 0 4 -1 4 0 4 -1 4 0 4 -1 4 0" stroke="#7a2fb8"/><path vector-effect="non-scaling-stroke" d="M-100 7l4 -1 4 0 4 -1 4 -1 4 -1 4 0 4 -1 4 0 4 0 4 0 4 0 4 1 4 1 4 2 4 1 4 1 4 1 4 1 4 0 4 1 4 0 4 -1 4 0 4 -1 4 -1 4 -1 4 -1 4 0 4 -1 4 0 4 -1 4 0 4 -1 4 0 4 -1 4 0 4 0 4 0 4 0 4 0 4 0 4 0 4 0 4 0 4 0 4 -1 4 0 4 0 4 0 4 0 4 1 4 1 4 1 4 2 4 0 4 1 4 -1 4 -1 4 -2 4 -1 4 -1 4 0 4 2 4 3 4 3 4 4 4 3 4 4 4 3 4 3 4 2 4 2 4 1 4 0 4 0 4 0 4 0 4 -1 4 0 4 -1 4 -1 4 -2 4 -2 4 -3 4 -2 4 -3 4 -2 4 -2 4 -2 4 -2 4 -2 4 -2 4 -2 4 -2 4 -3 4 -2 4 -3 4 -2 4 -3 4 -2 4 -2 4 -1 4 -2 4 -1 4 -1 4 -1 4 -2 4 -1 4 -2 4 -3 4 -3 4 -3 4 -4 4 -3 4 -4 4 -3 4 -4 4 -2 4 -2 4 -2 4 -1 4 0 4 0 4 0 4 1 4 0 4 1 4 1 4 0 4 0 4 -1 4 -1 4 -1 4 -2 4 -1 4 -2 4 -1 4 -1 4 -1 4 0 4 0 4 1 4 0 4 0 4 0 4 0 4 0 4 -1 4 -1 4 0" stroke="#505050"/><path vector-effect="non-scaling-stroke" d="M-100 13l4 0 4 0 4 0 4 0 4 1 4 0 4 -1 4 0 4 0 4 -1 4 0 4 0 4 0 4 0 4 1 4 0 4 1 4 2 4 1 4 2 4 1 4 1 4 1 4 0 4 0 4 0 4 0 4 -1 4 -1 4 0 4 -1 4 0 4 -1 4 0 4 -1 4 0 4 -1 4 0 4 0 4 -1 4 0 4 -1 4 0 4 0 4 0 4 1 4 0 4 0 4 0 4 -1 4 -1 4 -1 4 -1 4 -1 4 -1 4 0 4 -1 4 -1 4 -1 4 -1 4 -1 4 1 4 3 4 5 4 6 4 6 4 6 4 7 4 6 4 5 4 4 4 4 4 2 4 1 4 -1 4 -2 4 -2 4 -2 4 -2 4 -3 4 -2 4 -3 4 -1 4 -1 4 -1 4 0 4 1 4 2 4 1 4 1 4 0 4 -1 4 -2 4 -1 4 -2 4 -2 4 -1 4 -2 4 -1 4 -2 4 -1 4 -2 4 -2 4 -2 4 -2 4 -2 4 -2 4 -2 4 -2 4 -2 4 -2 4 -2 4 -1 4 -2 4 -2 4 -2 4 -2 4 -2 4 -1 4 -1 4 -1 4 -1 4 -1 4 -1 4 -1 4 0 4 -1 4 -1 4 0 4 -1 4 0 4 -1 4 0 4 1 4 0 4 0 4 0 4 -1 4 -1 4 -1 4 -1 4 -1 4 -1 4 0 4 -1 4 0 4 1 4 0 4 1 4 0" stroke="#2aa050"/><path vector-effect="non-scaling-stroke" d="M-100 -8l4 0 4 -1 4 0 4 0 4 -1 4 0 4 0 4 -1 4 0 4 0 4 -1 4 1 4 0 4 1 4 0 4 1 4 0 4 0 4 0 4 0 4 -1 4 -1 4 0 4 0 4 0 4 0 4 -1 4 0 4 0 4 0 4 0 4 0 4 0 4 0 4 0 4 0 4 1 4 0 4 0 4 0 4 0 4 0 4 1 4 0 4 0 4 1 4 0 4 -1 4 0 4 0 4 0 4 0 4 0 4 0 4 1 4 0 4 1 4 1 4 0 4 1 4 0 4 1 4 2 4 3 4 4 4 5 4 4 4 4 4 4 4 4 4 3 4 2 4 2 4 0 4 0 4 -1 4 -1 4 -2 4 -1 4 -2 4 -1 4 -2 4 -1 4 -1 4 -1 4 0 4 1 4 1 4 1 4 1 4 0 4 -1 4 -1 4 -1 4 -2 4 -2 4 -2 4 -2 4 -1 4 -1 4 0 4 0 4 1 4 0 4 1 4 0 4 0 4 0 4 0 4 -1 4 0 4 -1 4 -1 4 0 4 -1 4 0 4 0 4 0 4 0 4 0 4 -1 4 0 4 -1 4 -1 4 -1 4 -2 4 -1 4 -2 4 -1 4 -1 4 -1 4 -1 4 0 4 0 4 0 4 0 4 0 4 0 4 0 4 -1 4 0 4 0 4 0 4 1 4 0 4 0 4 0 4 1 4 0 4 0" stroke="#8a7a2a"/><path vector-effect="non-scaling-stroke" d="M-100 19l4 1 4 2 4 1 4 2 4 1 4 1 4 -1 4 0 4 -2 4 -1 4 -1 4 0 4 0 4 2 4 2 4 2 4 3 4 2 4 2 4 2 4 1 4 0 4 0 4 -1 4 -2 4 -1 4 -3 4 -2 4 -3 4 -3 4 -2 4 -3 4 -2 4 -1 4 -1 4 0 4 0 4 1 4 1 4 1 4 1 4 1 4 0 4 1 4 0 4 1 4 2 4 1 4 2 4 2 4 2 4 2 4 3 4 2 4 0 4 -2 4 -4 4 -5 4 -5 4 -5 4 -4 4 -1 4 2 4 4 4 5 4 5 4 6 4 6 4 5 4 5 4 4 4 2 4 2 4 0 4 -1 4 -3 4 -3 4 -4 4 -4 4 -4 4 -3 4 -4 4 -4 4 -3 4 -3 4 -3 4 -2 4 -1 4 -2 4 -1 4 -2 4 -2 4 -2 4 -3 4 -3 4 -2 4 -2 4 -2 4 -1 4 -1 4 -1 4 0 4 0 4 0 4 -1 4 0 4 -1 4 0 4 -1 4 -1 4 -1 4 -2 4 -1 4 -1 4 -2 4 -2 4 -2 4 -2 4 -2 4 -1 4 -2 4 -1 4 -1 4 0 4 0 4 0 4 0 4 0 4 1 4 0 4 1 4 0 4 1 4 1 4 1 4 1 4 1 4 1 4 1 4 1 4 1 4 0 4 0 4 0 4 -1 4 -1 4 -2 4 -1 4 -1 4 -1" stroke="#8a40b0"/><path vector-effect="non-scaling-stroke" d="M-100 5l4 0 4 0 4 0 4 1 4 0 4 1 4 0 4 1 4 1 4 1 4 0 4 1 4 0 4 1 4 0 4 1 4 0 4 0 4 0 4 0 4 0 4 -1 4 0 4 -1 4 0 4 -1 4 0 4 -1 4 0 4 -1 4 -1 4 0 4 0 4 0 4 0 4 0 4 1 4 0 4 0 4 0 4 -1 4 0 4 -1 4 0 4 0 4 0 4 0 4 1 4 0 4 2 4 1 4 2 4 2 4 1 4 1 4 -1 4 -1 4 -3 4 -3 4 -3 4 -2 4 -3 4 -4 4 -5 4 -4 4 -5 4 -4 4 -3 4 -3 4 -1 4 -1 4 1 4 3 4 3 4 5 4 4 4 4 4 4 4 2 4 1 4 1 4 1 4 -1 4 0 4 -1 4 -1 4 -1 4 -1 4 -1 4 -1 4 -1 4 -2 4 -1 4 -2 4 -1 4 -2 4 -2 4 -1 4 -1 4 -1 4 -1 4 0 4 0 4 0 4 0 4 0 4 0 4 0 4 -1 4 -2 4 -1 4 -3 4 -2 4 -3 4 -2 4 -2 4 -2 4 -1 4 -1 4 -1 4 -1 4 0 4 -1 4 -1 4 0 4 0 4 0 4 2 4 1 4 2 4 2 4 1 4 1 4 1 4 0 4 -1 4 -1 4 -1 4 -1 4 -1 4 0 4 1 4 1 4 1 4 1 4 1 4 1 4 0 4 0 4 0" stroke="#7a2fb8"/><path vector-effect="non-scaling-stroke" d="M-100 12l4 0 4 0 4 0 4 0 4 -1 4 0 4 0 4 0 4 -1 4 1 4 0 4 0 4 0 4 1 4 0 4 0 4 0 4 0 4 0 4 0 4 1 4 0 4 0 4 0 4 -1 4 0 4 -1 4 -1 4 -1 4 -1 4 0 4 -1 4 0 4 1 4 0 4 1 4 1 4 1 4 1 4 1 4 0 4 1 4 -1 4 0 4 -1 4 -1 4 0 4 0 4 -1 4 0 4 -1 4 -1 4 -2 4 -1 4 -1 4 -1 4 -1 4 0 4 0 4 0 4 0 4 -1 4 -1 4 -1 4 -1 4 -2 4 -1 4 -1 4 -1 4 0 4 0 4 0 4 1 4 0 4 0 4 1 4 0 4 0 4 0 4 1 4 0 4 -1 4 -2 4 -2 4 -3 4 -4 4 -3 4 -4 4 -3 4 -3 4 -1 4 -1 4 0 4 -1 4 0 4 -1 4 0 4 0 4 0 4 0 4 0 4 1 4 1 4 0 4 1 4 0 4 1 4 0 4 -1 4 0 4 0 4 -1 4 -1 4 0 4 -1 4 -1 4 -1 4 0 4 -1 4 0 4 0 4 0 4 1 4 0 4 0 4 1 4 0 4 0 4 1 4 0 4 0 4 0 4 1 4 0 4 0 4 -1 4 0 4 -1 4 -1 4 -1 4 -1 4 -1 4 0 4 -1 4 0 4 -1 4 0 4 0 4 0 4 0" stroke="#1f9a48"/><path vector-effect="non-scaling-stroke" d="M-100 -3l4 0 4 -1 4 1 4 0 4 0 4 0 4 0 4 0 4 0 4 0 4 0 4 0 4 0 4 0 4 1 4 0 4 1 4 0 4 1 4 1 4 0 4 0 4 0 4 -1 4 0 4 0 4 0 4 -1 4 0 4 0 4 0 4 -1 4 0 4 0 4 0 4 0 4 0 4 0 4 0 4 0 4 0 4 0 4 0 4 0 4 0 4 0 4 0 4 0 4 1 4 1 4 1 4 1 4 2 4 1 4 0 4 0 4 -2 4 -1 4 -2 4 -1 4 -1 4 -1 4 -1 4 0 4 -1 4 0 4 0 4 -1 4 0 4 -1 4 0 4 0 4 1 4 0 4 1 4 0 4 1 4 0 4 1 4 0 4 1 4 0 4 0 4 -1 4 0 4 -1 4 -1 4 -1 4 -1 4 -1 4 -1 4 -1 4 -2 4 -1 4 -2 4 -2 4 -2 4 -2 4 -2 4 -3 4 -2 4 -2 4 -2 4 -2 4 -1 4 -1 4 -1 4 -2 4 -1 4 -2 4 -2 4 -2 4 -3 4 -3 4 -4 4 -2 4 -3 4 -2 4 -1 4 0 4 0 4 1 4 2 4 1 4 1 4 0 4 1 4 -1 4 0 4 -2 4 -1 4 -2 4 -2 4 -1 4 -2 4 -1 4 0 4 0 4 1 4 0 4 1 4 0 4 0 4 0 4 -1 4 -1 4 -1 4 -1 4 -2 4 -1" stroke="#c0408e"/><path vector-effect="non-scaling-stroke" d="M-100 -12l4 -1 4 0 4 -1 4 -1 4 -1 4 -1 4 0 4 0 4 0 4 0 4 1 4 0 4 1 4 0 4 0 4 -1 4 -1 4 -1 4 -1 4 0 4 -1 4 0 4 1 4 0 4 1 4 1 4 1 4 1 4 1 4 0 4 1 4 0 4 0 4 0 4 -1 4 0 4 0 4 -1 4 0 4 0 4 1 4 0 4 0 4 0 4 1 4 0 4 0 4 0 4 0 4 0 4 -1 4 0 4 -1 4 0 4 0 4 1 4 1 4 1 4 2 4 1 4 1 4 -2 4 -7 4 -8 4 -10 4 -9 4 -10 4 -8 4 -6 4 -5 4 -3 4 0 4 4 4 7 4 9 4 10 4 9 4 9 4 7 4 6 4 3 4 2 4 0 4 -2 4 -2 4 -3 4 -4 4 -3 4 -3 4 -1 4 -1 4 1 4 1 4 2 4 2 4 2 4 3 4 3 4 4 4 4 4 5 4 4 4 5 4 5 4 5 4 5 4 5 4 5 4 4 4 4 4 3 4 3 4 2 4 1 4 0 4 -1 4 -1 4 -1 4 -1 4 -1 4 -1 4 0 4 0 4 0 4 0 4 0 4 0 4 0 4 0 4 0 4 0 4 0 4 0 4 0 4 -1 4 0 4 -1 4 -1 4 -1 4 -2 4 -1 4 -1 4 -1 4 0 4 0 4 1 4 1 4 2 4 1 4 2" stroke="#4a2fb0"/><path vector-effect="non-scaling-stroke" d="M-100 11l4 0 4 0 4 -1 4 0 4 0 4 0 4 0 4 0 4 1 4 1 4 0 4 1 4 0 4 1 4 0 4 0 4 -1 4 0 4 0 4 0 4 0 4 0 4 0 4 0 4 0 4 -1 4 0 4 0 4 0 4 -1 4 0 4 0 4 0 4 -1 4 0 4 1 4 0 4 1 4 0 4 1 4 1 4 0 4 1 4 0 4 0 4 -1 4 1 4 0 4 0 4 1 4 2 4 2 4 2 4 1 4 0 4 -2 4 -3 4 -4 4 -5 4 -3 4 -3 4 0 4 3 4 6 4 6 4 7 4 7 4 8 4 6 4 6 4 6 4 3 4 3 4 1 4 0 4 -1 4 -2 4 -2 4 -2 4 -3 4 -3 4 -5 4 -5 4 -6 4 -5 4 -5 4 -4 4 -3 4 -2 4 -2 4 -1 4 -1 4 -2 4 -1 4 -2 4 -2 4 -2 4 -1 4 -1 4 0 4 0 4 0 4 0 4 0 4 1 4 0 4 -1 4 0 4 -1 4 -1 4 -1 4 -1 4 -1 4 0 4 -1 4 0 4 -1 4 0 4 0 4 0 4 0 4 0 4 0 4 0 4 0 4 -1 4 0 4 -1 4 -1 4 -1 4 -1 4 -1 4 -1 4 -1 4 -1 4 0 4 -1 4 -1 4 0 4 -1 4 0 4 0 4 -1 4 0 4 0 4 0 4 0 4 0 4 0 4 0" stroke="#1f9a48"/><path vector-effect="non-scaling-stroke" d="M-100 -20l4 1 4 0 4 0 4 -1 4 0 4 -1 4 0 4 -1 4 1 4 0 4 1 4 0 4 1 4 1 4 0 4 1 4 1 4 1 4 1 4 1 4 0 4 1 4 0 4 0 4 0 4 -1 4 -1 4 -1 4 -1 4 -1 4 -1 4 -1 4 0 4 0 4 1 4 0 4 1 4 1 4 1 4 0 4 1 4 0 4 0 4 0 4 -1 4 0 4 0 4 0 4 0 4 0 4 0 4 0 4 0 4 -1 4 1 4 1 4 1 4 2 4 1 4 1 4 1 4 1 4 1 4 3 4 3 4 3 4 4 4 4 4 3 4 4 4 2 4 3 4 1 4 1 4 -1 4 0 4 -1 4 -1 4 -1 4 -1 4 -1 4 -1 4 0 4 1 4 0 4 2 4 1 4 2 4 2 4 2 4 1 4 0 4 0 4 -1 4 0 4 0 4 0 4 0 4 1 4 2 4 1 4 2 4 2 4 2 4 1 4 2 4 2 4 1 4 1 4 1 4 1 4 1 4 0 4 1 4 0 4 0 4 0 4 0 4 0 4 0 4 0 4 0 4 0 4 1 4 0 4 0 4 -1 4 0 4 -1 4 0 4 -1 4 0 4 0 4 0 4 1 4 0 4 1 4 0 4 0 4 -1 4 -1 4 -1 4 -2 4 -1 4 -2 4 -2 4 -1 4 -1 4 0 4 0" stroke="#1f9a48"/><path vector-effect="non-scaling-stroke" d="M-100 19l4 1 4 0 4 0 4 0 4 0 4 0 4 0 4 1 4 0 4 1 4 1 4 0 4 1 4 0 4 0 4 -1 4 0 4 0 4 -1 4 0 4 0 4 0 4 -1 4 0 4 0 4 -1 4 -1 4 -1 4 -1 4 0 4 -1 4 0 4 1 4 0 4 1 4 0 4 0 4 0 4 0 4 0 4 0 4 -1 4 0 4 0 4 1 4 0 4 1 4 0 4 0 4 0 4 0 4 -1 4 -1 4 -2 4 -2 4 -2 4 -2 4 -2 4 -2 4 -1 4 -1 4 0 4 -1 4 0 4 -1 4 0 4 -1 4 -1 4 0 4 -1 4 0 4 -1 4 0 4 0 4 1 4 0 4 1 4 0 4 0 4 1 4 0 4 -2 4 -2 4 -3 4 -4 4 -4 4 -4 4 -4 4 -2 4 -2 4 0 4 1 4 2 4 2 4 2 4 3 4 2 4 4 4 3 4 4 4 4 4 4 4 5 4 5 4 5 4 5 4 5 4 5 4 4 4 4 4 4 4 3 4 2 4 1 4 0 4 0 4 -1 4 0 4 0 4 0 4 0 4 0 4 1 4 1 4 1 4 1 4 1 4 1 4 0 4 1 4 -1 4 -1 4 -1 4 -2 4 -2 4 -2 4 -1 4 -2 4 -1 4 -1 4 0 4 -1 4 -1 4 0 4 -1 4 0 4 -1 4 0 4 0 4 0" stroke="#1f9a48"/><path vector-effect="non-scaling-stroke" d="M-100 3l4 -1 4 0 4 -1 4 0 4 -1 4 0 4 -1 4 0 4 -1 4 -1 4 0 4 -1 4 -1 4 0 4 -1 4 0 4 1 4 0 4 1 4 1 4 0 4 1 4 1 4 1 4 0 4 0 4 0 4 0 4 0 4 0 4 -1 4 0 4 0 4 0 4 1 4 1 4 1 4 1 4 0 4 1 4 1 4 0 4 1 4 -1 4 0 4 0 4 -1 4 0 4 0 4 0 4 0 4 1 4 0 4 0 4 0 4 -1 4 -1 4 -1 4 -2 4 -1 4 0 4 1 4 4 4 6 4 7 4 7 4 8 4 7 4 7 4 7 4 5 4 4 4 3 4 2 4 -2 4 -4 4 -5 4 -6 4 -7 4 -6 4 -6 4 -6 4 -7 4 -5 4 -4 4 -4 4 -2 4 -2 4 -1 4 -1 4 0 4 0 4 0 4 1 4 0 4 1 4 0 4 2 4 1 4 3 4 2 4 3 4 3 4 3 4 3 4 3 4 2 4 2 4 1 4 1 4 1 4 0 4 0 4 1 4 0 4 0 4 1 4 0 4 1 4 0 4 1 4 0 4 0 4 0 4 0 4 0 4 -1 4 0 4 0 4 -1 4 0 4 -1 4 0 4 -1 4 -1 4 0 4 -1 4 0 4 -1 4 0 4 -1 4 0 4 -1 4 -1 4 -1 4 0 4 -1 4 -1 4 0 4 -1" stroke="#505050"/><path vector-effect="non-scaling-stroke" d="M-100 -11l4 0 4 0 4 0 4 -1 4 -1 4 -1 4 -2 4 -1 4 -1 4 -1 4 -1 4 -1 4 -1 4 0 4 0 4 0 4 1 4 0 4 1 4 1 4 1 4 0 4 0 4 0 4 0 4 0 4 1 4 0 4 0 4 0 4 0 4 -1 4 0 4 0 4 1 4 0 4 0 4 0 4 0 4 0 4 -1 4 0 4 -1 4 0 4 0 4 0 4 0 4 1 4 1 4 1 4 1 4 0 4 1 4 1 4 0 4 0 4 1 4 0 4 1 4 0 4 1 4 1 4 2 4 4 4 4 4 5 4 4 4 5 4 5 4 4 4 4 4 2 4 2 4 1 4 0 4 -1 4 -2 4 -1 4 -3 4 -2 4 -2 4 -4 4 -4 4 -4 4 -4 4 -4 4 -3 4 -3 4 -2 4 -1 4 -2 4 -1 4 -1 4 -2 4 -2 4 -2 4 -1 4 -2 4 -1 4 -1 4 0 4 0 4 0 4 0 4 0 4 -1 4 -1 4 -1 4 -1 4 -2 4 -2 4 -3 4 -3 4 -4 4 -3 4 -3 4 -3 4 -2 4 -1 4 -1 4 -1 4 0 4 0 4 0 4 0 4 0 4 -1 4 0 4 -1 4 -1 4 0 4 0 4 -1 4 1 4 0 4 0 4 0 4 1 4 1 4 0 4 1 4 0 4 1 4 1 4 0 4 1 4 0 4 0 4 0 4 0" stroke="#6a30c0"/><path vector-effect="non-scaling-stroke" d="M-100 -17l4 0 4 0 4 0 4 0 4 -1 4 0 4 -1 4 0 4 -1 4 0 4 0 4 0 4 0 4 0 4 0 4 1 4 0 4 1 4 0 4 1 4 0 4 0 4 0 4 -1 4 -1 4 -1 4 -1 4 -1 4 -1 4 -1 4 -1 4 0 4 0 4 0 4 1 4 0 4 1 4 1 4 1 4 0 4 1 4 0 4 0 4 1 4 1 4 0 4 0 4 0 4 0 4 -1 4 -1 4 -2 4 -2 4 -2 4 -1 4 1 4 3 4 3 4 4 4 3 4 2 4 0 4 -2 4 -4 4 -5 4 -5 4 -4 4 -4 4 -3 4 -2 4 -1 4 0 4 1 4 2 4 2 4 2 4 3 4 2 4 3 4 2 4 3 4 2 4 1 4 1 4 0 4 -1 4 -1 4 -1 4 -1 4 -1 4 0 4 1 4 1 4 1 4 2 4 1 4 2 4 3 4 2 4 3 4 3 4 3 4 3 4 4 4 3 4 3 4 3 4 3 4 2 4 2 4 2 4 1 4 1 4 0 4 0 4 0 4 0 4 0 4 0 4 0 4 1 4 0 4 0 4 1 4 0 4 0 4 -1 4 0 4 -1 4 -1 4 -1 4 0 4 -1 4 0 4 -1 4 0 4 0 4 0 4 1 4 0 4 0 4 0 4 0 4 0 4 0 4 -1 4 0 4 0 4 -1 4 0" stroke="#1a3a9a"/><path vector-effect="non-scaling-stroke" d="M-100 -11l4 1 4 0 4 0 4 1 4 0 4 1 4 0 4 0 4 1 4 0 4 0 4 1 4 0 4 -1 4 0 4 -1 4 -1 4 0 4 0 4 0 4 0 4 0 4 0 4 0 4 0 4 -1 4 0 4 -1 4 -1 4 0 4 -1 4 0 4 0 4 0 4 0 4 0 4 1 4 0 4 0 4 -1 4 0 4 -1 4 0 4 0 4 0 4 0 4 1 4 0 4 1 4 1 4 0 4 1 4 0 4 1 4 0 4 1 4 1 4 1 4 1 4 1 4 0 4 0 4 -1 4 -3 4 -3 4 -3 4 -4 4 -3 4 -3 4 -2 4 -1 4 -1 4 1 4 1 4 2 4 2 4 3 4 2 4 2 4 2 4 2 4 2 4 3 4 4 4 4 4 4 4 4 4 4 4 3 4 2 4 1 4 -1 4 -1 4 0 4 -1 4 -1 4 -1 4 -1 4 -1 4 -1 4 0 4 -1 4 -1 4 -1 4 -1 4 -1 4 -1 4 -1 4 -1 4 -2 4 -1 4 -2 4 -1 4 -1 4 -1 4 -1 4 -1 4 0 4 -1 4 -1 4 0 4 -1 4 0 4 0 4 1 4 0 4 1 4 0 4 0 4 0 4 -1 4 -1 4 -2 4 -2 4 -2 4 -2 4 -1 4 -2 4 -1 4 -1 4 -1 4 0 4 1 4 1 4 1 4 2 4 2 4 2 4 2 4 1" stroke="#7a2fb8"/><path vector-effect="non-scaling-stroke" d="M-100 6l4 0 4 0 4 -1 4 0 4 -1 4 0 4 -1 4 0 4 0 4 0 4 1 4 0 4 0 4 0 4 0 4 1 4 0 4 0 4 0 4 0 4 1 4 0 4 0 4 0 4 0 4 0 4 0 4 -1 4 0 4 -1 4 -1 4 -1 4 0 4 -1 4 0 4 0 4 0 4 0 4 0 4 0 4 0 4 0 4 1 4 0 4 0 4 0 4 0 4 1 4 1 4 1 4 1 4 1 4 1 4 1 4 1 4 0 4 -1 4 -2 4 -2 4 -2 4 -1 4 0 4 3 4 5 4 5 4 7 4 6 4 7 4 6 4 6 4 5 4 3 4 3 4 1 4 -1 4 -4 4 -6 4 -6 4 -6 4 -6 4 -6 4 -6 4 -5 4 -4 4 -4 4 -2 4 -1 4 -1 4 0 4 -1 4 -1 4 -1 4 -1 4 -1 4 -1 4 -2 4 -1 4 -1 4 -1 4 -1 4 -2 4 -1 4 -1 4 -1 4 -2 4 -1 4 -2 4 -2 4 -2 4 -1 4 -2 4 -2 4 -1 4 -2 4 -1 4 -1 4 -1 4 -1 4 -1 4 -1 4 -1 4 -1 4 -1 4 0 4 -1 4 1 4 0 4 1 4 1 4 1 4 0 4 0 4 0 4 0 4 -1 4 -1 4 -1 4 0 4 0 4 0 4 1 4 0 4 1 4 0 4 1 4 0 4 -1 4 0 4 -1 4 -1" stroke="#7a2fb8"/><path vector-effect="non-scaling-stroke" d="M-100 6l4 0 4 1 4 0 4 0 4 1 4 0 4 0 4 0 4 0 4 0 4 0 4 0 4 0 4 1 4 -1 4 0 4 0 4 0 4 -1 4 0 4 0 4 0 4 0 4 0 4 1 4 0 4 0 4 1 4 0 4 -1 4 0 4 0 4 0 4 -1 4 0 4 0 4 0 4 0 4 0 4 0 4 0 4 0 4 0 4 0 4 -1 4 0 4 -1 4 -1 4 -1 4 0 4 0 4 1 4 1 4 1 4 0 4 0 4 -1 4 -1 4 0 4 -1 4 0 4 -2 4 -4 4 -5 4 -7 4 -6 4 -7 4 -6 4 -4 4 -4 4 -2 4 0 4 1 4 4 4 4 4 6 4 6 4 5 4 4 4 4 4 3 4 0 4 -1 4 -3 4 -4 4 -4 4 -4 4 -4 4 -3 4 -2 4 -1 4 0 4 1 4 2 4 1 4 2 4 2 4 2 4 3 4 3 4 3 4 4 4 3 4 3 4 4 4 3 4 3 4 3 4 3 4 3 4 3 4 2 4 2 4 2 4 2 4 1 4 0 4 0 4 0 4 0 4 -1 4 -1 4 -1 4 0 4 -1 4 0 4 -1 4 0 4 0 4 -1 4 -1 4 -1 4 -1 4 0 4 -1 4 -1 4 -1 4 0 4 0 4 0 4 0 4 0 4 1 4 0 4 0 4 0 4 1 4 0 4 0 4 1" stroke="#7a2fb8"/><path vector-effect="non-scaling-stroke" d="M-100 -13l4 0 4 0 4 1 4 0 4 1 4 1 4 0 4 0 4 0 4 0 4 -1 4 0 4 -1 4 -1 4 -1 4 0 4 -1 4 1 4 0 4 0 4 1 4 0 4 1 4 0 4 0 4 1 4 0 4 1 4 0 4 1 4 1 4 0 4 1 4 0 4 0 4 0 4 -1 4 0 4 -1 4 -1 4 0 4 -1 4 0 4 -1 4 0 4 -1 4 0 4 -1 4 -1 4 0 4 0 4 0 4 0 4 1 4 1 4 1 4 1 4 1 4 2 4 0 4 1 4 0 4 1 4 0 4 1 4 1 4 0 4 1 4 1 4 1 4 1 4 1 4 1 4 1 4 0 4 0 4 0 4 0 4 -1 4 -1 4 -1 4 -1 4 -1 4 -1 4 -1 4 -1 4 -1 4 -1 4 0 4 -1 4 -1 4 -1 4 0 4 -1 4 -1 4 0 4 -1 4 0 4 0 4 1 4 0 4 1 4 1 4 1 4 1 4 1 4 1 4 1 4 0 4 1 4 0 4 1 4 0 4 1 4 0 4 1 4 1 4 1 4 1 4 0 4 0 4 0 4 -1 4 0 4 -1 4 -1 4 0 4 -1 4 1 4 0 4 1 4 0 4 1 4 1 4 2 4 1 4 1 4 1 4 1 4 0 4 0 4 0 4 -1 4 -1 4 -1 4 -1 4 -2 4 -1 4 -1 4 -1" stroke="#6a30c0"/><path vector-effect="non-scaling-stroke" d="M-100 5l4 0 4 0 4 0 4 1 4 0 4 0 4 1 4 0 4 0 4 0 4 0 4 0 4 0 4 -1 4 0 4 0 4 0 4 0 4 0 4 0 4 -1 4 0 4 -1 4 0 4 0 4 1 4 0 4 1 4 0 4 0 4 0 4 0 4 -1 4 -1 4 -1 4 -1 4 0 4 0 4 0 4 0 4 1 4 0 4 1 4 0 4 0 4 1 4 0 4 1 4 0 4 1 4 0 4 1 4 1 4 0 4 0 4 0 4 -2 4 -1 4 -2 4 -1 4 -1 4 -1 4 -1 4 -2 4 -1 4 -2 4 -2 4 -1 4 -1 4 -1 4 -1 4 0 4 1 4 2 4 2 4 2 4 2 4 1 4 1 4 1 4 0 4 1 4 2 4 2 4 2 4 2 4 2 4 2 4 2 4 1 4 0 4 -1 4 -2 4 -1 4 -1 4 -2 4 -1 4 0 4 -1 4 0 4 0 4 1 4 0 4 1 4 1 4 0 4 1 4 0 4 0 4 0 4 0 4 -1 4 -1 4 -1 4 -1 4 -1 4 -1 4 0 4 -1 4 0 4 0 4 0 4 0 4 -1 4 0 4 0 4 -1 4 0 4 0 4 -1 4 0 4 0 4 0 4 0 4 -1 4 0 4 0 4 0 4 0 4 -1 4 0 4 0 4 0 4 -1 4 0 4 0 4 0 4 0 4 0 4 0" stroke="#1f9a48"/><path vector-effect="non-scaling-stroke" d="M-100 1l4 0 4 1 4 1 4 1 4 1 4 1 4 1 4 1 4 0 4 0 4 -1 4 -1 4 -1 4 -1 4 -2 4 -1 4 -1 4 -1 4 1 4 0 4 1 4 2 4 1 4 1 4 2 4 1 4 0 4 1 4 0 4 0 4 0 4 0 4 -1 4 -1 4 -1 4 0 4 -1 4 0 4 0 4 0 4 1 4 0 4 0 4 0 4 -1 4 0 4 -1 4 -1 4 -1 4 0 4 0 4 0 4 1 4 0 4 0 4 0 4 -1 4 -1 4 -1 4 -2 4 0 4 0 4 3 4 4 4 5 4 5 4 6 4 6 4 5 4 5 4 4 4 2 4 2 4 0 4 -1 4 -2 4 -3 4 -3 4 -4 4 -3 4 -3 4 -4 4 -5 4 -4 4 -4 4 -3 4 -2 4 -2 4 -2 4 0 4 0 4 1 4 1 4 1 4 1 4 2 4 1 4 2 4 3 4 2 4 2 4 3 4 2 4 2 4 3 4 2 4 2 4 3 4 2 4 2 4 2 4 2 4 1 4 2 4 1 4 1 4 0 4 1 4 0 4 0 4 0 4 0 4 -1 4 0 4 -1 4 0 4 -1 4 -1 4 0 4 -1 4 0 4 -1 4 0 4 0 4 0 4 1 4 0 4 1 4 1 4 2 4 1 4 0 4 1 4 0 4 -1 4 -1 4 -1 4 -1 4 -2 4 0" stroke="#2aa050"/><path vector-effect="non-scaling-stroke" d="M-100 23l4 -2 4 -2 4 -1 4 1 4 1 4 2 4 2 4 2 4 2 4 1 4 1 4 1 4 -1 4 -1 4 -2 4 -2 4 -3 4 -3 4 -3 4 -2 4 -1 4 0 4 0 4 1 4 2 4 2 4 3 4 2 4 2 4 2 4 1 4 -1 4 -1 4 -3 4 -2 4 -2 4 -1 4 0 4 1 4 1 4 2 4 1 4 1 4 0 4 0 4 0 4 0 4 -1 4 -1 4 -1 4 0 4 1 4 0 4 0 4 0 4 -2 4 -3 4 -3 4 -4 4 -3 4 -2 4 -4 4 -7 4 -9 4 -9 4 -9 4 -9 4 -8 4 -6 4 -4 4 -3 4 0 4 1 4 3 4 4 4 5 4 6 4 7 4 7 4 7 4 6 4 6 4 5 4 4 4 2 4 1 4 1 4 -1 4 -1 4 -1 4 -1 4 -1 4 0 4 0 4 1 4 0 4 1 4 1 4 1 4 2 4 2 4 2 4 2 4 2 4 2 4 1 4 1 4 0 4 1 4 0 4 0 4 0 4 1 4 0 4 1 4 0 4 0 4 1 4 -1 4 0 4 -1 4 -1 4 -1 4 -1 4 0 4 -1 4 0 4 0 4 0 4 0 4 1 4 1 4 1 4 2 4 2 4 2 4 1 4 2 4 1 4 0 4 -1 4 -1 4 -1 4 -1 4 -2 4 -1 4 -1 4 -1 4 0 4 -1" stroke="#a070d0"/><path vector-effect="non-scaling-stroke" d="M-100 5l4 -1 4 0 4 0 4 -1 4 0 4 1 4 0 4 0 4 1 4 0 4 1 4 0 4 1 4 0 4 1 4 0 4 0 4 1 4 0 4 0 4 0 4 0 4 0 4 1 4 0 4 0 4 0 4 0 4 0 4 0 4 0 4 0 4 0 4 -1 4 0 4 -1 4 0 4 -1 4 -1 4 0 4 0 4 0 4 0 4 1 4 1 4 0 4 1 4 0 4 0 4 0 4 -1 4 0 4 -1 4 -1 4 -1 4 -1 4 -1 4 -1 4 -2 4 -1 4 0 4 -2 4 -4 4 -4 4 -6 4 -5 4 -5 4 -4 4 -3 4 -3 4 -1 4 0 4 0 4 2 4 2 4 2 4 3 4 3 4 3 4 3 4 3 4 3 4 4 4 3 4 3 4 3 4 1 4 1 4 1 4 -1 4 -1 4 -2 4 -3 4 -3 4 -3 4 -3 4 -4 4 -3 4 -3 4 -3 4 -3 4 -2 4 -2 4 -2 4 -2 4 -2 4 -2 4 -3 4 -2 4 -3 4 -2 4 -2 4 -2 4 -2 4 -2 4 -3 4 -2 4 -2 4 -2 4 -2 4 -2 4 -2 4 -2 4 -1 4 0 4 0 4 0 4 1 4 1 4 1 4 0 4 1 4 0 4 0 4 -1 4 0 4 -1 4 -1 4 -1 4 -2 4 -1 4 -1 4 -2 4 -1 4 -1 4 -1 4 0 4 0 4 0 4 1" stroke="#2aa050"/><path vector-effect="non-scaling-stroke" d="M-100 13l4 -1 4 -1 4 -2 4 -1 4 -1 4 -1 4 -1 4 -1 4 0 4 0 4 0 4 0 4 0 4 0 4 0 4 -1 4 0 4 -1 4 0 4 0 4 0 4 0 4 1 4 0 4 1 4 1 4 0 4 1 4 0 4 0 4 0 4 -1 4 0 4 0 4 0 4 -1 4 1 4 0 4 0 4 1 4 0 4 1 4 0 4 0 4 1 4 0 4 0 4 0 4 0 4 1 4 1 4 1 4 1 4 1 4 0 4 -1 4 -2 4 -2 4 -3 4 -2 4 -2 4 -4 4 -8 4 -9 4 -9 4 -10 4 -9 4 -9 4 -6 4 -5 4 -2 4 0 4 2 4 5 4 6 4 7 4 8 4 8 4 8 4 6 4 5 4 6 4 4 4 4 4 4 4 2 4 3 4 2 4 1 4 1 4 0 4 0 4 -1 4 -1 4 -1 4 -1 4 -2 4 -1 4 -1 4 -1 4 0 4 -1 4 0 4 -1 4 -1 4 -1 4 -1 4 -1 4 -2 4 -1 4 -1 4 -1 4 -1 4 -2 4 -1 4 0 4 -1 4 0 4 -1 4 0 4 -1 4 0 4 -1 4 -1 4 -1 4 -1 4 -2 4 -1 4 -1 4 -1 4 -1 4 -1 4 -1 4 0 4 0 4 0 4 0 4 0 4 1 4 1 4 2 4 1 4 2 4 2 4 1 4 2 4 1 4 1 4 0 4 1" stroke="#2b5fd0"/><path vector-effect="non-scaling-stroke" d="M-100 -18l4 0 4 1 4 0 4 1 4 0 4 1 4 0 4 1 4 0 4 0 4 0 4 0 4 1 4 0 4 1 4 0 4 -1 4 0 4 -1 4 -1 4 -1 4 0 4 0 4 0 4 1 4 1 4 1 4 0 4 1 4 0 4 1 4 0 4 1 4 0 4 0 4 0 4 -1 4 -1 4 -1 4 -1 4 -1 4 -1 4 0 4 0 4 0 4 1 4 1 4 1 4 1 4 1 4 1 4 1 4 1 4 0 4 0 4 0 4 1 4 0 4 0 4 0 4 0 4 -1 4 -2 4 -2 4 -3 4 -3 4 -2 4 -2 4 -1 4 0 4 0 4 1 4 1 4 1 4 2 4 1 4 2 4 1 4 1 4 2 4 1 4 2 4 3 4 4 4 4 4 4 4 4 4 4 4 3 4 2 4 0 4 0 4 -2 4 -2 4 -3 4 -3 4 -3 4 -3 4 -4 4 -3 4 -3 4 -4 4 -2 4 -3 4 -3 4 -4 4 -3 4 -3 4 -4 4 -3 4 -4 4 -3 4 -3 4 -3 4 -3 4 -3 4 -3 4 -3 4 -2 4 -3 4 -2 4 -2 4 -1 4 -1 4 0 4 0 4 0 4 1 4 0 4 0 4 0 4 0 4 0 4 -1 4 0 4 -1 4 -1 4 0 4 -1 4 -1 4 -1 4 -1 4 -1 4 0 4 -1 4 0 4 0 4 0 4 0 4 0" stroke="#1f9a48"/><path vector-effect="non-scaling-stroke" d="M-100 3l4 0 4 1 4 0 4 0 4 1 4 0 4 0 4 0 4 1 4 0 4 0 4 0 4 0 4 0 4 1 4 0 4 1 4 0 4 0 4 1 4 0 4 -1 4 0 4 -1 4 -1 4 0 4 -1 4 0 4 0 4 0 4 0 4 0 4 0 4 0 4 0 4 0 4 1 4 0 4 0 4 1 4 1 4 0 4 1 4 0 4 0 4 0 4 0 4 -1 4 -1 4 -2 4 -2 4 -2 4 -1 4 -2 4 0 4 0 4 0 4 1 4 1 4 1 4 1 4 1 4 4 4 4 4 4 4 5 4 5 4 4 4 4 4 4 4 3 4 2 4 2 4 0 4 0 4 0 4 -1 4 0 4 -1 4 -1 4 -1 4 -2 4 -3 4 -3 4 -4 4 -3 4 -4 4 -3 4 -2 4 -2 4 -2 4 -2 4 -2 4 -3 4 -2 4 -3 4 -3 4 -3 4 -3 4 -3 4 -3 4 -3 4 -3 4 -2 4 -3 4 -3 4 -3 4 -3 4 -4 4 -3 4 -4 4 -3 4 -4 4 -3 4 -4 4 -2 4 -3 4 -2 4 -2 4 -1 4 -2 4 -1 4 -1 4 -1 4 -1 4 -1 4 0 4 -1 4 -1 4 0 4 0 4 0 4 0 4 1 4 0 4 1 4 0 4 0 4 1 4 0 4 0 4 1 4 0 4 0 4 -1 4 -1 4 -1 4 -1 4 -2 4 -1" stroke="#7a2fb8"/><path vector-effect="non-scaling-stroke" d="M-100 18l4 0 4 1 4 1 4 0 4 1 4 0 4 -1 4 0 4 0 4 0 4 0 4 0 4 0 4 0 4 0 4 0 4 0 4 0 4 -1 4 0 4 0 4 1 4 0 4 1 4 1 4 1 4 0 4 0 4 0 4 0 4 0 4 0 4 0 4 -1 4 0 4 -1 4 0 4 -1 4 -1 4 0 4 -1 4 0 4 -1 4 -1 4 0 4 -1 4 0 4 0 4 0 4 0 4 0 4 0 4 1 4 -1 4 0 4 -1 4 -2 4 -2 4 -2 4 -2 4 -1 4 -1 4 -1 4 0 4 0 4 -1 4 0 4 -1 4 0 4 -1 4 0 4 0 4 0 4 0 4 1 4 0 4 0 4 1 4 0 4 0 4 0 4 0 4 -1 4 0 4 -1 4 0 4 -1 4 0 4 0 4 0 4 0 4 0 4 0 4 0 4 -1 4 0 4 -1 4 0 4 -1 4 0 4 0 4 0 4 0 4 0 4 1 4 0 4 0 4 0 4 0 4 0 4 1 4 0 4 0 4 0 4 -1 4 -1 4 -1 4 -1 4 -1 4 -1 4 0 4 0 4 0 4 0 4 0 4 1 4 0 4 0 4 0 4 -1 4 0 4 0 4 1 4 1 4 2 4 1 4 2 4 2 4 2 4 1 4 0 4 0 4 0 4 0 4 -1 4 0 4 -1 4 -1 4 0 4 -1" stroke="#7a2fb8"/><path vector-effect="non-scaling-stroke" d="M-100 -2l4 0 4 1 4 0 4 0 4 0 4 1 4 0 4 0 4 0 4 0 4 0 4 0 4 0 4 0 4 0 4 1 4 0 4 1 4 1 4 0 4 1 4 0 4 1 4 0 4 0 4 -1 4 0 4 0 4 0 4 -1 4 1 4 0 4 1 4 0 4 1 4 0 4 1 4 -1 4 0 4 -1 4 -1 4 -1 4 -1 4 -1 4 -1 4 0 4 -1 4 0 4 0 4 1 4 1 4 2 4 2 4 3 4 1 4 1 4 -2 4 -2 4 -2 4 -3 4 -2 4 -2 4 -1 4 -2 4 -1 4 -1 4 0 4 -1 4 0 4 1 4 0 4 0 4 1 4 0 4 0 4 0 4 1 4 0 4 0 4 1 4 0 4 0 4 0 4 0 4 -1 4 0 4 -1 4 -1 4 -1 4 -1 4 -1 4 -1 4 -1 4 -1 4 -2 4 -2 4 -1 4 -2 4 -1 4 -1 4 -2 4 -1 4 -1 4 -2 4 -1 4 -2 4 -2 4 -2 4 -2 4 -2 4 -2 4 -2 4 -1 4 -1 4 -2 4 -1 4 -1 4 -1 4 -1 4 -1 4 -1 4 0 4 0 4 0 4 1 4 1 4 1 4 2 4 1 4 1 4 1 4 0 4 0 4 0 4 0 4 0 4 -1 4 -1 4 -1 4 -1 4 -1 4 -1 4 -1 4 -1 4 -1 4 -1 4 -2 4 -1 4 -2 4 -1" stroke="#60b040"/><path vector-effect="non-scaling-stroke" d="M-100 21l4 1 4 1 4 0 4 1 4 0 4 0 4 0 4 -1 4 -2 4 -2 4 -3 4 -3 4 -3 4 -2 4 0 4 0 4 0 4 2 4 1 4 1 4 0 4 0 4 0 4 0 4 0 4 -1 4 1 4 0 4 0 4 1 4 1 4 1 4 1 4 2 4 1 4 2 4 1 4 1 4 1 4 1 4 0 4 0 4 -1 4 -2 4 -1 4 -2 4 -1 4 -1 4 -1 4 -1 4 0 4 1 4 1 4 2 4 0 4 0 4 -2 4 -2 4 -3 4 -2 4 -2 4 0 4 2 4 2 4 4 4 4 4 4 4 4 4 4 4 3 4 3 4 2 4 1 4 0 4 -1 4 -1 4 -1 4 -1 4 -1 4 0 4 -1 4 0 4 0 4 -1 4 0 4 0 4 0 4 -1 4 0 4 -1 4 0 4 -1 4 -1 4 -1 4 -1 4 -1 4 -1 4 -1 4 0 4 -1 4 -1 4 0 4 0 4 0 4 -1 4 0 4 0 4 -1 4 0 4 -1 4 0 4 0 4 0 4 0 4 0 4 1 4 0 4 0 4 1 4 0 4 0 4 0 4 0 4 0 4 0 4 0 4 0 4 -1 4 0 4 0 4 0 4 0 4 0 4 1 4 0 4 1 4 0 4 1 4 0 4 0 4 0 4 0 4 1 4 0 4 0 4 0 4 1 4 -1 4 0 4 -1" stroke="#808080"/><path vector-effect="non-scaling-stroke" d="M-100 -1l4 0 4 -1 4 0 4 0 4 0 4 1 4 1 4 0 4 1 4 -1 4 0 4 -1 4 0 4 -1 4 0 4 0 4 0 4 0 4 1 4 0 4 1 4 0 4 1 4 0 4 0 4 0 4 0 4 0 4 -1 4 0 4 -1 4 0 4 -1 4 0 4 0 4 -1 4 0 4 0 4 0 4 1 4 0 4 1 4 1 4 0 4 1 4 0 4 1 4 -1 4 0 4 -1 4 0 4 -1 4 0 4 -1 4 0 4 0 4 -1 4 0 4 0 4 -1 4 0 4 1 4 0 4 1 4 1 4 1 4 1 4 1 4 1 4 1 4 1 4 0 4 0 4 0 4 -1 4 0 4 -1 4 -1 4 0 4 -1 4 0 4 -1 4 0 4 1 4 0 4 0 4 1 4 0 4 0 4 0 4 0 4 -1 4 -1 4 -1 4 -2 4 -2 4 -2 4 -2 4 -1 4 -2 4 -1 4 -1 4 0 4 -1 4 0 4 -1 4 0 4 0 4 0 4 -1 4 0 4 -1 4 -1 4 -1 4 0 4 -1 4 -1 4 -2 4 -1 4 -1 4 0 4 -1 4 0 4 -1 4 0 4 1 4 0 4 0 4 1 4 0 4 0 4 -1 4 0 4 -1 4 0 4 -1 4 -1 4 0 4 0 4 0 4 1 4 1 4 1 4 0 4 1 4 0 4 0 4 -1 4 0 4 -1" stroke="#60b040"/><path vector-effect="non-scaling-stroke" d="M-100 -13l4 0 4 -1 4 0 4 -1 4 -1 4 -1 4 -1 4 -1 4 0 4 -1 4 0 4 0 4 0 4 0 4 0 4 1 4 0 4 1 4 1 4 0 4 0 4 1 4 0 4 0 4 0 4 0 4 -1 4 0 4 0 4 0 4 0 4 0 4 0 4 0 4 0 4 0 4 0 4 0 4 0 4 0 4 0 4 0 4 0 4 1 4 0 4 1 4 0 4 1 4 0 4 0 4 0 4 -1 4 -1 4 -1 4 0 4 1 4 2 4 2 4 2 4 1 4 2 4 0 4 -1 4 -1 4 -2 4 -1 4 -2 4 -1 4 -1 4 -1 4 0 4 0 4 0 4 1 4 1 4 1 4 1 4 0 4 1 4 0 4 1 4 1 4 3 4 3 4 3 4 4 4 3 4 3 4 3 4 1 4 1 4 -1 4 -2 4 -1 4 -2 4 -2 4 -3 4 -2 4 -3 4 -3 4 -2 4 -2 4 -2 4 -2 4 -2 4 -3 4 -2 4 -2 4 -3 4 -3 4 -3 4 -4 4 -4 4 -4 4 -3 4 -4 4 -2 4 -3 4 -1 4 -2 4 -1 4 -1 4 -1 4 -1 4 0 4 -1 4 0 4 0 4 0 4 0 4 1 4 0 4 1 4 1 4 1 4 0 4 1 4 0 4 0 4 1 4 0 4 0 4 0 4 0 4 0 4 0 4 0 4 0 4 0 4 0" stroke="#4a2fb0"/><path vector-effect="non-scaling-stroke" d="M-100 -3l4 0 4 0 4 0 4 0 4 1 4 0 4 0 4 1 4 0 4 0 4 -1 4 0 4 -1 4 -1 4 0 4 0 4 0 4 0 4 0 4 1 4 1 4 0 4 1 4 0 4 0 4 0 4 0 4 0 4 0 4 0 4 0 4 0 4 -1 4 -1 4 0 4 -1 4 -1 4 -1 4 0 4 0 4 0 4 0 4 0 4 1 4 0 4 1 4 0 4 1 4 0 4 0 4 0 4 0 4 -1 4 0 4 0 4 0 4 0 4 1 4 1 4 0 4 1 4 0 4 0 4 -1 4 0 4 -1 4 -1 4 -1 4 -1 4 -1 4 0 4 -1 4 0 4 1 4 1 4 0 4 1 4 1 4 1 4 0 4 0 4 1 4 0 4 0 4 1 4 0 4 0 4 0 4 1 4 0 4 1 4 1 4 0 4 1 4 1 4 1 4 2 4 2 4 2 4 2 4 3 4 3 4 2 4 3 4 3 4 2 4 2 4 1 4 2 4 1 4 1 4 1 4 1 4 0 4 1 4 0 4 0 4 0 4 1 4 0 4 0 4 0 4 1 4 0 4 0 4 0 4 0 4 -1 4 0 4 -1 4 -1 4 -2 4 -1 4 -1 4 -1 4 -1 4 -1 4 0 4 0 4 0 4 0 4 0 4 0 4 0 4 1 4 0 4 0 4 0 4 -1 4 0" stroke="#c0408e"/><path vector-effect="non-scaling-stroke" d="M-100 1l4 -1 4 -1 4 0 4 -1 4 0 4 0 4 -1 4 0 4 0 4 0 4 0 4 0 4 0 4 0 4 0 4 1 4 0 4 0 4 -1 4 0 4 0 4 -1 4 0 4 0 4 0 4 0 4 0 4 0 4 1 4 0 4 1 4 0 4 1 4 0 4 0 4 0 4 0 4 0 4 0 4 1 4 0 4 1 4 0 4 -1 4 0 4 -1 4 -1 4 0 4 -1 4 0 4 0 4 0 4 0 4 0 4 0 4 0 4 0 4 0 4 0 4 0 4 0 4 1 4 4 4 6 4 6 4 8 4 7 4 8 4 6 4 7 4 5 4 3 4 3 4 0 4 -1 4 -1 4 -2 4 -1 4 -2 4 -2 4 -2 4 -3 4 -5 4 -5 4 -6 4 -5 4 -5 4 -4 4 -3 4 -2 4 -2 4 -1 4 -1 4 -1 4 -1 4 -1 4 0 4 -1 4 0 4 -1 4 0 4 0 4 0 4 0 4 0 4 0 4 0 4 0 4 -1 4 0 4 -1 4 -1 4 -2 4 -1 4 -1 4 -1 4 0 4 0 4 0 4 0 4 0 4 0 4 0 4 0 4 0 4 0 4 0 4 1 4 0 4 1 4 1 4 1 4 1 4 0 4 0 4 0 4 0 4 -1 4 -1 4 0 4 -1 4 -1 4 -1 4 0 4 0 4 0 4 0 4 0 4 1 4 1" stroke="#60b040"/><path vector-effect="non-scaling-stroke" d="M-100 17l4 1 4 0 4 1 4 0 4 0 4 0 4 -1 4 0 4 0 4 0 4 0 4 0 4 1 4 1 4 1 4 1 4 0 4 1 4 0 4 0 4 0 4 -1 4 0 4 -1 4 0 4 -1 4 0 4 -1 4 -1 4 -1 4 -1 4 -1 4 -1 4 0 4 0 4 0 4 1 4 0 4 1 4 0 4 0 4 0 4 0 4 0 4 0 4 0 4 0 4 1 4 0 4 1 4 1 4 0 4 0 4 0 4 -1 4 -2 4 -3 4 -2 4 -3 4 -2 4 -2 4 0 4 0 4 1 4 0 4 1 4 1 4 0 4 1 4 0 4 1 4 0 4 0 4 -1 4 0 4 0 4 0 4 0 4 -1 4 0 4 0 4 0 4 0 4 0 4 0 4 -1 4 0 4 0 4 0 4 1 4 1 4 1 4 1 4 2 4 2 4 2 4 2 4 3 4 3 4 3 4 2 4 3 4 2 4 2 4 2 4 2 4 1 4 1 4 2 4 1 4 2 4 2 4 1 4 2 4 0 4 0 4 -1 4 -1 4 -1 4 -2 4 -1 4 -1 4 -1 4 -1 4 0 4 0 4 0 4 1 4 0 4 1 4 1 4 0 4 1 4 0 4 1 4 1 4 0 4 1 4 0 4 1 4 0 4 0 4 -1 4 0 4 -1 4 0 4 -1 4 -1 4 0 4 -1" stroke="#1f9a48"/><path vector-effect="non-scaling-stroke" d="M-100 15l4 -1 4 -1 4 0 4 0 4 0 4 0 4 1 4 0 4 0 4 1 4 0 4 0 4 0 4 0 4 -1 4 0 4 0 4 0 4 1 4 1 4 0 4 1 4 1 4 0 4 -1 4 -1 4 -1 4 -1 4 -2 4 -1 4 0 4 -1 4 0 4 0 4 1 4 1 4 0 4 1 4 1 4 1 4 0 4 0 4 0 4 0 4 -1 4 -1 4 0 4 -1 4 -1 4 -1 4 -1 4 -1 4 -1 4 -1 4 -1 4 -1 4 0 4 -1 4 -1 4 0 4 -1 4 1 4 4 4 5 4 6 4 6 4 7 4 7 4 6 4 6 4 4 4 4 4 2 4 1 4 -1 4 -2 4 -3 4 -3 4 -4 4 -4 4 -4 4 -6 4 -8 4 -7 4 -7 4 -7 4 -5 4 -5 4 -3 4 -1 4 -1 4 1 4 2 4 1 4 3 4 2 4 2 4 2 4 3 4 2 4 3 4 2 4 2 4 2 4 2 4 2 4 1 4 2 4 1 4 2 4 1 4 1 4 1 4 1 4 1 4 1 4 0 4 0 4 0 4 -1 4 -1 4 -1 4 0 4 -1 4 0 4 -1 4 1 4 0 4 0 4 1 4 1 4 1 4 1 4 0 4 1 4 1 4 1 4 1 4 1 4 0 4 0 4 0 4 -1 4 -1 4 -1 4 -2 4 -1 4 -1 4 -1 4 -1" stroke="#1f9a48"/><path vector-effect="non-scaling-stroke" d="M-100 -1l4 0 4 0 4 0 4 1 4 0 4 0 4 1 4 0 4 1 4 0 4 1 4 1 4 1 4 0 4 1 4 0 4 0 4 0 4 -1 4 -1 4 0 4 -1 4 -1 4 -1 4 -1 4 -1 4 0 4 -1 4 0 4 0 4 0 4 0 4 1 4 0 4 0 4 1 4 0 4 0 4 0 4 0 4 1 4 0 4 0 4 0 4 0 4 0 4 1 4 0 4 1 4 0 4 2 4 1 4 1 4 1 4 0 4 0 4 -1 4 -2 4 -2 4 -1 4 -2 4 -2 4 -5 4 -5 4 -7 4 -6 4 -6 4 -5 4 -4 4 -3 4 -2 4 0 4 2 4 3 4 5 4 6 4 6 4 5 4 5 4 4 4 3 4 2 4 1 4 1 4 1 4 0 4 -1 4 0 4 -1 4 -1 4 -1 4 -1 4 -2 4 -1 4 -2 4 -1 4 -1 4 -1 4 -1 4 0 4 -1 4 0 4 0 4 0 4 0 4 0 4 0 4 -1 4 0 4 -1 4 -1 4 0 4 -1 4 -1 4 -1 4 0 4 -1 4 0 4 -1 4 0 4 -1 4 -1 4 -2 4 -1 4 -1 4 -2 4 0 4 0 4 0 4 1 4 1 4 2 4 1 4 2 4 1 4 2 4 0 4 1 4 0 4 0 4 0 4 0 4 0 4 0 4 0 4 -1 4 0 4 -1 4 0 4 -1" stroke="#1f9a48"/><path vector-effect="non-scaling-stroke" d="M-100 7l4 1 4 1 4 0 4 1 4 1 4 1 4 0 4 0 4 0 4 0 4 -1 4 -1 4 -1 4 -1 4 0 4 0 4 0 4 0 4 0 4 0 4 0 4 0 4 0 4 0 4 0 4 0 4 0 4 1 4 0 4 -1 4 0 4 0 4 -1 4 0 4 0 4 0 4 0 4 0 4 -1 4 0 4 0 4 -1 4 0 4 0 4 1 4 0 4 1 4 0 4 1 4 0 4 -1 4 0 4 -1 4 -1 4 -1 4 -1 4 -1 4 -2 4 -1 4 0 4 -1 4 -1 4 -4 4 -4 4 -5 4 -5 4 -5 4 -4 4 -4 4 -3 4 -1 4 0 4 2 4 3 4 4 4 4 4 5 4 4 4 4 4 4 4 2 4 2 4 1 4 0 4 0 4 -1 4 -1 4 0 4 -1 4 0 4 0 4 1 4 1 4 0 4 0 4 1 4 0 4 0 4 0 4 0 4 1 4 1 4 1 4 1 4 1 4 2 4 2 4 2 4 2 4 2 4 1 4 2 4 1 4 1 4 1 4 1 4 0 4 0 4 0 4 0 4 -1 4 0 4 -1 4 -1 4 0 4 0 4 -1 4 1 4 0 4 0 4 1 4 0 4 0 4 0 4 0 4 0 4 0 4 -1 4 -1 4 -1 4 -2 4 -1 4 -1 4 0 4 -1 4 0 4 0 4 0 4 0 4 0" stroke="#1f9a48"/><path vector-effect="non-scaling-stroke" d="M-100 -18l4 1 4 1 4 1 4 1 4 1 4 0 4 0 4 -1 4 -1 4 -1 4 0 4 -1 4 0 4 -1 4 0 4 0 4 1 4 0 4 0 4 0 4 0 4 0 4 0 4 0 4 0 4 0 4 -1 4 0 4 0 4 0 4 1 4 0 4 0 4 1 4 -1 4 0 4 -1 4 -1 4 -1 4 -1 4 -1 4 -1 4 0 4 0 4 1 4 0 4 1 4 0 4 1 4 0 4 0 4 0 4 1 4 0 4 1 4 1 4 1 4 2 4 1 4 1 4 1 4 1 4 2 4 4 4 4 4 4 4 5 4 4 4 5 4 3 4 4 4 2 4 1 4 1 4 -1 4 -1 4 -1 4 -2 4 -1 4 -2 4 -1 4 -2 4 -1 4 -2 4 -1 4 0 4 0 4 1 4 1 4 0 4 1 4 -1 4 -1 4 -1 4 -2 4 -3 4 -2 4 -3 4 -2 4 -1 4 -2 4 0 4 -1 4 0 4 -1 4 0 4 -1 4 -1 4 -1 4 -2 4 -3 4 -2 4 -3 4 -4 4 -3 4 -3 4 -3 4 -2 4 -2 4 -1 4 -1 4 0 4 0 4 1 4 0 4 1 4 1 4 0 4 1 4 0 4 0 4 1 4 0 4 0 4 0 4 1 4 0 4 -1 4 0 4 -1 4 0 4 -1 4 -1 4 0 4 0 4 0 4 1 4 0 4 1 4 1" stroke="#1f9a48"/><path vector-effect="non-scaling-stroke" d="M-100 -20l4 1 4 1 4 1 4 1 4 0 4 1 4 1 4 1 4 0 4 1 4 0 4 1 4 0 4 0 4 0 4 -1 4 0 4 0 4 0 4 -1 4 -1 4 -1 4 -1 4 -1 4 -2 4 -1 4 0 4 1 4 1 4 1 4 2 4 1 4 2 4 1 4 0 4 0 4 -1 4 0 4 -2 4 -1 4 -1 4 -1 4 -1 4 0 4 -1 4 0 4 0 4 0 4 1 4 0 4 0 4 0 4 0 4 0 4 1 4 1 4 2 4 2 4 3 4 2 4 1 4 -1 4 -5 4 -5 4 -7 4 -6 4 -7 4 -5 4 -5 4 -3 4 -2 4 0 4 2 4 3 4 4 4 6 4 5 4 5 4 5 4 4 4 3 4 2 4 2 4 1 4 1 4 1 4 0 4 0 4 0 4 0 4 -1 4 0 4 -1 4 -1 4 -1 4 -1 4 -1 4 0 4 -1 4 1 4 0 4 1 4 0 4 1 4 0 4 1 4 0 4 0 4 0 4 0 4 0 4 0 4 0 4 0 4 1 4 0 4 0 4 1 4 0 4 1 4 0 4 1 4 0 4 0 4 0 4 0 4 0 4 -1 4 0 4 -1 4 -2 4 -1 4 -1 4 -2 4 -1 4 -1 4 0 4 -1 4 0 4 1 4 0 4 1 4 1 4 2 4 1 4 2 4 1 4 1 4 0 4 1" stroke="#4a2fb0"/><path vector-effect="non-scaling-stroke" d="M-100 25l4 2 4 2 4 1 4 0 4 0 4 -1 4 -1 4 -2 4 -1 4 -2 4 -1 4 -1 4 -1 4 -1 4 -2 4 -1 4 -1 4 0 4 0 4 0 4 1 4 2 4 1 4 2 4 2 4 1 4 2 4 1 4 2 4 1 4 1 4 1 4 1 4 1 4 1 4 0 4 0 4 -1 4 -1 4 -2 4 -2 4 -2 4 -2 4 -2 4 -2 4 -1 4 -1 4 -1 4 -1 4 0 4 -1 4 0 4 -1 4 0 4 -1 4 -1 4 -2 4 -2 4 -3 4 -2 4 -2 4 -2 4 -3 4 -3 4 -3 4 -2 4 -3 4 -1 4 -1 4 0 4 0 4 1 4 2 4 1 4 2 4 1 4 2 4 2 4 1 4 1 4 1 4 0 4 0 4 0 4 0 4 -1 4 0 4 0 4 -1 4 0 4 0 4 0 4 0 4 -1 4 0 4 -1 4 -2 4 -2 4 -2 4 -2 4 -3 4 -2 4 -2 4 -2 4 -1 4 -2 4 -3 4 -2 4 -3 4 -4 4 -3 4 -4 4 -4 4 -3 4 -2 4 -2 4 -1 4 -1 4 0 4 0 4 0 4 0 4 0 4 0 4 -2 4 -1 4 -2 4 -2 4 -2 4 -2 4 -1 4 -1 4 -1 4 1 4 0 4 1 4 1 4 1 4 1 4 1 4 1 4 1 4 1 4 0 4 1 4 0 4 -1 4 -1 4 -2 4 -1" stroke="#9080c0"/><path vector-effect="non-scaling-stroke" d="M-100 23l4 -1 4 -1 4 -1 4 -1 4 0 4 0 4 0 4 0 4 0 4 1 4 0 4 0 4 1 4 0 4 0 4 0 4 -1 4 0 4 0 4 -1 4 0 4 -1 4 0 4 -1 4 -1 4 0 4 -1 4 0 4 0 4 0 4 0 4 0 4 -1 4 0 4 0 4 0 4 0 4 1 4 1 4 1 4 1 4 2 4 1 4 1 4 0 4 1 4 -1 4 0 4 -1 4 -1 4 -1 4 0 4 -1 4 -1 4 -1 4 -2 4 -3 4 -2 4 -3 4 -2 4 -2 4 -4 4 -8 4 -9 4 -11 4 -11 4 -10 4 -8 4 -7 4 -5 4 -2 4 0 4 3 4 5 4 8 4 8 4 9 4 9 4 8 4 6 4 6 4 4 4 3 4 1 4 0 4 0 4 -1 4 -1 4 -2 4 -1 4 -1 4 0 4 -1 4 -1 4 0 4 -1 4 -1 4 0 4 1 4 0 4 1 4 2 4 1 4 2 4 1 4 1 4 1 4 1 4 1 4 1 4 1 4 1 4 1 4 1 4 1 4 0 4 1 4 1 4 0 4 1 4 0 4 0 4 0 4 0 4 -1 4 0 4 -1 4 -2 4 -1 4 -2 4 -1 4 -2 4 -1 4 -2 4 -1 4 0 4 -1 4 1 4 0 4 1 4 0 4 1 4 1 4 0 4 1 4 0 4 1 4 0 4 1 4 0" stroke="#2aa050"/><path vector-effect="non-scaling-stroke" d="M-100 23l4 1 4 -1 4 -1 4 -1 4 -1 4 -1 4 -1 4 0 4 -1 4 0 4 0 4 1 4 0 4 1 4 0 4 0 4 0 4 0 4 0 4 0 4 0 4 -1 4 0 4 -1 4 0 4 1 4 0 4 1 4 0 4 1 4 0 4 0 4 0 4 0 4 -1 4 -1 4 -1 4 -1 4 -1 4 0 4 0 4 1 4 1 4 1 4 2 4 2 4 1 4 2 4 0 4 0 4 -1 4 -2 4 -2 4 -1 4 -2 4 -2 4 -3 4 -2 4 -2 4 -1 4 -2 4 -2 4 -5 4 -5 4 -7 4 -6 4 -6 4 -6 4 -4 4 -3 4 -2 4 0 4 1 4 1 4 2 4 3 4 3 4 3 4 3 4 4 4 3 4 4 4 4 4 3 4 2 4 2 4 1 4 1 4 1 4 0 4 0 4 -1 4 0 4 -1 4 -1 4 -1 4 -1 4 -1 4 -1 4 -1 4 0 4 -1 4 0 4 -1 4 -1 4 0 4 -1 4 -1 4 -1 4 -1 4 -1 4 -1 4 0 4 -1 4 0 4 -1 4 -1 4 -1 4 -1 4 -1 4 -1 4 -1 4 -2 4 -1 4 -1 4 -1 4 -1 4 -1 4 -1 4 -1 4 -1 4 -1 4 -1 4 0 4 0 4 1 4 0 4 1 4 2 4 1 4 1 4 1 4 1 4 0 4 0 4 0 4 0 4 0 4 0 4 0" stroke="#2aa050"/><path vector-effect="non-scaling-stroke" d="M-100 0l4 0 4 0 4 1 4 0 4 0 4 1 4 0 4 1 4 1 4 1 4 0 4 1 4 1 4 1 4 0 4 1 4 0 4 0 4 0 4 0 4 0 4 0 4 0 4 -1 4 0 4 0 4 0 4 0 4 0 4 0 4 0 4 0 4 0 4 0 4 0 4 -1 4 0 4 -1 4 -1 4 -1 4 0 4 -1 4 -1 4 0 4 0 4 0 4 0 4 1 4 0 4 0 4 0 4 0 4 1 4 0 4 0 4 -1 4 0 4 -1 4 -2 4 -1 4 0 4 -1 4 1 4 2 4 1 4 3 4 2 4 2 4 2 4 2 4 2 4 1 4 1 4 0 4 0 4 0 4 0 4 0 4 0 4 0 4 -1 4 0 4 -2 4 -2 4 -2 4 -2 4 -3 4 -2 4 -2 4 -2 4 -2 4 -1 4 -1 4 -1 4 -1 4 -1 4 0 4 0 4 0 4 0 4 1 4 1 4 1 4 1 4 1 4 0 4 1 4 0 4 1 4 0 4 -1 4 0 4 -1 4 0 4 -1 4 0 4 0 4 0 4 0 4 0 4 1 4 0 4 0 4 0 4 1 4 0 4 0 4 1 4 0 4 1 4 0 4 0 4 0 4 -1 4 -1 4 0 4 -1 4 -1 4 -1 4 -1 4 -1 4 0 4 -1 4 0 4 0 4 1 4 0 4 1 4 1 4 0" stroke="#1f9a48"/><path vector-effect="non-scaling-stroke" d="M-100 9l4 1 4 1 4 1 4 1 4 1 4 1 4 0 4 1 4 0 4 -1 4 0 4 0 4 -1 4 1 4 0 4 0 4 1 4 0 4 1 4 0 4 1 4 0 4 1 4 0 4 1 4 0 4 0 4 0 4 0 4 0 4 0 4 -1 4 0 4 0 4 0 4 0 4 1 4 0 4 1 4 0 4 0 4 -1 4 -1 4 0 4 0 4 -1 4 0 4 0 4 0 4 0 4 1 4 1 4 1 4 2 4 0 4 -1 4 -3 4 -4 4 -4 4 -3 4 -3 4 -1 4 2 4 3 4 4 4 5 4 5 4 5 4 5 4 4 4 4 4 3 4 2 4 1 4 -1 4 -1 4 -1 4 -2 4 -1 4 -2 4 -2 4 -3 4 -2 4 -2 4 -2 4 -1 4 0 4 -1 4 1 4 -1 4 0 4 -1 4 -1 4 -2 4 -1 4 -2 4 -2 4 -1 4 -1 4 -1 4 -1 4 0 4 0 4 -1 4 0 4 -1 4 -1 4 -1 4 -1 4 0 4 -1 4 -1 4 0 4 -1 4 0 4 0 4 -1 4 0 4 -1 4 -1 4 -1 4 0 4 -1 4 -1 4 0 4 -1 4 0 4 0 4 -1 4 0 4 0 4 0 4 0 4 1 4 1 4 1 4 1 4 2 4 1 4 1 4 1 4 1 4 1 4 1 4 1 4 1 4 1 4 0 4 0 4 0" stroke="#60b040"/><path vector-effect="non-scaling-stroke" d="M-100 -14l4 0 4 1 4 0 4 0 4 1 4 0 4 0 4 -1 4 0 4 -1 4 0 4 0 4 -1 4 0 4 0 4 0 4 0 4 1 4 0 4 0 4 0 4 0 4 0 4 0 4 0 4 0 4 -1 4 0 4 0 4 0 4 0 4 1 4 0 4 0 4 0 4 0 4 0 4 0 4 0 4 1 4 0 4 0 4 0 4 0 4 -1 4 0 4 0 4 0 4 0 4 1 4 2 4 2 4 2 4 1 4 2 4 0 4 0 4 0 4 -1 4 -1 4 0 4 0 4 2 4 3 4 3 4 5 4 4 4 5 4 5 4 4 4 4 4 2 4 3 4 1 4 -1 4 -1 4 -3 4 -2 4 -3 4 -3 4 -3 4 -5 4 -5 4 -6 4 -5 4 -6 4 -4 4 -5 4 -3 4 -2 4 -2 4 0 4 -1 4 0 4 0 4 -1 4 0 4 0 4 0 4 0 4 1 4 1 4 2 4 1 4 2 4 2 4 1 4 2 4 1 4 1 4 1 4 1 4 1 4 1 4 0 4 0 4 0 4 0 4 0 4 0 4 0 4 0 4 0 4 1 4 0 4 1 4 0 4 1 4 0 4 0 4 1 4 1 4 0 4 1 4 1 4 0 4 0 4 0 4 0 4 0 4 0 4 0 4 0 4 0 4 0 4 0 4 0 4 0 4 -1 4 -1" stroke="#c0408e"/><path vector-effect="non-scaling-stroke" d="M-100 -12l4 -1 4 0 4 -1 4 0 4 -1 4 -1 4 0 4 0 4 -1 4 0 4 0 4 0 4 1 4 0 4 1 4 1 4 1 4 1 4 1 4 1 4 0 4 0 4 0 4 0 4 -1 4 0 4 -1 4 0 4 -1 4 -1 4 0 4 -1 4 -1 4 -1 4 -1 4 0 4 0 4 0 4 1 4 0 4 1 4 0 4 1 4 0 4 0 4 0 4 -1 4 0 4 0 4 -1 4 0 4 0 4 0 4 0 4 1 4 1 4 2 4 1 4 2 4 1 4 2 4 -1 4 -2 4 -4 4 -4 4 -5 4 -4 4 -3 4 -3 4 -2 4 -2 4 0 4 1 4 0 4 2 4 2 4 2 4 2 4 2 4 3 4 2 4 2 4 2 4 2 4 0 4 0 4 0 4 -1 4 -1 4 -1 4 0 4 1 4 0 4 1 4 1 4 2 4 1 4 2 4 2 4 3 4 3 4 3 4 3 4 3 4 3 4 3 4 2 4 3 4 1 4 2 4 2 4 1 4 1 4 0 4 1 4 0 4 -1 4 0 4 0 4 0 4 1 4 0 4 1 4 1 4 1 4 1 4 1 4 0 4 1 4 0 4 0 4 -1 4 0 4 -1 4 0 4 -1 4 -1 4 0 4 0 4 -1 4 0 4 0 4 0 4 0 4 0 4 0 4 0 4 0 4 0 4 1" stroke="#c0408e"/><path vector-effect="non-scaling-stroke" d="M-100 -10l4 1 4 0 4 0 4 1 4 0 4 1 4 0 4 1 4 0 4 0 4 0 4 -1 4 -1 4 -1 4 -1 4 0 4 0 4 0 4 0 4 0 4 1 4 0 4 0 4 1 4 0 4 0 4 0 4 0 4 1 4 0 4 -1 4 0 4 -1 4 0 4 -1 4 0 4 -1 4 0 4 0 4 0 4 0 4 0 4 0 4 0 4 0 4 0 4 0 4 1 4 0 4 1 4 0 4 1 4 1 4 1 4 1 4 0 4 1 4 0 4 0 4 0 4 0 4 0 4 1 4 1 4 2 4 1 4 2 4 2 4 2 4 2 4 1 4 1 4 1 4 0 4 0 4 -1 4 0 4 -1 4 0 4 -1 4 0 4 -1 4 0 4 0 4 0 4 -1 4 0 4 0 4 0 4 0 4 -1 4 -1 4 -1 4 -1 4 -1 4 -1 4 -1 4 -1 4 -1 4 0 4 0 4 1 4 1 4 1 4 2 4 1 4 1 4 1 4 0 4 1 4 0 4 1 4 0 4 0 4 0 4 0 4 -1 4 -1 4 -1 4 -2 4 -1 4 -2 4 -1 4 0 4 -1 4 0 4 0 4 1 4 0 4 0 4 0 4 0 4 -1 4 0 4 -1 4 0 4 0 4 -1 4 1 4 0 4 1 4 0 4 1 4 0 4 1 4 0 4 0 4 0 4 0 4 0" stroke="#1a3a9a"/><path vector-effect="non-scaling-stroke" d="M-100 17l4 0 4 1 4 0 4 1 4 0 4 1 4 0 4 -1 4 0 4 -1 4 0 4 -1 4 0 4 -1 4 0 4 0 4 -1 4 0 4 0 4 0 4 0 4 0 4 1 4 0 4 1 4 1 4 0 4 1 4 0 4 1 4 1 4 0 4 0 4 0 4 0 4 -1 4 -1 4 0 4 -1 4 0 4 0 4 0 4 0 4 0 4 1 4 1 4 0 4 1 4 0 4 0 4 0 4 0 4 0 4 0 4 -1 4 -2 4 -3 4 -4 4 -3 4 -3 4 -2 4 -2 4 -2 4 -4 4 -3 4 -4 4 -4 4 -4 4 -3 4 -2 4 -1 4 -1 4 1 4 3 4 3 4 4 4 4 4 4 4 3 4 3 4 2 4 2 4 2 4 1 4 1 4 0 4 1 4 0 4 1 4 0 4 0 4 0 4 0 4 0 4 0 4 1 4 0 4 1 4 2 4 2 4 2 4 3 4 2 4 3 4 3 4 2 4 2 4 2 4 1 4 1 4 1 4 1 4 0 4 0 4 -1 4 0 4 -1 4 0 4 -1 4 0 4 0 4 0 4 0 4 0 4 0 4 0 4 0 4 -1 4 0 4 -1 4 0 4 0 4 0 4 1 4 1 4 1 4 1 4 2 4 1 4 2 4 1 4 1 4 0 4 1 4 0 4 0 4 -1 4 -1 4 -1 4 -1" stroke="#2a8f8f"/><path vector-effect="non-scaling-stroke" d="M-100 3l4 -1 4 0 4 0 4 1 4 0 4 1 4 0 4 1 4 0 4 0 4 0 4 0 4 -1 4 0 4 0 4 0 4 -1 4 0 4 0 4 -1 4 0 4 0 4 -1 4 0 4 1 4 0 4 1 4 0 4 1 4 0 4 1 4 0 4 0 4 0 4 -1 4 0 4 0 4 0 4 0 4 0 4 0 4 0 4 1 4 0 4 0 4 1 4 0 4 1 4 0 4 1 4 0 4 -1 4 0 4 -1 4 -2 4 -1 4 -2 4 -1 4 -1 4 -1 4 0 4 -3 4 -7 4 -9 4 -10 4 -11 4 -10 4 -9 4 -7 4 -6 4 -3 4 0 4 1 4 3 4 5 4 5 4 7 4 6 4 7 4 6 4 6 4 5 4 4 4 2 4 0 4 0 4 -2 4 -3 4 -2 4 -2 4 0 4 0 4 0 4 0 4 0 4 0 4 0 4 1 4 1 4 2 4 2 4 2 4 3 4 3 4 4 4 3 4 4 4 3 4 3 4 2 4 2 4 2 4 1 4 1 4 0 4 -1 4 0 4 -1 4 0 4 0 4 0 4 0 4 0 4 1 4 0 4 0 4 1 4 0 4 0 4 0 4 1 4 0 4 1 4 0 4 1 4 0 4 0 4 0 4 0 4 0 4 -1 4 0 4 0 4 0 4 0 4 0 4 0 4 -1 4 0 4 -2" stroke="#c0408e"/><path vector-effect="non-scaling-stroke" d="M-100 32l4 0 4 0 4 0 4 -2 4 -1 4 -2 4 -2 4 -2 4 -1 4 -1 4 0 4 0 4 1 4 1 4 1 4 1 4 1 4 2 4 1 4 2 4 1 4 1 4 0 4 0 4 -1 4 -1 4 -1 4 -1 4 -1 4 0 4 -1 4 1 4 0 4 -1 4 0 4 0 4 1 4 0 4 0 4 1 4 1 4 0 4 0 4 0 4 -1 4 -1 4 -1 4 -1 4 -1 4 -1 4 0 4 1 4 1 4 1 4 0 4 -2 4 -4 4 -4 4 -4 4 -3 4 -3 4 0 4 3 4 5 4 6 4 6 4 7 4 6 4 6 4 6 4 4 4 4 4 3 4 1 4 1 4 -1 4 -1 4 -1 4 -2 4 -2 4 -2 4 -2 4 -2 4 -1 4 -1 4 1 4 0 4 1 4 2 4 0 4 1 4 -1 4 -2 4 -2 4 -2 4 -3 4 -3 4 -4 4 -4 4 -4 4 -4 4 -4 4 -4 4 -3 4 -4 4 -3 4 -3 4 -3 4 -3 4 -3 4 -3 4 -2 4 -2 4 -2 4 -2 4 -2 4 -1 4 -2 4 -2 4 -1 4 -2 4 -2 4 -1 4 -1 4 -1 4 0 4 0 4 0 4 0 4 -1 4 -1 4 -1 4 -2 4 -2 4 -2 4 -2 4 -2 4 -2 4 -2 4 -2 4 -2 4 -1 4 -1 4 0 4 0 4 0 4 1 4 1 4 1 4 1" stroke="#a070d0"/><path vector-effect="non-scaling-stroke" d="M-100 6l4 0 4 0 4 1 4 0 4 1 4 1 4 1 4 0 4 1 4 0 4 0 4 0 4 0 4 0 4 -1 4 0 4 0 4 1 4 0 4 1 4 0 4 1 4 0 4 0 4 0 4 0 4 0 4 0 4 -1 4 0 4 0 4 0 4 0 4 0 4 0 4 0 4 0 4 0 4 0 4 0 4 0 4 0 4 0 4 0 4 0 4 0 4 -1 4 0 4 -1 4 0 4 1 4 1 4 2 4 2 4 1 4 0 4 -2 4 -2 4 -3 4 -3 4 -2 4 0 4 0 4 1 4 2 4 2 4 2 4 2 4 2 4 1 4 2 4 1 4 0 4 1 4 -1 4 0 4 -1 4 -1 4 -1 4 0 4 -1 4 -1 4 -1 4 -1 4 0 4 -1 4 0 4 0 4 -1 4 0 4 0 4 0 4 0 4 0 4 -1 4 0 4 0 4 0 4 0 4 0 4 0 4 0 4 0 4 0 4 1 4 0 4 0 4 0 4 0 4 -1 4 -1 4 -1 4 -1 4 -1 4 -1 4 -1 4 0 4 0 4 0 4 0 4 1 4 1 4 1 4 1 4 1 4 1 4 1 4 1 4 1 4 1 4 1 4 2 4 1 4 1 4 1 4 1 4 0 4 1 4 0 4 0 4 -1 4 -1 4 -1 4 -1 4 -1 4 -2 4 -1 4 -1 4 -1 4 -1" stroke="#2a8f8f"/><path vector-effect="non-scaling-stroke" d="M-100 -3l4 0 4 1 4 1 4 1 4 1 4 1 4 1 4 1 4 0 4 0 4 -1 4 -1 4 0 4 -1 4 -1 4 0 4 1 4 0 4 1 4 0 4 0 4 0 4 0 4 0 4 -1 4 -1 4 0 4 -1 4 0 4 -1 4 0 4 -1 4 -1 4 0 4 0 4 0 4 1 4 1 4 1 4 1 4 0 4 1 4 0 4 -1 4 0 4 -1 4 0 4 -1 4 0 4 0 4 0 4 1 4 0 4 1 4 1 4 0 4 0 4 -1 4 0 4 -1 4 -1 4 0 4 0 4 1 4 1 4 1 4 1 4 1 4 1 4 1 4 1 4 0 4 0 4 0 4 -1 4 0 4 -1 4 0 4 0 4 0 4 0 4 0 4 0 4 -1 4 -1 4 -1 4 0 4 -1 4 -1 4 0 4 -1 4 0 4 -1 4 0 4 -1 4 -1 4 -1 4 0 4 -1 4 0 4 0 4 1 4 1 4 1 4 1 4 2 4 1 4 2 4 1 4 1 4 2 4 0 4 1 4 0 4 0 4 -1 4 -1 4 0 4 -1 4 -1 4 -1 4 -1 4 -1 4 -1 4 -1 4 0 4 0 4 -1 4 1 4 0 4 1 4 0 4 1 4 1 4 1 4 0 4 1 4 0 4 1 4 0 4 0 4 0 4 1 4 0 4 0 4 0 4 0 4 0 4 -1 4 -1" stroke="#2a8f8f"/><path vector-effect="non-scaling-stroke" d="M-100 5l4 0 4 -1 4 -1 4 0 4 0 4 0 4 0 4 1 4 0 4 0 4 0 4 0 4 0 4 0 4 0 4 0 4 0 4 1 4 0 4 1 4 0 4 0 4 -1 4 0 4 -1 4 0 4 -1 4 0 4 0 4 1 4 0 4 0 4 0 4 0 4 0 4 0 4 0 4 0 4 0 4 1 4 0 4 0 4 0 4 -1 4 0 4 0 4 0 4 -1 4 0 4 0 4 0 4 0 4 0 4 0 4 -1 4 0 4 -1 4 -1 4 -1 4 -1 4 -1 4 -3 4 -7 4 -9 4 -10 4 -10 4 -9 4 -8 4 -6 4 -5 4 -2 4 0 4 1 4 3 4 3 4 4 4 4 4 6 4 5 4 5 4 6 4 6 4 5 4 5 4 3 4 3 4 1 4 0 4 -1 4 -2 4 -1 4 -2 4 -2 4 -3 4 -2 4 -3 4 -3 4 -3 4 -3 4 -2 4 -2 4 -2 4 -1 4 -1 4 -1 4 -1 4 -1 4 0 4 -1 4 -1 4 -1 4 -1 4 -1 4 -2 4 -1 4 -1 4 -2 4 -1 4 -2 4 -1 4 -2 4 -2 4 -1 4 -2 4 -1 4 -1 4 -1 4 -1 4 -1 4 -1 4 -1 4 0 4 1 4 0 4 1 4 1 4 0 4 1 4 0 4 0 4 0 4 -1 4 0 4 0 4 -1 4 0 4 -1 4 -1 4 -1 4 -1" stroke="#505050"/><path vector-effect="non-scaling-stroke" d="M-100 8l4 0 4 0 4 0 4 0 4 0 4 -1 4 0 4 -1 4 0 4 0 4 0 4 0 4 0 4 1 4 0 4 0 4 1 4 0 4 0 4 0 4 1 4 0 4 1 4 0 4 0 4 0 4 -1 4 -1 4 -1 4 -1 4 -1 4 -1 4 -1 4 0 4 0 4 0 4 0 4 0 4 1 4 1 4 1 4 0 4 1 4 0 4 0 4 0 4 0 4 -2 4 -1 4 -2 4 -1 4 -2 4 -1 4 -1 4 0 4 0 4 0 4 0 4 1 4 0 4 0 4 0 4 -1 4 0 4 0 4 0 4 -1 4 0 4 0 4 0 4 0 4 0 4 0 4 1 4 0 4 0 4 0 4 1 4 0 4 0 4 0 4 0 4 1 4 0 4 1 4 0 4 1 4 1 4 0 4 0 4 0 4 -1 4 -1 4 -1 4 -1 4 -2 4 -1 4 -1 4 -1 4 -1 4 -1 4 -1 4 -1 4 0 4 -1 4 -1 4 -1 4 -1 4 -2 4 -2 4 -2 4 -2 4 -2 4 -3 4 -2 4 -2 4 -3 4 -2 4 -2 4 -2 4 -2 4 -1 4 -1 4 -1 4 0 4 0 4 1 4 2 4 2 4 2 4 1 4 2 4 1 4 0 4 0 4 -1 4 -1 4 -1 4 -1 4 -1 4 -1 4 0 4 0 4 0 4 0 4 -1 4 0 4 -2 4 -1 4 -1" stroke="#60b040"/><path vector-effect="non-scaling-stroke" d="M-100 22l4 0 4 0 4 0 4 -1 4 -1 4 0 4 -1 4 0 4 -1 4 0 4 0 4 -1 4 0 4 0 4 1 4 0 4 1 4 1 4 1 4 0 4 0 4 0 4 0 4 -1 4 -1 4 -2 4 -1 4 0 4 -1 4 0 4 1 4 1 4 0 4 1 4 1 4 0 4 0 4 0 4 0 4 -1 4 0 4 0 4 0 4 1 4 0 4 0 4 1 4 1 4 1 4 1 4 1 4 1 4 1 4 0 4 0 4 -2 4 -3 4 -3 4 -4 4 -3 4 -2 4 -1 4 3 4 5 4 5 4 7 4 7 4 7 4 6 4 6 4 5 4 4 4 3 4 1 4 0 4 0 4 -1 4 -1 4 -1 4 -1 4 -2 4 -2 4 -4 4 -4 4 -4 4 -4 4 -3 4 -3 4 -2 4 -1 4 -1 4 -1 4 0 4 -1 4 -1 4 -1 4 -2 4 -1 4 -1 4 -1 4 -1 4 -2 4 -1 4 -1 4 -1 4 -1 4 -1 4 -1 4 0 4 0 4 0 4 0 4 0 4 -1 4 0 4 0 4 0 4 0 4 0 4 0 4 0 4 0 4 0 4 0 4 -1 4 0 4 0 4 0 4 0 4 0 4 -1 4 0 4 -1 4 -1 4 -2 4 -1 4 -2 4 -1 4 -2 4 -1 4 0 4 0 4 0 4 1 4 0 4 1 4 1 4 0 4 1 4 0" stroke="#1f9a48"/><path vector-effect="non-scaling-stroke" d="M-100 -2l4 1 4 0 4 1 4 0 4 1 4 0 4 1 4 1 4 0 4 0 4 1 4 -1 4 0 4 -1 4 0 4 -1 4 -1 4 -1 4 0 4 0 4 0 4 0 4 1 4 1 4 1 4 1 4 1 4 0 4 0 4 -1 4 0 4 -1 4 0 4 -1 4 0 4 -1 4 0 4 0 4 0 4 0 4 1 4 0 4 0 4 0 4 0 4 0 4 -1 4 0 4 0 4 -1 4 -1 4 -1 4 -2 4 -3 4 -2 4 -1 4 0 4 1 4 2 4 1 4 1 4 1 4 1 4 1 4 1 4 1 4 1 4 1 4 1 4 1 4 0 4 0 4 1 4 -1 4 0 4 0 4 0 4 0 4 0 4 0 4 0 4 1 4 1 4 1 4 1 4 2 4 1 4 1 4 1 4 0 4 -1 4 -2 4 -1 4 -2 4 -2 4 -2 4 -2 4 -2 4 -2 4 -2 4 -1 4 -2 4 -2 4 -2 4 -2 4 -2 4 -3 4 -2 4 -2 4 -2 4 -2 4 -2 4 -2 4 -2 4 -2 4 -2 4 -1 4 -1 4 -1 4 -1 4 -1 4 0 4 -1 4 -1 4 -1 4 0 4 -1 4 0 4 0 4 1 4 0 4 1 4 1 4 1 4 1 4 1 4 1 4 1 4 1 4 1 4 0 4 0 4 0 4 0 4 0 4 -1 4 -1 4 0 4 -1 4 -1" stroke="#2a8f8f"/><path vector-effect="non-scaling-stroke" d="M-100 -15l4 1 4 1 4 1 4 1 4 1 4 0 4 -1 4 0 4 -1 4 0 4 -1 4 0 4 0 4 0 4 0 4 0 4 0 4 0 4 0 4 0 4 0 4 0 4 0 4 0 4 -1 4 0 4 -1 4 0 4 0 4 0 4 -1 4 0 4 0 4 0 4 0 4 0 4 0 4 0 4 0 4 -1 4 0 4 -1 4 0 4 0 4 -1 4 0 4 0 4 1 4 0 4 1 4 1 4 0 4 1 4 0 4 1 4 1 4 1 4 2 4 1 4 1 4 2 4 1 4 2 4 2 4 3 4 3 4 2 4 3 4 2 4 2 4 1 4 1 4 1 4 0 4 0 4 0 4 -1 4 0 4 0 4 -1 4 -1 4 -1 4 -2 4 -2 4 -2 4 -3 4 -2 4 -2 4 -2 4 -1 4 -2 4 -1 4 -2 4 -2 4 -2 4 -1 4 -2 4 -1 4 0 4 0 4 0 4 1 4 0 4 1 4 0 4 1 4 0 4 0 4 0 4 1 4 0 4 0 4 0 4 0 4 -1 4 0 4 0 4 0 4 0 4 0 4 0 4 0 4 1 4 0 4 0 4 0 4 0 4 0 4 0 4 0 4 0 4 0 4 0 4 0 4 0 4 0 4 1 4 0 4 0 4 0 4 1 4 1 4 0 4 1 4 0 4 0 4 0 4 -1 4 -1 4 -1" stroke="#c0408e"/><path vector-effect="non-scaling-stroke" d="M-100 1l4 1 4 0 4 1 4 1 4 1 4 0 4 0 4 0 4 -1 4 0 4 -1 4 0 4 0 4 0 4 0 4 0 4 0 4 0 4 0 4 -1 4 0 4 0 4 -1 4 0 4 -1 4 0 4 0 4 0 4 0 4 0 4 1 4 0 4 1 4 0 4 0 4 0 4 0 4 0 4 -1 4 0 4 0 4 -1 4 0 4 0 4 0 4 0 4 -1 4 0 4 0 4 0 4 1 4 1 4 2 4 1 4 1 4 0 4 0 4 -1 4 -1 4 -1 4 0 4 -1 4 1 4 0 4 1 4 1 4 1 4 1 4 1 4 1 4 1 4 1 4 0 4 0 4 -1 4 -1 4 -1 4 -1 4 -1 4 -1 4 -1 4 -1 4 -1 4 -1 4 -1 4 0 4 0 4 0 4 0 4 0 4 0 4 0 4 -1 4 -1 4 -1 4 -1 4 -2 4 -1 4 -1 4 -1 4 -1 4 0 4 0 4 0 4 1 4 0 4 1 4 0 4 0 4 -1 4 0 4 -1 4 0 4 -1 4 0 4 0 4 -1 4 0 4 -1 4 -1 4 -2 4 -1 4 -1 4 -1 4 -1 4 -1 4 0 4 0 4 0 4 1 4 1 4 0 4 1 4 1 4 0 4 1 4 0 4 0 4 -1 4 0 4 -1 4 -1 4 -1 4 -2 4 -1 4 -2 4 -1 4 -2 4 -1 4 -1" stroke="#60b040"/><path vector-effect="non-scaling-stroke" d="M-100 15l4 1 4 1 4 0 4 0 4 0 4 0 4 0 4 -1 4 -1 4 -1 4 -2 4 -1 4 -1 4 -1 4 0 4 -1 4 0 4 -1 4 0 4 0 4 0 4 0 4 0 4 0 4 0 4 1 4 0 4 1 4 0 4 1 4 1 4 0 4 1 4 0 4 0 4 1 4 0 4 0 4 0 4 -1 4 0 4 0 4 -1 4 0 4 0 4 -1 4 0 4 1 4 0 4 1 4 1 4 1 4 2 4 2 4 0 4 -1 4 -1 4 -3 4 -3 4 -3 4 -1 4 -2 4 -3 4 -3 4 -3 4 -3 4 -3 4 -2 4 -3 4 -1 4 -1 4 0 4 0 4 1 4 1 4 2 4 1 4 2 4 1 4 2 4 1 4 1 4 -1 4 -1 4 -2 4 -3 4 -3 4 -3 4 -3 4 -2 4 -3 4 -1 4 -1 4 -2 4 -1 4 -2 4 -2 4 -2 4 -2 4 -1 4 -2 4 -1 4 -2 4 -1 4 -2 4 -1 4 -2 4 -2 4 -2 4 -3 4 -2 4 -3 4 -2 4 -3 4 -2 4 -2 4 -2 4 -1 4 -1 4 0 4 -1 4 0 4 -1 4 0 4 -1 4 0 4 0 4 -1 4 0 4 0 4 0 4 1 4 0 4 1 4 1 4 0 4 1 4 1 4 0 4 0 4 1 4 -1 4 0 4 0 4 -1 4 0 4 0 4 -1 4 0 4 0" stroke="#60b040"/><path vector-effect="non-scaling-stroke" d="M-100 14l4 1 4 0 4 0 4 0 4 0 4 0 4 0 4 -1 4 -1 4 -1 4 0 4 -1 4 0 4 -1 4 0 4 1 4 0 4 0 4 0 4 0 4 1 4 0 4 0 4 1 4 0 4 0 4 0 4 1 4 0 4 0 4 0 4 1 4 0 4 0 4 1 4 0 4 0 4 1 4 0 4 1 4 0 4 0 4 0 4 1 4 0 4 0 4 0 4 0 4 0 4 -1 4 0 4 -2 4 -1 4 -1 4 -2 4 -2 4 -2 4 -2 4 -2 4 -1 4 -2 4 -1 4 -3 4 -2 4 -3 4 -3 4 -3 4 -2 4 -2 4 -2 4 0 4 0 4 0 4 2 4 1 4 2 4 2 4 2 4 2 4 1 4 2 4 1 4 2 4 1 4 1 4 1 4 1 4 1 4 0 4 0 4 -1 4 -1 4 -1 4 -1 4 -1 4 -1 4 -1 4 -1 4 -1 4 -1 4 -1 4 -1 4 -1 4 -1 4 -2 4 -1 4 -2 4 -3 4 -2 4 -2 4 -1 4 -2 4 0 4 -1 4 0 4 0 4 1 4 0 4 0 4 0 4 0 4 0 4 -1 4 -1 4 -1 4 -2 4 -1 4 -2 4 -1 4 -2 4 -1 4 -1 4 -1 4 0 4 0 4 1 4 1 4 0 4 1 4 0 4 0 4 1 4 0 4 0 4 0 4 -1 4 0 4 0 4 0 4 0" stroke="#2a8f8f"/><path vector-effect="non-scaling-stroke" d="M-100 -20l4 0 4 1 4 0 4 1 4 1 4 1 4 1 4 0 4 1 4 0 4 0 4 -1 4 0 4 -1 4 0 4 -1 4 0 4 0 4 1 4 0 4 1 4 0 4 1 4 0 4 0 4 0 4 -1 4 0 4 -1 4 0 4 0 4 0 4 0 4 0 4 1 4 0 4 0 4 0 4 0 4 -1 4 0 4 0 4 0 4 0 4 0 4 -1 4 0 4 -1 4 0 4 -1 4 -1 4 -1 4 0 4 -1 4 0 4 2 4 1 4 3 4 2 4 3 4 1 4 2 4 4 4 4 4 4 4 5 4 6 4 5 4 5 4 5 4 4 4 4 4 2 4 1 4 0 4 0 4 -1 4 -2 4 -1 4 -2 4 -2 4 -3 4 -3 4 -3 4 -4 4 -2 4 -3 4 -1 4 -2 4 -1 4 0 4 -1 4 -1 4 -1 4 0 4 -1 4 0 4 0 4 0 4 1 4 0 4 1 4 1 4 0 4 0 4 0 4 -1 4 -1 4 -1 4 -1 4 -1 4 0 4 -1 4 0 4 1 4 0 4 1 4 1 4 1 4 1 4 2 4 1 4 0 4 1 4 0 4 0 4 0 4 0 4 0 4 0 4 0 4 0 4 1 4 1 4 0 4 0 4 1 4 0 4 0 4 1 4 0 4 1 4 1 4 1 4 0 4 1 4 0 4 0 4 -1 4 0" stroke="#1a3a9a"/><path vector-effect="non-scaling-stroke" d="M-100 -21l4 0 4 0 4 -1 4 -1 4 0 4 -1 4 0 4 0 4 1 4 0 4 0 4 0 4 0 4 0 4 -1 4 -1 4 0 4 0 4 0 4 1 4 1 4 2 4 1 4 2 4 1 4 0 4 1 4 0 4 -1 4 0 4 -1 4 0 4 -1 4 -1 4 -1 4 -1 4 -1 4 0 4 0 4 0 4 1 4 0 4 1 4 0 4 1 4 0 4 0 4 1 4 1 4 1 4 1 4 2 4 2 4 1 4 1 4 1 4 0 4 0 4 0 4 0 4 0 4 0 4 2 4 3 4 4 4 5 4 5 4 5 4 4 4 5 4 4 4 3 4 2 4 1 4 0 4 0 4 -1 4 -1 4 -2 4 -2 4 -2 4 -3 4 -4 4 -4 4 -4 4 -5 4 -3 4 -4 4 -2 4 -2 4 -1 4 0 4 0 4 0 4 0 4 0 4 1 4 0 4 1 4 2 4 2 4 2 4 3 4 3 4 3 4 2 4 3 4 1 4 2 4 1 4 0 4 1 4 -1 4 0 4 -1 4 0 4 -1 4 0 4 0 4 1 4 0 4 1 4 1 4 0 4 1 4 0 4 1 4 0 4 0 4 0 4 1 4 0 4 1 4 1 4 0 4 0 4 1 4 0 4 0 4 -1 4 0 4 -1 4 0 4 -1 4 -1 4 -1 4 -1 4 -1 4 -2 4 -1" stroke="#7a2fb8"/><path vector-effect="non-scaling-stroke" d="M-100 -13l4 1 4 1 4 1 4 1 4 1 4 1 4 0 4 0 4 0 4 -1 4 -1 4 -1 4 -1 4 -1 4 0 4 -1 4 0 4 0 4 0 4 0 4 1 4 0 4 1 4 0 4 0 4 0 4 0 4 0 4 0 4 -1 4 0 4 0 4 -1 4 1 4 0 4 0 4 0 4 0 4 0 4 -1 4 0 4 -1 4 0 4 0 4 0 4 0 4 0 4 1 4 0 4 0 4 1 4 -1 4 0 4 -1 4 0 4 0 4 1 4 1 4 1 4 1 4 1 4 2 4 4 4 6 4 7 4 7 4 8 4 7 4 7 4 6 4 6 4 4 4 3 4 2 4 0 4 -1 4 -1 4 -2 4 -2 4 -2 4 -3 4 -5 4 -5 4 -6 4 -6 4 -5 4 -5 4 -3 4 -3 4 -2 4 -1 4 -1 4 -2 4 -1 4 -1 4 -2 4 -1 4 -1 4 -1 4 -1 4 0 4 -1 4 0 4 0 4 1 4 0 4 0 4 1 4 0 4 1 4 0 4 1 4 0 4 0 4 1 4 0 4 0 4 0 4 1 4 0 4 0 4 -1 4 0 4 -1 4 -1 4 -1 4 -1 4 -1 4 -1 4 0 4 -1 4 1 4 0 4 1 4 1 4 0 4 1 4 1 4 0 4 0 4 0 4 0 4 1 4 0 4 -1 4 0 4 0 4 -1 4 -1 4 -1" stroke="#c0408e"/><path vector-effect="non-scaling-stroke" d="M-100 15l4 0 4 0 4 0 4 0 4 0 4 -1 4 0 4 0 4 0 4 -1 4 0 4 0 4 -1 4 0 4 0 4 0 4 0 4 1 4 0 4 1 4 1 4 1 4 1 4 1 4 0 4 1 4 0 4 0 4 -1 4 -1 4 -1 4 -1 4 -1 4 0 4 0 4 0 4 0 4 0 4 0 4 1 4 0 4 0 4 0 4 0 4 -1 4 -1 4 0 4 0 4 -1 4 1 4 1 4 1 4 2 4 1 4 1 4 -1 4 -3 4 -3 4 -3 4 -3 4 -2 4 -3 4 -2 4 -3 4 -2 4 -3 4 -2 4 -2 4 -1 4 -1 4 -1 4 0 4 1 4 0 4 1 4 2 4 1 4 2 4 1 4 2 4 1 4 1 4 0 4 0 4 -2 4 -1 4 -2 4 -2 4 -1 4 -1 4 -1 4 1 4 0 4 1 4 1 4 1 4 0 4 2 4 1 4 1 4 1 4 1 4 1 4 1 4 1 4 0 4 1 4 0 4 1 4 1 4 2 4 2 4 1 4 2 4 1 4 1 4 0 4 0 4 0 4 0 4 0 4 0 4 0 4 0 4 0 4 -1 4 0 4 -1 4 0 4 -1 4 -1 4 0 4 0 4 -1 4 0 4 0 4 0 4 -1 4 0 4 0 4 1 4 0 4 0 4 1 4 1 4 1 4 0 4 1 4 0 4 0" stroke="#7a2fb8"/><path vector-effect="non-scaling-stroke" d="M-100 10l4 0 4 1 4 1 4 0 4 0 4 0 4 0 4 -1 4 0 4 -1 4 0 4 -1 4 0 4 0 4 1 4 1 4 1 4 0 4 1 4 0 4 0 4 0 4 0 4 0 4 -1 4 0 4 0 4 0 4 -1 4 0 4 0 4 -1 4 0 4 0 4 0 4 0 4 0 4 0 4 1 4 0 4 0 4 -1 4 0 4 -1 4 -1 4 -1 4 0 4 -1 4 0 4 -1 4 -1 4 0 4 -1 4 -2 4 -1 4 0 4 -1 4 0 4 0 4 0 4 0 4 0 4 1 4 1 4 0 4 0 4 1 4 0 4 0 4 0 4 0 4 0 4 1 4 0 4 0 4 0 4 0 4 0 4 0 4 0 4 0 4 0 4 0 4 0 4 0 4 0 4 1 4 0 4 0 4 0 4 0 4 -1 4 -2 4 -1 4 -1 4 -2 4 -1 4 -1 4 -1 4 0 4 -1 4 -1 4 0 4 -1 4 -1 4 -1 4 -2 4 -1 4 -1 4 -1 4 -2 4 -1 4 -1 4 -2 4 -1 4 -1 4 -2 4 -1 4 0 4 -1 4 0 4 0 4 0 4 0 4 1 4 0 4 -1 4 0 4 -1 4 -1 4 -1 4 -2 4 -1 4 -2 4 -1 4 -1 4 -1 4 0 4 0 4 0 4 1 4 0 4 1 4 2 4 1 4 1 4 2 4 1 4 1 4 0" stroke="#1f9a48"/><path vector-effect="non-scaling-stroke" d="M-100 -5l4 -1 4 -1 4 -1 4 0 4 -1 4 0 4 0 4 0 4 0 4 0 4 0 4 0 4 0 4 0 4 0 4 0 4 0 4 0 4 -1 4 0 4 0 4 0 4 0 4 0 4 1 4 0 4 1 4 2 4 1 4 1 4 1 4 0 4 0 4 -1 4 0 4 -1 4 -1 4 -1 4 -1 4 0 4 -1 4 0 4 0 4 -1 4 0 4 -1 4 0 4 1 4 0 4 0 4 1 4 -1 4 0 4 -1 4 -1 4 0 4 1 4 1 4 1 4 1 4 0 4 0 4 -2 4 -3 4 -2 4 -3 4 -3 4 -2 4 -1 4 -1 4 -1 4 1 4 1 4 2 4 2 4 3 4 2 4 2 4 2 4 1 4 1 4 1 4 0 4 1 4 0 4 1 4 0 4 1 4 0 4 0 4 1 4 0 4 1 4 1 4 0 4 1 4 2 4 1 4 2 4 2 4 2 4 2 4 3 4 2 4 2 4 2 4 1 4 1 4 2 4 1 4 1 4 2 4 1 4 2 4 1 4 2 4 1 4 1 4 0 4 0 4 0 4 -1 4 -1 4 -1 4 -1 4 -1 4 -1 4 0 4 -1 4 0 4 0 4 0 4 0 4 0 4 -1 4 0 4 -1 4 -1 4 -1 4 -1 4 -1 4 -2 4 -1 4 0 4 -1 4 0 4 1 4 0 4 1 4 1" stroke="#1f9a48"/><path vector-effect="non-scaling-stroke" d="M-100 2l4 0 4 1 4 1 4 0 4 0 4 0 4 0 4 0 4 -1 4 0 4 -1 4 0 4 -1 4 0 4 -1 4 0 4 0 4 0 4 0 4 0 4 1 4 1 4 1 4 1 4 1 4 1 4 1 4 -1 4 0 4 -1 4 0 4 -1 4 0 4 0 4 0 4 0 4 1 4 0 4 1 4 0 4 0 4 1 4 0 4 0 4 -1 4 0 4 -1 4 0 4 -1 4 -1 4 -1 4 0 4 -1 4 0 4 -1 4 0 4 -1 4 0 4 -1 4 0 4 0 4 -2 4 -3 4 -5 4 -5 4 -5 4 -5 4 -5 4 -3 4 -3 4 -1 4 0 4 0 4 1 4 2 4 2 4 2 4 2 4 2 4 3 4 2 4 4 4 3 4 4 4 3 4 2 4 2 4 2 4 0 4 0 4 0 4 -1 4 -2 4 -1 4 -2 4 -2 4 -2 4 -2 4 -1 4 -2 4 -1 4 -1 4 -1 4 -2 4 -1 4 -2 4 -2 4 -2 4 -3 4 -2 4 -3 4 -2 4 -3 4 -2 4 -2 4 -2 4 -1 4 -1 4 0 4 -1 4 1 4 0 4 1 4 0 4 0 4 0 4 -1 4 -2 4 -2 4 -2 4 -3 4 -2 4 -2 4 -1 4 0 4 0 4 0 4 1 4 1 4 1 4 1 4 1 4 0 4 1 4 0 4 0 4 0 4 0 4 0 4 1" stroke="#c0408e"/><path vector-effect="non-scaling-stroke" d="M-100 4l4 0 4 0 4 0 4 -1 4 0 4 -1 4 0 4 0 4 1 4 0 4 1 4 1 4 2 4 1 4 1 4 0 4 1 4 0 4 -1 4 0 4 -1 4 0 4 -1 4 -1 4 -1 4 -1 4 0 4 -1 4 -1 4 0 4 -1 4 0 4 1 4 0 4 1 4 0 4 0 4 1 4 0 4 1 4 0 4 1 4 0 4 0 4 0 4 -1 4 0 4 0 4 -1 4 1 4 0 4 1 4 2 4 1 4 0 4 -1 4 -2 4 -2 4 -2 4 -3 4 -1 4 0 4 3 4 4 4 5 4 6 4 6 4 6 4 6 4 5 4 4 4 3 4 2 4 1 4 0 4 0 4 -1 4 0 4 -1 4 -1 4 -1 4 -2 4 -2 4 -3 4 -2 4 -2 4 -2 4 -1 4 -2 4 -1 4 -1 4 -1 4 -2 4 -1 4 -2 4 -2 4 -1 4 -1 4 -1 4 -1 4 0 4 -1 4 0 4 -1 4 0 4 -1 4 -1 4 -1 4 -1 4 -2 4 -1 4 -2 4 -1 4 -2 4 -2 4 -2 4 -2 4 -3 4 -2 4 -2 4 -1 4 -1 4 -1 4 0 4 0 4 1 4 0 4 1 4 1 4 1 4 1 4 1 4 1 4 1 4 1 4 1 4 0 4 1 4 0 4 0 4 0 4 1 4 0 4 1 4 0 4 0 4 0 4 0 4 0 4 -1" stroke="#7a2fb8"/><path vector-effect="non-scaling-stroke" d="M-100 12l4 -1 4 -1 4 -1 4 -1 4 0 4 -1 4 0 4 0 4 0 4 0 4 0 4 0 4 -1 4 0 4 -1 4 -1 4 0 4 -1 4 0 4 -1 4 0 4 0 4 1 4 0 4 0 4 1 4 1 4 0 4 1 4 1 4 0 4 1 4 0 4 -1 4 0 4 0 4 -1 4 0 4 1 4 0 4 0 4 1 4 1 4 0 4 1 4 0 4 1 4 0 4 0 4 0 4 0 4 1 4 0 4 0 4 0 4 -1 4 -1 4 -2 4 -2 4 -2 4 -1 4 -2 4 -4 4 -6 4 -5 4 -6 4 -6 4 -5 4 -4 4 -3 4 -2 4 0 4 0 4 1 4 2 4 2 4 3 4 4 4 3 4 4 4 4 4 4 4 5 4 5 4 4 4 3 4 2 4 2 4 1 4 1 4 -1 4 -1 4 -1 4 -1 4 -2 4 -1 4 -2 4 -1 4 -1 4 0 4 -1 4 0 4 0 4 1 4 0 4 1 4 1 4 0 4 1 4 0 4 1 4 0 4 -1 4 0 4 -1 4 -1 4 -2 4 -2 4 -1 4 -2 4 -2 4 -1 4 -1 4 0 4 0 4 0 4 1 4 1 4 1 4 1 4 1 4 1 4 1 4 0 4 1 4 0 4 0 4 0 4 0 4 0 4 0 4 -1 4 -1 4 -1 4 -1 4 -2 4 -1 4 -2 4 -1 4 0" stroke="#505050"/><path vector-effect="non-scaling-stroke" d="M-100 15l4 1 4 0 4 0 4 -1 4 0 4 0 4 -1 4 -1 4 0 4 0 4 -1 4 0 4 1 4 1 4 1 4 1 4 0 4 1 4 -1 4 0 4 -1 4 -1 4 -2 4 -1 4 -1 4 0 4 0 4 0 4 0 4 0 4 0 4 0 4 0 4 0 4 0 4 -1 4 0 4 0 4 1 4 0 4 1 4 1 4 0 4 1 4 0 4 1 4 -1 4 0 4 -1 4 -1 4 0 4 0 4 1 4 1 4 0 4 0 4 -1 4 -1 4 -2 4 -2 4 -2 4 0 4 1 4 2 4 2 4 3 4 3 4 3 4 2 4 3 4 2 4 2 4 1 4 0 4 0 4 -1 4 0 4 -1 4 -1 4 -1 4 -1 4 -3 4 -3 4 -5 4 -4 4 -4 4 -4 4 -4 4 -3 4 -2 4 -1 4 0 4 0 4 0 4 1 4 1 4 2 4 2 4 2 4 2 4 3 4 2 4 3 4 2 4 2 4 2 4 1 4 1 4 1 4 2 4 1 4 1 4 0 4 1 4 0 4 0 4 0 4 0 4 -1 4 -1 4 -1 4 -1 4 -1 4 -1 4 -1 4 0 4 0 4 0 4 0 4 1 4 1 4 2 4 1 4 1 4 1 4 0 4 0 4 0 4 -1 4 -1 4 -1 4 -1 4 0 4 -1 4 -1 4 0 4 0 4 0 4 1 4 1" stroke="#2a8f8f"/><path vector-effect="non-scaling-stroke" d="M-100 9l4 0 4 1 4 0 4 0 4 0 4 1 4 0 4 0 4 -1 4 0 4 -1 4 -1 4 0 4 -1 4 -1 4 0 4 -1 4 0 4 0 4 -1 4 0 4 -1 4 0 4 1 4 0 4 1 4 2 4 1 4 1 4 2 4 0 4 1 4 0 4 0 4 0 4 0 4 -1 4 -1 4 -1 4 0 4 -1 4 0 4 -1 4 0 4 -1 4 0 4 0 4 1 4 0 4 1 4 1 4 1 4 0 4 0 4 0 4 -1 4 -2 4 -1 4 -2 4 -2 4 -1 4 -3 4 -6 4 -7 4 -7 4 -8 4 -8 4 -6 4 -5 4 -4 4 -2 4 1 4 2 4 5 4 6 4 7 4 7 4 7 4 5 4 4 4 3 4 3 4 1 4 1 4 1 4 0 4 0 4 0 4 0 4 0 4 -1 4 0 4 0 4 -1 4 -1 4 0 4 -1 4 0 4 0 4 1 4 1 4 2 4 2 4 2 4 2 4 2 4 2 4 2 4 1 4 2 4 1 4 1 4 1 4 0 4 0 4 0 4 -1 4 -1 4 -1 4 -2 4 -1 4 -1 4 -1 4 -1 4 0 4 0 4 0 4 1 4 1 4 1 4 1 4 1 4 0 4 1 4 0 4 -1 4 -1 4 -1 4 -1 4 -1 4 -1 4 -1 4 0 4 -1 4 -1 4 0 4 0 4 -1 4 0 4 0" stroke="#60b040"/><path vector-effect="non-scaling-stroke" d="M-100 14l4 0 4 0 4 0 4 1 4 1 4 1 4 0 4 1 4 0 4 1 4 0 4 -1 4 0 4 -1 4 0 4 0 4 0 4 0 4 0 4 1 4 1 4 0 4 1 4 0 4 0 4 0 4 0 4 0 4 -1 4 0 4 0 4 0 4 0 4 0 4 -1 4 0 4 0 4 0 4 -1 4 0 4 -1 4 0 4 -1 4 0 4 -1 4 0 4 0 4 0 4 -1 4 1 4 0 4 1 4 1 4 0 4 0 4 -2 4 -3 4 -3 4 -3 4 -3 4 -2 4 0 4 2 4 2 4 4 4 3 4 4 4 4 4 4 4 4 4 3 4 3 4 2 4 1 4 1 4 -1 4 -1 4 -1 4 -1 4 -1 4 -1 4 -2 4 -1 4 -2 4 -1 4 0 4 -1 4 0 4 0 4 -1 4 0 4 -1 4 -1 4 -1 4 -1 4 -2 4 0 4 -1 4 0 4 0 4 0 4 0 4 1 4 0 4 0 4 -1 4 0 4 -1 4 -1 4 -1 4 -1 4 -1 4 0 4 0 4 0 4 1 4 1 4 1 4 1 4 2 4 1 4 1 4 1 4 0 4 0 4 0 4 0 4 -1 4 -1 4 -1 4 -2 4 -1 4 -1 4 0 4 -1 4 0 4 1 4 1 4 0 4 2 4 1 4 1 4 1 4 1 4 1 4 0 4 1 4 0 4 0 4 0" stroke="#1f9a48"/><path vector-effect="non-scaling-stroke" d="M-100 -10l4 1 4 0 4 0 4 0 4 0 4 0 4 0 4 0 4 0 4 -1 4 -1 4 0 4 -1 4 0 4 -1 4 0 4 1 4 0 4 1 4 0 4 1 4 1 4 0 4 1 4 0 4 -1 4 0 4 -1 4 0 4 -1 4 -1 4 -1 4 -1 4 -1 4 0 4 0 4 0 4 0 4 0 4 0 4 1 4 0 4 0 4 -1 4 0 4 0 4 -1 4 0 4 -1 4 0 4 -1 4 0 4 -1 4 0 4 0 4 1 4 2 4 2 4 3 4 2 4 1 4 2 4 3 4 4 4 5 4 5 4 4 4 5 4 5 4 4 4 3 4 2 4 1 4 1 4 -1 4 -1 4 -1 4 -1 4 -2 4 -1 4 -1 4 -2 4 -1 4 -2 4 -1 4 -1 4 -1 4 -1 4 0 4 -1 4 0 4 -1 4 -1 4 -1 4 0 4 -1 4 -1 4 0 4 -1 4 0 4 0 4 1 4 0 4 1 4 0 4 1 4 0 4 0 4 1 4 0 4 1 4 0 4 0 4 1 4 0 4 1 4 0 4 1 4 0 4 0 4 0 4 0 4 1 4 0 4 0 4 1 4 0 4 1 4 0 4 1 4 0 4 0 4 0 4 0 4 0 4 0 4 0 4 0 4 -1 4 0 4 -1 4 -1 4 0 4 -1 4 -1 4 0 4 0 4 -1 4 0 4 0" stroke="#1a3a9a"/><path vector-effect="non-scaling-stroke" d="M-100 -15l4 1 4 0 4 0 4 1 4 0 4 0 4 0 4 0 4 0 4 0 4 1 4 0 4 0 4 0 4 0 4 1 4 0 4 1 4 0 4 0 4 0 4 0 4 0 4 -1 4 -1 4 0 4 -1 4 -1 4 -1 4 -1 4 -1 4 -1 4 0 4 -1 4 1 4 0 4 0 4 1 4 0 4 1 4 0 4 0 4 0 4 1 4 0 4 0 4 1 4 0 4 1 4 0 4 1 4 0 4 1 4 0 4 1 4 0 4 0 4 1 4 0 4 0 4 0 4 -3 4 -6 4 -9 4 -9 4 -10 4 -9 4 -8 4 -7 4 -4 4 -3 4 1 4 5 4 9 4 11 4 12 4 10 4 9 4 6 4 4 4 2 4 2 4 1 4 1 4 1 4 1 4 0 4 1 4 0 4 0 4 -1 4 -1 4 -1 4 -1 4 -2 4 -1 4 -1 4 -1 4 -1 4 -1 4 -1 4 -1 4 -1 4 -2 4 -2 4 -2 4 -2 4 -2 4 -2 4 -2 4 -2 4 -3 4 -2 4 -2 4 -2 4 -2 4 -1 4 -2 4 -1 4 -1 4 -1 4 -1 4 0 4 -1 4 1 4 0 4 2 4 1 4 2 4 1 4 2 4 2 4 1 4 2 4 1 4 0 4 0 4 0 4 -1 4 -1 4 -1 4 -1 4 -1 4 -1 4 -1 4 0 4 -1 4 0 4 -1 4 -1" stroke="#8a7a2a"/><path vector-effect="non-scaling-stroke" d="M-100 35l4 -3 4 -2 4 -3 4 -2 4 -3 4 -2 4 -1 4 0 4 0 4 1 4 1 4 1 4 2 4 1 4 1 4 1 4 1 4 1 4 1 4 0 4 -1 4 0 4 -1 4 -1 4 -1 4 0 4 -1 4 0 4 0 4 0 4 1 4 1 4 2 4 2 4 1 4 2 4 1 4 1 4 0 4 0 4 -2 4 -2 4 -1 4 -2 4 0 4 0 4 0 4 1 4 1 4 1 4 0 4 2 4 1 4 1 4 -1 4 -2 4 -4 4 -5 4 -5 4 -5 4 -3 4 -2 4 2 4 2 4 3 4 4 4 4 4 5 4 4 4 4 4 4 4 3 4 2 4 2 4 0 4 -1 4 -1 4 -1 4 -2 4 -2 4 -2 4 -2 4 -2 4 -1 4 -1 4 1 4 1 4 2 4 2 4 2 4 1 4 0 4 -2 4 -3 4 -3 4 -4 4 -3 4 -4 4 -4 4 -3 4 -3 4 -3 4 -3 4 -4 4 -4 4 -4 4 -4 4 -5 4 -4 4 -4 4 -4 4 -4 4 -4 4 -3 4 -3 4 -3 4 -2 4 -2 4 -2 4 -1 4 -1 4 -1 4 -1 4 -1 4 -1 4 -1 4 0 4 0 4 0 4 1 4 1 4 1 4 0 4 1 4 0 4 1 4 1 4 1 4 1 4 2 4 1 4 1 4 0 4 -1 4 -2 4 -2 4 -2 4 -1 4 -2 4 -1" stroke="#d06090"/><path vector-effect="non-scaling-stroke" d="M-100 25l4 0 4 0 4 2 4 2 4 2 4 2 4 2 4 1 4 0 4 1 4 0 4 0 4 0 4 0 4 -1 4 -1 4 -2 4 -1 4 0 4 0 4 0 4 1 4 1 4 2 4 1 4 2 4 2 4 0 4 0 4 0 4 -1 4 -1 4 -2 4 -1 4 -2 4 -1 4 -1 4 -1 4 -1 4 -1 4 -2 4 -1 4 -1 4 -1 4 0 4 0 4 1 4 1 4 1 4 1 4 1 4 2 4 2 4 2 4 0 4 -1 4 -3 4 -5 4 -5 4 -4 4 -4 4 -1 4 3 4 5 4 6 4 7 4 8 4 7 4 7 4 7 4 6 4 5 4 3 4 2 4 0 4 -3 4 -4 4 -5 4 -6 4 -6 4 -6 4 -6 4 -6 4 -4 4 -3 4 -2 4 -1 4 0 4 0 4 0 4 0 4 -1 4 -2 4 -2 4 -3 4 -3 4 -4 4 -3 4 -3 4 -3 4 -3 4 -2 4 -3 4 -2 4 -1 4 -2 4 -2 4 -2 4 -3 4 -2 4 -3 4 -3 4 -2 4 -3 4 -3 4 -2 4 -2 4 -1 4 -2 4 -1 4 0 4 -1 4 -1 4 -1 4 -1 4 -1 4 -1 4 -2 4 -1 4 -1 4 -2 4 -1 4 -1 4 -1 4 -1 4 -1 4 0 4 0 4 -1 4 0 4 -1 4 0 4 -1 4 0 4 0 4 1 4 1 4 1 4 2 4 2" stroke="#9080c0"/><path vector-effect="non-scaling-stroke" d="M-100 14l4 0 4 0 4 0 4 0 4 1 4 0 4 1 4 0 4 0 4 0 4 0 4 0 4 -1 4 0 4 0 4 0 4 0 4 0 4 0 4 0 4 1 4 0 4 0 4 1 4 0 4 0 4 0 4 0 4 0 4 -1 4 0 4 -1 4 0 4 1 4 0 4 1 4 0 4 1 4 0 4 0 4 0 4 0 4 -1 4 0 4 -1 4 0 4 0 4 -1 4 0 4 -1 4 0 4 0 4 0 4 -1 4 0 4 -1 4 -2 4 -2 4 -2 4 -2 4 -1 4 0 4 3 4 5 4 7 4 6 4 7 4 7 4 7 4 6 4 5 4 4 4 3 4 1 4 0 4 -2 4 -2 4 -3 4 -3 4 -4 4 -4 4 -5 4 -7 4 -6 4 -7 4 -6 4 -5 4 -3 4 -3 4 -2 4 -1 4 -1 4 -2 4 -1 4 -2 4 -2 4 -1 4 -2 4 -2 4 -1 4 -1 4 -1 4 -1 4 -1 4 -1 4 -1 4 -1 4 0 4 -1 4 -1 4 0 4 -1 4 0 4 -1 4 -1 4 -1 4 -1 4 -1 4 -2 4 -2 4 -1 4 -1 4 -2 4 0 4 -1 4 0 4 0 4 0 4 0 4 0 4 0 4 0 4 0 4 -1 4 0 4 -1 4 -1 4 0 4 -1 4 -1 4 0 4 -1 4 0 4 0 4 0 4 -1 4 0 4 0 4 1 4 0" stroke="#2aa050"/><path vector-effect="non-scaling-stroke" d="M-100 9l4 -1 4 -1 4 0 4 1 4 0 4 1 4 0 4 0 4 1 4 0 4 0 4 0 4 0 4 -1 4 0 4 -1 4 0 4 0 4 -1 4 0 4 0 4 0 4 1 4 0 4 1 4 0 4 1 4 1 4 0 4 0 4 1 4 0 4 0 4 0 4 1 4 0 4 1 4 0 4 1 4 0 4 0 4 0 4 0 4 0 4 0 4 0 4 0 4 0 4 -1 4 -1 4 0 4 -1 4 -1 4 -1 4 -1 4 -2 4 -1 4 -1 4 -2 4 0 4 -1 4 2 4 4 4 6 4 6 4 8 4 7 4 7 4 6 4 6 4 5 4 3 4 3 4 0 4 -1 4 -2 4 -3 4 -3 4 -4 4 -5 4 -4 4 -5 4 -4 4 -5 4 -3 4 -2 4 -2 4 0 4 0 4 0 4 -1 4 -1 4 -2 4 -2 4 -2 4 -3 4 -2 4 -2 4 -3 4 -1 4 -2 4 -2 4 -1 4 -2 4 -2 4 -1 4 -3 4 -2 4 -3 4 -3 4 -2 4 -3 4 -3 4 -2 4 -3 4 -2 4 -2 4 -1 4 -2 4 -1 4 -1 4 -1 4 0 4 0 4 0 4 1 4 0 4 0 4 0 4 0 4 0 4 -1 4 0 4 0 4 0 4 1 4 0 4 0 4 0 4 -1 4 0 4 -1 4 -1 4 -1 4 0 4 -1 4 0 4 1 4 1 4 2" stroke="#c0408e"/><path vector-effect="non-scaling-stroke" d="M-100 16l4 2 4 1 4 0 4 0 4 -1 4 -1 4 -1 4 -1 4 -1 4 -1 4 -1 4 0 4 -1 4 0 4 0 4 0 4 0 4 1 4 0 4 0 4 0 4 0 4 0 4 0 4 -1 4 0 4 0 4 0 4 0 4 0 4 0 4 0 4 0 4 0 4 0 4 1 4 0 4 0 4 0 4 0 4 0 4 0 4 0 4 1 4 0 4 1 4 0 4 0 4 -1 4 -2 4 -3 4 -3 4 -5 4 -4 4 -3 4 -1 4 0 4 1 4 2 4 2 4 2 4 1 4 -1 4 -1 4 -2 4 -2 4 -2 4 -2 4 -2 4 -1 4 -1 4 0 4 1 4 1 4 1 4 2 4 2 4 2 4 1 4 1 4 1 4 1 4 1 4 1 4 0 4 0 4 1 4 0 4 0 4 0 4 -1 4 -1 4 -2 4 -2 4 -2 4 -2 4 -3 4 -3 4 -2 4 -3 4 -2 4 -2 4 -2 4 -2 4 -1 4 -2 4 -1 4 -2 4 -2 4 -2 4 -3 4 -3 4 -3 4 -3 4 -4 4 -4 4 -5 4 -3 4 -4 4 -3 4 -2 4 -2 4 -1 4 -1 4 0 4 0 4 -1 4 0 4 0 4 0 4 0 4 1 4 1 4 1 4 1 4 1 4 2 4 1 4 1 4 0 4 1 4 0 4 -1 4 0 4 0 4 -1 4 0 4 0 4 0 4 0" stroke="#1f9a48"/><path vector-effect="non-scaling-stroke" d="M-100 -17l4 1 4 1 4 0 4 1 4 0 4 0 4 0 4 0 4 -1 4 0 4 -1 4 0 4 -1 4 0 4 0 4 0 4 1 4 1 4 0 4 0 4 0 4 -1 4 -1 4 -1 4 -1 4 0 4 0 4 0 4 0 4 1 4 2 4 1 4 1 4 1 4 1 4 1 4 0 4 1 4 0 4 0 4 -1 4 0 4 -1 4 -1 4 -1 4 -1 4 -1 4 0 4 0 4 0 4 1 4 0 4 1 4 0 4 1 4 1 4 1 4 1 4 1 4 0 4 1 4 -2 4 -5 4 -7 4 -8 4 -8 4 -8 4 -7 4 -6 4 -4 4 -2 4 0 4 2 4 5 4 5 4 7 4 7 4 6 4 6 4 5 4 5 4 3 4 3 4 2 4 2 4 1 4 1 4 0 4 1 4 0 4 -1 4 0 4 -1 4 -1 4 -2 4 -1 4 -1 4 -1 4 -1 4 -1 4 -1 4 0 4 -1 4 0 4 1 4 0 4 0 4 0 4 0 4 -1 4 0 4 -1 4 -2 4 -1 4 -2 4 -1 4 -1 4 -1 4 -1 4 -1 4 0 4 -1 4 0 4 0 4 -1 4 0 4 1 4 0 4 0 4 1 4 0 4 0 4 0 4 0 4 0 4 0 4 1 4 0 4 1 4 1 4 0 4 1 4 0 4 0 4 -1 4 0 4 -1 4 0 4 0 4 -1" stroke="#1a3a9a"/><path vector-effect="non-scaling-stroke" d="M-100 8l4 0 4 0 4 -1 4 -1 4 0 4 -1 4 0 4 0 4 0 4 0 4 0 4 0 4 -1 4 0 4 -1 4 0 4 -1 4 0 4 1 4 0 4 1 4 0 4 1 4 0 4 1 4 0 4 0 4 0 4 0 4 0 4 0 4 1 4 0 4 1 4 0 4 1 4 1 4 1 4 0 4 -1 4 0 4 -1 4 -2 4 -1 4 0 4 -1 4 0 4 0 4 1 4 1 4 1 4 1 4 1 4 1 4 0 4 0 4 -2 4 -2 4 -2 4 -3 4 -1 4 -4 4 -7 4 -8 4 -10 4 -9 4 -9 4 -8 4 -6 4 -4 4 -3 4 0 4 2 4 5 4 7 4 7 4 8 4 8 4 7 4 6 4 5 4 5 4 5 4 4 4 4 4 4 4 3 4 2 4 2 4 2 4 0 4 0 4 -1 4 -1 4 -1 4 -2 4 -1 4 -1 4 -2 4 -1 4 -1 4 -1 4 0 4 -1 4 0 4 0 4 0 4 0 4 0 4 -1 4 0 4 -1 4 -1 4 0 4 -1 4 -1 4 -1 4 -1 4 -2 4 -1 4 -1 4 -1 4 -1 4 0 4 0 4 0 4 0 4 0 4 -1 4 0 4 0 4 -1 4 0 4 -1 4 0 4 1 4 0 4 1 4 1 4 1 4 1 4 1 4 1 4 0 4 0 4 0 4 0 4 0 4 -1 4 0" stroke="#2b5fd0"/><path vector-effect="non-scaling-stroke" d="M-100 22l4 0 4 0 4 -1 4 0 4 0 4 0 4 -1 4 0 4 -1 4 0 4 0 4 -1 4 1 4 0 4 1 4 1 4 0 4 1 4 0 4 0 4 0 4 0 4 -1 4 0 4 -1 4 0 4 0 4 0 4 0 4 0 4 0 4 0 4 -1 4 0 4 -1 4 -1 4 -1 4 -1 4 0 4 -1 4 0 4 0 4 1 4 0 4 1 4 1 4 0 4 0 4 1 4 0 4 1 4 1 4 0 4 0 4 -1 4 -2 4 -3 4 -4 4 -3 4 -3 4 -2 4 0 4 2 4 4 4 4 4 4 4 5 4 4 4 5 4 3 4 3 4 3 4 1 4 1 4 0 4 -1 4 -2 4 -1 4 -2 4 -1 4 -2 4 -3 4 -3 4 -4 4 -3 4 -2 4 -2 4 -2 4 -1 4 -1 4 0 4 0 4 0 4 0 4 0 4 0 4 0 4 0 4 0 4 1 4 1 4 1 4 1 4 1 4 2 4 1 4 1 4 2 4 1 4 1 4 1 4 1 4 0 4 1 4 0 4 0 4 1 4 -1 4 0 4 0 4 -1 4 0 4 0 4 0 4 0 4 1 4 0 4 1 4 0 4 1 4 0 4 -1 4 -1 4 -1 4 -1 4 -1 4 0 4 -1 4 0 4 0 4 1 4 0 4 1 4 1 4 0 4 1 4 0 4 1 4 0 4 1" stroke="#c0408e"/><path vector-effect="non-scaling-stroke" d="M-100 0l4 0 4 0 4 0 4 -1 4 0 4 1 4 0 4 1 4 0 4 2 4 1 4 1 4 0 4 1 4 0 4 1 4 0 4 0 4 0 4 0 4 -1 4 0 4 -1 4 0 4 0 4 -1 4 0 4 0 4 1 4 0 4 1 4 0 4 1 4 0 4 0 4 0 4 -1 4 0 4 0 4 -1 4 0 4 -1 4 0 4 -1 4 -1 4 -1 4 0 4 -1 4 0 4 0 4 0 4 1 4 1 4 1 4 1 4 0 4 0 4 -1 4 0 4 -1 4 0 4 -2 4 -5 4 -5 4 -7 4 -7 4 -7 4 -5 4 -5 4 -4 4 -2 4 0 4 0 4 2 4 2 4 3 4 4 4 3 4 4 4 4 4 4 4 4 4 3 4 2 4 1 4 1 4 -1 4 -1 4 -1 4 0 4 0 4 1 4 2 4 2 4 2 4 3 4 3 4 3 4 3 4 3 4 3 4 3 4 2 4 3 4 2 4 2 4 1 4 2 4 1 4 2 4 0 4 1 4 0 4 1 4 -1 4 0 4 0 4 0 4 0 4 0 4 1 4 0 4 1 4 1 4 0 4 0 4 0 4 -1 4 0 4 -1 4 0 4 -1 4 0 4 0 4 0 4 1 4 0 4 1 4 1 4 1 4 0 4 1 4 0 4 0 4 -1 4 0 4 -1 4 -1 4 -2 4 -1" stroke="#60b040"/><path vector-effect="non-scaling-stroke" d="M-100 12l4 1 4 0 4 1 4 0 4 0 4 0 4 1 4 0 4 0 4 0 4 0 4 0 4 0 4 -1 4 0 4 0 4 0 4 -1 4 0 4 -1 4 0 4 0 4 -1 4 0 4 0 4 1 4 0 4 1 4 0 4 1 4 0 4 0 4 0 4 0 4 -1 4 0 4 -1 4 0 4 -1 4 0 4 0 4 0 4 1 4 0 4 0 4 1 4 0 4 1 4 0 4 0 4 1 4 1 4 2 4 1 4 1 4 -1 4 -2 4 -4 4 -3 4 -3 4 -3 4 -2 4 -2 4 -2 4 -2 4 -2 4 -3 4 -2 4 -2 4 -2 4 -1 4 0 4 0 4 1 4 2 4 1 4 3 4 2 4 2 4 2 4 1 4 1 4 0 4 0 4 -2 4 -1 4 -2 4 -2 4 -2 4 -1 4 -1 4 0 4 0 4 1 4 1 4 1 4 1 4 2 4 3 4 3 4 4 4 4 4 5 4 4 4 4 4 3 4 3 4 2 4 2 4 1 4 1 4 2 4 1 4 2 4 1 4 2 4 2 4 2 4 2 4 2 4 2 4 1 4 0 4 -1 4 -1 4 -1 4 -2 4 -1 4 -2 4 -1 4 -1 4 0 4 0 4 0 4 1 4 0 4 -1 4 0 4 0 4 -1 4 0 4 -1 4 0 4 -1 4 0 4 -1 4 0 4 0 4 0 4 1" stroke="#c0408e"/><path vector-effect="non-scaling-stroke" d="M-100 3l4 0 4 0 4 -1 4 0 4 -1 4 -1 4 0 4 0 4 0 4 1 4 0 4 1 4 0 4 0 4 0 4 -1 4 -1 4 0 4 -1 4 0 4 0 4 0 4 0 4 0 4 1 4 0 4 -1 4 0 4 0 4 1 4 0 4 0 4 -1 4 0 4 0 4 -1 4 0 4 0 4 0 4 1 4 1 4 1 4 1 4 0 4 1 4 1 4 0 4 1 4 1 4 0 4 1 4 0 4 0 4 0 4 -1 4 -1 4 -1 4 -2 4 -1 4 -1 4 -1 4 0 4 1 4 1 4 2 4 2 4 2 4 2 4 2 4 3 4 1 4 2 4 1 4 0 4 0 4 -1 4 0 4 -1 4 0 4 -1 4 0 4 -2 4 -4 4 -3 4 -5 4 -5 4 -4 4 -5 4 -3 4 -2 4 -1 4 1 4 1 4 2 4 2 4 3 4 4 4 3 4 5 4 4 4 5 4 5 4 5 4 5 4 5 4 4 4 4 4 4 4 4 4 3 4 3 4 2 4 2 4 1 4 0 4 0 4 0 4 -1 4 0 4 -1 4 -1 4 0 4 -1 4 -1 4 -1 4 -1 4 -1 4 -1 4 -1 4 0 4 -1 4 0 4 0 4 -1 4 0 4 0 4 -1 4 0 4 0 4 0 4 0 4 1 4 0 4 1 4 0 4 1 4 0 4 -1 4 0 4 -1" stroke="#505050"/><path vector-effect="non-scaling-stroke" d="M-100 19l4 1 4 0 4 0 4 0 4 -1 4 0 4 -1 4 0 4 0 4 1 4 1 4 0 4 0 4 0 4 -1 4 -1 4 0 4 -1 4 0 4 -1 4 0 4 -1 4 0 4 -1 4 0 4 0 4 1 4 0 4 0 4 1 4 0 4 1 4 0 4 1 4 1 4 0 4 1 4 1 4 0 4 0 4 0 4 -1 4 0 4 0 4 -1 4 0 4 1 4 0 4 -1 4 0 4 0 4 0 4 -1 4 0 4 -1 4 -2 4 -3 4 -3 4 -3 4 -2 4 -2 4 -2 4 -5 4 -6 4 -6 4 -7 4 -6 4 -5 4 -5 4 -3 4 -2 4 1 4 3 4 5 4 7 4 7 4 6 4 6 4 4 4 3 4 2 4 1 4 -1 4 -2 4 -1 4 -2 4 -2 4 -2 4 -2 4 -1 4 -2 4 0 4 -1 4 -1 4 -1 4 -1 4 -1 4 -1 4 -1 4 -1 4 0 4 0 4 0 4 0 4 0 4 0 4 0 4 0 4 0 4 0 4 -1 4 0 4 -1 4 0 4 -1 4 -1 4 -2 4 -1 4 -1 4 0 4 0 4 0 4 1 4 0 4 1 4 1 4 1 4 1 4 1 4 0 4 1 4 1 4 0 4 1 4 1 4 1 4 1 4 0 4 0 4 0 4 0 4 -1 4 -1 4 0 4 -1 4 0 4 0 4 0 4 -1 4 0" stroke="#60b040"/><path vector-effect="non-scaling-stroke" d="M-100 -6l4 0 4 -1 4 0 4 0 4 0 4 1 4 0 4 1 4 0 4 0 4 0 4 0 4 -1 4 0 4 -1 4 -1 4 -1 4 0 4 0 4 0 4 0 4 0 4 1 4 1 4 0 4 0 4 1 4 0 4 0 4 0 4 1 4 0 4 0 4 1 4 0 4 0 4 0 4 -1 4 -1 4 0 4 -1 4 -1 4 0 4 -1 4 0 4 0 4 0 4 0 4 0 4 0 4 -1 4 0 4 -1 4 0 4 -1 4 0 4 1 4 2 4 1 4 2 4 1 4 1 4 3 4 4 4 4 4 4 4 4 4 4 4 4 4 3 4 3 4 3 4 1 4 1 4 0 4 -1 4 -2 4 -2 4 -2 4 -2 4 -3 4 -3 4 -4 4 -4 4 -4 4 -4 4 -3 4 -2 4 -2 4 -1 4 0 4 0 4 1 4 0 4 1 4 1 4 1 4 1 4 2 4 1 4 2 4 1 4 2 4 2 4 2 4 2 4 3 4 2 4 2 4 2 4 2 4 2 4 2 4 1 4 0 4 0 4 0 4 0 4 -1 4 0 4 -1 4 0 4 -1 4 0 4 0 4 0 4 0 4 0 4 0 4 0 4 0 4 0 4 0 4 0 4 -1 4 -1 4 -1 4 -1 4 -1 4 -1 4 -1 4 -1 4 0 4 0 4 0 4 0 4 0 4 1 4 0 4 1" stroke="#1a3a9a"/><path vector-effect="non-scaling-stroke" d="M-100 18l4 -1 4 -1 4 0 4 0 4 0 4 0 4 0 4 0 4 0 4 -1 4 0 4 -1 4 0 4 0 4 -1 4 0 4 0 4 0 4 0 4 0 4 0 4 0 4 1 4 0 4 1 4 0 4 1 4 0 4 -1 4 0 4 -1 4 0 4 0 4 0 4 0 4 0 4 1 4 1 4 1 4 0 4 1 4 1 4 1 4 0 4 0 4 1 4 0 4 -1 4 -1 4 -1 4 -2 4 -2 4 -2 4 -2 4 -2 4 -1 4 -2 4 -1 4 -1 4 -1 4 -1 4 -2 4 -6 4 -7 4 -8 4 -8 4 -8 4 -7 4 -6 4 -4 4 -3 4 0 4 1 4 3 4 5 4 5 4 6 4 6 4 6 4 5 4 5 4 4 4 3 4 2 4 1 4 1 4 -1 4 0 4 -1 4 0 4 0 4 0 4 0 4 0 4 1 4 1 4 1 4 2 4 2 4 3 4 2 4 2 4 3 4 2 4 2 4 2 4 1 4 2 4 1 4 0 4 1 4 0 4 0 4 0 4 0 4 0 4 0 4 0 4 0 4 0 4 0 4 1 4 1 4 0 4 1 4 1 4 1 4 0 4 1 4 0 4 0 4 -1 4 0 4 -1 4 0 4 0 4 -1 4 0 4 0 4 0 4 0 4 0 4 0 4 -1 4 0 4 -1 4 -1 4 -1 4 -1 4 0" stroke="#7a2fb8"/><path vector-effect="non-scaling-stroke" d="M-100 19l4 1 4 2 4 2 4 2 4 2 4 2 4 1 4 0 4 0 4 0 4 -1 4 -1 4 -1 4 -2 4 -3 4 -2 4 -3 4 -2 4 -2 4 -1 4 -1 4 -1 4 0 4 0 4 0 4 1 4 1 4 1 4 0 4 1 4 1 4 0 4 1 4 0 4 0 4 1 4 1 4 1 4 1 4 1 4 2 4 1 4 1 4 1 4 1 4 1 4 0 4 -1 4 -1 4 -2 4 -3 4 -2 4 -1 4 -1 4 -1 4 -1 4 -2 4 -2 4 -3 4 -2 4 -2 4 -4 4 -7 4 -8 4 -10 4 -10 4 -9 4 -9 4 -6 4 -5 4 -2 4 0 4 2 4 3 4 4 4 4 4 5 4 5 4 4 4 5 4 4 4 5 4 4 4 3 4 2 4 1 4 1 4 0 4 -1 4 0 4 1 4 0 4 1 4 1 4 1 4 1 4 2 4 1 4 2 4 1 4 2 4 2 4 2 4 2 4 2 4 2 4 2 4 2 4 1 4 1 4 1 4 0 4 0 4 0 4 0 4 0 4 0 4 0 4 0 4 0 4 0 4 -1 4 -1 4 -1 4 -1 4 -1 4 0 4 -1 4 1 4 0 4 1 4 1 4 0 4 1 4 1 4 0 4 0 4 0 4 0 4 -1 4 0 4 -1 4 -1 4 -1 4 -1 4 -1 4 -1 4 -1 4 0 4 -1" stroke="#9080c0"/><path vector-effect="non-scaling-stroke" d="M-100 -8l4 0 4 -1 4 0 4 0 4 1 4 0 4 1 4 0 4 0 4 0 4 0 4 0 4 0 4 0 4 0 4 0 4 0 4 -1 4 -1 4 -1 4 -1 4 -1 4 0 4 -1 4 -1 4 0 4 -1 4 0 4 0 4 -1 4 0 4 1 4 0 4 0 4 0 4 0 4 0 4 0 4 1 4 0 4 1 4 0 4 1 4 1 4 1 4 1 4 1 4 0 4 -1 4 -1 4 -2 4 -2 4 -1 4 -1 4 -1 4 1 4 2 4 2 4 2 4 2 4 1 4 0 4 -1 4 -1 4 -2 4 -2 4 -2 4 -2 4 -2 4 -1 4 -1 4 0 4 0 4 1 4 1 4 2 4 2 4 2 4 2 4 2 4 1 4 1 4 1 4 0 4 0 4 -1 4 0 4 -1 4 -1 4 0 4 -1 4 -1 4 -1 4 -2 4 -1 4 -1 4 -2 4 0 4 -1 4 0 4 0 4 0 4 0 4 1 4 0 4 0 4 0 4 -1 4 0 4 -1 4 -1 4 -2 4 -1 4 -1 4 -1 4 -1 4 -1 4 0 4 0 4 0 4 1 4 1 4 2 4 2 4 1 4 2 4 1 4 1 4 0 4 0 4 0 4 -2 4 -1 4 -2 4 -1 4 -2 4 -1 4 -1 4 0 4 0 4 0 4 0 4 0 4 0 4 1 4 0 4 1 4 0 4 1 4 1" stroke="#2b5fd0"/></g>
<line x1="115" y1="66" x2="115" y2="203" stroke="#444" stroke-width="0.9" stroke-dasharray="1.2,1.1"/>
<path d="M51.5,65.5 H434 V199" fill="none" stroke="#333" stroke-width="1.3"/>
<line x1="51.5" y1="65" x2="51.5" y2="199" stroke="#555" stroke-width="1.2"/>
<line x1="51" y1="199" x2="434.5" y2="199" stroke="#808080" stroke-width="1.6"/>
<rect x="254.0" y="65.2" width="20" height="134.6" fill="#2fb56a" fill-opacity="0.65"/>
<line x1="250" y1="65.5" x2="278" y2="65.5" stroke="#333" stroke-width="1.3"/>
<line x1="48.2" y1="75.1" x2="51.5" y2="75.1" stroke="#555" stroke-width="0.9"/>
<text x="40.6" y="78.7" font-size="10" font-weight="bold" fill="#111" text-anchor="end" stroke="#111" stroke-width="0.25">8</text>
<line x1="48.2" y1="103.4" x2="51.5" y2="103.4" stroke="#555" stroke-width="0.9"/>
<text x="40.6" y="107.0" font-size="10" font-weight="bold" fill="#111" text-anchor="end" stroke="#111" stroke-width="0.25">4</text>
<line x1="48.2" y1="131.7" x2="51.5" y2="131.7" stroke="#555" stroke-width="0.9"/>
<text x="40.6" y="135.3" font-size="10" font-weight="bold" fill="#111" text-anchor="end" stroke="#111" stroke-width="0.25">0</text>
<line x1="48.2" y1="160.0" x2="51.5" y2="160.0" stroke="#555" stroke-width="0.9"/>
<text x="40.6" y="163.6" font-size="10" font-weight="bold" fill="#111" text-anchor="end" stroke="#111" stroke-width="0.25">-4</text>
<line x1="48.2" y1="188.3" x2="51.5" y2="188.3" stroke="#555" stroke-width="0.9"/>
<text x="40.6" y="191.9" font-size="10" font-weight="bold" fill="#111" text-anchor="end" stroke="#111" stroke-width="0.25">-8</text>
<line x1="51.3" y1="199" x2="51.3" y2="202.5" stroke="#555" stroke-width="0.9"/>
<text x="51.3" y="214.8" font-size="10" font-weight="bold" fill="#111" text-anchor="middle" stroke="#111" stroke-width="0.25">-100</text>
<line x1="115.0" y1="199" x2="115.0" y2="202.5" stroke="#555" stroke-width="0.9"/>
<text x="115.0" y="214.8" font-size="10" font-weight="bold" fill="#111" text-anchor="middle" stroke="#111" stroke-width="0.25">0</text>
<line x1="178.7" y1="199" x2="178.7" y2="202.5" stroke="#555" stroke-width="0.9"/>
<text x="178.7" y="214.8" font-size="10" font-weight="bold" fill="#111" text-anchor="middle" stroke="#111" stroke-width="0.25">100</text>
<line x1="242.3" y1="199" x2="242.3" y2="202.5" stroke="#555" stroke-width="0.9"/>
<text x="242.3" y="214.8" font-size="10" font-weight="bold" fill="#111" text-anchor="middle" stroke="#111" stroke-width="0.25">200</text>
<line x1="306.0" y1="199" x2="306.0" y2="202.5" stroke="#555" stroke-width="0.9"/>
<text x="306.0" y="214.8" font-size="10" font-weight="bold" fill="#111" text-anchor="middle" stroke="#111" stroke-width="0.25">300</text>
<line x1="369.6" y1="199" x2="369.6" y2="202.5" stroke="#555" stroke-width="0.9"/>
<text x="369.6" y="214.8" font-size="10" font-weight="bold" fill="#111" text-anchor="middle" stroke="#111" stroke-width="0.25">400</text>
<line x1="433.3" y1="199" x2="433.3" y2="202.5" stroke="#555" stroke-width="0.9"/>
<text x="423.8" y="214.8" font-size="10" font-weight="bold" fill="#111" text-anchor="start" stroke="#111" stroke-width="0.25">500 ms</text>
<text x="16.0" y="135.3" font-size="10" font-weight="bold" fill="#111" text-anchor="start" stroke="#111" stroke-width="0.25">µV</text>
<line x1="58.4" y1="169.5" x2="66.8" y2="169.5" stroke="#2aa55a" stroke-width="1.3"/>
<text x="70.8" y="172.9" font-size="10" font-weight="bold" fill="#2aa55a" text-anchor="start" textLength="27.2" lengthAdjust="spacingAndGlyphs" stroke="#2aa55a" stroke-width="0.25">Hits II</text>
<line x1="107.5" y1="169.5" x2="115.9" y2="169.5" stroke="#222" stroke-width="1.3"/>
<text x="119.9" y="172.9" font-size="10" font-weight="bold" fill="#222" text-anchor="start" textLength="29.4" lengthAdjust="spacingAndGlyphs" stroke="#222" stroke-width="0.25">Hits SI</text>
<line x1="58.4" y1="183.2" x2="66.8" y2="183.2" stroke="#2a6ab5" stroke-width="1.3"/>
<text x="70.8" y="186.6" font-size="10" font-weight="bold" fill="#2a6ab5" text-anchor="start" textLength="20.9" lengthAdjust="spacingAndGlyphs" stroke="#2a6ab5" stroke-width="0.25">CR II</text>
<line x1="107.5" y1="183.2" x2="115.9" y2="183.2" stroke="#e03030" stroke-width="1.3"/>
<text x="119.9" y="186.6" font-size="10" font-weight="bold" fill="#e03030" text-anchor="start" textLength="22.7" lengthAdjust="spacingAndGlyphs" stroke="#e03030" stroke-width="0.25">CR SI</text>
<g clip-path="url(#hc0)"><g filter="url(#tblur)"><rect x="2.3000000000000007" y="244.3" width="32" height="40.0" fill="#ff1000"/><rect x="2.3000000000000007" y="246.8" width="32" height="37.5" fill="#ff4000"/><rect x="2.3000000000000007" y="248.8" width="32" height="35.5" fill="#ff9000"/><rect x="2.3000000000000007" y="250.8" width="32" height="33.5" fill="#ffe000"/><rect x="2.3000000000000007" y="252.8" width="32" height="31.5" fill="#a0ff00"/><rect x="2.3000000000000007" y="254.3" width="32" height="30.0" fill="#00f040"/><rect x="2.3000000000000007" y="256.1" width="32" height="28.2" fill="#00e8e8"/><rect x="2.3000000000000007" y="257.5" width="32" height="26.8" fill="#0090ff"/><rect x="2.3000000000000007" y="259.1" width="32" height="25.2" fill="#0050ff"/><path d="M2.3000000000000007,256.8 L13.3,255.3 L18.3,254.3 L23.3,255.3 L34.3,256.8 V284.3 H2.3000000000000007 Z" fill="#00e8e8"/><ellipse cx="18.3" cy="262.8" rx="10" ry="5.5" fill="#0070ff"/><ellipse cx="18.3" cy="262.8" rx="6.5" ry="3.6" fill="#0040f0"/><path d="M10.3,271.6 L18.3,267.6 L26.3,271.6 Z" fill="#00e880"/></g></g>
<rect x="2.95" y="241.95" width="30.60" height="31.80" fill="none" stroke="#111" stroke-width="1.7"/>
<g clip-path="url(#hc1)"><g filter="url(#tblur)"><rect x="36.8" y="244.1" width="32" height="40.0" fill="#ff2000"/><rect x="36.8" y="246.6" width="32" height="37.5" fill="#ff5000"/><rect x="36.8" y="248.6" width="32" height="35.5" fill="#ffa000"/><rect x="36.8" y="250.4" width="32" height="33.7" fill="#f0f000"/><rect x="36.8" y="252.3" width="32" height="31.8" fill="#60ff00"/><rect x="36.8" y="254.1" width="32" height="30.0" fill="#00f060"/><ellipse cx="52.8" cy="259.6" rx="10.2" ry="9.3" fill="#00e8e0"/><ellipse cx="52.8" cy="259.6" rx="8.2" ry="7.6" fill="#00a0ff"/><ellipse cx="52.8" cy="259.1" rx="6.2" ry="6.0" fill="#0050ff"/><ellipse cx="52.3" cy="257.90000000000003" rx="3.5" ry="3.2" fill="#0030e8"/><path d="M36.8,268.8 L68.8,268.8 V274.8 H36.8 Z" fill="#70f000"/></g></g>
<rect x="37.35" y="241.95" width="30.70" height="31.80" fill="none" stroke="#d42a2a" stroke-width="1.7"/>
<g clip-path="url(#hc2)"><g filter="url(#tblur)"><rect x="2.3000000000000007" y="280.3" width="32" height="40.0" fill="#ff0050"/><rect x="2.3000000000000007" y="282.8" width="32" height="37.5" fill="#ff2000"/><rect x="2.3000000000000007" y="284.8" width="32" height="35.5" fill="#ff9000"/><rect x="2.3000000000000007" y="286.8" width="32" height="33.5" fill="#ffe000"/><rect x="2.3000000000000007" y="288.8" width="32" height="31.5" fill="#a0ff00"/><rect x="2.3000000000000007" y="290.3" width="32" height="30.0" fill="#00f040"/><rect x="2.3000000000000007" y="292.1" width="32" height="28.2" fill="#00e8e8"/><rect x="2.3000000000000007" y="293.5" width="32" height="26.8" fill="#0090ff"/><rect x="2.3000000000000007" y="295.1" width="32" height="25.2" fill="#0050ff"/><ellipse cx="18.3" cy="299.3" rx="13" ry="6.5" fill="#0040f0"/><ellipse cx="18.3" cy="299.8" rx="7" ry="3.5" fill="#0028d8"/><path d="M10.3,308.8 L18.3,303.3 L26.3,308.8 Z" fill="#00e0d0"/></g></g>
<rect x="2.95" y="278.45" width="30.40" height="31.40" fill="none" stroke="#2aa05a" stroke-width="1.7"/>
<g clip-path="url(#hc3)"><g filter="url(#tblur)"><rect x="36.8" y="280.3" width="32" height="40.0" fill="#ff2000"/><rect x="36.8" y="282.8" width="32" height="37.5" fill="#ff5000"/><rect x="36.8" y="284.8" width="32" height="35.5" fill="#ffa000"/><rect x="36.8" y="286.6" width="32" height="33.7" fill="#f0f000"/><rect x="36.8" y="288.5" width="32" height="31.8" fill="#60ff00"/><rect x="36.8" y="290.3" width="32" height="30.0" fill="#00f060"/><ellipse cx="52.8" cy="296.3" rx="10.2" ry="9.3" fill="#00e8e0"/><ellipse cx="52.8" cy="296.3" rx="8.2" ry="7.6" fill="#00a0ff"/><ellipse cx="52.8" cy="295.8" rx="6.2" ry="6.0" fill="#0050ff"/><ellipse cx="52.3" cy="294.6" rx="3.5" ry="3.2" fill="#0030e8"/><path d="M36.8,304.8 L68.8,304.8 V310.8 H36.8 Z" fill="#70f000"/></g></g>
<rect x="37.95" y="278.45" width="29.80" height="31.40" fill="none" stroke="#2a64aa" stroke-width="1.7"/>
<rect x="22.2" y="327" width="23.9" height="5.2" fill="url(#cbar)"/>
<text x="27.0" y="322.4" font-size="10.5" font-weight="bold" fill="#111" text-anchor="start" textLength="13.2" lengthAdjust="spacingAndGlyphs" stroke="#111" stroke-width="0.25">µV</text>
<text x="11.0" y="333.0" font-size="10.5" font-weight="bold" fill="#111" text-anchor="start" textLength="9.6" lengthAdjust="spacingAndGlyphs" stroke="#111" stroke-width="0.25">-5</text>
<text x="46.6" y="333.0" font-size="10.5" font-weight="bold" fill="#111" text-anchor="start" textLength="11.4" lengthAdjust="spacingAndGlyphs" stroke="#111" stroke-width="0.25">+5</text>
<circle cx="35.4" cy="354.9" r="11.8" fill="#fbfbfb" stroke="#e2e2e2" stroke-width="0.7"/>
<line x1="35.4" y1="343" x2="35.4" y2="367" stroke="#d4d4d4" stroke-width="0.5"/>
<line x1="23.6" y1="354.9" x2="47.2" y2="354.9" stroke="#e0e0e0" stroke-width="0.4"/>
<path d="M42.2,347.4 C44.2,348.2 46.0,350.8 46.7,353.6 C47.0,356.4 46.4,358.4 45.2,359.8 L42.4,359.6 Z" fill="#f7b0b2"/>
<path d="M24.2,351.8 C24.4,347.5 28.8,343.6 35.4,343.3 C40.6,343.4 44.2,345.6 45.8,348.6 L44.6,349.0 L43.2,347.4 L42.2,351.4 L41.2,347.6 L39.6,347.4 L39.0,351.0 L38.0,347.6 L36.2,347.4 L35.6,350.8 L34.6,347.6 L32.6,347.4 L32.0,351.8 L31.0,347.6 L29.4,347.6 L28.6,350.0 L28.6,356.2 L40.6,356.2 L40.4,362.4 C38.6,364.0 35.8,364.6 33.0,364.2 C31.0,363.9 29.9,362.6 29.4,360.8 C28.9,359.2 27.5,357.6 25.6,356.6 C24.5,355.2 24.1,353.4 24.2,351.8 Z" fill="#ee1c24"/>
<g fill="#f06068"><circle cx="44.0" cy="353.5" r="0.8"/><circle cx="43.4" cy="357.3" r="0.7"/></g>
<text x="13.2" y="382.4" font-size="10.5" font-weight="bold" fill="#111" text-anchor="start" textLength="37.0" lengthAdjust="spacingAndGlyphs" stroke="#111" stroke-width="0.25">P &lt; 0.05</text>
<g fill="#c0c0c0"><rect x="119.9" y="358.9" width="5.2" height="6.1"/><rect x="134.0" y="358.9" width="2.2" height="6.1"/><rect x="147.0" y="358.9" width="1.5" height="6.1"/><rect x="157.0" y="358.9" width="3.3" height="6.1"/><rect x="160.3" y="352.7" width="4.7" height="12.3"/><rect x="165.0" y="358.9" width="3.6" height="6.1"/><rect x="173.3" y="358.9" width="1.7" height="6.1"/><rect x="189.5" y="358.9" width="2.3" height="6.1"/><rect x="191.8" y="358.9" width="1.8" height="6.1"/><rect x="193.6" y="352.7" width="2.4" height="12.3"/><rect x="196.0" y="346.6" width="0.9" height="18.4"/><rect x="196.9" y="352.7" width="4.1" height="12.3"/><rect x="204.0" y="358.9" width="2.0" height="6.1"/><rect x="210.2" y="358.9" width="1.3" height="6.1"/><rect x="223.0" y="358.9" width="3.8" height="6.1"/><rect x="226.8" y="352.7" width="8.0" height="12.3"/><rect x="234.8" y="340.4" width="0.8" height="24.6"/><rect x="235.6" y="346.6" width="4.0" height="18.4"/><rect x="239.6" y="358.9" width="3.0" height="6.1"/><rect x="248.5" y="358.9" width="3.5" height="6.1"/><rect x="276.5" y="358.9" width="7.0" height="6.1"/><rect x="283.5" y="352.7" width="1.5" height="12.3"/><rect x="285.0" y="358.9" width="1.0" height="6.1"/><rect x="300.4" y="346.6" width="4.6" height="18.4"/><rect x="305.0" y="340.4" width="1.0" height="24.6"/><rect x="306.0" y="352.7" width="5.5" height="12.3"/><rect x="311.5" y="346.6" width="2.0" height="18.4"/><rect x="313.5" y="334.2" width="6.0" height="30.8"/><rect x="319.5" y="352.7" width="4.9" height="12.3"/><rect x="343.0" y="358.9" width="5.9" height="6.1"/><rect x="365.3" y="358.9" width="2.1" height="6.1"/><rect x="369.5" y="358.9" width="7.1" height="6.1"/><rect x="376.6" y="352.7" width="1.8" height="12.3"/><rect x="378.4" y="358.9" width="3.6" height="6.1"/><rect x="382.0" y="352.7" width="2.7" height="12.3"/><rect x="384.7" y="346.6" width="2.0" height="18.4"/><rect x="390.3" y="346.6" width="2.7" height="18.4"/><rect x="393.0" y="352.7" width="3.0" height="12.3"/><rect x="396.0" y="358.9" width="11.7" height="6.1"/><rect x="410.0" y="358.9" width="4.6" height="6.1"/><rect x="425.8" y="358.9" width="6.7" height="6.1"/></g>
<path d="M251.4,365 L251.6,353 L253.0,347 L254.0,338 L255.3,324.4 L272.9,324.4 L273.8,338 L274.6,346 L276.0,350 L276.4,365 Z" fill="#c0c0c0"/>
<path d="M384.7,365 L384.7,346.6 L386.3,324.6 L390.3,324.6 L391.2,346.6 L391.2,365 Z" fill="#c0c0c0"/>
<path d="M255.3,324.4 L256.8,296.6 L258.2,282.8 L259.2,282.1 L260.1,251.9 L260.5,249.9 L261,256.5 L262.5,257.1 L263.4,266.3 L264.7,275.5 L265.8,276.9 L266.7,283.4 L267.6,287.4 L268.4,282.8 L269.3,282.1 L270.3,269.6 L270.8,270.3 L271.3,284.7 L272.9,324.4 Z" fill="#000"/>
<path d="M386.3,324.6 L387.3,310 L387.9,308.2 L388.6,313 L389.3,314 L390.3,324.6 Z" fill="#000"/>
<rect x="254.2" y="243.2" width="20" height="121.5" fill="none" stroke="#4cb882" stroke-width="1.5" stroke-dasharray="1.2,1.0"/>
<path d="M113.3,242.6 H433.6 V365" fill="none" stroke="#222" stroke-width="1.1"/>
<line x1="116.6" y1="242" x2="116.6" y2="365.5" stroke="#444" stroke-width="1.1"/>
<line x1="113.3" y1="365.2" x2="434" y2="365.2" stroke="#333" stroke-width="1.2"/>
<line x1="113.3" y1="242.6" x2="116.6" y2="242.6" stroke="#444" stroke-width="0.9"/>
<text x="105.6" y="246.3" font-size="10.5" font-weight="bold" fill="#111" text-anchor="end" stroke="#111" stroke-width="0.25">30</text>
<line x1="113.3" y1="262.5" x2="116.6" y2="262.5" stroke="#444" stroke-width="0.9"/>
<text x="105.6" y="266.2" font-size="10.5" font-weight="bold" fill="#111" text-anchor="end" stroke="#111" stroke-width="0.25">25</text>
<line x1="113.3" y1="283.0" x2="116.6" y2="283.0" stroke="#444" stroke-width="0.9"/>
<text x="105.6" y="286.7" font-size="10.5" font-weight="bold" fill="#111" text-anchor="end" stroke="#111" stroke-width="0.25">20</text>
<line x1="113.3" y1="303.5" x2="116.6" y2="303.5" stroke="#444" stroke-width="0.9"/>
<text x="105.6" y="307.2" font-size="10.5" font-weight="bold" fill="#111" text-anchor="end" stroke="#111" stroke-width="0.25">15</text>
<line x1="113.3" y1="324.0" x2="116.6" y2="324.0" stroke="#444" stroke-width="0.9"/>
<text x="105.6" y="327.7" font-size="10.5" font-weight="bold" fill="#111" text-anchor="end" stroke="#111" stroke-width="0.25">10</text>
<line x1="113.3" y1="344.5" x2="116.6" y2="344.5" stroke="#444" stroke-width="0.9"/>
<text x="105.6" y="348.2" font-size="10.5" font-weight="bold" fill="#111" text-anchor="end" stroke="#111" stroke-width="0.25">5</text>
<line x1="113.3" y1="365.2" x2="116.6" y2="365.2" stroke="#444" stroke-width="0.9"/>
<text x="105.6" y="368.9" font-size="10.5" font-weight="bold" fill="#111" text-anchor="end" stroke="#111" stroke-width="0.25">0</text>
<line x1="116.5" y1="365" x2="116.5" y2="368.5" stroke="#444" stroke-width="0.9"/>
<text x="116.5" y="382.0" font-size="10.5" font-weight="bold" fill="#111" text-anchor="middle" stroke="#111" stroke-width="0.25">0</text>
<line x1="179.4" y1="365" x2="179.4" y2="368.5" stroke="#444" stroke-width="0.9"/>
<text x="179.4" y="382.0" font-size="10.5" font-weight="bold" fill="#111" text-anchor="middle" stroke="#111" stroke-width="0.25">100</text>
<line x1="242.3" y1="365" x2="242.3" y2="368.5" stroke="#444" stroke-width="0.9"/>
<text x="242.3" y="382.0" font-size="10.5" font-weight="bold" fill="#111" text-anchor="middle" stroke="#111" stroke-width="0.25">200</text>
<line x1="305.2" y1="365" x2="305.2" y2="368.5" stroke="#444" stroke-width="0.9"/>
<text x="305.2" y="382.0" font-size="10.5" font-weight="bold" fill="#111" text-anchor="middle" stroke="#111" stroke-width="0.25">300</text>
<line x1="368.1" y1="365" x2="368.1" y2="368.5" stroke="#444" stroke-width="0.9"/>
<text x="368.1" y="382.0" font-size="10.5" font-weight="bold" fill="#111" text-anchor="middle" stroke="#111" stroke-width="0.25">400</text>
<line x1="431.0" y1="365" x2="431.0" y2="368.5" stroke="#444" stroke-width="0.9"/>
<text x="424.0" y="382.0" font-size="10.5" font-weight="bold" fill="#111" text-anchor="start" textLength="33.4" lengthAdjust="spacingAndGlyphs" stroke="#111" stroke-width="0.25">500 ms</text>
<text x="280.4" y="258.0" font-size="10.5" font-weight="bold" fill="#111" text-anchor="start" textLength="52.7" lengthAdjust="spacingAndGlyphs" stroke="#111" stroke-width="0.25">218-245ms</text>
<text transform="translate(91.4,367.5) rotate(-90)" font-size="10.4" font-weight="bold" fill="#111" stroke="#111" stroke-width="0.25" textLength="115" lengthAdjust="spacingAndGlyphs">% electrodes at p &lt; 0.05</text>
<rect x="51.6" y="419.2" width="381.4" height="263.9" fill="none" stroke="#444" stroke-width="1.2"/>
<path d="M90.9,487.5 C90.8,484.4 91.5,479.5 92.6,476.0 C93.7,472.5 95.5,469.4 97.5,466.5 C99.5,463.6 101.8,461.2 104.5,458.5 C107.2,455.8 109.5,452.9 113.5,450.5 C117.5,448.1 123.5,445.4 128.2,444.1 C132.9,442.8 137.1,442.8 141.5,442.7 C145.9,442.6 150.4,442.6 154.9,443.5 C159.4,444.4 164.3,446.0 168.3,448.1 C172.3,450.2 175.9,453.0 179.0,456.1 C182.1,459.2 184.8,463.0 187.0,466.8 C189.2,470.6 191.3,475.1 192.4,478.9 C193.5,482.7 193.9,486.0 193.7,489.6 C193.5,493.2 192.3,497.2 191.0,500.3 C189.7,503.4 187.2,505.6 185.7,508.3 C184.1,511.0 183.5,513.8 181.7,516.3 C179.9,518.8 177.7,521.4 175.0,523.0 C172.3,524.6 168.9,525.5 165.6,525.7 C162.2,525.9 157.8,525.2 154.9,524.3 C152.0,523.4 150.2,521.4 148.2,520.3 C146.2,519.2 145.3,517.8 142.9,517.6 C140.5,517.4 136.6,519.2 133.5,519.0 C130.4,518.8 126.5,517.6 124.1,516.3 C121.6,515.0 120.3,512.8 118.8,511.0 C117.2,509.2 116.8,506.7 114.8,505.6 C112.8,504.5 109.5,505.2 106.8,504.3 C104.1,503.4 100.9,501.9 98.7,500.3 C96.5,498.7 94.7,497.0 93.4,494.9 C92.1,492.8 91.0,490.6 90.9,487.5 Z" fill="url(#bgL)"/>
<path d="M243.2,432.4 C245.7,432.2 248.3,431.8 251.1,432.4 C253.9,433.0 257.2,433.9 260.2,435.8 C263.2,437.7 266.6,440.4 269.2,443.8 C271.8,447.2 274.1,451.9 276.0,456.2 C277.9,460.5 279.4,464.9 280.5,469.8 C281.6,474.7 282.3,480.7 282.8,485.6 C283.3,490.5 283.5,494.7 283.3,499.2 C283.1,503.7 282.7,508.8 281.7,512.8 C280.7,516.8 279.6,520.0 277.1,523.0 C274.7,526.0 270.9,529.0 267.0,530.9 C263.1,532.8 258.1,533.5 253.4,534.3 C248.7,535.0 243.6,535.6 238.7,535.4 C233.8,535.2 228.3,534.7 224.0,533.2 C219.7,531.7 215.6,529.4 212.6,526.4 C209.6,523.4 207.4,519.1 205.8,515.0 C204.2,510.9 203.7,506.4 203.1,501.5 C202.5,496.6 202.1,490.9 202.4,485.6 C202.7,480.3 203.6,474.7 204.7,469.8 C205.8,464.9 207.1,460.4 209.2,456.2 C211.3,452.0 214.0,448.1 217.2,444.9 C220.4,441.7 225.4,438.9 228.5,437.0 C231.6,435.1 233.6,434.3 236.0,433.5 C238.4,432.7 240.7,432.6 243.2,432.4 Z" fill="url(#bgM)"/>
<path d="M291.2,486.8 C291.2,483.3 292.2,478.5 293.6,474.4 C295.0,470.3 297.1,465.8 299.8,462.1 C302.5,458.4 306.0,454.9 309.7,452.2 C313.4,449.5 317.9,447.6 322.0,446.0 C326.1,444.4 329.9,442.9 334.4,442.3 C338.9,441.7 344.7,441.7 349.2,442.3 C353.7,442.9 357.4,443.9 361.5,446.0 C365.6,448.1 370.2,451.4 373.9,454.7 C377.6,458.0 380.9,462.1 383.8,465.8 C386.7,469.5 389.4,473.2 391.2,476.9 C393.0,480.6 394.5,484.7 394.9,488.0 C395.3,491.3 394.6,494.4 393.6,496.7 C392.6,499.0 390.8,500.4 388.7,501.6 C386.6,502.8 383.8,502.9 381.3,504.1 C378.8,505.3 376.4,507.1 373.9,509.0 C371.4,510.9 369.4,513.8 366.5,515.2 C363.6,516.7 359.9,517.5 356.6,517.7 C353.3,517.9 349.2,516.2 346.7,516.4 C344.2,516.6 343.9,517.7 341.8,518.9 C339.8,520.1 337.7,522.8 334.4,523.8 C331.1,524.8 325.7,525.5 322.0,525.1 C318.3,524.7 315.1,523.2 312.2,521.4 C309.3,519.5 307.1,516.9 304.8,514.0 C302.5,511.1 300.5,507.2 298.6,504.1 C296.7,501.0 294.8,498.3 293.6,495.4 C292.4,492.5 291.2,490.3 291.2,486.8 Z" fill="url(#bgL)"/>
<g clip-path="url(#clipL)"><ellipse cx="158" cy="472" rx="32" ry="26" fill="url(#bhi)"/><ellipse cx="125" cy="455" rx="22" ry="10" fill="url(#bhi)" opacity="0.5"/><ellipse cx="92" cy="478" rx="10" ry="26" fill="url(#bdk)" opacity="0.7"/><ellipse cx="168" cy="516" rx="22" ry="14" fill="url(#bdk)"/><ellipse cx="106" cy="503" rx="18" ry="7" fill="url(#bdk)" opacity="0.8"/><ellipse cx="135" cy="518" rx="16" ry="6" fill="url(#bdk)" opacity="0.7"/><path d="M104,498 C116,496 128,494 140,494 C152,494 163,497 176,503" stroke="#6e6e6e" stroke-width="1.6" fill="none" opacity="0.3"/></g>
<g clip-path="url(#clipM)"><path d="M242,430 L290,430 L290,508 C272,503 256,502 242,505 Z" fill="url(#mhi)"/><ellipse cx="252" cy="456" rx="16" ry="24" fill="url(#bhi)"/><ellipse cx="230" cy="470" rx="12" ry="30" fill="url(#bhi)" opacity="0.45"/><ellipse cx="203" cy="485" rx="8" ry="40" fill="url(#bdk)" opacity="0.6"/><ellipse cx="242" cy="530" rx="42" ry="14" fill="url(#bdk)"/><ellipse cx="228" cy="522" rx="6" ry="3.3" fill="none" stroke="#707070" stroke-width="0.6" opacity="0.35"/><ellipse cx="228" cy="522" rx="10" ry="5.5" fill="none" stroke="#707070" stroke-width="0.6" opacity="0.35"/><ellipse cx="256" cy="523" rx="6" ry="3.3" fill="none" stroke="#707070" stroke-width="0.6" opacity="0.35"/><ellipse cx="256" cy="523" rx="10" ry="5.5" fill="none" stroke="#707070" stroke-width="0.6" opacity="0.35"/><ellipse cx="218" cy="516" rx="5" ry="2.8" fill="none" stroke="#707070" stroke-width="0.6" opacity="0.35"/><ellipse cx="266" cy="516" rx="5" ry="2.8" fill="none" stroke="#707070" stroke-width="0.6" opacity="0.35"/><ellipse cx="242" cy="528" rx="14" ry="7.7" fill="none" stroke="#707070" stroke-width="0.6" opacity="0.35"/><ellipse cx="242" cy="528" rx="20" ry="11.0" fill="none" stroke="#707070" stroke-width="0.6" opacity="0.35"/><ellipse cx="212" cy="526" rx="6" ry="3.3" fill="none" stroke="#707070" stroke-width="0.6" opacity="0.35"/><ellipse cx="272" cy="526" rx="6" ry="3.3" fill="none" stroke="#707070" stroke-width="0.6" opacity="0.35"/><line x1="241.6" y1="433" x2="242" y2="500" stroke="#e6e6e6" stroke-width="1.1"/><line x1="240.5" y1="433" x2="240.8" y2="500" stroke="#8a8a8a" stroke-width="0.6"/></g>
<g clip-path="url(#clipR)"><ellipse cx="342" cy="468" rx="36" ry="24" fill="url(#bhi)"/><ellipse cx="320" cy="515" rx="24" ry="12" fill="url(#bdk)"/><ellipse cx="378" cy="506" rx="18" ry="7" fill="url(#bdk)"/><ellipse cx="356" cy="505" rx="22" ry="9" fill="url(#bdk)"/><ellipse cx="294" cy="485" rx="8" ry="22" fill="url(#bdk)" opacity="0.5"/><path d="M326,498 C336,492 347,490 358,491 C369,492 379,495 390,497" stroke="#6e6e6e" stroke-width="1.6" fill="none" opacity="0.3"/></g>
<path d="M90.9,487.5 C90.8,484.4 91.5,479.5 92.6,476.0 C93.7,472.5 95.5,469.4 97.5,466.5 C99.5,463.6 101.8,461.2 104.5,458.5 C107.2,455.8 109.5,452.9 113.5,450.5 C117.5,448.1 123.5,445.4 128.2,444.1 C132.9,442.8 137.1,442.8 141.5,442.7 C145.9,442.6 150.4,442.6 154.9,443.5 C159.4,444.4 164.3,446.0 168.3,448.1 C172.3,450.2 175.9,453.0 179.0,456.1 C182.1,459.2 184.8,463.0 187.0,466.8 C189.2,470.6 191.3,475.1 192.4,478.9 C193.5,482.7 193.9,486.0 193.7,489.6 C193.5,493.2 192.3,497.2 191.0,500.3 C189.7,503.4 187.2,505.6 185.7,508.3 C184.1,511.0 183.5,513.8 181.7,516.3 C179.9,518.8 177.7,521.4 175.0,523.0 C172.3,524.6 168.9,525.5 165.6,525.7 C162.2,525.9 157.8,525.2 154.9,524.3 C152.0,523.4 150.2,521.4 148.2,520.3 C146.2,519.2 145.3,517.8 142.9,517.6 C140.5,517.4 136.6,519.2 133.5,519.0 C130.4,518.8 126.5,517.6 124.1,516.3 C121.6,515.0 120.3,512.8 118.8,511.0 C117.2,509.2 116.8,506.7 114.8,505.6 C112.8,504.5 109.5,505.2 106.8,504.3 C104.1,503.4 100.9,501.9 98.7,500.3 C96.5,498.7 94.7,497.0 93.4,494.9 C92.1,492.8 91.0,490.6 90.9,487.5 Z" fill="#000" filter="url(#btex)" opacity="0.3" clip-path="url(#clipL)"/>
<g mask="url(#mkL)"><path d="M90.9,487.5 C90.8,484.4 91.5,479.5 92.6,476.0 C93.7,472.5 95.5,469.4 97.5,466.5 C99.5,463.6 101.8,461.2 104.5,458.5 C107.2,455.8 109.5,452.9 113.5,450.5 C117.5,448.1 123.5,445.4 128.2,444.1 C132.9,442.8 137.1,442.8 141.5,442.7 C145.9,442.6 150.4,442.6 154.9,443.5 C159.4,444.4 164.3,446.0 168.3,448.1 C172.3,450.2 175.9,453.0 179.0,456.1 C182.1,459.2 184.8,463.0 187.0,466.8 C189.2,470.6 191.3,475.1 192.4,478.9 C193.5,482.7 193.9,486.0 193.7,489.6 C193.5,493.2 192.3,497.2 191.0,500.3 C189.7,503.4 187.2,505.6 185.7,508.3 C184.1,511.0 183.5,513.8 181.7,516.3 C179.9,518.8 177.7,521.4 175.0,523.0 C172.3,524.6 168.9,525.5 165.6,525.7 C162.2,525.9 157.8,525.2 154.9,524.3 C152.0,523.4 150.2,521.4 148.2,520.3 C146.2,519.2 145.3,517.8 142.9,517.6 C140.5,517.4 136.6,519.2 133.5,519.0 C130.4,518.8 126.5,517.6 124.1,516.3 C121.6,515.0 120.3,512.8 118.8,511.0 C117.2,509.2 116.8,506.7 114.8,505.6 C112.8,504.5 109.5,505.2 106.8,504.3 C104.1,503.4 100.9,501.9 98.7,500.3 C96.5,498.7 94.7,497.0 93.4,494.9 C92.1,492.8 91.0,490.6 90.9,487.5 Z" fill="#000" filter="url(#btex2)" opacity="0.55" clip-path="url(#clipL)"/></g>
<path d="M90.9,487.5 C90.8,484.4 91.5,479.5 92.6,476.0 C93.7,472.5 95.5,469.4 97.5,466.5 C99.5,463.6 101.8,461.2 104.5,458.5 C107.2,455.8 109.5,452.9 113.5,450.5 C117.5,448.1 123.5,445.4 128.2,444.1 C132.9,442.8 137.1,442.8 141.5,442.7 C145.9,442.6 150.4,442.6 154.9,443.5 C159.4,444.4 164.3,446.0 168.3,448.1 C172.3,450.2 175.9,453.0 179.0,456.1 C182.1,459.2 184.8,463.0 187.0,466.8 C189.2,470.6 191.3,475.1 192.4,478.9 C193.5,482.7 193.9,486.0 193.7,489.6 C193.5,493.2 192.3,497.2 191.0,500.3 C189.7,503.4 187.2,505.6 185.7,508.3 C184.1,511.0 183.5,513.8 181.7,516.3 C179.9,518.8 177.7,521.4 175.0,523.0 C172.3,524.6 168.9,525.5 165.6,525.7 C162.2,525.9 157.8,525.2 154.9,524.3 C152.0,523.4 150.2,521.4 148.2,520.3 C146.2,519.2 145.3,517.8 142.9,517.6 C140.5,517.4 136.6,519.2 133.5,519.0 C130.4,518.8 126.5,517.6 124.1,516.3 C121.6,515.0 120.3,512.8 118.8,511.0 C117.2,509.2 116.8,506.7 114.8,505.6 C112.8,504.5 109.5,505.2 106.8,504.3 C104.1,503.4 100.9,501.9 98.7,500.3 C96.5,498.7 94.7,497.0 93.4,494.9 C92.1,492.8 91.0,490.6 90.9,487.5 Z" fill="none" stroke="url(#edgeG)" stroke-width="1.2" clip-path="url(#clipL)"/>
<path d="M243.2,432.4 C245.7,432.2 248.3,431.8 251.1,432.4 C253.9,433.0 257.2,433.9 260.2,435.8 C263.2,437.7 266.6,440.4 269.2,443.8 C271.8,447.2 274.1,451.9 276.0,456.2 C277.9,460.5 279.4,464.9 280.5,469.8 C281.6,474.7 282.3,480.7 282.8,485.6 C283.3,490.5 283.5,494.7 283.3,499.2 C283.1,503.7 282.7,508.8 281.7,512.8 C280.7,516.8 279.6,520.0 277.1,523.0 C274.7,526.0 270.9,529.0 267.0,530.9 C263.1,532.8 258.1,533.5 253.4,534.3 C248.7,535.0 243.6,535.6 238.7,535.4 C233.8,535.2 228.3,534.7 224.0,533.2 C219.7,531.7 215.6,529.4 212.6,526.4 C209.6,523.4 207.4,519.1 205.8,515.0 C204.2,510.9 203.7,506.4 203.1,501.5 C202.5,496.6 202.1,490.9 202.4,485.6 C202.7,480.3 203.6,474.7 204.7,469.8 C205.8,464.9 207.1,460.4 209.2,456.2 C211.3,452.0 214.0,448.1 217.2,444.9 C220.4,441.7 225.4,438.9 228.5,437.0 C231.6,435.1 233.6,434.3 236.0,433.5 C238.4,432.7 240.7,432.6 243.2,432.4 Z" fill="#000" filter="url(#btex)" opacity="0.3" clip-path="url(#clipM)"/>
<g mask="url(#mkM)"><path d="M243.2,432.4 C245.7,432.2 248.3,431.8 251.1,432.4 C253.9,433.0 257.2,433.9 260.2,435.8 C263.2,437.7 266.6,440.4 269.2,443.8 C271.8,447.2 274.1,451.9 276.0,456.2 C277.9,460.5 279.4,464.9 280.5,469.8 C281.6,474.7 282.3,480.7 282.8,485.6 C283.3,490.5 283.5,494.7 283.3,499.2 C283.1,503.7 282.7,508.8 281.7,512.8 C280.7,516.8 279.6,520.0 277.1,523.0 C274.7,526.0 270.9,529.0 267.0,530.9 C263.1,532.8 258.1,533.5 253.4,534.3 C248.7,535.0 243.6,535.6 238.7,535.4 C233.8,535.2 228.3,534.7 224.0,533.2 C219.7,531.7 215.6,529.4 212.6,526.4 C209.6,523.4 207.4,519.1 205.8,515.0 C204.2,510.9 203.7,506.4 203.1,501.5 C202.5,496.6 202.1,490.9 202.4,485.6 C202.7,480.3 203.6,474.7 204.7,469.8 C205.8,464.9 207.1,460.4 209.2,456.2 C211.3,452.0 214.0,448.1 217.2,444.9 C220.4,441.7 225.4,438.9 228.5,437.0 C231.6,435.1 233.6,434.3 236.0,433.5 C238.4,432.7 240.7,432.6 243.2,432.4 Z" fill="#000" filter="url(#btex2)" opacity="0.55" clip-path="url(#clipM)"/></g>
<path d="M243.2,432.4 C245.7,432.2 248.3,431.8 251.1,432.4 C253.9,433.0 257.2,433.9 260.2,435.8 C263.2,437.7 266.6,440.4 269.2,443.8 C271.8,447.2 274.1,451.9 276.0,456.2 C277.9,460.5 279.4,464.9 280.5,469.8 C281.6,474.7 282.3,480.7 282.8,485.6 C283.3,490.5 283.5,494.7 283.3,499.2 C283.1,503.7 282.7,508.8 281.7,512.8 C280.7,516.8 279.6,520.0 277.1,523.0 C274.7,526.0 270.9,529.0 267.0,530.9 C263.1,532.8 258.1,533.5 253.4,534.3 C248.7,535.0 243.6,535.6 238.7,535.4 C233.8,535.2 228.3,534.7 224.0,533.2 C219.7,531.7 215.6,529.4 212.6,526.4 C209.6,523.4 207.4,519.1 205.8,515.0 C204.2,510.9 203.7,506.4 203.1,501.5 C202.5,496.6 202.1,490.9 202.4,485.6 C202.7,480.3 203.6,474.7 204.7,469.8 C205.8,464.9 207.1,460.4 209.2,456.2 C211.3,452.0 214.0,448.1 217.2,444.9 C220.4,441.7 225.4,438.9 228.5,437.0 C231.6,435.1 233.6,434.3 236.0,433.5 C238.4,432.7 240.7,432.6 243.2,432.4 Z" fill="none" stroke="url(#edgeG)" stroke-width="1.2" clip-path="url(#clipM)"/>
<path d="M291.2,486.8 C291.2,483.3 292.2,478.5 293.6,474.4 C295.0,470.3 297.1,465.8 299.8,462.1 C302.5,458.4 306.0,454.9 309.7,452.2 C313.4,449.5 317.9,447.6 322.0,446.0 C326.1,444.4 329.9,442.9 334.4,442.3 C338.9,441.7 344.7,441.7 349.2,442.3 C353.7,442.9 357.4,443.9 361.5,446.0 C365.6,448.1 370.2,451.4 373.9,454.7 C377.6,458.0 380.9,462.1 383.8,465.8 C386.7,469.5 389.4,473.2 391.2,476.9 C393.0,480.6 394.5,484.7 394.9,488.0 C395.3,491.3 394.6,494.4 393.6,496.7 C392.6,499.0 390.8,500.4 388.7,501.6 C386.6,502.8 383.8,502.9 381.3,504.1 C378.8,505.3 376.4,507.1 373.9,509.0 C371.4,510.9 369.4,513.8 366.5,515.2 C363.6,516.7 359.9,517.5 356.6,517.7 C353.3,517.9 349.2,516.2 346.7,516.4 C344.2,516.6 343.9,517.7 341.8,518.9 C339.8,520.1 337.7,522.8 334.4,523.8 C331.1,524.8 325.7,525.5 322.0,525.1 C318.3,524.7 315.1,523.2 312.2,521.4 C309.3,519.5 307.1,516.9 304.8,514.0 C302.5,511.1 300.5,507.2 298.6,504.1 C296.7,501.0 294.8,498.3 293.6,495.4 C292.4,492.5 291.2,490.3 291.2,486.8 Z" fill="#000" filter="url(#btex)" opacity="0.3" clip-path="url(#clipR)"/>
<g mask="url(#mkR)"><path d="M291.2,486.8 C291.2,483.3 292.2,478.5 293.6,474.4 C295.0,470.3 297.1,465.8 299.8,462.1 C302.5,458.4 306.0,454.9 309.7,452.2 C313.4,449.5 317.9,447.6 322.0,446.0 C326.1,444.4 329.9,442.9 334.4,442.3 C338.9,441.7 344.7,441.7 349.2,442.3 C353.7,442.9 357.4,443.9 361.5,446.0 C365.6,448.1 370.2,451.4 373.9,454.7 C377.6,458.0 380.9,462.1 383.8,465.8 C386.7,469.5 389.4,473.2 391.2,476.9 C393.0,480.6 394.5,484.7 394.9,488.0 C395.3,491.3 394.6,494.4 393.6,496.7 C392.6,499.0 390.8,500.4 388.7,501.6 C386.6,502.8 383.8,502.9 381.3,504.1 C378.8,505.3 376.4,507.1 373.9,509.0 C371.4,510.9 369.4,513.8 366.5,515.2 C363.6,516.7 359.9,517.5 356.6,517.7 C353.3,517.9 349.2,516.2 346.7,516.4 C344.2,516.6 343.9,517.7 341.8,518.9 C339.8,520.1 337.7,522.8 334.4,523.8 C331.1,524.8 325.7,525.5 322.0,525.1 C318.3,524.7 315.1,523.2 312.2,521.4 C309.3,519.5 307.1,516.9 304.8,514.0 C302.5,511.1 300.5,507.2 298.6,504.1 C296.7,501.0 294.8,498.3 293.6,495.4 C292.4,492.5 291.2,490.3 291.2,486.8 Z" fill="#000" filter="url(#btex2)" opacity="0.55" clip-path="url(#clipR)"/></g>
<path d="M291.2,486.8 C291.2,483.3 292.2,478.5 293.6,474.4 C295.0,470.3 297.1,465.8 299.8,462.1 C302.5,458.4 306.0,454.9 309.7,452.2 C313.4,449.5 317.9,447.6 322.0,446.0 C326.1,444.4 329.9,442.9 334.4,442.3 C338.9,441.7 344.7,441.7 349.2,442.3 C353.7,442.9 357.4,443.9 361.5,446.0 C365.6,448.1 370.2,451.4 373.9,454.7 C377.6,458.0 380.9,462.1 383.8,465.8 C386.7,469.5 389.4,473.2 391.2,476.9 C393.0,480.6 394.5,484.7 394.9,488.0 C395.3,491.3 394.6,494.4 393.6,496.7 C392.6,499.0 390.8,500.4 388.7,501.6 C386.6,502.8 383.8,502.9 381.3,504.1 C378.8,505.3 376.4,507.1 373.9,509.0 C371.4,510.9 369.4,513.8 366.5,515.2 C363.6,516.7 359.9,517.5 356.6,517.7 C353.3,517.9 349.2,516.2 346.7,516.4 C344.2,516.6 343.9,517.7 341.8,518.9 C339.8,520.1 337.7,522.8 334.4,523.8 C331.1,524.8 325.7,525.5 322.0,525.1 C318.3,524.7 315.1,523.2 312.2,521.4 C309.3,519.5 307.1,516.9 304.8,514.0 C302.5,511.1 300.5,507.2 298.6,504.1 C296.7,501.0 294.8,498.3 293.6,495.4 C292.4,492.5 291.2,490.3 291.2,486.8 Z" fill="none" stroke="url(#edgeG)" stroke-width="1.2" clip-path="url(#clipR)"/>
<path d="M147.0,484.0 C147.1,485.1 147.0,486.2 146.6,487.2 C146.2,488.2 145.4,489.3 144.4,489.9 C143.5,490.5 142.2,490.6 141.1,490.8 C140.0,491.0 138.8,491.0 137.7,490.9 C136.5,490.8 135.0,490.7 134.2,490.1 C133.3,489.4 133.0,488.1 132.6,487.0 C132.2,486.0 131.9,485.1 131.8,484.0 C131.6,482.9 131.4,481.6 131.8,480.6 C132.2,479.6 133.4,478.7 134.3,478.1 C135.3,477.5 136.5,477.1 137.6,476.9 C138.8,476.7 140.0,476.6 141.2,476.8 C142.3,477.0 143.6,477.4 144.5,478.1 C145.4,478.8 146.0,479.9 146.4,480.9 C146.8,481.9 147.0,482.9 147.0,484.0 Z" fill="#c8e890" fill-opacity="0.7"/>
<path d="M146.3,484.0 C146.3,485.0 146.6,486.1 146.2,487.0 C145.9,487.9 144.9,488.8 144.1,489.4 C143.2,489.9 142.1,490.3 141.0,490.5 C140.0,490.8 138.7,491.0 137.7,490.8 C136.7,490.6 135.7,489.9 134.8,489.3 C133.9,488.7 132.8,488.0 132.4,487.1 C132.0,486.2 132.3,485.0 132.4,484.0 C132.5,483.0 132.4,481.9 132.8,481.1 C133.2,480.2 134.0,479.4 134.9,478.8 C135.7,478.2 136.8,477.8 137.8,477.6 C138.8,477.4 140.0,477.2 141.0,477.4 C142.0,477.6 142.9,478.4 143.8,479.0 C144.7,479.6 145.8,480.1 146.3,481.0 C146.7,481.8 146.3,483.0 146.3,484.0 Z" fill="#8ad048"/>
<path d="M146.3,484.0 C146.3,484.8 145.3,485.6 144.8,486.4 C144.4,487.1 144.1,488.0 143.4,488.6 C142.7,489.1 141.7,489.4 140.8,489.5 C139.9,489.6 139.0,489.4 138.1,489.3 C137.1,489.2 135.8,489.4 135.1,488.9 C134.3,488.5 133.9,487.3 133.6,486.5 C133.3,485.7 133.4,484.9 133.3,484.0 C133.3,483.1 133.0,482.1 133.4,481.4 C133.8,480.6 134.8,480.2 135.6,479.7 C136.3,479.1 137.0,478.0 137.9,477.9 C138.7,477.7 139.9,478.2 140.8,478.6 C141.6,478.9 142.4,479.3 143.1,479.8 C143.8,480.3 144.4,480.9 144.9,481.6 C145.5,482.3 146.3,483.2 146.3,484.0 Z" fill="#e8c030"/>
<path d="M145.0,484.0 C145.0,484.8 144.9,485.5 144.6,486.2 C144.3,487.0 144.0,488.0 143.4,488.5 C142.7,489.0 141.6,489.2 140.8,489.3 C139.9,489.4 138.9,489.2 138.2,488.9 C137.4,488.6 136.8,488.1 136.2,487.6 C135.6,487.1 135.2,486.7 134.6,486.1 C134.1,485.5 133.0,484.7 132.9,484.0 C132.8,483.3 133.8,482.5 134.2,481.8 C134.7,481.1 134.9,480.1 135.6,479.7 C136.3,479.4 137.4,479.5 138.2,479.5 C139.1,479.4 139.7,479.5 140.5,479.5 C141.4,479.5 142.6,479.2 143.3,479.6 C144.0,480.0 144.5,481.0 144.7,481.7 C145.0,482.4 145.0,483.2 145.0,484.0 Z" fill="#f25414"/>
<path d="M268.2,437.8 C268.3,438.8 267.8,439.9 267.0,440.7 C266.2,441.6 264.8,442.3 263.4,442.9 C262.0,443.5 260.3,444.1 258.7,444.3 C257.0,444.5 255.2,444.3 253.4,444.1 C251.6,444.0 249.3,444.0 247.9,443.4 C246.5,442.9 245.4,441.7 244.8,440.8 C244.1,439.8 244.1,438.8 244.1,437.8 C244.0,436.8 243.7,435.6 244.4,434.7 C245.2,433.9 247.0,433.2 248.5,432.6 C250.0,432.1 251.6,431.7 253.4,431.4 C255.1,431.2 257.0,430.9 258.8,431.0 C260.6,431.1 262.9,431.5 264.2,432.1 C265.5,432.8 265.9,434.0 266.6,435.0 C267.3,435.9 268.1,436.8 268.2,437.8 Z" fill="#c8e890" fill-opacity="0.7"/>
<path d="M268.3,437.8 C268.3,438.7 267.1,439.6 266.2,440.4 C265.3,441.1 264.2,441.9 262.9,442.4 C261.7,442.9 260.0,443.2 258.4,443.4 C256.9,443.7 255.1,443.8 253.5,443.7 C251.8,443.6 249.8,443.3 248.4,442.8 C247.1,442.3 246.2,441.3 245.4,440.5 C244.6,439.7 243.5,438.7 243.6,437.8 C243.7,436.9 244.9,436.0 245.8,435.2 C246.7,434.4 247.6,433.6 248.8,433.1 C250.1,432.5 251.8,432.2 253.5,432.0 C255.1,431.7 257.1,431.2 258.8,431.4 C260.5,431.5 262.5,432.0 263.8,432.7 C265.1,433.3 265.6,434.3 266.4,435.2 C267.1,436.0 268.3,436.9 268.3,437.8 Z" fill="#8ad048"/>
<path d="M267.0,437.8 C266.8,438.6 266.3,439.4 265.7,440.1 C265.1,440.9 264.5,441.9 263.3,442.3 C262.0,442.8 259.9,442.7 258.3,442.8 C256.7,442.8 255.2,442.9 253.7,442.8 C252.2,442.7 250.4,442.5 249.2,442.1 C248.0,441.6 247.3,440.8 246.4,440.1 C245.6,439.4 244.3,438.6 244.2,437.8 C244.0,437.0 244.7,436.0 245.5,435.3 C246.3,434.6 247.7,433.9 249.0,433.4 C250.3,432.9 251.9,432.4 253.4,432.2 C255.0,432.0 256.9,432.0 258.6,432.2 C260.2,432.4 261.9,432.7 263.3,433.2 C264.7,433.7 266.2,434.5 266.8,435.2 C267.4,436.0 267.2,437.0 267.0,437.8 Z" fill="#e8c030"/>
<path d="M265.7,437.8 C265.8,438.5 266.5,439.4 265.8,440.0 C265.2,440.6 263.3,440.9 262.0,441.4 C260.8,441.8 259.8,442.3 258.3,442.6 C256.9,442.9 255.1,443.1 253.5,443.0 C251.9,442.9 250.0,442.6 248.8,442.1 C247.5,441.6 246.2,440.8 245.9,440.1 C245.5,439.4 246.4,438.5 246.6,437.8 C246.7,437.1 246.2,436.3 246.8,435.7 C247.3,435.1 248.8,434.8 249.9,434.2 C251.0,433.6 252.0,432.5 253.4,432.3 C254.7,432.2 256.7,433.0 258.2,433.3 C259.6,433.6 261.0,433.7 262.2,434.1 C263.4,434.5 264.6,435.1 265.2,435.7 C265.8,436.3 265.6,437.1 265.7,437.8 Z" fill="#f25414"/>
<path d="M283.7,487.4 C283.7,488.4 284.0,489.5 283.7,490.4 C283.4,491.3 282.7,492.1 282.1,492.6 C281.5,493.2 280.7,493.4 279.9,493.6 C279.2,493.8 278.3,494.0 277.6,493.8 C276.9,493.6 276.3,492.9 275.7,492.3 C275.1,491.7 274.4,491.1 274.1,490.3 C273.7,489.5 273.7,488.3 273.8,487.4 C273.8,486.5 274.1,485.5 274.4,484.7 C274.7,483.9 275.2,483.1 275.7,482.5 C276.3,481.8 276.9,481.2 277.6,480.9 C278.3,480.7 279.3,480.6 280.0,480.9 C280.7,481.1 281.4,481.7 282.0,482.3 C282.6,483.0 283.3,483.6 283.6,484.5 C283.9,485.3 283.7,486.4 283.7,487.4 Z" fill="#c8e890" fill-opacity="0.7"/>
<path d="M283.2,487.4 C283.2,488.2 282.9,489.1 282.6,489.8 C282.4,490.6 282.0,491.4 281.5,491.9 C281.1,492.4 280.4,492.8 279.8,493.1 C279.2,493.3 278.3,493.7 277.7,493.5 C277.1,493.3 276.6,492.4 276.1,491.8 C275.7,491.2 275.3,490.5 275.0,489.8 C274.7,489.1 274.3,488.3 274.3,487.4 C274.2,486.5 274.2,485.5 274.5,484.7 C274.7,483.9 275.3,483.1 275.8,482.5 C276.4,482.0 277.1,481.6 277.8,481.5 C278.4,481.4 279.1,481.8 279.7,482.0 C280.4,482.2 281.2,482.1 281.7,482.6 C282.3,483.1 282.7,484.0 283.0,484.8 C283.2,485.6 283.3,486.6 283.2,487.4 Z" fill="#8ad048"/>
<path d="M282.3,487.4 C282.4,488.1 282.4,489.0 282.2,489.6 C282.0,490.3 281.4,490.6 281.0,491.1 C280.6,491.6 280.2,492.5 279.7,492.7 C279.2,493.0 278.5,492.8 277.9,492.7 C277.4,492.5 276.8,492.2 276.3,491.7 C275.9,491.2 275.4,490.5 275.2,489.8 C275.0,489.0 275.2,488.2 275.2,487.4 C275.2,486.6 275.0,485.7 275.2,485.0 C275.4,484.4 276.1,483.9 276.5,483.5 C277.0,483.1 277.5,482.9 278.0,482.7 C278.5,482.5 279.1,482.3 279.6,482.4 C280.2,482.6 280.8,482.9 281.2,483.3 C281.6,483.8 281.9,484.6 282.1,485.2 C282.3,485.9 282.3,486.7 282.3,487.4 Z" fill="#e8c030"/>
<path d="M282.1,487.4 C282.0,488.1 282.0,488.9 281.8,489.4 C281.5,490.0 281.0,490.3 280.7,490.8 C280.3,491.2 280.0,491.9 279.5,492.0 C279.1,492.2 278.6,491.9 278.1,491.7 C277.6,491.6 277.0,491.6 276.7,491.2 C276.4,490.8 276.3,489.9 276.1,489.3 C275.8,488.7 275.4,488.0 275.4,487.4 C275.4,486.8 275.7,486.1 276.0,485.4 C276.2,484.8 276.4,484.2 276.8,483.8 C277.1,483.3 277.6,482.9 278.1,482.7 C278.5,482.6 279.1,482.7 279.5,482.9 C280.0,483.1 280.3,483.6 280.7,484.0 C281.1,484.4 281.8,484.6 282.0,485.2 C282.2,485.7 282.1,486.7 282.1,487.4 Z" fill="#f25414"/>
<path d="M253.7,518.4 C253.7,519.7 253.6,521.1 253.3,522.3 C253.0,523.5 252.4,524.8 251.8,525.6 C251.1,526.3 250.1,526.5 249.3,526.8 C248.4,527.0 247.6,527.1 246.7,526.9 C245.9,526.7 244.8,526.5 244.1,525.8 C243.4,525.0 242.8,523.7 242.4,522.5 C242.0,521.3 241.9,519.8 241.9,518.4 C241.9,517.0 242.0,515.5 242.3,514.3 C242.7,513.0 243.4,511.8 244.1,511.1 C244.9,510.3 245.8,510.0 246.7,509.7 C247.6,509.5 248.5,509.1 249.4,509.4 C250.2,509.7 251.0,510.6 251.7,511.4 C252.4,512.2 253.2,513.2 253.6,514.3 C253.9,515.5 253.8,517.1 253.7,518.4 Z" fill="#c8e890" fill-opacity="0.7"/>
<path d="M253.2,518.4 C253.1,519.6 252.8,520.7 252.5,521.9 C252.3,523.0 252.0,524.5 251.5,525.3 C250.9,526.1 250.0,526.5 249.2,526.8 C248.4,527.1 247.5,527.2 246.8,526.9 C246.0,526.6 245.3,525.8 244.7,525.0 C244.0,524.2 243.4,523.3 243.0,522.2 C242.7,521.1 242.7,519.6 242.7,518.4 C242.8,517.2 242.8,515.7 243.2,514.7 C243.5,513.7 244.3,513.0 244.9,512.2 C245.5,511.5 246.1,510.5 246.8,510.1 C247.5,509.7 248.5,509.6 249.2,509.8 C250.0,510.1 250.8,510.9 251.4,511.6 C252.0,512.4 252.7,513.5 253.0,514.6 C253.3,515.7 253.3,517.2 253.2,518.4 Z" fill="#8ad048"/>
<path d="M252.5,518.4 C252.6,519.5 252.7,521.0 252.4,521.9 C252.0,522.9 251.2,523.2 250.6,523.9 C250.1,524.7 249.7,526.1 249.1,526.3 C248.5,526.6 247.6,526.1 247.0,525.7 C246.4,525.3 245.9,524.6 245.4,523.9 C244.9,523.3 244.1,522.7 243.8,521.8 C243.5,520.9 243.5,519.5 243.5,518.4 C243.5,517.3 243.7,516.2 244.0,515.1 C244.2,514.1 244.5,512.7 245.0,512.1 C245.5,511.4 246.4,511.7 247.1,511.4 C247.7,511.2 248.4,510.6 249.0,510.8 C249.6,511.0 250.3,511.8 250.8,512.5 C251.3,513.2 251.8,514.1 252.1,515.1 C252.4,516.1 252.5,517.3 252.5,518.4 Z" fill="#e8c030"/>
<path d="M251.9,518.4 C251.9,519.4 251.4,520.3 251.2,521.2 C251.0,522.1 250.8,523.1 250.4,523.9 C250.1,524.7 249.5,525.7 248.9,525.8 C248.4,526.0 247.7,525.1 247.2,524.7 C246.7,524.3 246.2,523.8 245.9,523.2 C245.5,522.6 245.1,521.9 244.9,521.1 C244.6,520.3 244.3,519.4 244.1,518.4 C244.0,517.4 243.8,515.8 244.1,515.0 C244.4,514.2 245.3,514.2 245.8,513.5 C246.3,512.8 246.5,511.1 247.0,510.8 C247.5,510.4 248.3,511.1 248.9,511.5 C249.4,512.0 249.8,512.8 250.2,513.4 C250.6,514.1 251.2,514.6 251.4,515.4 C251.7,516.3 251.9,517.4 251.9,518.4 Z" fill="#f25414"/>
<path d="M346.1,474.6 C346.1,475.5 346.2,476.6 345.8,477.5 C345.4,478.3 344.6,479.2 343.9,479.7 C343.1,480.3 342.1,480.6 341.2,480.8 C340.3,480.9 339.3,480.9 338.4,480.8 C337.5,480.6 336.3,480.4 335.6,479.9 C334.8,479.4 334.1,478.4 333.8,477.5 C333.4,476.6 333.3,475.5 333.3,474.6 C333.4,473.7 333.6,472.7 334.0,471.8 C334.4,470.9 334.9,470.0 335.6,469.4 C336.3,468.7 337.3,468.0 338.3,467.9 C339.2,467.8 340.3,468.3 341.2,468.6 C342.1,468.9 343.0,469.2 343.7,469.7 C344.4,470.3 345.2,471.0 345.6,471.8 C346.0,472.6 346.0,473.7 346.1,474.6 Z" fill="#c8e890" fill-opacity="0.7"/>
<path d="M345.6,474.6 C345.5,475.4 345.1,476.3 344.7,477.0 C344.3,477.7 343.8,478.3 343.2,478.9 C342.6,479.4 341.8,479.8 341.0,480.0 C340.3,480.3 339.4,480.3 338.5,480.2 C337.7,480.0 336.7,479.8 336.1,479.3 C335.4,478.8 334.8,477.9 334.5,477.2 C334.2,476.4 334.3,475.4 334.4,474.6 C334.5,473.8 334.6,473.0 334.9,472.2 C335.2,471.5 335.6,470.7 336.2,470.1 C336.8,469.5 337.6,468.9 338.4,468.6 C339.3,468.4 340.3,468.4 341.2,468.6 C342.0,468.9 342.7,469.6 343.3,470.2 C344.0,470.7 344.9,471.2 345.3,471.9 C345.7,472.7 345.7,473.8 345.6,474.6 Z" fill="#8ad048"/>
<path d="M345.0,474.6 C345.0,475.3 344.5,476.0 344.1,476.7 C343.8,477.3 343.5,478.1 343.0,478.6 C342.4,479.0 341.6,479.1 340.9,479.2 C340.2,479.3 339.5,479.2 338.8,479.0 C338.1,478.9 337.2,478.9 336.7,478.5 C336.2,478.0 336.1,477.2 335.7,476.6 C335.4,475.9 334.9,475.3 334.8,474.6 C334.7,473.9 334.9,473.1 335.2,472.4 C335.5,471.7 335.9,470.9 336.5,470.5 C337.1,470.1 338.0,470.0 338.7,469.9 C339.4,469.8 340.1,470.1 340.8,470.2 C341.5,470.3 342.4,470.2 343.1,470.5 C343.7,470.9 344.1,471.7 344.5,472.3 C344.8,473.0 345.1,473.9 345.0,474.6 Z" fill="#e8c030"/>
<path d="M344.4,474.6 C344.4,475.2 343.9,475.9 343.6,476.4 C343.3,477.0 342.9,477.6 342.5,477.9 C342.0,478.3 341.3,478.4 340.7,478.5 C340.1,478.5 339.5,478.4 339.0,478.3 C338.4,478.2 337.9,477.9 337.4,477.6 C336.9,477.3 336.2,477.0 335.9,476.5 C335.7,476.0 335.9,475.2 335.9,474.6 C335.9,474.0 335.7,473.3 335.9,472.7 C336.2,472.2 336.7,471.7 337.2,471.4 C337.7,471.0 338.3,470.9 338.9,470.7 C339.5,470.4 340.3,470.0 340.8,470.2 C341.4,470.3 341.7,471.2 342.2,471.7 C342.6,472.1 343.1,472.3 343.5,472.8 C343.9,473.3 344.3,474.0 344.4,474.6 Z" fill="#f25414"/>
<path d="M396.9,486.2 C396.9,488.3 397.3,490.6 396.8,492.4 C396.4,494.1 395.1,495.6 394.0,496.7 C393.0,497.9 391.7,498.7 390.5,499.1 C389.3,499.4 388.0,499.2 386.7,498.8 C385.5,498.5 384.1,498.0 383.1,496.9 C382.1,495.7 381.3,493.8 380.9,492.0 C380.4,490.2 380.2,488.1 380.3,486.2 C380.3,484.3 380.7,482.4 381.2,480.7 C381.7,478.9 382.3,477.1 383.2,475.8 C384.2,474.5 385.4,473.4 386.6,472.9 C387.9,472.4 389.3,472.6 390.5,473.0 C391.8,473.4 393.2,474.0 394.3,475.1 C395.3,476.3 396.4,478.2 396.8,480.1 C397.3,481.9 396.9,484.1 396.9,486.2 Z" fill="#c8e890" fill-opacity="0.7"/>
<path d="M397.1,486.2 C397.2,488.1 396.7,490.3 396.1,492.0 C395.5,493.6 394.5,495.1 393.6,496.2 C392.6,497.3 391.5,498.3 390.4,498.7 C389.3,499.1 388.0,498.9 386.8,498.5 C385.7,498.1 384.5,497.3 383.7,496.1 C382.9,494.9 382.4,493.0 381.9,491.4 C381.3,489.8 380.3,488.0 380.3,486.2 C380.2,484.4 381.0,482.4 381.6,480.8 C382.3,479.3 383.1,478.0 383.9,476.9 C384.8,475.7 385.7,474.4 386.8,473.8 C387.9,473.2 389.3,472.9 390.4,473.3 C391.6,473.8 392.7,475.0 393.5,476.3 C394.4,477.5 395.1,479.1 395.7,480.8 C396.3,482.4 397.0,484.3 397.1,486.2 Z" fill="#8ad048"/>
<path d="M395.8,486.2 C395.8,487.8 395.1,489.6 394.5,491.0 C394.0,492.4 393.3,493.5 392.6,494.6 C391.9,495.8 391.1,497.4 390.2,497.9 C389.3,498.4 388.1,498.1 387.0,497.8 C386.0,497.5 384.7,497.1 383.9,496.0 C383.2,495.0 382.8,492.9 382.4,491.2 C381.9,489.6 381.2,487.8 381.2,486.2 C381.3,484.6 382.3,482.9 382.8,481.5 C383.4,480.1 383.9,478.9 384.6,477.8 C385.3,476.6 386.1,474.9 387.0,474.5 C387.9,474.1 389.1,474.7 390.1,475.3 C391.0,475.8 391.9,476.7 392.6,477.7 C393.4,478.7 394.0,480.0 394.5,481.4 C395.0,482.8 395.8,484.6 395.8,486.2 Z" fill="#e8c030"/>
<path d="M394.6,486.2 C394.5,487.8 394.3,489.3 394.0,490.8 C393.6,492.2 393.2,493.7 392.5,494.9 C391.9,496.1 391.0,497.6 390.1,497.9 C389.2,498.2 388.1,497.2 387.3,496.6 C386.4,495.9 385.8,495.1 385.0,494.1 C384.3,493.2 383.2,492.4 382.9,491.1 C382.6,489.7 383.1,487.8 383.1,486.2 C383.2,484.6 382.9,482.9 383.2,481.6 C383.5,480.2 384.2,478.9 384.9,478.0 C385.6,477.0 386.4,476.0 387.3,475.8 C388.1,475.5 389.0,476.3 389.8,476.6 C390.7,476.9 391.8,476.7 392.5,477.5 C393.3,478.3 394.0,479.8 394.4,481.3 C394.7,482.7 394.7,484.6 394.6,486.2 Z" fill="#f25414"/>
<path d="M92.2,473 C90.2,480 90.0,490 92.0,498 L94.2,497 C93.0,489 93.0,481 94.6,473.5 Z" fill="#b8d860" opacity="0.85"/>
<path d="M91.6,477.5 C90.7,482 90.6,489 91.8,494.5 L92.9,494 C92.3,488 92.3,483 93.2,478 Z" fill="#e8801c"/>
<ellipse cx="304.2" cy="462.6" rx="3.0" ry="6.8" transform="rotate(32 304.2 462.6)" fill="#b8e048"/>
<ellipse cx="302.6" cy="465.8" rx="1.5" ry="1.5" fill="#f07020"/>
<text x="151.6" y="475.9" font-size="10.5" font-weight="bold" fill="#111" text-anchor="start" textLength="22.2" lengthAdjust="spacingAndGlyphs" stroke="#111" stroke-width="0.25">lSTG</text>
<text x="246.2" y="457.1" font-size="10.5" font-weight="bold" fill="#111" text-anchor="start" textLength="22.7" lengthAdjust="spacingAndGlyphs" stroke="#111" stroke-width="0.25">rFPC</text>
<text x="226.3" y="504.2" font-size="10.5" font-weight="bold" fill="#111" text-anchor="start" textLength="26.4" lengthAdjust="spacingAndGlyphs" stroke="#111" stroke-width="0.25">rPrec</text>
<text x="322.0" y="462.7" font-size="10.5" font-weight="bold" fill="#111" text-anchor="start" textLength="20.0" lengthAdjust="spacingAndGlyphs" stroke="#111" stroke-width="0.25">rTPJ</text>
<rect x="73.2" y="467.2" width="5.8" height="33.2" fill="url(#pbar)"/>
<text x="58.9" y="463.6" font-size="9.6" font-weight="bold" fill="#111" text-anchor="start" textLength="31.6" lengthAdjust="spacingAndGlyphs" stroke="#111" stroke-width="0.25">P&lt;0.01</text>
<text x="58.0" y="512.4" font-size="9.6" font-weight="bold" fill="#111" text-anchor="start" textLength="32.1" lengthAdjust="spacingAndGlyphs" stroke="#111" stroke-width="0.25">P&lt;0.05</text>
<line x1="95.2" y1="583.9" x2="95.2" y2="657.4" stroke="#9a9a9a" stroke-width="1"/>
<line x1="92.2" y1="583.9" x2="95.2" y2="583.9" stroke="#9a9a9a" stroke-width="1"/>
<line x1="92.2" y1="657.4" x2="150.4" y2="657.4" stroke="#9a9a9a" stroke-width="1"/>
<line x1="95.2" y1="657.4" x2="95.2" y2="660.4" stroke="#9a9a9a" stroke-width="1"/>
<line x1="122.8" y1="657.4" x2="122.8" y2="660.4" stroke="#9a9a9a" stroke-width="1"/>
<line x1="150.4" y1="657.4" x2="150.4" y2="660.4" stroke="#9a9a9a" stroke-width="1"/>
<rect x="101.2" y="629.1" width="7.9" height="28.3" fill="#4f81bd"/>
<rect x="109.1" y="629.8" width="7.9" height="27.6" fill="#c0504d"/>
<rect x="128.8" y="625.8" width="7.9" height="31.6" fill="#4f81bd"/>
<rect x="136.7" y="633.0" width="7.9" height="24.4" fill="#c0504d"/>
<path d="M105.2,619.9 V638.0 M102.6,619.9 H107.8 M102.6,638.0 H107.8" stroke="#1a1a1a" stroke-width="1" fill="none"/>
<path d="M113.1,618.2 V641.0 M110.5,618.2 H115.7 M110.5,641.0 H115.7" stroke="#1a1a1a" stroke-width="1" fill="none"/>
<path d="M132.8,616.6 V634.1 M130.2,616.6 H135.3 M130.2,634.1 H135.3" stroke="#1a1a1a" stroke-width="1" fill="none"/>
<path d="M140.6,623.2 V641.3 M138.0,623.2 H143.2 M138.0,641.3 H143.2" stroke="#1a1a1a" stroke-width="1" fill="none"/>
<text x="101.9" y="672.2" font-size="10.4" font-weight="bold" fill="#111" text-anchor="start" textLength="14.8" lengthAdjust="spacingAndGlyphs" stroke="#111" stroke-width="0.25">Hits</text>
<text x="131.0" y="672.2" font-size="10.4" font-weight="bold" fill="#111" text-anchor="start" textLength="10.6" lengthAdjust="spacingAndGlyphs" stroke="#111" stroke-width="0.25">CR</text>
<text x="110.4" y="558.2" font-size="10.8" font-weight="bold" fill="#111" text-anchor="start" textLength="20.1" lengthAdjust="spacingAndGlyphs" stroke="#111" stroke-width="0.25">lSTG</text>
<text x="98.9" y="572.1" font-size="10.8" fill="#111" stroke="#111" stroke-width="0.2" textLength="43.4" lengthAdjust="spacingAndGlyphs">η<tspan font-size="7.4" dy="2.6">p</tspan><tspan font-size="7.4" dy="-6.6">2</tspan><tspan dy="4.0"> = 0.37</tspan></text>
<line x1="177.5" y1="583.9" x2="177.5" y2="657.4" stroke="#9a9a9a" stroke-width="1"/>
<line x1="174.5" y1="583.9" x2="177.5" y2="583.9" stroke="#9a9a9a" stroke-width="1"/>
<line x1="174.5" y1="657.4" x2="232.7" y2="657.4" stroke="#9a9a9a" stroke-width="1"/>
<line x1="177.5" y1="657.4" x2="177.5" y2="660.4" stroke="#9a9a9a" stroke-width="1"/>
<line x1="205.1" y1="657.4" x2="205.1" y2="660.4" stroke="#9a9a9a" stroke-width="1"/>
<line x1="232.7" y1="657.4" x2="232.7" y2="660.4" stroke="#9a9a9a" stroke-width="1"/>
<rect x="183.5" y="637.7" width="7.9" height="19.7" fill="#4f81bd"/>
<rect x="191.4" y="639.8" width="7.9" height="17.6" fill="#c0504d"/>
<rect x="211.1" y="635.7" width="7.9" height="21.7" fill="#4f81bd"/>
<rect x="219.0" y="643.9" width="7.9" height="13.5" fill="#c0504d"/>
<path d="M187.4,629.9 V645.3 M184.8,629.9 H190.0 M184.8,645.3 H190.0" stroke="#1a1a1a" stroke-width="1" fill="none"/>
<path d="M195.3,631.2 V648.4 M192.8,631.2 H197.9 M192.8,648.4 H197.9" stroke="#1a1a1a" stroke-width="1" fill="none"/>
<path d="M215.0,627.0 V643.9 M212.4,627.0 H217.6 M212.4,643.9 H217.6" stroke="#1a1a1a" stroke-width="1" fill="none"/>
<path d="M222.9,638.4 V649.5 M220.3,638.4 H225.5 M220.3,649.5 H225.5" stroke="#1a1a1a" stroke-width="1" fill="none"/>
<text x="184.2" y="672.2" font-size="10.4" font-weight="bold" fill="#111" text-anchor="start" textLength="14.8" lengthAdjust="spacingAndGlyphs" stroke="#111" stroke-width="0.25">Hits</text>
<text x="213.3" y="672.2" font-size="10.4" font-weight="bold" fill="#111" text-anchor="start" textLength="10.6" lengthAdjust="spacingAndGlyphs" stroke="#111" stroke-width="0.25">CR</text>
<text x="192.9" y="556.5" font-size="10.8" font-weight="bold" fill="#111" text-anchor="start" textLength="23.1" lengthAdjust="spacingAndGlyphs" stroke="#111" stroke-width="0.25">rPrec</text>
<text x="182.6" y="570.9" font-size="10.8" fill="#111" stroke="#111" stroke-width="0.2" textLength="43.4" lengthAdjust="spacingAndGlyphs">η<tspan font-size="7.4" dy="2.6">p</tspan><tspan font-size="7.4" dy="-6.6">2</tspan><tspan dy="4.0"> = 0.18</tspan></text>
<line x1="259.9" y1="583.9" x2="259.9" y2="657.4" stroke="#9a9a9a" stroke-width="1"/>
<line x1="256.9" y1="583.9" x2="259.9" y2="583.9" stroke="#9a9a9a" stroke-width="1"/>
<line x1="256.9" y1="657.4" x2="315.1" y2="657.4" stroke="#9a9a9a" stroke-width="1"/>
<line x1="259.9" y1="657.4" x2="259.9" y2="660.4" stroke="#9a9a9a" stroke-width="1"/>
<line x1="287.5" y1="657.4" x2="287.5" y2="660.4" stroke="#9a9a9a" stroke-width="1"/>
<line x1="315.1" y1="657.4" x2="315.1" y2="660.4" stroke="#9a9a9a" stroke-width="1"/>
<rect x="265.9" y="606.3" width="7.9" height="51.1" fill="#4f81bd"/>
<rect x="273.8" y="619.8" width="7.9" height="37.6" fill="#c0504d"/>
<rect x="293.5" y="615.1" width="7.9" height="42.3" fill="#4f81bd"/>
<rect x="301.4" y="613.7" width="7.9" height="43.7" fill="#c0504d"/>
<path d="M269.8,585.3 V627.4 M267.2,585.3 H272.4 M267.2,627.4 H272.4" stroke="#1a1a1a" stroke-width="1" fill="none"/>
<path d="M277.7,604.4 V635.3 M275.1,604.4 H280.3 M275.1,635.3 H280.3" stroke="#1a1a1a" stroke-width="1" fill="none"/>
<path d="M297.4,598.2 V632.2 M294.8,598.2 H300.1 M294.8,632.2 H300.1" stroke="#1a1a1a" stroke-width="1" fill="none"/>
<path d="M305.3,598.2 V629.5 M302.7,598.2 H307.9 M302.7,629.5 H307.9" stroke="#1a1a1a" stroke-width="1" fill="none"/>
<text x="266.6" y="672.2" font-size="10.4" font-weight="bold" fill="#111" text-anchor="start" textLength="14.8" lengthAdjust="spacingAndGlyphs" stroke="#111" stroke-width="0.25">Hits</text>
<text x="295.7" y="672.2" font-size="10.4" font-weight="bold" fill="#111" text-anchor="start" textLength="10.6" lengthAdjust="spacingAndGlyphs" stroke="#111" stroke-width="0.25">CR</text>
<text x="278.8" y="552.8" font-size="10.8" font-weight="bold" fill="#111" text-anchor="start" textLength="21.2" lengthAdjust="spacingAndGlyphs" stroke="#111" stroke-width="0.25">rFPC</text>
<text x="267.5" y="566.7" font-size="10.8" fill="#111" stroke="#111" stroke-width="0.2" textLength="43.4" lengthAdjust="spacingAndGlyphs">η<tspan font-size="7.4" dy="2.6">p</tspan><tspan font-size="7.4" dy="-6.6">2</tspan><tspan dy="4.0"> = 0.19</tspan></text>
<line x1="343.6" y1="583.9" x2="343.6" y2="657.4" stroke="#9a9a9a" stroke-width="1"/>
<line x1="340.6" y1="583.9" x2="343.6" y2="583.9" stroke="#9a9a9a" stroke-width="1"/>
<line x1="340.6" y1="657.4" x2="398.8" y2="657.4" stroke="#9a9a9a" stroke-width="1"/>
<line x1="343.6" y1="657.4" x2="343.6" y2="660.4" stroke="#9a9a9a" stroke-width="1"/>
<line x1="371.2" y1="657.4" x2="371.2" y2="660.4" stroke="#9a9a9a" stroke-width="1"/>
<line x1="398.8" y1="657.4" x2="398.8" y2="660.4" stroke="#9a9a9a" stroke-width="1"/>
<rect x="349.6" y="626.0" width="7.9" height="31.4" fill="#4f81bd"/>
<rect x="357.5" y="627.0" width="7.9" height="30.4" fill="#c0504d"/>
<rect x="377.2" y="613.5" width="7.9" height="43.9" fill="#4f81bd"/>
<rect x="385.1" y="627.4" width="7.9" height="30.0" fill="#c0504d"/>
<path d="M353.6,615.5 V636.1 M350.9,615.5 H356.2 M350.9,636.1 H356.2" stroke="#1a1a1a" stroke-width="1" fill="none"/>
<path d="M361.4,612.4 V641.4 M358.8,612.4 H364.1 M358.8,641.4 H364.1" stroke="#1a1a1a" stroke-width="1" fill="none"/>
<path d="M381.2,597.6 V629.5 M378.6,597.6 H383.8 M378.6,629.5 H383.8" stroke="#1a1a1a" stroke-width="1" fill="none"/>
<path d="M389.1,613.0 V640.8 M386.4,613.0 H391.7 M386.4,640.8 H391.7" stroke="#1a1a1a" stroke-width="1" fill="none"/>
<text x="350.3" y="672.2" font-size="10.4" font-weight="bold" fill="#111" text-anchor="start" textLength="14.8" lengthAdjust="spacingAndGlyphs" stroke="#111" stroke-width="0.25">Hits</text>
<text x="379.4" y="672.2" font-size="10.4" font-weight="bold" fill="#111" text-anchor="start" textLength="10.6" lengthAdjust="spacingAndGlyphs" stroke="#111" stroke-width="0.25">CR</text>
<text x="361.7" y="554.4" font-size="10.8" font-weight="bold" fill="#111" text-anchor="start" textLength="18.6" lengthAdjust="spacingAndGlyphs" stroke="#111" stroke-width="0.25">rTPJ</text>
<text x="348.4" y="567.8" font-size="10.8" fill="#111" stroke="#111" stroke-width="0.2" textLength="43.4" lengthAdjust="spacingAndGlyphs">η<tspan font-size="7.4" dy="2.6">p</tspan><tspan font-size="7.4" dy="-6.6">2</tspan><tspan dy="4.0"> = 0.23</tspan></text>
<text x="60.3" y="586.8" font-size="8.8" font-weight="bold" fill="#111" text-anchor="start" textLength="26.0" lengthAdjust="spacingAndGlyphs" stroke="#111" stroke-width="0.25">0.0025</text>
<text x="86.8" y="660.2" font-size="9.8" font-weight="bold" fill="#111" text-anchor="end" stroke="#111" stroke-width="0.25">0</text>
<text transform="translate(74.6,642.8) rotate(-90)" font-size="9.2" font-weight="bold" fill="#111" stroke="#111" stroke-width="0.2" textLength="34.9" lengthAdjust="spacingAndGlyphs">µA/mm3</text>
<rect x="389.1" y="581.9" width="5.7" height="4.8" fill="#4f81bd"/>
<rect x="389.1" y="592.0" width="5.7" height="4.7" fill="#c0504d"/>
<text x="396.7" y="586.8" font-size="8.6" font-weight="bold" fill="#111" text-anchor="start" textLength="6.6" lengthAdjust="spacingAndGlyphs" stroke="#111" stroke-width="0.25">SI</text>
<text x="396.7" y="596.8" font-size="8.6" font-weight="bold" fill="#111" text-anchor="start" textLength="4.6" lengthAdjust="spacingAndGlyphs" stroke="#111" stroke-width="0.25">II</text>
</svg></body></html>
